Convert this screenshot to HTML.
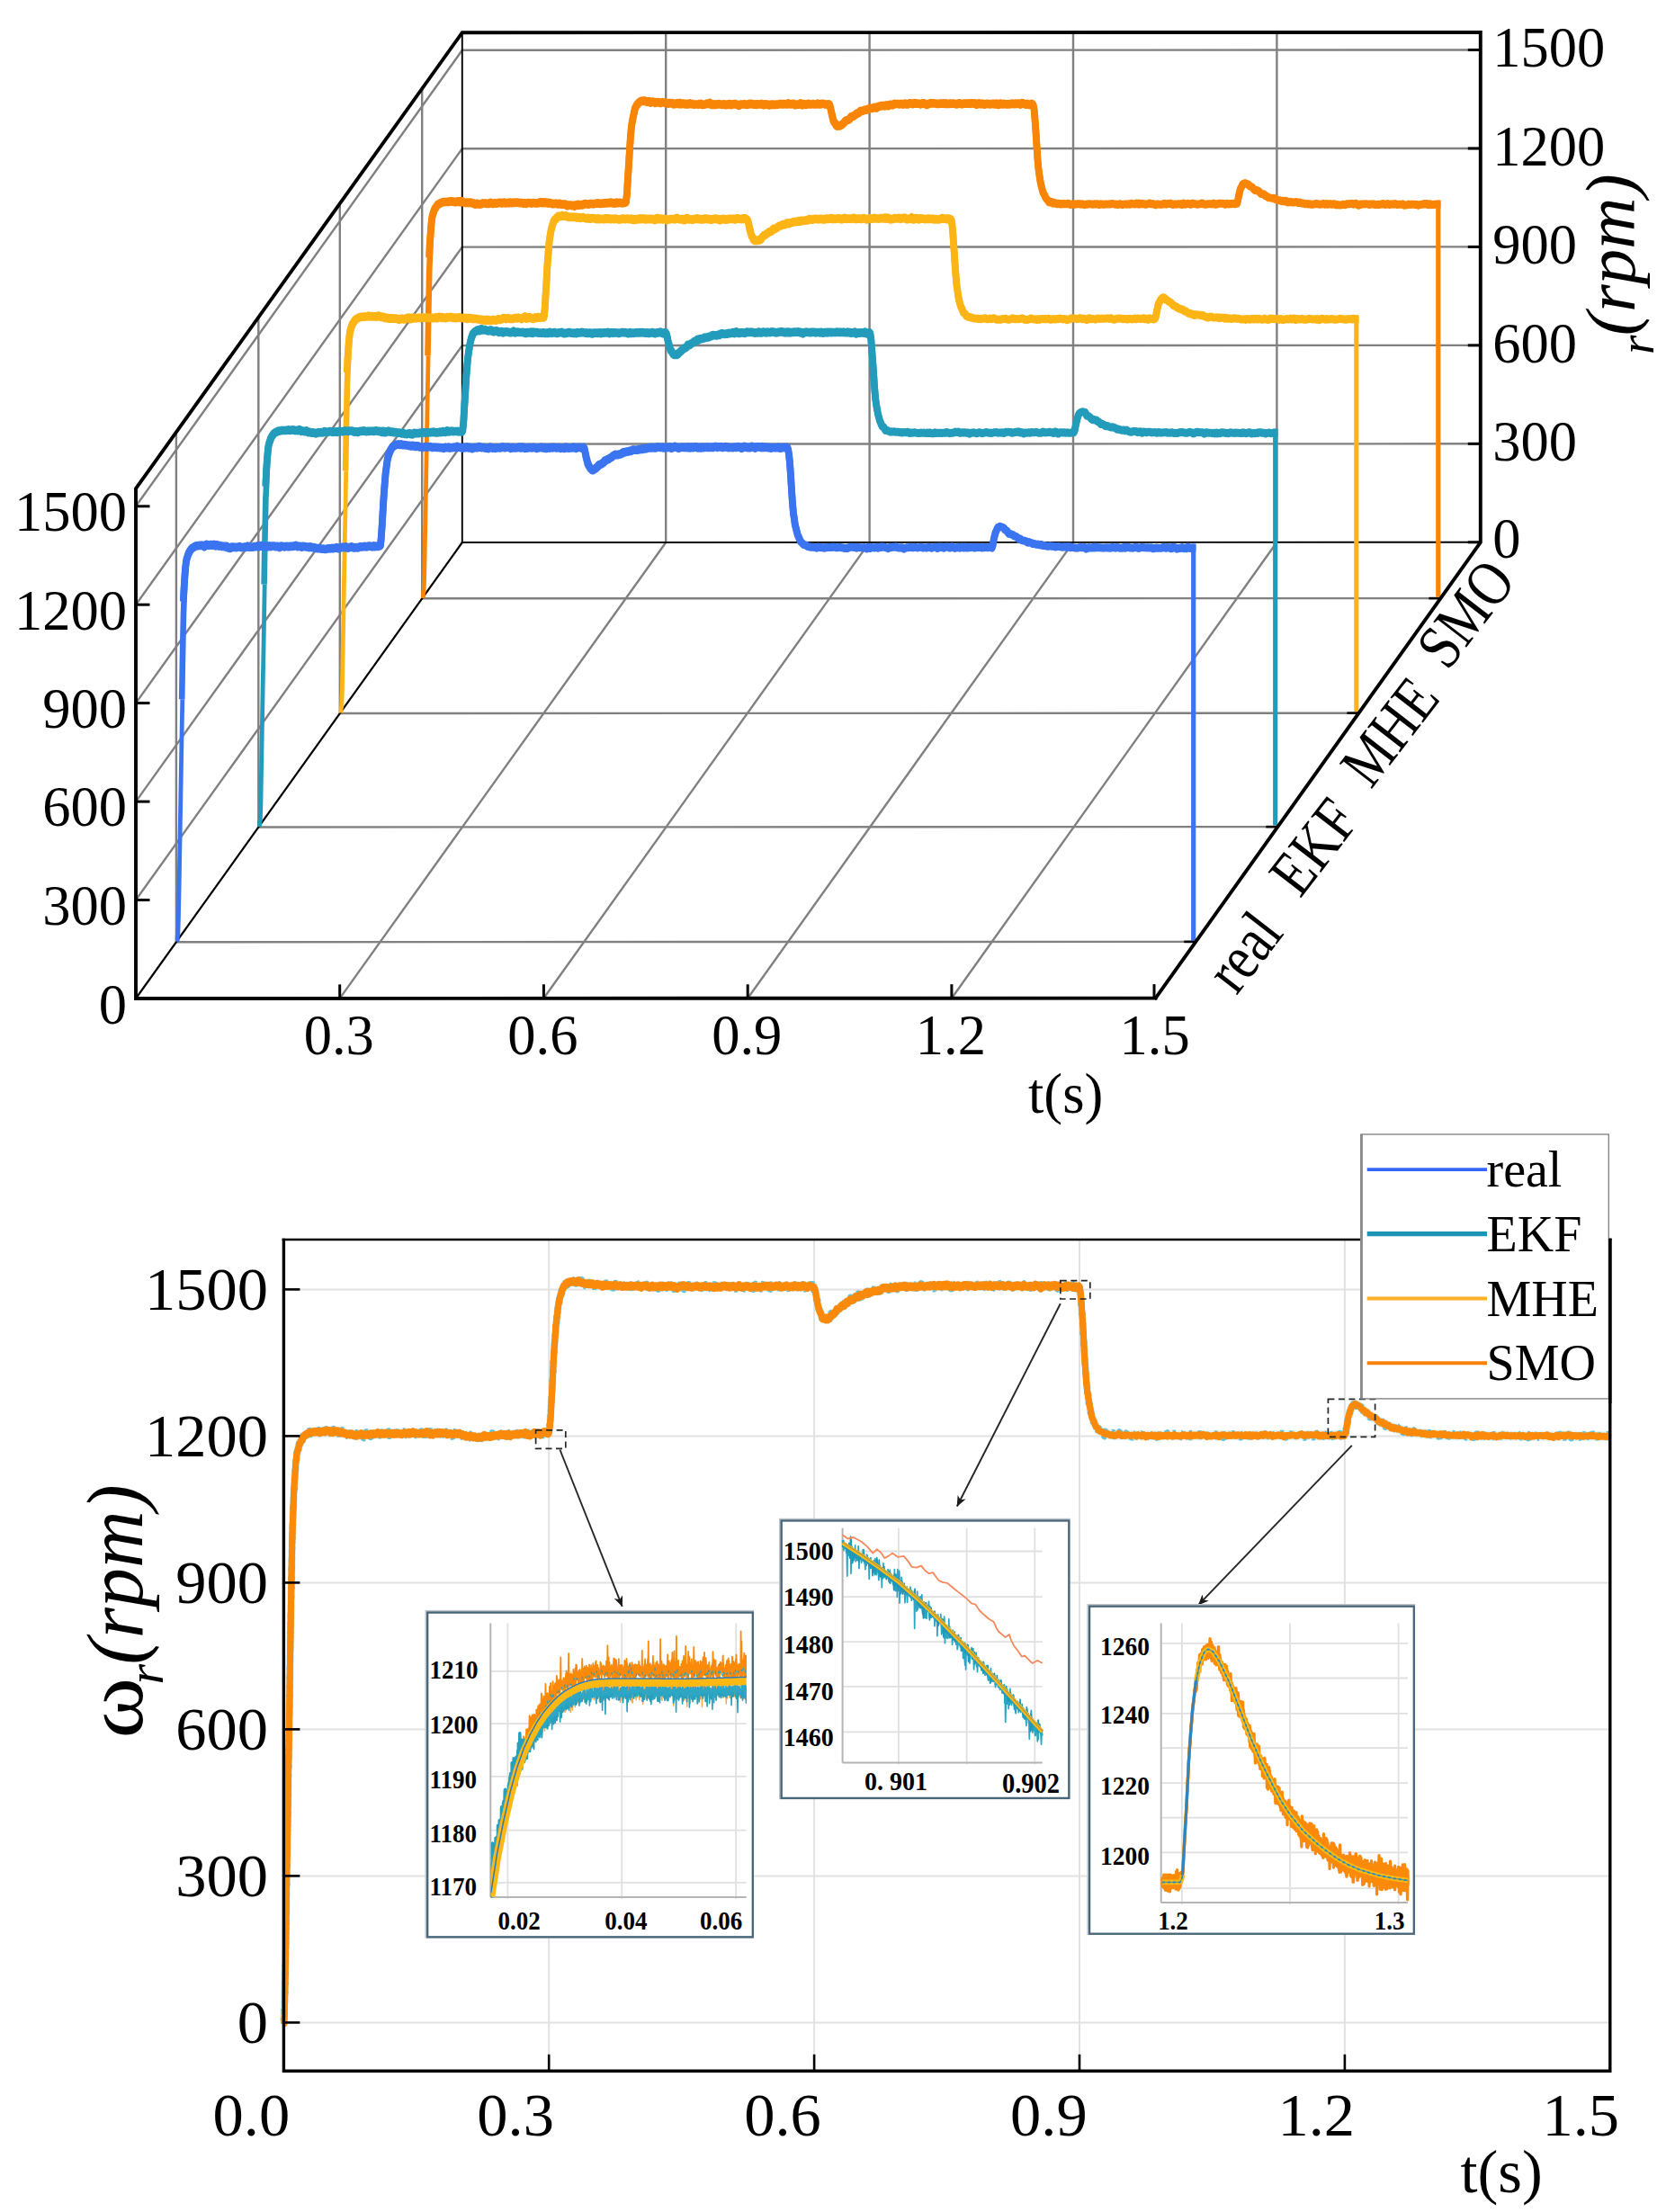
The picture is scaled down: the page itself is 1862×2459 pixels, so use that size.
<!DOCTYPE html>
<html lang="en">
<head>
<meta charset="utf-8">
<title>Speed estimation comparison: real, EKF, MHE, SMO</title>
<style>
html,body{margin:0;padding:0;background:#fff;}
body{width:1862px;height:2459px;overflow:hidden;}
svg{display:block;}
text{white-space:pre;}
</style>
</head>
<body>
<svg width="1862" height="2459" viewBox="0 0 1862 2459" font-family="'Liberation Serif', 'Times New Roman', serif" fill="#000" role="img" aria-label="Rotor speed: real, EKF, MHE and SMO estimates">
<rect width="1862" height="2459" fill="#fff"/>
<g id="top3d" stroke-linecap="butt">
<line x1="513.8" y1="493.6" x2="1645.8" y2="493.3" stroke="#808080" stroke-width="2.4" />
<line x1="513.8" y1="384.1" x2="1645.8" y2="383.9" stroke="#808080" stroke-width="2.4" />
<line x1="513.8" y1="274.6" x2="1645.8" y2="274.4" stroke="#808080" stroke-width="2.4" />
<line x1="513.8" y1="165.2" x2="1645.8" y2="165" stroke="#808080" stroke-width="2.4" />
<line x1="513.8" y1="55.8" x2="1645.8" y2="55.5" stroke="#808080" stroke-width="2.4" />
<line x1="740.2" y1="603" x2="740.2" y2="36.2" stroke="#808080" stroke-width="2.4" />
<line x1="966.6" y1="602.9" x2="966.6" y2="36.2" stroke="#808080" stroke-width="2.4" />
<line x1="1193" y1="602.9" x2="1193" y2="36.1" stroke="#808080" stroke-width="2.4" />
<line x1="1419.4" y1="602.8" x2="1419.4" y2="36.1" stroke="#808080" stroke-width="2.4" />
<line x1="151" y1="1000.5" x2="513.8" y2="493.6" stroke="#808080" stroke-width="2.4" />
<line x1="151" y1="891.1" x2="513.8" y2="384.1" stroke="#808080" stroke-width="2.4" />
<line x1="151" y1="781.6" x2="513.8" y2="274.6" stroke="#808080" stroke-width="2.4" />
<line x1="151" y1="672.2" x2="513.8" y2="165.2" stroke="#808080" stroke-width="2.4" />
<line x1="151" y1="562.8" x2="513.8" y2="55.8" stroke="#808080" stroke-width="2.4" />
<line x1="195.9" y1="1047.2" x2="195.9" y2="480.5" stroke="#808080" stroke-width="2.4" />
<line x1="287.3" y1="919.5" x2="287.3" y2="352.7" stroke="#808080" stroke-width="2.4" />
<line x1="377.8" y1="793" x2="377.8" y2="226.3" stroke="#808080" stroke-width="2.4" />
<line x1="469.2" y1="665.3" x2="469.2" y2="98.5" stroke="#808080" stroke-width="2.4" />
<line x1="195.9" y1="1047.2" x2="1329.3" y2="1046.9" stroke="#808080" stroke-width="2.4" />
<line x1="287.3" y1="919.5" x2="1420.3" y2="919.1" stroke="#808080" stroke-width="2.4" />
<line x1="377.8" y1="793" x2="1510.4" y2="792.7" stroke="#808080" stroke-width="2.4" />
<line x1="469.2" y1="665.3" x2="1601.4" y2="665.1" stroke="#808080" stroke-width="2.4" />
<line x1="377.7" y1="1109.9" x2="740.2" y2="603" stroke="#808080" stroke-width="2.4" />
<line x1="604.4" y1="1109.8" x2="966.6" y2="602.9" stroke="#808080" stroke-width="2.4" />
<line x1="831.2" y1="1109.8" x2="1193" y2="602.9" stroke="#808080" stroke-width="2.4" />
<line x1="1057.9" y1="1109.7" x2="1419.4" y2="602.8" stroke="#808080" stroke-width="2.4" />
<line x1="151" y1="1110" x2="513.8" y2="603" stroke="#000" stroke-width="2.2" />
<line x1="513.8" y1="603" x2="1645.8" y2="602.8" stroke="#000" stroke-width="1.9" />
<line x1="513.8" y1="603" x2="513.8" y2="36.2" stroke="#000" stroke-width="1.9" />
</g>
<g id="curves3d" stroke-linejoin="round" stroke-linecap="butt" fill="none">
<polyline points="470.5,664.9 470.5,658.9 471.1,658.4 471.7,638.7 472.4,604.3 473,570 473.6,535.6 474.2,501.2 474.8,467 475.4,431.8 476.1,395.4" fill="none" stroke="#f98506" stroke-width="4.8" />
<polyline points="475.5,395.4 476.1,359.2 476.7,327.7 477.3,299.5 477.9,285.6" fill="none" stroke="#f98506" stroke-width="6.6" />
<polyline points="477.2,284.7 477.8,270.9 478.5,261 479.1,252.9 479.7,246.1 480.3,241.2 480.9,238.2 481.5,236.3 482.2,234.3 482.8,232.5 483.4,231.3 484,230.2 484.6,229.5 485.2,228.6 485.8,227.8 486.5,226.8 487.1,226.3 487.7,226 488.3,225.6 488.9,225.3 489.5,225 490.2,224.6 490.8,224.3 491.4,224.1 492,223.9 492.6,223.7 493.2,223.7 493.9,223.7 494.5,223.6 495.1,223.5 495.7,223.5 496.3,223.6 496.9,223.6 497.6,223.5 498.2,223.2 498.8,223.2 499.4,223.4 500.4,222.9 501.3,222.7 502.3,223.2 503.2,223.2 504.2,223.2 505.2,223.4 506.1,223.7 507.1,223.5 508,223.1 509,222.8 510,222.9 510.9,223.8 511.9,223.7 512.8,222.7 513.8,222.9 514.7,223.9 515.7,224.2 516.7,224.4 517.6,224.3 518.6,224.5 519.5,224.1 520.5,224 521.5,224.6 522.4,224.2 523.4,224 524.3,224.6 525.3,225.1 526.3,225 527.2,225.3 528.2,226.2 529.1,226.1 530.1,225.4 531.1,225.6 532,226.1 533,226.2 533.9,226.1 534.9,226 535.8,225.4 536.8,224.9 537.8,225 538.7,225.2 539.7,225.2 540.6,225.3 541.6,225.5 542.6,225.6 543.5,225.6 544.5,224.6 545.4,224.3 546.4,225 547.4,225.4 548.3,225.5 549.3,225.2 550.2,224.8 551.2,225.3 552.2,225.2 553.1,225 554.1,224.6 555,224.4 556,224.3 556.9,224.4 557.9,225 558.9,224.7 559.8,224.3 560.8,224.2 561.7,224.8 562.7,224.9 563.7,224.5 564.6,224.7 565.6,224.8 566.5,224.2 567.5,224.1 568.5,224.8 569.4,224.5 570.4,224.2 571.3,224.4 572.3,224.3 573.3,224.1 574.2,224.2 575.2,224.1 576.1,224.1 577.1,224.6 578,224.7 579,224.7 580,224.5 580.9,224.7 581.9,225.3 582.8,225 583.8,224.8 584.8,225.4 585.7,224.9 586.7,224.6 587.6,224.5 588.6,224.5 589.6,224.9 590.5,225.1 591.5,225 592.4,224.7 593.4,224.8 594.4,224.8 595.3,225 596.3,224.9 597.2,225 598.2,225 599.2,224.3 600.1,223.9 601.1,223.6 602,224.4 603,224.7 603.9,223.9 604.9,223.9 605.9,224.6 606.8,224.8 607.8,224.1 608.7,224.7 609.7,225.2 610.7,224.5 611.6,224.9 612.6,225.1 613.5,225.3 614.5,225.8 615.5,225.8 616.4,225.5 617.4,225.4 618.3,225.2 619.3,225.6 620.3,226 621.2,225.5 622.2,225.3 623.1,226.1 624.1,226.2 625,226.1 626,226.3 627,226.2 627.9,226.1 628.9,226.3 629.8,227.3 630.8,227.8 631.8,227.2 632.7,227 633.7,227 634.6,227 635.6,227.7 636.6,227.5 637.5,227.4 638.5,228.2 639.4,227.2 640.4,227.1 641.4,227.4 642.3,226.4 643.3,226.5 644.2,227.1 645.2,226.7 646.1,226.6 647.1,227.1 648.1,226.7 649,226 650,225.7 650.9,225.6 651.9,225.8 652.9,226 653.8,226.2 654.8,226.2 655.7,225.7 656.7,225.6 657.7,225.6 658.6,225.6 659.6,225.9 660.5,225.7 661.5,225.5 662.5,225.3 663.4,225.2 664.4,224.8 665.3,224.9 666.3,225.4 667.2,225.6 668.2,225.5 669.2,225 670.1,225.1 671.1,225.3 672,224.8 673,224.8 674,225.1 674.9,224.8 675.9,224.6 676.8,224.7 677.8,224.3 678.8,224.1 679.7,224.5 680.7,225 681.6,224.8 682.6,224.6 683.6,225.2 684.5,224.8 685.5,224.2 686.4,224.3 687.4,224.7 688.3,224.5 689.3,224.3 690.3,224.7 691.2,224.9 692.2,224.9 693.1,224.5 694.1,224.5 695.1,224.3 696,223.5 697,213.5 697.9,198.6 698.9,183 699.9,166.6 700.8,153 701.8,141.5 702.7,134.9 703.7,129.6 704.7,125.5 705.6,120.6 706.6,118.3 707.5,116.6 708.5,115.2 709.4,114.2 710.4,113 711.4,112.3 712.3,111.7 713.3,111.2 714.2,111.5 715.2,111.3 716.2,110.9 717.1,111.3 718.1,111.8 719,112.4 720,112.1 721,111.7 721.9,112.7 722.9,113.2 723.8,112.7 724.8,112.1 725.8,112.2 726.7,112.4 727.7,112.8 728.6,113.5 729.6,113 730.5,112.5 731.5,112.9 732.5,112.7 733.4,113.1 734.4,113.6 735.3,113.1 736.3,112.6 737.3,112.9 738.2,113.1 739.2,113.3 740.1,113.8 741.1,113.7 742.1,114.3 743,114.2 744,113.5 744.9,113.7 745.9,114 746.9,113.6 747.8,114 748.8,114.9 749.7,114.7 750.7,114.7 751.6,114.1 752.6,113.7 753.6,114.4 754.5,114.7 755.5,113.6 756.4,113.7 757.4,114.8 758.4,114.5 759.3,114.1 760.3,114.2 761.2,114.6 762.2,115.1 763.2,114.7 764.1,114.4 765.1,115 766,114.7 767,114 768,114.4 768.9,114.8 769.9,114.7 770.8,114.8 771.8,115.3 772.7,115 773.7,115 774.7,115 775.6,115 776.6,115.2 777.5,114.8 778.5,114.3 779.5,114.5 780.4,115.5 781.4,115.4 782.3,115.3 783.3,115.3 784.3,114.9 785.2,114.5 786.2,114.1 787.1,114.6 788.1,114.3 789.1,113.5 790,114.3 791,115.6 791.9,115.6 792.9,114.9 793.8,115.5 794.8,115.6 795.8,114.9 796.7,115.2 797.7,115 798.6,114.5 799.6,114.8 800.6,115 801.5,115.1 802.5,115.4 803.4,115.2 804.4,114.8 805.4,115 806.3,115.8 807.3,115.5 808.2,115.3 809.2,115.5 810.2,114.5 811.1,114.5 812.1,115.4 813,115.8 814,115.1 814.9,114.7 815.9,114.9 816.9,114.6 817.8,114.8 818.8,115.1 819.7,115.4 820.7,116.2 821.7,116.4 822.6,115.5 823.6,115.1 824.5,115 825.5,115 826.5,115 827.4,114.8 828.4,115.1 829.3,115.4 830.3,115.6 831.3,115.2 832.2,114.7 833.2,114.9 834.1,114.4 835.1,114.3 836,114.7 837,114.8 838,115.2 838.9,115.3 839.9,114.9 840.8,115.5 841.8,115.1 842.8,114.8 843.7,115 844.7,115 845.6,114.9 846.6,114.4 847.6,114.9 848.5,115.7 849.5,115.5 850.4,114.8 851.4,114.9 852.4,115.3 853.3,115 854.3,115.7 855.2,116 856.2,115.6 857.1,115.3 858.1,115.1 859.1,115.5 860,115.4 861,115.5 861.9,115.4 862.9,115.1 863.9,115.3 864.8,115.3 865.8,114.9 866.7,114.7 867.7,114.8 868.7,114.6 869.6,115 870.6,115 871.5,114.6 872.5,114.7 873.5,114.9 874.4,115.1 875.4,114.8 876.3,114 877.3,114.5 878.2,115 879.2,114.8 880.2,114.7 881.1,114.5 882.1,114.4 883,115.4 884,115.8 885,115.3 885.9,115.2 886.9,115.1 887.8,115.2 888.8,114.8 889.8,114.1 890.7,115.1 891.7,115.8 892.6,114.8 893.6,114.7 894.6,114.9 895.5,115.3 896.5,115.5 897.4,114.9 898.4,114.3 899.3,114.5 900.3,115.1 901.3,115.1 902.2,114.9 903.2,114.7 904.1,114.6 905.1,115 906.1,115 907,115.1 908,114.9 908.9,114.2 909.9,114.8 910.9,115.1 911.8,115 912.8,114.8 913.7,114.3 914.7,114.6 915.7,114.6 916.6,114.7 917.6,115.1 918.5,115.2 919.5,115 920.4,115 921.4,114.9 922.4,116.2 923.3,119.5 924.3,124.2 925.2,128.2 926.2,132.5 927.2,134.7 928.1,135.8 929.1,137.6 930,138.8 931,139.2 932,138.7 932.9,139 933.9,138.9 934.8,138.2 935.8,137.8 936.8,136.7 937.7,136 938.7,135.2 939.6,133.7 940.6,132.9 941.5,132.7 942.5,132.6 943.5,132 944.4,131.4 945.4,129.9 946.3,128.7 947.3,128.9 948.3,128.5 949.2,127.8 950.2,127 951.1,126.6 952.1,125.5 953.1,124.8 954,125.1 955,124.2 955.9,123.1 956.9,122.3 957.9,122.4 958.8,122.4 959.8,121.9 960.7,121.5 961.7,121.1 962.6,121.2 963.6,121.3 964.6,120.6 965.5,120.3 966.5,119.7 967.4,119.2 968.4,119.6 969.4,119.5 970.3,119.2 971.3,118.9 972.2,118.3 973.2,118.4 974.2,119.1 975.1,118.3 976.1,117.6 977,117.5 978,117.1 979,117 979.9,116.6 980.9,116.7 981.8,116.8 982.8,116.6 983.7,116.9 984.7,116.4 985.7,115.8 986.6,116.4 987.6,116.8 988.5,116 989.5,115.3 990.5,115.5 991.4,115.7 992.4,115.9 993.3,115 994.3,114.3 995.3,114.7 996.2,114.5 997.2,114.5 998.1,114.5 999.1,114.9 1000.1,114.8 1001,114.6 1002,114.5 1002.9,114.7 1003.9,115.2 1004.8,114.8 1005.8,114.2 1006.8,114.3 1007.7,114.9 1008.7,115 1009.6,114.9 1010.6,114.3 1011.6,113.8 1012.5,114 1013.5,114.1 1014.4,114.7 1015.4,114.4 1016.4,113.7 1017.3,113.9 1018.3,114.3 1019.2,114.2 1020.2,114.2 1021.2,114.3 1022.1,114.4 1023.1,114.9 1024,114.6 1025,114.2 1025.9,113.8 1026.9,113.9 1027.9,114.5 1028.8,114.7 1029.8,115.3 1030.7,115.5 1031.7,114.8 1032.7,114.6 1033.6,114.4 1034.6,113.7 1035.5,114.1 1036.5,114 1037.5,113.8 1038.4,114 1039.4,114.1 1040.3,114.2 1041.3,114.4 1042.3,114.5 1043.2,114.3 1044.2,114.5 1045.1,114.2 1046.1,114.1 1047,114.3 1048,114.2 1049,113.9 1049.9,114.5 1050.9,114.6 1051.8,114 1052.8,114.4 1053.8,114.4 1054.7,114.6 1055.7,114.3 1056.6,114 1057.6,114.4 1058.6,114 1059.5,114 1060.5,114.2 1061.4,114.4 1062.4,114.8 1063.4,114.9 1064.3,114.8 1065.3,114 1066.2,113.9 1067.2,114 1068.1,114.3 1069.1,114.8 1070.1,114.7 1071,114.2 1072,114 1072.9,114.2 1073.9,114.1 1074.9,114.1 1075.8,114.3 1076.8,113.9 1077.7,114.1 1078.7,114.4 1079.7,113.8 1080.6,113.8 1081.6,114.1 1082.5,114.3 1083.5,113.9 1084.5,114.4 1085.4,115.3 1086.4,115 1087.3,114.2 1088.3,113.8 1089.2,114.3 1090.2,114.8 1091.2,114.7 1092.1,114.2 1093.1,114.6 1094,115 1095,115.2 1096,114.7 1096.9,114.3 1097.9,114.3 1098.8,114.5 1099.8,115 1100.8,115 1101.7,114.7 1102.7,114.8 1103.6,114.3 1104.6,114.5 1105.6,115 1106.5,114.5 1107.5,114.1 1108.4,114.6 1109.4,115.6 1110.3,115.4 1111.3,114.4 1112.3,114 1113.2,114.4 1114.2,114.9 1115.1,114.9 1116.1,114.4 1117.1,114.7 1118,114.9 1119,114.9 1119.9,114.8 1120.9,115 1121.9,114.9 1122.8,114.6 1123.8,114.8 1124.7,114.5 1125.7,114.1 1126.7,114.8 1127.6,114.8 1128.6,114.2 1129.5,114.6 1130.5,114.3 1131.5,114.2 1132.4,114.2 1133.4,114.5 1134.3,115.1 1135.3,114.6 1136.2,113.7 1137.2,113.9 1138.2,114.3 1139.1,114.6 1140.1,115.3 1141,115.2 1142,114.4 1143,114.9 1143.9,115.4 1144.9,115.5 1145.8,115.3 1146.8,114.5 1147.8,114.9 1148.7,116.4 1149.7,122.1 1150.6,133.3 1151.6,147.6 1152.6,162.9 1153.5,176.8 1154.5,187.6 1155.4,194.2 1156.4,200.5 1157.3,204.8 1158.3,209 1159.3,212.9 1160.2,214.6 1161.2,216.5 1162.1,218.7 1163.1,220.4 1164.1,221.3 1165,222.2 1166,224.1 1166.9,224.4 1167.9,224 1168.9,223.6 1169.8,224.2 1170.8,225.6 1171.7,225.1 1172.7,224.8 1173.7,225.6 1174.6,226 1175.6,226.3 1176.5,225.7 1177.5,225.6 1178.4,226.2 1179.4,226.4 1180.4,225.8 1181.3,225.8 1182.3,226.1 1183.2,225.9 1184.2,226 1185.2,226.3 1186.1,226.2 1187.1,225.5 1188,225.7 1189,226.5 1190,226.9 1190.9,226.6 1191.9,226.3 1192.8,226.4 1193.8,226.3 1194.8,226.7 1195.7,226.5 1196.7,226 1197.6,226.3 1198.6,226.3 1199.5,226 1200.5,226.1 1201.5,226.6 1202.4,226.3 1203.4,226.2 1204.3,226.7 1205.3,227.1 1206.3,226.8 1207.2,226.7 1208.2,226.8 1209.1,226.4 1210.1,226.2 1211.1,226.1 1212,226 1213,226.4 1213.9,226.6 1214.9,226.6 1215.9,226.3 1216.8,226.2 1217.8,226.5 1218.7,226.2 1219.7,226.1 1220.6,226.5 1221.6,226.9 1222.6,226.7 1223.5,226.2 1224.5,226.3 1225.4,226.5 1226.4,226.7 1227.4,226.7 1228.3,226.3 1229.3,226.3 1230.2,226.4 1231.2,226.5 1232.2,226.4 1233.1,226.2 1234.1,226.5 1235,226.3 1236,225.9 1237,225.9 1237.9,226.1 1238.9,226.4 1239.8,226.7 1240.8,226.4 1241.7,226.7 1242.7,227.1 1243.7,226.5 1244.6,226.2 1245.6,226.1 1246.5,226.6 1247.5,227 1248.5,226.9 1249.4,226.5 1250.4,226.3 1251.3,226.3 1252.3,226.6 1253.3,226.6 1254.2,226.1 1255.2,226.3 1256.1,226.6 1257.1,225.8 1258.1,225.6 1259,226.3 1260,226.2 1260.9,226.3 1261.9,226.5 1262.8,225.8 1263.8,225.3 1264.8,226.2 1265.7,226.6 1266.7,225.5 1267.6,225.9 1268.6,226.3 1269.6,225.7 1270.5,226 1271.5,226.3 1272.4,226.1 1273.4,226.8 1274.4,226.7 1275.3,226.2 1276.3,226 1277.2,225.4 1278.2,225.4 1279.2,226.1 1280.1,226.2 1281.1,226 1282,225.9 1283,226.4 1283.9,227 1284.9,227.2 1285.9,226.6 1286.8,226.1 1287.8,226.4 1288.7,226.6 1289.7,226.6 1290.7,226.7 1291.6,226.6 1292.6,226.5 1293.5,225.9 1294.5,225.7 1295.5,226.4 1296.4,226.6 1297.4,226 1298.3,225.7 1299.3,226 1300.3,225.9 1301.2,225.5 1302.2,226.1 1303.1,226.8 1304.1,226.9 1305,226.6 1306,226.2 1307,226.5 1307.9,226.6 1308.9,226.2 1309.8,226 1310.8,226.4 1311.8,226 1312.7,226.1 1313.7,226.9 1314.6,225.8 1315.6,225.5 1316.6,226.5 1317.5,226.6 1318.5,226.4 1319.4,226 1320.4,225.7 1321.4,225.8 1322.3,226.1 1323.3,226.7 1324.2,226.5 1325.2,225.7 1326.1,225.4 1327.1,225.9 1328.1,226 1329,226.1 1330,226.3 1330.9,226.6 1331.9,226.6 1332.9,226.2 1333.8,226.2 1334.8,226 1335.7,225.4 1336.7,225.3 1337.7,225.9 1338.6,226.5 1339.6,226.6 1340.5,226.7 1341.5,226.5 1342.5,226.1 1343.4,226 1344.4,226.1 1345.3,226.1 1346.3,226.2 1347.2,226.4 1348.2,225.9 1349.2,225.4 1350.1,226.1 1351.1,226.7 1352,226.6 1353,226.3 1354,225.8 1354.9,225.5 1355.9,225.6 1356.8,225.6 1357.8,225.5 1358.8,225.6 1359.7,225.8 1360.7,226.1 1361.6,226.7 1362.6,226.7 1363.6,225.7 1364.5,225.8 1365.5,226.5 1366.4,226.1 1367.4,225.9 1368.3,226.3 1369.3,225.9 1370.3,225.5 1371.2,225.8 1372.2,226.1 1373.1,226.2 1374.1,225.9 1375.1,225.8 1376,222.6 1377,217.5 1377.9,213.3 1378.9,209.3 1379.9,207.6 1380.8,205.4 1381.8,203.9 1382.7,203.5 1383.7,203.2 1384.7,203.2 1385.6,203.8 1386.6,204.1 1387.5,204.3 1388.5,205.5 1389.4,206.4 1390.4,206.6 1391.4,207.1 1392.3,207.9 1393.3,209 1394.2,210.2 1395.2,211 1396.2,211.2 1397.1,210.9 1398.1,211.2 1399,211.9 1400,212.5 1401,213.9 1401.9,214.9 1402.9,215 1403.8,215.1 1404.8,215 1405.8,216.1 1406.7,217.1 1407.7,217.2 1408.6,217.9 1409.6,218.7 1410.5,219.3 1411.5,219.1 1412.5,219.4 1413.4,219.6 1414.4,219.5 1415.3,219.9 1416.3,219.7 1417.3,220.4 1418.2,221.3 1419.2,221.2 1420.1,221.6 1421.1,222.1 1422.1,222.1 1423,222.1 1424,222.7 1424.9,223.1 1425.9,222.8 1426.9,222.5 1427.8,223.3 1428.8,223.5 1429.7,222.8 1430.7,223.6 1431.6,224.4 1432.6,224.1 1433.6,223.9 1434.5,224.1 1435.5,223.9 1436.4,224.2 1437.4,224.5 1438.4,224.4 1439.3,224.3 1440.3,224 1441.2,223.9 1442.2,224.5 1443.2,225.1 1444.1,224.5 1445.1,224.3 1446,224.9 1447,225.5 1448,225.5 1448.9,225.4 1449.9,225.8 1450.8,226.1 1451.8,226.1 1452.7,225.8 1453.7,226.1 1454.7,226.5 1455.6,226.1 1456.6,226.3 1457.5,226.7 1458.5,226.6 1459.5,226.7 1460.4,226.3 1461.4,226.2 1462.3,226.1 1463.3,225.6 1464.3,226.2 1465.2,226.4 1466.2,226.3 1467.1,226.6 1468.1,226.6 1469.1,226.4 1470,226.1 1471,225.7 1471.9,226.3 1472.9,226.7 1473.8,226.2 1474.8,225.8 1475.8,226.7 1476.7,226.7 1477.7,226 1478.6,226 1479.6,226 1480.6,226.8 1481.5,226.6 1482.5,226.1 1483.4,226.1 1484.4,227.1 1485.4,227 1486.3,226.8 1487.3,227.3 1488.2,227.1 1489.2,227.4 1490.2,227.4 1491.1,227.2 1492.1,227 1493,226.7 1494,226.6 1494.9,227.1 1495.9,227 1496.9,226.3 1497.8,226 1498.8,226.2 1499.7,226.3 1500.7,226.1 1501.7,225.9 1502.6,225.7 1503.6,226.1 1504.5,226.7 1505.5,226.2 1506.5,225.7 1507.4,225.6 1508.4,226.8 1509.3,227.3 1510.3,227.6 1511.3,227.3 1512.2,226.3 1513.2,226.5 1514.1,226.6 1515.1,226.2 1516,226.3 1517,226.4 1518,226.1 1518.9,226.3 1519.9,226.3 1520.8,226.4 1521.8,226.9 1522.8,226.7 1523.7,226.2 1524.7,226.4 1525.6,226.4 1526.6,226.1 1527.6,226.7 1528.5,227 1529.5,226.8 1530.4,227 1531.4,226.8 1532.4,226.7 1533.3,227 1534.3,226.6 1535.2,226.4 1536.2,226.4 1537.1,225.8 1538.1,226.1 1539.1,226.7 1540,226.9 1541,226.8 1541.9,226.1 1542.9,225.9 1543.9,226.4 1544.8,226.9 1545.8,226.3 1546.7,226.3 1547.7,226.4 1548.7,226.6 1549.6,226.5 1550.6,225.9 1551.5,226.2 1552.5,226.7 1553.5,226.9 1554.4,226.6 1555.4,226.5 1556.3,226.6 1557.3,226.7 1558.2,226.6 1559.2,226.2 1560.2,226.8 1561.1,227.6 1562.1,227.5 1563,227.3 1564,227.3 1565,227 1565.9,226.4 1566.9,226.7 1567.8,226.9 1568.8,226.8 1569.8,226.5 1570.7,226.5 1571.7,226.8 1572.6,226.7 1573.6,226.9 1574.6,226.7 1575.5,227.2 1576.5,227.7 1577.4,227.2 1578.4,226.8 1579.3,226.9 1580.3,226.6 1581.3,226.6 1582.2,226.5 1583.2,225.9 1584.1,226.5 1585.1,226.5 1586.1,225.9 1587,225.8 1588,227.1 1588.9,227 1589.9,226.3 1590.9,227.1 1591.8,226.9 1592.8,226.8 1593.7,227 1594.7,226.6 1595.7,226.8 1596.6,226.7 1597.6,226.7 1598.5,226.7 1599.5,226.7 1600.4,226.7 1601.4,226.7" fill="none" stroke="#f98506" stroke-width="7.7" />
<polyline points="477.2,286.6 477.8,272.8 478.5,262.9 479.1,254.8 479.7,248 480.3,243.1 480.9,240.1 481.5,238.2 482.2,236.2 482.8,234.4 483.4,233.2 484,232.1 484.6,231.4 485.2,230.5 485.8,229.7 486.5,228.7 487.1,228.2 487.7,227.9 488.3,227.5 488.9,227.2 489.5,226.9 490.2,226.5 490.8,226.2 491.4,226 492,225.8 492.6,225.6 493.2,225.6 493.9,225.6 494.5,225.5 495.1,225.4 495.7,225.4 496.3,225.5 496.9,225.5 497.6,225.4 498.2,225.1 498.8,225.1 499.4,225.3 500.4,224.8 501.3,224.6 502.3,225.1 503.2,225.1 504.2,225.1 505.2,225.3 506.1,225.6 507.1,225.4 508,225 509,224.7 510,224.8 510.9,225.7 511.9,225.6 512.8,224.6 513.8,224.8 514.7,225.8 515.7,226.1 516.7,226.3 517.6,226.2 518.6,226.4 519.5,226 520.5,225.9 521.5,226.5 522.4,226.1 523.4,225.9 524.3,226.5 525.3,227 526.3,226.9 527.2,227.2 528.2,228.1 529.1,228 530.1,227.3 531.1,227.5 532,228 533,228.1 533.9,228 534.9,227.9 535.8,227.3 536.8,226.8 537.8,226.9 538.7,227.1 539.7,227.1 540.6,227.2 541.6,227.4 542.6,227.5 543.5,227.5 544.5,226.5 545.4,226.2 546.4,226.9 547.4,227.3 548.3,227.4 549.3,227.1 550.2,226.7 551.2,227.2 552.2,227.1 553.1,226.9 554.1,226.5 555,226.3 556,226.2 556.9,226.3 557.9,226.9 558.9,226.6 559.8,226.2 560.8,226.1 561.7,226.7 562.7,226.8 563.7,226.4 564.6,226.6 565.6,226.7 566.5,226.1 567.5,226 568.5,226.7 569.4,226.4 570.4,226.1 571.3,226.3 572.3,226.2 573.3,226 574.2,226.1 575.2,226 576.1,226 577.1,226.5 578,226.6 579,226.6 580,226.4 580.9,226.6 581.9,227.2 582.8,226.9 583.8,226.7 584.8,227.3 585.7,226.8 586.7,226.5 587.6,226.4 588.6,226.4 589.6,226.8 590.5,227 591.5,226.9 592.4,226.6 593.4,226.7 594.4,226.7 595.3,226.9 596.3,226.8 597.2,226.9 598.2,226.9 599.2,226.2 600.1,225.8 601.1,225.5 602,226.3 603,226.6 603.9,225.8 604.9,225.8 605.9,226.5 606.8,226.7 607.8,226 608.7,226.6 609.7,227.1 610.7,226.4 611.6,226.8 612.6,227 613.5,227.2 614.5,227.7 615.5,227.7 616.4,227.4 617.4,227.3 618.3,227.1 619.3,227.5 620.3,227.9 621.2,227.4 622.2,227.2 623.1,228 624.1,228.1 625,228 626,228.2 627,228.1 627.9,228 628.9,228.2 629.8,229.2 630.8,229.7 631.8,229.1 632.7,228.9 633.7,228.9 634.6,228.9 635.6,229.6 636.6,229.4 637.5,229.3 638.5,230.1 639.4,229.1 640.4,229 641.4,229.3 642.3,228.3 643.3,228.4 644.2,229 645.2,228.6 646.1,228.5 647.1,229 648.1,228.6 649,227.9 650,227.6 650.9,227.5 651.9,227.7 652.9,227.9 653.8,228.1 654.8,228.1 655.7,227.6 656.7,227.5 657.7,227.5 658.6,227.5 659.6,227.8 660.5,227.6 661.5,227.4 662.5,227.2 663.4,227.1 664.4,226.7 665.3,226.8 666.3,227.3 667.2,227.5 668.2,227.4 669.2,226.9 670.1,227 671.1,227.2 672,226.7 673,226.7 674,227 674.9,226.7 675.9,226.5 676.8,226.6 677.8,226.2 678.8,226 679.7,226.4 680.7,226.9 681.6,226.7 682.6,226.5 683.6,227.1 684.5,226.7 685.5,226.1 686.4,226.2 687.4,226.6 688.3,226.4 689.3,226.2 690.3,226.6 691.2,226.8 692.2,226.8 693.1,226.4 694.1,226.4 695.1,226.2 696,225.4 697,215.4 697.9,200.5 698.9,184.9 699.9,168.5 700.8,154.9 701.8,143.4 702.7,136.8 703.7,131.5 704.7,127.4 705.6,122.5 706.6,120.2 707.5,118.5 708.5,117.1 709.4,116.1 710.4,114.9 711.4,114.2 712.3,113.6 713.3,113.1 714.2,113.4 715.2,113.2 716.2,112.8 717.1,113.2 718.1,113.7 719,114.3 720,114 721,113.6 721.9,114.6 722.9,115.1 723.8,114.6 724.8,114 725.8,114.1 726.7,114.3 727.7,114.7 728.6,115.4 729.6,114.9 730.5,114.4 731.5,114.8 732.5,114.6 733.4,115 734.4,115.5 735.3,115 736.3,114.5 737.3,114.8 738.2,115 739.2,115.2 740.1,115.7 741.1,115.6 742.1,116.2 743,116.1 744,115.4 744.9,115.6 745.9,115.9 746.9,115.5 747.8,115.9 748.8,116.8 749.7,116.6 750.7,116.6 751.6,116 752.6,115.6 753.6,116.3 754.5,116.6 755.5,115.5 756.4,115.6 757.4,116.7 758.4,116.4 759.3,116 760.3,116.1 761.2,116.5 762.2,117 763.2,116.6 764.1,116.3 765.1,116.9 766,116.6 767,115.9 768,116.3 768.9,116.7 769.9,116.6 770.8,116.7 771.8,117.2 772.7,116.9 773.7,116.9 774.7,116.9 775.6,116.9 776.6,117.1 777.5,116.7 778.5,116.2 779.5,116.4 780.4,117.4 781.4,117.3 782.3,117.2 783.3,117.2 784.3,116.8 785.2,116.4 786.2,116 787.1,116.5 788.1,116.2 789.1,115.4 790,116.2 791,117.5 791.9,117.5 792.9,116.8 793.8,117.4 794.8,117.5 795.8,116.8 796.7,117.1 797.7,116.9 798.6,116.4 799.6,116.7 800.6,116.9 801.5,117 802.5,117.3 803.4,117.1 804.4,116.7 805.4,116.9 806.3,117.7 807.3,117.4 808.2,117.2 809.2,117.4 810.2,116.4 811.1,116.4 812.1,117.3 813,117.7 814,117 814.9,116.6 815.9,116.8 816.9,116.5 817.8,116.7 818.8,117 819.7,117.3 820.7,118.1 821.7,118.3 822.6,117.4 823.6,117 824.5,116.9 825.5,116.9 826.5,116.9 827.4,116.7 828.4,117 829.3,117.3 830.3,117.5 831.3,117.1 832.2,116.6 833.2,116.8 834.1,116.3 835.1,116.2 836,116.6 837,116.7 838,117.1 838.9,117.2 839.9,116.8 840.8,117.4 841.8,117 842.8,116.7 843.7,116.9 844.7,116.9 845.6,116.8 846.6,116.3 847.6,116.8 848.5,117.6 849.5,117.4 850.4,116.7 851.4,116.8 852.4,117.2 853.3,116.9 854.3,117.6 855.2,117.9 856.2,117.5 857.1,117.2 858.1,117 859.1,117.4 860,117.3 861,117.4 861.9,117.3 862.9,117 863.9,117.2 864.8,117.2 865.8,116.8 866.7,116.6 867.7,116.7 868.7,116.5 869.6,116.9 870.6,116.9 871.5,116.5 872.5,116.6 873.5,116.8 874.4,117 875.4,116.7 876.3,115.9 877.3,116.4 878.2,116.9 879.2,116.7 880.2,116.6 881.1,116.4 882.1,116.3 883,117.3 884,117.7 885,117.2 885.9,117.1 886.9,117 887.8,117.1 888.8,116.7 889.8,116 890.7,117 891.7,117.7 892.6,116.7 893.6,116.6 894.6,116.8 895.5,117.2 896.5,117.4 897.4,116.8 898.4,116.2 899.3,116.4 900.3,117 901.3,117 902.2,116.8 903.2,116.6 904.1,116.5 905.1,116.9 906.1,116.9 907,117 908,116.8 908.9,116.1 909.9,116.7 910.9,117 911.8,116.9 912.8,116.7 913.7,116.2 914.7,116.5 915.7,116.5 916.6,116.6 917.6,117 918.5,117.1 919.5,116.9 920.4,116.9 921.4,116.8 922.4,118.1 923.3,121.4 924.3,126.1 925.2,130.1 926.2,134.4 927.2,136.6 928.1,137.7 929.1,139.5 930,140.7 931,141.1 932,140.6 932.9,140.9 933.9,140.8 934.8,140.1 935.8,139.7 936.8,138.6 937.7,137.9 938.7,137.1 939.6,135.6 940.6,134.8 941.5,134.6 942.5,134.5 943.5,133.9 944.4,133.3 945.4,131.8 946.3,130.6 947.3,130.8 948.3,130.4 949.2,129.7 950.2,128.9 951.1,128.5 952.1,127.4 953.1,126.7 954,127 955,126.1 955.9,125 956.9,124.2 957.9,124.3 958.8,124.3 959.8,123.8 960.7,123.4 961.7,123 962.6,123.1 963.6,123.2 964.6,122.5 965.5,122.2 966.5,121.6 967.4,121.1 968.4,121.5 969.4,121.4 970.3,121.1 971.3,120.8 972.2,120.2 973.2,120.3 974.2,121 975.1,120.2 976.1,119.5 977,119.4 978,119 979,118.9 979.9,118.5 980.9,118.6 981.8,118.7 982.8,118.5 983.7,118.8 984.7,118.3 985.7,117.7 986.6,118.3 987.6,118.7 988.5,117.9 989.5,117.2 990.5,117.4 991.4,117.6 992.4,117.8 993.3,116.9 994.3,116.2 995.3,116.6 996.2,116.4 997.2,116.4 998.1,116.4 999.1,116.8 1000.1,116.7 1001,116.5 1002,116.4 1002.9,116.6 1003.9,117.1 1004.8,116.7 1005.8,116.1 1006.8,116.2 1007.7,116.8 1008.7,116.9 1009.6,116.8 1010.6,116.2 1011.6,115.7 1012.5,115.9 1013.5,116 1014.4,116.6 1015.4,116.3 1016.4,115.6 1017.3,115.8 1018.3,116.2 1019.2,116.1 1020.2,116.1 1021.2,116.2 1022.1,116.3 1023.1,116.8 1024,116.5 1025,116.1 1025.9,115.7 1026.9,115.8 1027.9,116.4 1028.8,116.6 1029.8,117.2 1030.7,117.4 1031.7,116.7 1032.7,116.5 1033.6,116.3 1034.6,115.6 1035.5,116 1036.5,115.9 1037.5,115.7 1038.4,115.9 1039.4,116 1040.3,116.1 1041.3,116.3 1042.3,116.4 1043.2,116.2 1044.2,116.4 1045.1,116.1 1046.1,116 1047,116.2 1048,116.1 1049,115.8 1049.9,116.4 1050.9,116.5 1051.8,115.9 1052.8,116.3 1053.8,116.3 1054.7,116.5 1055.7,116.2 1056.6,115.9 1057.6,116.3 1058.6,115.9 1059.5,115.9 1060.5,116.1 1061.4,116.3 1062.4,116.7 1063.4,116.8 1064.3,116.7 1065.3,115.9 1066.2,115.8 1067.2,115.9 1068.1,116.2 1069.1,116.7 1070.1,116.6 1071,116.1 1072,115.9 1072.9,116.1 1073.9,116 1074.9,116 1075.8,116.2 1076.8,115.8 1077.7,116 1078.7,116.3 1079.7,115.7 1080.6,115.7 1081.6,116 1082.5,116.2 1083.5,115.8 1084.5,116.3 1085.4,117.2 1086.4,116.9 1087.3,116.1 1088.3,115.7 1089.2,116.2 1090.2,116.7 1091.2,116.6 1092.1,116.1 1093.1,116.5 1094,116.9 1095,117.1 1096,116.6 1096.9,116.2 1097.9,116.2 1098.8,116.4 1099.8,116.9 1100.8,116.9 1101.7,116.6 1102.7,116.7 1103.6,116.2 1104.6,116.4 1105.6,116.9 1106.5,116.4 1107.5,116 1108.4,116.5 1109.4,117.5 1110.3,117.3 1111.3,116.3 1112.3,115.9 1113.2,116.3 1114.2,116.8 1115.1,116.8 1116.1,116.3 1117.1,116.6 1118,116.8 1119,116.8 1119.9,116.7 1120.9,116.9 1121.9,116.8 1122.8,116.5 1123.8,116.7 1124.7,116.4 1125.7,116 1126.7,116.7 1127.6,116.7 1128.6,116.1 1129.5,116.5 1130.5,116.2 1131.5,116.1 1132.4,116.1 1133.4,116.4 1134.3,117 1135.3,116.5 1136.2,115.6 1137.2,115.8 1138.2,116.2 1139.1,116.5 1140.1,117.2 1141,117.1 1142,116.3 1143,116.8 1143.9,117.3 1144.9,117.4 1145.8,117.2 1146.8,116.4 1147.8,116.8 1148.7,117.6 1149.7,123.3 1150.6,134.5 1151.6,148.8 1152.6,164.1 1153.5,178 1154.5,188.8 1155.4,195.4 1156.4,201.7 1157.3,206 1158.3,210.2 1159.3,214.1 1160.2,215.8 1161.2,217.7 1162.1,219.9 1163.1,221.6 1164.1,222.5 1165,223.4 1166,225.3 1166.9,225.6 1167.9,225.2 1168.9,224.8 1169.8,225.4 1170.8,226.8 1171.7,226.3 1172.7,226 1173.7,226.8 1174.6,227.2 1175.6,227.5 1176.5,226.9 1177.5,226.8 1178.4,227.4 1179.4,227.6 1180.4,227 1181.3,227 1182.3,227.3 1183.2,227.1 1184.2,227.2 1185.2,227.5 1186.1,227.4 1187.1,226.7 1188,226.9 1189,227.7 1190,228.1 1190.9,227.8 1191.9,227.5 1192.8,227.6 1193.8,227.5 1194.8,227.9 1195.7,227.7 1196.7,227.2 1197.6,227.5 1198.6,227.5 1199.5,227.2 1200.5,227.3 1201.5,227.8 1202.4,227.5 1203.4,227.4 1204.3,227.9 1205.3,228.3 1206.3,228 1207.2,227.9 1208.2,228 1209.1,227.6 1210.1,227.4 1211.1,227.3 1212,227.2 1213,227.6 1213.9,227.8 1214.9,227.8 1215.9,227.5 1216.8,227.4 1217.8,227.7 1218.7,227.4 1219.7,227.3 1220.6,227.7 1221.6,228.1 1222.6,227.9 1223.5,227.4 1224.5,227.5 1225.4,227.7 1226.4,227.9 1227.4,227.9 1228.3,227.5 1229.3,227.5 1230.2,227.6 1231.2,227.7 1232.2,227.6 1233.1,227.4 1234.1,227.7 1235,227.5 1236,227.1 1237,227.1 1237.9,227.3 1238.9,227.6 1239.8,227.9 1240.8,227.6 1241.7,227.9 1242.7,228.3 1243.7,227.7 1244.6,227.4 1245.6,227.3 1246.5,227.8 1247.5,228.2 1248.5,228.1 1249.4,227.7 1250.4,227.5 1251.3,227.5 1252.3,227.8 1253.3,227.8 1254.2,227.3 1255.2,227.5 1256.1,227.8 1257.1,227 1258.1,226.8 1259,227.5 1260,227.4 1260.9,227.5 1261.9,227.7 1262.8,227 1263.8,226.5 1264.8,227.4 1265.7,227.8 1266.7,226.7 1267.6,227.1 1268.6,227.5 1269.6,226.9 1270.5,227.2 1271.5,227.5 1272.4,227.3 1273.4,228 1274.4,227.9 1275.3,227.4 1276.3,227.2 1277.2,226.6 1278.2,226.6 1279.2,227.3 1280.1,227.4 1281.1,227.2 1282,227.1 1283,227.6 1283.9,228.2 1284.9,228.4 1285.9,227.8 1286.8,227.3 1287.8,227.6 1288.7,227.8 1289.7,227.8 1290.7,227.9 1291.6,227.8 1292.6,227.7 1293.5,227.1 1294.5,226.9 1295.5,227.6 1296.4,227.8 1297.4,227.2 1298.3,226.9 1299.3,227.2 1300.3,227.1 1301.2,226.7 1302.2,227.3 1303.1,228 1304.1,228.1 1305,227.8 1306,227.4 1307,227.7 1307.9,227.8 1308.9,227.4 1309.8,227.2 1310.8,227.6 1311.8,227.2 1312.7,227.3 1313.7,228.1 1314.6,227 1315.6,226.7 1316.6,227.7 1317.5,227.8 1318.5,227.6 1319.4,227.2 1320.4,226.9 1321.4,227 1322.3,227.3 1323.3,227.9 1324.2,227.7 1325.2,226.9 1326.1,226.6 1327.1,227.1 1328.1,227.2 1329,227.3 1330,227.5 1330.9,227.8 1331.9,227.8 1332.9,227.4 1333.8,227.4 1334.8,227.2 1335.7,226.6 1336.7,226.5 1337.7,227.1 1338.6,227.7 1339.6,227.8 1340.5,227.9 1341.5,227.7 1342.5,227.3 1343.4,227.2 1344.4,227.3 1345.3,227.3 1346.3,227.4 1347.2,227.6 1348.2,227.1 1349.2,226.6 1350.1,227.3 1351.1,227.9 1352,227.8 1353,227.5 1354,227 1354.9,226.7 1355.9,226.8 1356.8,226.8 1357.8,226.7 1358.8,226.8 1359.7,227 1360.7,227.3 1361.6,227.9 1362.6,227.9 1363.6,226.9 1364.5,227 1365.5,227.7 1366.4,227.3 1367.4,227.1 1368.3,227.5 1369.3,227.1 1370.3,226.7 1371.2,227 1372.2,227.3 1373.1,227.4 1374.1,227.1 1375.1,227 1376,223.8 1377,218.7 1377.9,214.5 1378.9,210.5 1379.9,208.8 1380.8,206.6 1381.8,205.1 1382.7,204.7 1383.7,204.4 1384.7,204.4 1385.6,205 1386.6,205.3 1387.5,205.5 1388.5,206.7 1389.4,207.6 1390.4,207.8 1391.4,208.3 1392.3,209.1 1393.3,210.2 1394.2,211.4 1395.2,212.2 1396.2,212.4 1397.1,212.1 1398.1,212.4 1399,213.1 1400,213.7 1401,215.1 1401.9,216.1 1402.9,216.2 1403.8,216.3 1404.8,216.2 1405.8,217.3 1406.7,218.3 1407.7,218.4 1408.6,219.1 1409.6,219.9 1410.5,220.5 1411.5,220.3 1412.5,220.6 1413.4,220.8 1414.4,220.7 1415.3,221.1 1416.3,220.9 1417.3,221.6 1418.2,222.5 1419.2,222.4 1420.1,222.8 1421.1,223.3 1422.1,223.3 1423,223.3 1424,223.9 1424.9,224.3 1425.9,224 1426.9,223.7 1427.8,224.5 1428.8,224.7 1429.7,224 1430.7,224.8 1431.6,225.6 1432.6,225.3 1433.6,225.1 1434.5,225.3 1435.5,225.1 1436.4,225.4 1437.4,225.7 1438.4,225.6 1439.3,225.5 1440.3,225.2 1441.2,225.1 1442.2,225.7 1443.2,226.3 1444.1,225.7 1445.1,225.5 1446,226.1 1447,226.7 1448,226.7 1448.9,226.6 1449.9,227 1450.8,227.3 1451.8,227.3 1452.7,227 1453.7,227.3 1454.7,227.7 1455.6,227.3 1456.6,227.5 1457.5,227.9 1458.5,227.8 1459.5,227.9 1460.4,227.5 1461.4,227.4 1462.3,227.3 1463.3,226.8 1464.3,227.4 1465.2,227.6 1466.2,227.5 1467.1,227.8 1468.1,227.8 1469.1,227.6 1470,227.3 1471,226.9 1471.9,227.5 1472.9,227.9 1473.8,227.4 1474.8,227 1475.8,227.9 1476.7,227.9 1477.7,227.2 1478.6,227.2 1479.6,227.2 1480.6,228 1481.5,227.8 1482.5,227.3 1483.4,227.3 1484.4,228.3 1485.4,228.2 1486.3,228 1487.3,228.5 1488.2,228.3 1489.2,228.6 1490.2,228.6 1491.1,228.4 1492.1,228.2 1493,227.9 1494,227.8 1494.9,228.3 1495.9,228.2 1496.9,227.5 1497.8,227.2 1498.8,227.4 1499.7,227.5 1500.7,227.3 1501.7,227.1 1502.6,226.9 1503.6,227.3 1504.5,227.9 1505.5,227.4 1506.5,226.9 1507.4,226.8 1508.4,228 1509.3,228.5 1510.3,228.8 1511.3,228.5 1512.2,227.5 1513.2,227.7 1514.1,227.8 1515.1,227.4 1516,227.5 1517,227.6 1518,227.3 1518.9,227.5 1519.9,227.5 1520.8,227.6 1521.8,228.1 1522.8,227.9 1523.7,227.4 1524.7,227.6 1525.6,227.6 1526.6,227.3 1527.6,227.9 1528.5,228.2 1529.5,228 1530.4,228.2 1531.4,228 1532.4,227.9 1533.3,228.2 1534.3,227.8 1535.2,227.6 1536.2,227.6 1537.1,227 1538.1,227.3 1539.1,227.9 1540,228.1 1541,228 1541.9,227.3 1542.9,227.1 1543.9,227.6 1544.8,228.1 1545.8,227.5 1546.7,227.5 1547.7,227.6 1548.7,227.8 1549.6,227.7 1550.6,227.1 1551.5,227.4 1552.5,227.9 1553.5,228.1 1554.4,227.8 1555.4,227.7 1556.3,227.8 1557.3,227.9 1558.2,227.8 1559.2,227.4 1560.2,228 1561.1,228.8 1562.1,228.7 1563,228.5 1564,228.5 1565,228.2 1565.9,227.6 1566.9,227.9 1567.8,228.1 1568.8,228 1569.8,227.7 1570.7,227.7 1571.7,228 1572.6,227.9 1573.6,228.1 1574.6,227.9 1575.5,228.4 1576.5,228.9 1577.4,228.4 1578.4,228 1579.3,228.1 1580.3,227.8 1581.3,227.8 1582.2,227.7 1583.2,227.1 1584.1,227.7 1585.1,227.7 1586.1,227.1 1587,227 1588,228.3 1588.9,228.2 1589.9,227.5 1590.9,228.3 1591.8,228.1 1592.8,228 1593.7,228.2 1594.7,227.8 1595.7,228 1596.6,227.9 1597.6,227.9 1598.5,227.9 1599.5,227.9 1600.4,227.9 1601.4,227.9" fill="none" stroke="#f98506" stroke-width="7.7" />
<line x1="1598.8" y1="222.6" x2="1598.8" y2="663.6" stroke="#f98506" stroke-width="5.2" />
<polyline points="379.1,792.6 379.1,786.6 379.7,786.1 380.4,766.5 381,732.1 381.6,697.7 382.2,663.3 382.8,628.9 383.4,594.6 384.1,559.5 384.7,523.2" fill="none" stroke="#fdb515" stroke-width="4.8" />
<polyline points="384.1,523.2 384.7,486.8 385.3,455.4 385.9,427.3 386.5,413.4" fill="none" stroke="#fdb515" stroke-width="6.6" />
<polyline points="385.8,412.4 386.5,398.5 387.1,388.5 387.7,380.5 388.3,373.9 388.9,369 389.5,366 390.2,364 390.8,362.1 391.4,360.1 392,359.1 392.6,358.2 393.2,357.2 393.8,356.2 394.5,355.3 395.1,354.4 395.7,354 396.3,353.6 396.9,353.2 397.5,352.9 398.2,352.6 398.8,352.2 399.4,351.9 400,351.6 400.6,351.5 401.2,351.6 401.9,351.5 402.5,351.3 403.1,351.2 403.7,351.2 404.3,351.1 404.9,351.1 405.6,351.2 406.2,351.1 406.8,351 407.4,351.1 408,351.1 409,350.6 409.9,350.2 410.9,350.9 411.9,351.1 412.8,350.8 413.8,350.5 414.7,351.1 415.7,351.1 416.7,350.7 417.6,351.1 418.6,351.2 419.5,350.7 420.5,350.1 421.5,350.3 422.4,350.8 423.4,351.3 424.3,351.4 425.3,351.1 426.3,351.8 427.2,352.4 428.2,351.9 429.1,352.4 430.1,352.9 431.1,352.3 432,352.9 433,353.3 433.9,352.9 434.9,352.7 435.8,353.3 436.8,353.3 437.8,353 438.7,353.2 439.7,353 440.6,353.2 441.6,353.4 442.6,353.9 443.5,354.4 444.5,354.1 445.4,353.8 446.4,353.2 447.4,353.5 448.3,353.9 449.3,353.7 450.2,354 451.2,353.1 452.2,352.6 453.1,352.5 454.1,352.1 455,352.8 456,353.7 457,352.7 457.9,352.3 458.9,353.2 459.8,352.8 460.8,352.4 461.8,352.8 462.7,352.9 463.7,352.6 464.6,352.5 465.6,352.3 466.6,352.4 467.5,352.7 468.5,352.3 469.4,352.1 470.4,351.9 471.3,352.1 472.3,352.4 473.3,352.6 474.2,352.1 475.2,352.2 476.1,352.5 477.1,352.4 478.1,352.3 479,351.9 480,352.4 480.9,352.7 481.9,352.7 482.9,352.3 483.8,351.9 484.8,352.8 485.7,352.8 486.7,352 487.7,351.4 488.6,351.4 489.6,352 490.5,352.4 491.5,351.7 492.5,351.9 493.4,352.5 494.4,352.5 495.3,352.8 496.3,352.2 497.3,351.6 498.2,351.8 499.2,351.9 500.1,351.7 501.1,351.4 502.1,351.7 503,352.3 504,352.6 504.9,352.1 505.9,352 506.8,352.7 507.8,352.7 508.8,352.2 509.7,351.9 510.7,351.6 511.6,352.1 512.6,352.6 513.6,352.5 514.5,352.7 515.5,352.7 516.4,352.3 517.4,352.4 518.4,353 519.3,353.5 520.3,352.7 521.2,352.7 522.2,352.9 523.2,352.5 524.1,352.9 525.1,353.4 526,353.4 527,353.4 528,353.6 528.9,353.4 529.9,353.6 530.8,353.8 531.8,353.8 532.8,354.2 533.7,354.3 534.7,354.2 535.6,354.8 536.6,354.9 537.5,354.5 538.5,354.7 539.5,355.4 540.4,355.1 541.4,354.4 542.3,354.6 543.3,354.8 544.3,355.5 545.2,355.6 546.2,355.4 547.1,354.7 548.1,354.5 549.1,354.8 550,355 551,355.4 551.9,355 552.9,354.3 553.9,353.9 554.8,353.9 555.8,354.5 556.7,354.1 557.7,353.7 558.7,353.5 559.6,352.6 560.6,352.8 561.5,353 562.5,353.6 563.5,353.1 564.4,352.6 565.4,353 566.3,353.3 567.3,353.6 568.3,353.6 569.2,353.6 570.2,353.3 571.1,353.1 572.1,352.6 573,352.5 574,352.8 575,352.9 575.9,352.3 576.9,352.5 577.8,352.7 578.8,353 579.8,353.6 580.7,352.9 581.7,352.6 582.6,351.8 583.6,351 584.6,352.3 585.5,353.3 586.5,352.9 587.4,352 588.4,351.6 589.4,352 590.3,352.7 591.3,353 592.2,353.4 593.2,353.6 594.2,352.6 595.1,351.9 596.1,352.4 597,352.6 598,351.7 599,351.6 599.9,352.2 600.9,352 601.8,351.8 602.8,351.9 603.8,352.2 604.7,351.6 605.7,341.6 606.6,326.6 607.6,310 608.5,293.4 609.5,280.3 610.5,268.8 611.4,262.2 612.4,256.1 613.3,252.2 614.3,248.7 615.3,245.9 616.2,243.7 617.2,243.2 618.1,242.2 619.1,240.9 620.1,240 621,239.4 622,239.3 622.9,239.7 623.9,239.4 624.9,238.7 625.8,238.8 626.8,239.3 627.7,239.2 628.7,238.8 629.7,239.1 630.6,240.1 631.6,240.3 632.5,240.1 633.5,240.6 634.5,240.4 635.4,240.2 636.4,240.4 637.3,240.2 638.3,240.6 639.3,240.3 640.2,240.4 641.2,241.2 642.1,241 643.1,240.6 644,240.8 645,241.4 646,241.3 646.9,240.9 647.9,240.6 648.8,240.9 649.8,241.5 650.8,241.6 651.7,242.1 652.7,242 653.6,241.3 654.6,241.7 655.6,242.2 656.5,242.3 657.5,241.7 658.4,241.6 659.4,241.8 660.4,241.9 661.3,242.1 662.3,242.1 663.2,242.8 664.2,242.7 665.2,241.9 666.1,242.5 667.1,242.7 668,242.3 669,242.6 670,242.5 670.9,242.8 671.9,242.7 672.8,241.8 673.8,242.3 674.7,242.6 675.7,241.9 676.7,241.9 677.6,242.4 678.6,242.8 679.5,242.6 680.5,242.4 681.5,242.2 682.4,242.7 683.4,242.5 684.3,242.2 685.3,242.4 686.3,242.5 687.2,243 688.2,243 689.1,242.9 690.1,242.9 691.1,242.4 692,242 693,242.1 693.9,242.6 694.9,242.8 695.9,242.5 696.8,242 697.8,242.3 698.7,242.7 699.7,242.8 700.7,242.7 701.6,242.2 702.6,243.2 703.5,243.4 704.5,242.7 705.5,243.5 706.4,243.2 707.4,242.6 708.3,242.6 709.3,242.9 710.2,242.4 711.2,242 712.2,242.8 713.1,242.3 714.1,242.1 715,242.3 716,242.1 717,243 717.9,242.9 718.9,242.3 719.8,242.8 720.8,242.4 721.8,242.7 722.7,242.8 723.7,242.4 724.6,242.5 725.6,242.6 726.6,243.1 727.5,243.5 728.5,243.4 729.4,243 730.4,241.5 731.4,241.6 732.3,242.7 733.3,242.8 734.2,242.5 735.2,242.2 736.2,242.9 737.1,242.8 738.1,242.4 739,242.5 740,243.1 741,243.8 741.9,243 742.9,243.1 743.8,243.1 744.8,242.5 745.7,242.6 746.7,242.6 747.7,242.5 748.6,242.5 749.6,242.7 750.5,242.9 751.5,241.9 752.5,241.5 753.4,242.2 754.4,242.4 755.3,242.8 756.3,242.9 757.3,242.7 758.2,242.5 759.2,242.7 760.1,243.7 761.1,243.5 762.1,242.7 763,241.8 764,241.7 764.9,242.7 765.9,243 766.9,243 767.8,243 768.8,243 769.7,243.4 770.7,243 771.7,242.5 772.6,242.6 773.6,242.6 774.5,241.9 775.5,242 776.5,242.7 777.4,242.5 778.4,242.8 779.3,242.9 780.3,242.6 781.2,243.1 782.2,242.8 783.2,242.1 784.1,242.3 785.1,242.5 786,242.2 787,242.9 788,242.7 788.9,242.5 789.9,243.2 790.8,243.2 791.8,243 792.8,242.6 793.7,242.6 794.7,242.3 795.6,242 796.6,242.7 797.6,243 798.5,242.7 799.5,243.1 800.4,243.8 801.4,243.4 802.4,242.6 803.3,242.3 804.3,242.5 805.2,242.6 806.2,243.2 807.2,243.3 808.1,243.1 809.1,242.8 810,242.3 811,242.6 811.9,242.4 812.9,242.3 813.9,242.4 814.8,242.4 815.8,242.6 816.7,243.1 817.7,242.8 818.7,242 819.6,241.8 820.6,242.3 821.5,242.4 822.5,242.5 823.5,242.5 824.4,242.6 825.4,242.7 826.3,241.9 827.3,241.7 828.3,241.9 829.2,242.3 830.2,243 831.1,244 832.1,247.1 833.1,252.3 834,255.8 835,259.5 835.9,261.9 836.9,263.4 837.9,265.7 838.8,266.3 839.8,266.5 840.7,266.6 841.7,266.4 842.7,266.3 843.6,265.7 844.6,265.8 845.5,265.6 846.5,264 847.4,262.6 848.4,261.6 849.4,260.6 850.3,260.5 851.3,259.8 852.2,258.9 853.2,258.4 854.2,257.7 855.1,256.9 856.1,256.5 857,256.3 858,255.8 859,254.3 859.9,253.4 860.9,253.8 861.8,253.4 862.8,252.8 863.8,252.1 864.7,251.3 865.7,250.6 866.6,250.2 867.6,250.1 868.6,249.9 869.5,249 870.5,248.7 871.4,248.6 872.4,248.8 873.4,248.4 874.3,247.5 875.3,247 876.2,247.7 877.2,247.8 878.2,246.9 879.1,246.6 880.1,246.6 881,246.3 882,245.7 882.9,245.6 883.9,245.7 884.9,245.5 885.8,245.3 886.8,245 887.7,244.9 888.7,245.3 889.7,244.5 890.6,244.3 891.6,244.7 892.5,244.4 893.5,244.4 894.5,244.2 895.4,244 896.4,243.9 897.3,244.1 898.3,243.7 899.3,242.8 900.2,242.7 901.2,243 902.1,243.3 903.1,243.2 904.1,242.7 905,242.8 906,242.6 906.9,242.4 907.9,242.6 908.9,242.7 909.8,242.9 910.8,242.7 911.7,242.4 912.7,242.3 913.7,242.7 914.6,243 915.6,242.7 916.5,243 917.5,242.7 918.4,242 919.4,242.3 920.4,242.6 921.3,242.3 922.3,242.2 923.2,241.8 924.2,241.6 925.2,242.6 926.1,242.5 927.1,242.2 928,242.5 929,242.4 930,242.3 930.9,242.1 931.9,241.9 932.8,241.8 933.8,242.2 934.8,242.8 935.7,242.8 936.7,242.3 937.6,241.8 938.6,241.4 939.6,242 940.5,242.5 941.5,242.2 942.4,242.3 943.4,242.2 944.4,242.1 945.3,242.3 946.3,242.4 947.2,242.2 948.2,241.7 949.1,241.3 950.1,241.8 951.1,242.6 952,242.5 953,242.4 953.9,242 954.9,242 955.9,242.3 956.8,242.4 957.8,242.6 958.7,242.1 959.7,241.6 960.7,241.8 961.6,242.1 962.6,242.5 963.5,243 964.5,242.6 965.5,242.4 966.4,242.1 967.4,241.7 968.3,242.3 969.3,242.3 970.3,242.2 971.2,241.8 972.2,241.4 973.1,241.9 974.1,242 975.1,242.1 976,242 977,242.2 977.9,242 978.9,241.7 979.9,241.7 980.8,241.8 981.8,241.8 982.7,242 983.7,241.2 984.6,241.2 985.6,242.3 986.6,241.9 987.5,241.4 988.5,241.9 989.4,242.7 990.4,242.9 991.4,242.7 992.3,242.6 993.3,242.3 994.2,241.8 995.2,241.5 996.2,241.9 997.1,242.1 998.1,241.7 999,241.4 1000,241.7 1001,242.4 1001.9,242.1 1002.9,241.5 1003.8,241.8 1004.8,241.7 1005.8,241.1 1006.7,241.7 1007.7,242.7 1008.6,242.8 1009.6,242.5 1010.6,242.1 1011.5,242.5 1012.5,242 1013.4,240.8 1014.4,241.7 1015.4,243 1016.3,242.8 1017.3,242.2 1018.2,241.7 1019.2,241.6 1020.1,242.1 1021.1,242.9 1022.1,242.7 1023,241.9 1024,242.1 1024.9,242.3 1025.9,242.2 1026.9,242.3 1027.8,242.7 1028.8,242.5 1029.7,242.6 1030.7,242.3 1031.7,242.2 1032.6,242.5 1033.6,242.4 1034.5,242.5 1035.5,242.3 1036.5,242.3 1037.4,242.4 1038.4,243.1 1039.3,242.9 1040.3,242.6 1041.3,242.9 1042.2,243 1043.2,243.1 1044.1,242.9 1045.1,242.5 1046.1,242.5 1047,241.7 1048,241.6 1048.9,242.3 1049.9,242.2 1050.9,242.3 1051.8,242.7 1052.8,242.4 1053.7,241.9 1054.7,243 1055.6,243.4 1056.6,242.7 1057.6,243.9 1058.5,249.9 1059.5,261.2 1060.4,274.8 1061.4,289.8 1062.4,303.8 1063.3,314.9 1064.3,321.9 1065.2,328.6 1066.2,333.5 1067.2,337.4 1068.1,340.3 1069.1,342 1070,344.6 1071,347.2 1072,347.4 1072.9,348.3 1073.9,350.3 1074.8,351 1075.8,351.4 1076.8,352 1077.7,351.9 1078.7,351.9 1079.6,352.6 1080.6,352.8 1081.6,352.8 1082.5,353.4 1083.5,353.4 1084.4,353.6 1085.4,353.5 1086.3,353.4 1087.3,353.9 1088.3,354 1089.2,353.9 1090.2,354.1 1091.1,354 1092.1,353.6 1093.1,353.5 1094,353.4 1095,353.1 1095.9,353.5 1096.9,354.1 1097.9,354.3 1098.8,354.1 1099.8,353.6 1100.7,353.3 1101.7,353.9 1102.7,354.1 1103.6,353.4 1104.6,353 1105.5,353.3 1106.5,354 1107.5,354.5 1108.4,354.8 1109.4,354.7 1110.3,354.7 1111.3,354.7 1112.3,354.8 1113.2,354.6 1114.2,354 1115.1,353.8 1116.1,353.9 1117.1,353.8 1118,353.5 1119,354.2 1119.9,354.6 1120.9,354.5 1121.8,354.7 1122.8,354.3 1123.8,354.1 1124.7,353.7 1125.7,353.1 1126.6,353.4 1127.6,354 1128.6,354.2 1129.5,354.1 1130.5,353.9 1131.4,354.1 1132.4,354.1 1133.4,354 1134.3,353.8 1135.3,353.4 1136.2,353.2 1137.2,353.6 1138.2,354.5 1139.1,354.9 1140.1,354.6 1141,354.5 1142,354.9 1143,354.6 1143.9,354.4 1144.9,354.1 1145.8,353.3 1146.8,353.5 1147.8,354 1148.7,354.4 1149.7,354.4 1150.6,354.2 1151.6,354.5 1152.6,354.9 1153.5,354.1 1154.5,354 1155.4,354.8 1156.4,354.4 1157.3,353.9 1158.3,353.8 1159.3,353.9 1160.2,354.2 1161.2,354 1162.1,353.7 1163.1,354.4 1164.1,353.9 1165,353.6 1166,353.8 1166.9,354.1 1167.9,354.8 1168.9,354.5 1169.8,354.3 1170.8,353.9 1171.7,354.2 1172.7,354.4 1173.7,354.2 1174.6,354.1 1175.6,353.8 1176.5,354.1 1177.5,353.5 1178.5,353.3 1179.4,353.6 1180.4,354 1181.3,354.4 1182.3,354 1183.3,353.9 1184.2,354 1185.2,354.3 1186.1,355.1 1187.1,355 1188.1,354.4 1189,354.3 1190,353.8 1190.9,353 1191.9,353.1 1192.8,353.5 1193.8,353.4 1194.8,353.5 1195.7,353.5 1196.7,353.8 1197.6,354.1 1198.6,353.9 1199.6,353.3 1200.5,353.1 1201.5,353.2 1202.4,353.8 1203.4,354.2 1204.4,353.7 1205.3,353.6 1206.3,354.1 1207.2,354.8 1208.2,355 1209.2,354.6 1210.1,353.3 1211.1,353.1 1212,354.2 1213,354.1 1214,353.9 1214.9,353.9 1215.9,354 1216.8,354.4 1217.8,354.4 1218.8,353.8 1219.7,353.6 1220.7,353.4 1221.6,353.8 1222.6,353.9 1223.5,353.5 1224.5,353.8 1225.5,353.4 1226.4,353.5 1227.4,353.8 1228.3,353.6 1229.3,353.5 1230.3,353.4 1231.2,353.2 1232.2,353.3 1233.1,353.8 1234.1,353.3 1235.1,353.1 1236,353.8 1237,354 1237.9,354.7 1238.9,354.7 1239.9,354.1 1240.8,353.7 1241.8,353.7 1242.7,353.6 1243.7,353.3 1244.7,353.3 1245.6,353.6 1246.6,353.8 1247.5,353.9 1248.5,354.2 1249.5,353.7 1250.4,353.8 1251.4,354.2 1252.3,353.8 1253.3,354.4 1254.3,354.2 1255.2,353.7 1256.2,353.9 1257.1,353.9 1258.1,354.4 1259,354.2 1260,353.8 1261,353.5 1261.9,353.4 1262.9,354.2 1263.8,354 1264.8,353.3 1265.8,353.4 1266.7,353.5 1267.7,353.9 1268.6,353.9 1269.6,353.8 1270.6,353.1 1271.5,353.1 1272.5,354.2 1273.4,354.3 1274.4,353.5 1275.4,353.6 1276.3,354.7 1277.3,354.1 1278.2,353.3 1279.2,353.9 1280.2,353.8 1281.1,353.9 1282.1,354.4 1283,353.9 1284,353.7 1285,350.8 1285.9,345.6 1286.9,341.1 1287.8,337 1288.8,335.6 1289.8,333.3 1290.7,331.9 1291.7,331.1 1292.6,330.2 1293.6,330.2 1294.5,330.7 1295.5,332.2 1296.5,332.9 1297.4,332.9 1298.4,333.7 1299.3,334.8 1300.3,335 1301.3,335.7 1302.2,336.7 1303.2,337.4 1304.1,338.8 1305.1,339.6 1306.1,339.8 1307,340 1308,340.6 1308.9,341.6 1309.9,342.2 1310.9,342.4 1311.8,342.9 1312.8,343.4 1313.7,343.1 1314.7,343.4 1315.7,344.7 1316.6,345.3 1317.6,345.1 1318.5,345.4 1319.5,346.4 1320.5,347.2 1321.4,347.9 1322.4,347.9 1323.3,347.7 1324.3,348.3 1325.3,348.9 1326.2,348.7 1327.2,349.2 1328.1,349.9 1329.1,349.5 1330,349.1 1331,349.3 1332,349.4 1332.9,349.3 1333.9,349.6 1334.8,350.3 1335.8,350.1 1336.8,349.7 1337.7,350.2 1338.7,351 1339.6,351.3 1340.6,351.8 1341.6,352.2 1342.5,352.4 1343.5,352.5 1344.4,351.6 1345.4,351.6 1346.4,351.6 1347.3,351.7 1348.3,352.3 1349.2,352.5 1350.2,352.5 1351.2,352.5 1352.1,352.4 1353.1,352 1354,352.3 1355,353.1 1356,353.1 1356.9,352.4 1357.9,352.5 1358.8,352.8 1359.8,352.8 1360.7,352.6 1361.7,353.7 1362.7,353.7 1363.6,352.7 1364.6,353.1 1365.5,353.6 1366.5,353.7 1367.5,353.4 1368.4,353.9 1369.4,353.9 1370.3,353.4 1371.3,353.2 1372.3,353.1 1373.2,353.6 1374.2,353.8 1375.1,353.6 1376.1,353.6 1377.1,353.6 1378,353.9 1379,354.4 1379.9,354.4 1380.9,354.5 1381.9,354.5 1382.8,354 1383.8,354.3 1384.7,354.8 1385.7,354.1 1386.7,353.9 1387.6,354.1 1388.6,354.4 1389.5,354.7 1390.5,354.4 1391.5,353.7 1392.4,353.5 1393.4,354.5 1394.3,354.5 1395.3,353.7 1396.2,353.7 1397.2,354.3 1398.2,354.5 1399.1,353.6 1400.1,353.8 1401,354.3 1402,354.3 1403,354.8 1403.9,354.7 1404.9,354 1405.8,353.5 1406.8,354.1 1407.8,354.6 1408.7,354.6 1409.7,355 1410.6,354.6 1411.6,353.5 1412.6,353.3 1413.5,353.9 1414.5,353.9 1415.4,353.5 1416.4,354 1417.4,354.3 1418.3,354.3 1419.3,354.2 1420.2,353.6 1421.2,353.9 1422.2,354.8 1423.1,354.3 1424.1,353.9 1425,354.7 1426,355 1427,354.7 1427.9,354.6 1428.9,354.3 1429.8,353.8 1430.8,354 1431.7,354.2 1432.7,354.4 1433.7,354.1 1434.6,353.5 1435.6,353.9 1436.5,354.5 1437.5,353.8 1438.5,353.3 1439.4,354.2 1440.4,355 1441.3,354.8 1442.3,353.9 1443.3,354 1444.2,354.4 1445.2,354.4 1446.1,354.2 1447.1,353.6 1448.1,354.2 1449,354.7 1450,354.4 1450.9,354.5 1451.9,354.8 1452.9,354.3 1453.8,353.9 1454.8,354 1455.7,353.6 1456.7,353.9 1457.7,354.2 1458.6,354.2 1459.6,354.4 1460.5,354.2 1461.5,354.2 1462.5,354.7 1463.4,354.2 1464.4,353.8 1465.3,354.5 1466.3,355.2 1467.2,354.9 1468.2,354.1 1469.2,353.8 1470.1,353.6 1471.1,354 1472,354.2 1473,354.5 1474,354.7 1474.9,353.9 1475.9,354.2 1476.8,354.5 1477.8,354.3 1478.8,354.2 1479.7,353.8 1480.7,354.1 1481.6,354.2 1482.6,354.2 1483.6,354.8 1484.5,354.7 1485.5,354.5 1486.4,354.4 1487.4,354.3 1488.4,354.1 1489.3,353.6 1490.3,353.5 1491.2,354.2 1492.2,354.2 1493.2,354 1494.1,354.2 1495.1,354.7 1496,354.8 1497,354.5 1497.9,354 1498.9,353.9 1499.9,354.2 1500.8,354.1 1501.8,354.3 1502.7,354.4 1503.7,353.8 1504.7,353.5 1505.6,354.3 1506.6,354.3 1507.5,354.3 1508.5,354.3 1509.5,354.3 1510.4,354.3" fill="none" stroke="#fdb515" stroke-width="7.7" />
<polyline points="385.8,414.3 386.5,400.4 387.1,390.4 387.7,382.4 388.3,375.8 388.9,370.9 389.5,367.9 390.2,365.9 390.8,364 391.4,362 392,361 392.6,360.1 393.2,359.1 393.8,358.1 394.5,357.2 395.1,356.3 395.7,355.9 396.3,355.5 396.9,355.1 397.5,354.8 398.2,354.5 398.8,354.1 399.4,353.8 400,353.5 400.6,353.4 401.2,353.5 401.9,353.4 402.5,353.2 403.1,353.1 403.7,353.1 404.3,353 404.9,353 405.6,353.1 406.2,353 406.8,352.9 407.4,353 408,353 409,352.5 409.9,352.1 410.9,352.8 411.9,353 412.8,352.7 413.8,352.4 414.7,353 415.7,353 416.7,352.6 417.6,353 418.6,353.1 419.5,352.6 420.5,352 421.5,352.2 422.4,352.7 423.4,353.2 424.3,353.3 425.3,353 426.3,353.7 427.2,354.3 428.2,353.8 429.1,354.3 430.1,354.8 431.1,354.2 432,354.8 433,355.2 433.9,354.8 434.9,354.6 435.8,355.2 436.8,355.2 437.8,354.9 438.7,355.1 439.7,354.9 440.6,355.1 441.6,355.3 442.6,355.8 443.5,356.3 444.5,356 445.4,355.7 446.4,355.1 447.4,355.4 448.3,355.8 449.3,355.6 450.2,355.9 451.2,355 452.2,354.5 453.1,354.4 454.1,354 455,354.7 456,355.6 457,354.6 457.9,354.2 458.9,355.1 459.8,354.7 460.8,354.3 461.8,354.7 462.7,354.8 463.7,354.5 464.6,354.4 465.6,354.2 466.6,354.3 467.5,354.6 468.5,354.2 469.4,354 470.4,353.8 471.3,354 472.3,354.3 473.3,354.5 474.2,354 475.2,354.1 476.1,354.4 477.1,354.3 478.1,354.2 479,353.8 480,354.3 480.9,354.6 481.9,354.6 482.9,354.2 483.8,353.8 484.8,354.7 485.7,354.7 486.7,353.9 487.7,353.3 488.6,353.3 489.6,353.9 490.5,354.3 491.5,353.6 492.5,353.8 493.4,354.4 494.4,354.4 495.3,354.7 496.3,354.1 497.3,353.5 498.2,353.7 499.2,353.8 500.1,353.6 501.1,353.3 502.1,353.6 503,354.2 504,354.5 504.9,354 505.9,353.9 506.8,354.6 507.8,354.6 508.8,354.1 509.7,353.8 510.7,353.5 511.6,354 512.6,354.5 513.6,354.4 514.5,354.6 515.5,354.6 516.4,354.2 517.4,354.3 518.4,354.9 519.3,355.4 520.3,354.6 521.2,354.6 522.2,354.8 523.2,354.4 524.1,354.8 525.1,355.3 526,355.3 527,355.3 528,355.5 528.9,355.3 529.9,355.5 530.8,355.7 531.8,355.7 532.8,356.1 533.7,356.2 534.7,356.1 535.6,356.7 536.6,356.8 537.5,356.4 538.5,356.6 539.5,357.3 540.4,357 541.4,356.3 542.3,356.5 543.3,356.7 544.3,357.4 545.2,357.5 546.2,357.3 547.1,356.6 548.1,356.4 549.1,356.7 550,356.9 551,357.3 551.9,356.9 552.9,356.2 553.9,355.8 554.8,355.8 555.8,356.4 556.7,356 557.7,355.6 558.7,355.4 559.6,354.5 560.6,354.7 561.5,354.9 562.5,355.5 563.5,355 564.4,354.5 565.4,354.9 566.3,355.2 567.3,355.5 568.3,355.5 569.2,355.5 570.2,355.2 571.1,355 572.1,354.5 573,354.4 574,354.7 575,354.8 575.9,354.2 576.9,354.4 577.8,354.6 578.8,354.9 579.8,355.5 580.7,354.8 581.7,354.5 582.6,353.7 583.6,352.9 584.6,354.2 585.5,355.2 586.5,354.8 587.4,353.9 588.4,353.5 589.4,353.9 590.3,354.6 591.3,354.9 592.2,355.3 593.2,355.5 594.2,354.5 595.1,353.8 596.1,354.3 597,354.5 598,353.6 599,353.5 599.9,354.1 600.9,353.9 601.8,353.7 602.8,353.8 603.8,354.1 604.7,353.5 605.7,343.5 606.6,328.5 607.6,311.9 608.5,295.3 609.5,282.2 610.5,270.7 611.4,264.1 612.4,258 613.3,254.1 614.3,250.6 615.3,247.8 616.2,245.6 617.2,245.1 618.1,244.1 619.1,242.8 620.1,241.9 621,241.3 622,241.2 622.9,241.6 623.9,241.3 624.9,240.6 625.8,240.7 626.8,241.2 627.7,241.1 628.7,240.7 629.7,241 630.6,242 631.6,242.2 632.5,242 633.5,242.5 634.5,242.3 635.4,242.1 636.4,242.3 637.3,242.1 638.3,242.5 639.3,242.2 640.2,242.3 641.2,243.1 642.1,242.9 643.1,242.5 644,242.7 645,243.3 646,243.2 646.9,242.8 647.9,242.5 648.8,242.8 649.8,243.4 650.8,243.5 651.7,244 652.7,243.9 653.6,243.2 654.6,243.6 655.6,244.1 656.5,244.2 657.5,243.6 658.4,243.5 659.4,243.7 660.4,243.8 661.3,244 662.3,244 663.2,244.7 664.2,244.6 665.2,243.8 666.1,244.4 667.1,244.6 668,244.2 669,244.5 670,244.4 670.9,244.7 671.9,244.6 672.8,243.7 673.8,244.2 674.7,244.5 675.7,243.8 676.7,243.8 677.6,244.3 678.6,244.7 679.5,244.5 680.5,244.3 681.5,244.1 682.4,244.6 683.4,244.4 684.3,244.1 685.3,244.3 686.3,244.4 687.2,244.9 688.2,244.9 689.1,244.8 690.1,244.8 691.1,244.3 692,243.9 693,244 693.9,244.5 694.9,244.7 695.9,244.4 696.8,243.9 697.8,244.2 698.7,244.6 699.7,244.7 700.7,244.6 701.6,244.1 702.6,245.1 703.5,245.3 704.5,244.6 705.5,245.4 706.4,245.1 707.4,244.5 708.3,244.5 709.3,244.8 710.2,244.3 711.2,243.9 712.2,244.7 713.1,244.2 714.1,244 715,244.2 716,244 717,244.9 717.9,244.8 718.9,244.2 719.8,244.7 720.8,244.3 721.8,244.6 722.7,244.7 723.7,244.3 724.6,244.4 725.6,244.5 726.6,245 727.5,245.4 728.5,245.3 729.4,244.9 730.4,243.4 731.4,243.5 732.3,244.6 733.3,244.7 734.2,244.4 735.2,244.1 736.2,244.8 737.1,244.7 738.1,244.3 739,244.4 740,245 741,245.7 741.9,244.9 742.9,245 743.8,245 744.8,244.4 745.7,244.5 746.7,244.5 747.7,244.4 748.6,244.4 749.6,244.6 750.5,244.8 751.5,243.8 752.5,243.4 753.4,244.1 754.4,244.3 755.3,244.7 756.3,244.8 757.3,244.6 758.2,244.4 759.2,244.6 760.1,245.6 761.1,245.4 762.1,244.6 763,243.7 764,243.6 764.9,244.6 765.9,244.9 766.9,244.9 767.8,244.9 768.8,244.9 769.7,245.3 770.7,244.9 771.7,244.4 772.6,244.5 773.6,244.5 774.5,243.8 775.5,243.9 776.5,244.6 777.4,244.4 778.4,244.7 779.3,244.8 780.3,244.5 781.2,245 782.2,244.7 783.2,244 784.1,244.2 785.1,244.4 786,244.1 787,244.8 788,244.6 788.9,244.4 789.9,245.1 790.8,245.1 791.8,244.9 792.8,244.5 793.7,244.5 794.7,244.2 795.6,243.9 796.6,244.6 797.6,244.9 798.5,244.6 799.5,245 800.4,245.7 801.4,245.3 802.4,244.5 803.3,244.2 804.3,244.4 805.2,244.5 806.2,245.1 807.2,245.2 808.1,245 809.1,244.7 810,244.2 811,244.5 811.9,244.3 812.9,244.2 813.9,244.3 814.8,244.3 815.8,244.5 816.7,245 817.7,244.7 818.7,243.9 819.6,243.7 820.6,244.2 821.5,244.3 822.5,244.4 823.5,244.4 824.4,244.5 825.4,244.6 826.3,243.8 827.3,243.6 828.3,243.8 829.2,244.2 830.2,244.9 831.1,245.9 832.1,249 833.1,254.2 834,257.7 835,261.4 835.9,263.8 836.9,265.3 837.9,267.6 838.8,268.2 839.8,268.4 840.7,268.5 841.7,268.3 842.7,268.2 843.6,267.6 844.6,267.7 845.5,267.5 846.5,265.9 847.4,264.5 848.4,263.5 849.4,262.5 850.3,262.4 851.3,261.7 852.2,260.8 853.2,260.3 854.2,259.6 855.1,258.8 856.1,258.4 857,258.2 858,257.7 859,256.2 859.9,255.3 860.9,255.7 861.8,255.3 862.8,254.7 863.8,254 864.7,253.2 865.7,252.5 866.6,252.1 867.6,252 868.6,251.8 869.5,250.9 870.5,250.6 871.4,250.5 872.4,250.7 873.4,250.3 874.3,249.4 875.3,248.9 876.2,249.6 877.2,249.7 878.2,248.8 879.1,248.5 880.1,248.5 881,248.2 882,247.6 882.9,247.5 883.9,247.6 884.9,247.4 885.8,247.2 886.8,246.9 887.7,246.8 888.7,247.2 889.7,246.4 890.6,246.2 891.6,246.6 892.5,246.3 893.5,246.3 894.5,246.1 895.4,245.9 896.4,245.8 897.3,246 898.3,245.6 899.3,244.7 900.2,244.6 901.2,244.9 902.1,245.2 903.1,245.1 904.1,244.6 905,244.7 906,244.5 906.9,244.3 907.9,244.5 908.9,244.6 909.8,244.8 910.8,244.6 911.7,244.3 912.7,244.2 913.7,244.6 914.6,244.9 915.6,244.6 916.5,244.9 917.5,244.6 918.4,243.9 919.4,244.2 920.4,244.5 921.3,244.2 922.3,244.1 923.2,243.7 924.2,243.5 925.2,244.5 926.1,244.4 927.1,244.1 928,244.4 929,244.3 930,244.2 930.9,244 931.9,243.8 932.8,243.7 933.8,244.1 934.8,244.7 935.7,244.7 936.7,244.2 937.6,243.7 938.6,243.3 939.6,243.9 940.5,244.4 941.5,244.1 942.4,244.2 943.4,244.1 944.4,244 945.3,244.2 946.3,244.3 947.2,244.1 948.2,243.6 949.1,243.2 950.1,243.7 951.1,244.5 952,244.4 953,244.3 953.9,243.9 954.9,243.9 955.9,244.2 956.8,244.3 957.8,244.5 958.7,244 959.7,243.5 960.7,243.7 961.6,244 962.6,244.4 963.5,244.9 964.5,244.5 965.5,244.3 966.4,244 967.4,243.6 968.3,244.2 969.3,244.2 970.3,244.1 971.2,243.7 972.2,243.3 973.1,243.8 974.1,243.9 975.1,244 976,243.9 977,244.1 977.9,243.9 978.9,243.6 979.9,243.6 980.8,243.7 981.8,243.7 982.7,243.9 983.7,243.1 984.6,243.1 985.6,244.2 986.6,243.8 987.5,243.3 988.5,243.8 989.4,244.6 990.4,244.8 991.4,244.6 992.3,244.5 993.3,244.2 994.2,243.7 995.2,243.4 996.2,243.8 997.1,244 998.1,243.6 999,243.3 1000,243.6 1001,244.3 1001.9,244 1002.9,243.4 1003.8,243.7 1004.8,243.6 1005.8,243 1006.7,243.6 1007.7,244.6 1008.6,244.7 1009.6,244.4 1010.6,244 1011.5,244.4 1012.5,243.9 1013.4,242.7 1014.4,243.6 1015.4,244.9 1016.3,244.7 1017.3,244.1 1018.2,243.6 1019.2,243.5 1020.1,244 1021.1,244.8 1022.1,244.6 1023,243.8 1024,244 1024.9,244.2 1025.9,244.1 1026.9,244.2 1027.8,244.6 1028.8,244.4 1029.7,244.5 1030.7,244.2 1031.7,244.1 1032.6,244.4 1033.6,244.3 1034.5,244.4 1035.5,244.2 1036.5,244.2 1037.4,244.3 1038.4,245 1039.3,244.8 1040.3,244.5 1041.3,244.8 1042.2,244.9 1043.2,245 1044.1,244.8 1045.1,244.4 1046.1,244.4 1047,243.6 1048,243.5 1048.9,244.2 1049.9,244.1 1050.9,244.2 1051.8,244.6 1052.8,244.3 1053.7,243.8 1054.7,244.9 1055.6,245.3 1056.6,244.6 1057.6,245.1 1058.5,251.1 1059.5,262.4 1060.4,276 1061.4,291 1062.4,305 1063.3,316.1 1064.3,323.1 1065.2,329.8 1066.2,334.7 1067.2,338.6 1068.1,341.5 1069.1,343.2 1070,345.8 1071,348.4 1072,348.6 1072.9,349.5 1073.9,351.5 1074.8,352.2 1075.8,352.6 1076.8,353.2 1077.7,353.1 1078.7,353.1 1079.6,353.8 1080.6,354 1081.6,354 1082.5,354.6 1083.5,354.6 1084.4,354.8 1085.4,354.7 1086.3,354.6 1087.3,355.1 1088.3,355.2 1089.2,355.1 1090.2,355.3 1091.1,355.2 1092.1,354.8 1093.1,354.7 1094,354.6 1095,354.3 1095.9,354.7 1096.9,355.3 1097.9,355.5 1098.8,355.3 1099.8,354.8 1100.7,354.5 1101.7,355.1 1102.7,355.3 1103.6,354.6 1104.6,354.2 1105.5,354.5 1106.5,355.2 1107.5,355.7 1108.4,356 1109.4,355.9 1110.3,355.9 1111.3,355.9 1112.3,356 1113.2,355.8 1114.2,355.2 1115.1,355 1116.1,355.1 1117.1,355 1118,354.7 1119,355.4 1119.9,355.8 1120.9,355.7 1121.8,355.9 1122.8,355.5 1123.8,355.3 1124.7,354.9 1125.7,354.3 1126.6,354.6 1127.6,355.2 1128.6,355.4 1129.5,355.3 1130.5,355.1 1131.4,355.3 1132.4,355.3 1133.4,355.2 1134.3,355 1135.3,354.6 1136.2,354.4 1137.2,354.8 1138.2,355.7 1139.1,356.1 1140.1,355.8 1141,355.7 1142,356.1 1143,355.8 1143.9,355.6 1144.9,355.3 1145.8,354.5 1146.8,354.7 1147.8,355.2 1148.7,355.6 1149.7,355.6 1150.6,355.4 1151.6,355.7 1152.6,356.1 1153.5,355.3 1154.5,355.2 1155.4,356 1156.4,355.6 1157.3,355.1 1158.3,355 1159.3,355.1 1160.2,355.4 1161.2,355.2 1162.1,354.9 1163.1,355.6 1164.1,355.1 1165,354.8 1166,355 1166.9,355.3 1167.9,356 1168.9,355.7 1169.8,355.5 1170.8,355.1 1171.7,355.4 1172.7,355.6 1173.7,355.4 1174.6,355.3 1175.6,355 1176.5,355.3 1177.5,354.7 1178.5,354.5 1179.4,354.8 1180.4,355.2 1181.3,355.6 1182.3,355.2 1183.3,355.1 1184.2,355.2 1185.2,355.5 1186.1,356.3 1187.1,356.2 1188.1,355.6 1189,355.5 1190,355 1190.9,354.2 1191.9,354.3 1192.8,354.7 1193.8,354.6 1194.8,354.7 1195.7,354.7 1196.7,355 1197.6,355.3 1198.6,355.1 1199.6,354.5 1200.5,354.3 1201.5,354.4 1202.4,355 1203.4,355.4 1204.4,354.9 1205.3,354.8 1206.3,355.3 1207.2,356 1208.2,356.2 1209.2,355.8 1210.1,354.5 1211.1,354.3 1212,355.4 1213,355.3 1214,355.1 1214.9,355.1 1215.9,355.2 1216.8,355.6 1217.8,355.6 1218.8,355 1219.7,354.8 1220.7,354.6 1221.6,355 1222.6,355.1 1223.5,354.7 1224.5,355 1225.5,354.6 1226.4,354.7 1227.4,355 1228.3,354.8 1229.3,354.7 1230.3,354.6 1231.2,354.4 1232.2,354.5 1233.1,355 1234.1,354.5 1235.1,354.3 1236,355 1237,355.2 1237.9,355.9 1238.9,355.9 1239.9,355.3 1240.8,354.9 1241.8,354.9 1242.7,354.8 1243.7,354.5 1244.7,354.5 1245.6,354.8 1246.6,355 1247.5,355.1 1248.5,355.4 1249.5,354.9 1250.4,355 1251.4,355.4 1252.3,355 1253.3,355.6 1254.3,355.4 1255.2,354.9 1256.2,355.1 1257.1,355.1 1258.1,355.6 1259,355.4 1260,355 1261,354.7 1261.9,354.6 1262.9,355.4 1263.8,355.2 1264.8,354.5 1265.8,354.6 1266.7,354.7 1267.7,355.1 1268.6,355.1 1269.6,355 1270.6,354.3 1271.5,354.3 1272.5,355.4 1273.4,355.5 1274.4,354.7 1275.4,354.8 1276.3,355.9 1277.3,355.3 1278.2,354.5 1279.2,355.1 1280.2,355 1281.1,355.1 1282.1,355.6 1283,355.1 1284,354.9 1285,352 1285.9,346.8 1286.9,342.3 1287.8,338.2 1288.8,336.8 1289.8,334.5 1290.7,333.1 1291.7,332.3 1292.6,331.4 1293.6,331.4 1294.5,331.9 1295.5,333.4 1296.5,334.1 1297.4,334.1 1298.4,334.9 1299.3,336 1300.3,336.2 1301.3,336.9 1302.2,337.9 1303.2,338.6 1304.1,340 1305.1,340.8 1306.1,341 1307,341.2 1308,341.8 1308.9,342.8 1309.9,343.4 1310.9,343.6 1311.8,344.1 1312.8,344.6 1313.7,344.3 1314.7,344.6 1315.7,345.9 1316.6,346.5 1317.6,346.3 1318.5,346.6 1319.5,347.6 1320.5,348.4 1321.4,349.1 1322.4,349.1 1323.3,348.9 1324.3,349.5 1325.3,350.1 1326.2,349.9 1327.2,350.4 1328.1,351.1 1329.1,350.7 1330,350.3 1331,350.5 1332,350.6 1332.9,350.5 1333.9,350.8 1334.8,351.5 1335.8,351.3 1336.8,350.9 1337.7,351.4 1338.7,352.2 1339.6,352.5 1340.6,353 1341.6,353.4 1342.5,353.6 1343.5,353.7 1344.4,352.8 1345.4,352.8 1346.4,352.8 1347.3,352.9 1348.3,353.5 1349.2,353.7 1350.2,353.7 1351.2,353.7 1352.1,353.6 1353.1,353.2 1354,353.5 1355,354.3 1356,354.3 1356.9,353.6 1357.9,353.7 1358.8,354 1359.8,354 1360.7,353.8 1361.7,354.9 1362.7,354.9 1363.6,353.9 1364.6,354.3 1365.5,354.8 1366.5,354.9 1367.5,354.6 1368.4,355.1 1369.4,355.1 1370.3,354.6 1371.3,354.4 1372.3,354.3 1373.2,354.8 1374.2,355 1375.1,354.8 1376.1,354.8 1377.1,354.8 1378,355.1 1379,355.6 1379.9,355.6 1380.9,355.7 1381.9,355.7 1382.8,355.2 1383.8,355.5 1384.7,356 1385.7,355.3 1386.7,355.1 1387.6,355.3 1388.6,355.6 1389.5,355.9 1390.5,355.6 1391.5,354.9 1392.4,354.7 1393.4,355.7 1394.3,355.7 1395.3,354.9 1396.2,354.9 1397.2,355.5 1398.2,355.7 1399.1,354.8 1400.1,355 1401,355.5 1402,355.5 1403,356 1403.9,355.9 1404.9,355.2 1405.8,354.7 1406.8,355.3 1407.8,355.8 1408.7,355.8 1409.7,356.2 1410.6,355.8 1411.6,354.7 1412.6,354.5 1413.5,355.1 1414.5,355.1 1415.4,354.7 1416.4,355.2 1417.4,355.5 1418.3,355.5 1419.3,355.4 1420.2,354.8 1421.2,355.1 1422.2,356 1423.1,355.5 1424.1,355.1 1425,355.9 1426,356.2 1427,355.9 1427.9,355.8 1428.9,355.5 1429.8,355 1430.8,355.2 1431.7,355.4 1432.7,355.6 1433.7,355.3 1434.6,354.7 1435.6,355.1 1436.5,355.7 1437.5,355 1438.5,354.5 1439.4,355.4 1440.4,356.2 1441.3,356 1442.3,355.1 1443.3,355.2 1444.2,355.6 1445.2,355.6 1446.1,355.4 1447.1,354.8 1448.1,355.4 1449,355.9 1450,355.6 1450.9,355.7 1451.9,356 1452.9,355.5 1453.8,355.1 1454.8,355.2 1455.7,354.8 1456.7,355.1 1457.7,355.4 1458.6,355.4 1459.6,355.6 1460.5,355.4 1461.5,355.4 1462.5,355.9 1463.4,355.4 1464.4,355 1465.3,355.7 1466.3,356.4 1467.2,356.1 1468.2,355.3 1469.2,355 1470.1,354.8 1471.1,355.2 1472,355.4 1473,355.7 1474,355.9 1474.9,355.1 1475.9,355.4 1476.8,355.7 1477.8,355.5 1478.8,355.4 1479.7,355 1480.7,355.3 1481.6,355.4 1482.6,355.4 1483.6,356 1484.5,355.9 1485.5,355.7 1486.4,355.6 1487.4,355.5 1488.4,355.3 1489.3,354.8 1490.3,354.7 1491.2,355.4 1492.2,355.4 1493.2,355.2 1494.1,355.4 1495.1,355.9 1496,356 1497,355.7 1497.9,355.2 1498.9,355.1 1499.9,355.4 1500.8,355.3 1501.8,355.5 1502.7,355.6 1503.7,355 1504.7,354.7 1505.6,355.5 1506.6,355.5 1507.5,355.5 1508.5,355.5 1509.5,355.5 1510.4,355.5" fill="none" stroke="#fdb515" stroke-width="7.7" />
<line x1="1507.8" y1="350.2" x2="1507.8" y2="791.2" stroke="#fdb515" stroke-width="5.2" />
<polyline points="288.6,919.1 288.6,913.1 289.3,912.6 289.9,892.8 290.5,858.6 291.1,824.3 291.7,789.8 292.3,755.3 293,721 293.6,686 294.2,649.6" fill="none" stroke="#229cba" stroke-width="4.8" />
<polyline points="293.6,649.6 294.2,613.2 294.8,581.7 295.4,553.7 296.1,539.8" fill="none" stroke="#229cba" stroke-width="6.6" />
<polyline points="295.4,538.9 296,525 296.6,515 297.2,507 297.8,500.3 298.4,495.3 299.1,492.3 299.7,490.4 300.3,488.6 300.9,486.8 301.5,485.6 302.1,484.4 302.8,483.4 303.4,482.5 304,481.7 304.6,480.9 305.2,480.5 305.8,480.1 306.5,479.7 307.1,479.4 307.7,479.1 308.3,478.7 308.9,478.4 309.5,478.2 310.2,478.2 310.8,478.1 311.4,477.8 312,477.8 312.6,477.7 313.2,477.5 313.9,477.5 314.5,477.5 315.1,477.5 315.7,477.5 316.3,477.5 316.9,477.6 317.6,477.5 318.5,477.4 319.5,477.3 320.4,476.9 321.4,477.3 322.4,477.4 323.3,477.2 324.3,477.3 325.2,477 326.2,476.9 327.2,477.2 328.1,477.7 329.1,477.6 330,477.4 331,477.8 332,477.1 332.9,476.6 333.9,477.3 334.8,478.4 335.8,478.3 336.7,478.2 337.7,478.3 338.7,478.8 339.6,478.7 340.6,478 341.5,478.9 342.5,479.7 343.5,479.7 344.4,479.4 345.4,479.9 346.3,480.2 347.3,479.8 348.3,480.3 349.2,480.1 350.2,480.4 351.1,480.9 352.1,480.6 353.1,479.9 354,479.7 355,480.1 355.9,479.8 356.9,479.7 357.9,480 358.8,479.9 359.8,479.5 360.7,478.6 361.7,479 362.7,479.6 363.6,479.3 364.6,479.4 365.5,478.9 366.5,478.5 367.5,478.7 368.4,479 369.4,479.5 370.3,479.2 371.3,479 372.3,479.2 373.2,478.9 374.2,479.1 375.1,479.4 376.1,478.8 377.1,478.6 378,478.6 379,478.8 379.9,478.8 380.9,478.7 381.9,478.5 382.8,478 383.8,478.2 384.7,478 385.7,478 386.7,478.6 387.6,478.3 388.6,478 389.5,478.1 390.5,478.1 391.5,478.1 392.4,478.4 393.4,479.1 394.3,479.3 395.3,478.7 396.3,478.9 397.2,479.6 398.2,479.5 399.1,478.9 400.1,478.3 401.1,478.6 402,478.5 403,478.2 403.9,478.1 404.9,477.9 405.9,478.4 406.8,478.7 407.8,478.5 408.7,478.4 409.7,478.3 410.7,478.4 411.6,478.3 412.6,478.3 413.5,478.3 414.5,478.3 415.5,478.5 416.4,478.3 417.4,478 418.3,477.9 419.3,478 420.2,478.4 421.2,478.5 422.2,478.4 423.1,479 424.1,479.5 425,478.6 426,478.3 427,479.7 427.9,479.8 428.9,479 429.8,479.4 430.8,478.8 431.8,478.2 432.7,478.7 433.7,479.2 434.6,479.3 435.6,479.1 436.6,479.2 437.5,479.7 438.5,479.8 439.4,479.7 440.4,479.7 441.4,480.2 442.3,480.3 443.3,480.1 444.2,480.3 445.2,480.3 446.2,480.9 447.1,480.9 448.1,480.4 449,481.1 450,481.5 451,481.5 451.9,481.7 452.9,481.3 453.8,481.2 454.8,480.9 455.8,480.9 456.7,481.7 457.7,481.6 458.6,481.9 459.6,481.3 460.6,480.4 461.5,480.6 462.5,480.6 463.4,480.8 464.4,480.8 465.4,480.7 466.3,480.7 467.3,480.2 468.2,480.3 469.2,479.9 470.2,479.8 471.1,480 472.1,479.9 473,480.4 474,480.1 475,479.6 475.9,479.8 476.9,479.8 477.8,479.9 478.8,479.7 479.8,479.6 480.7,479.7 481.7,479.2 482.6,479.5 483.6,480 484.6,479.8 485.5,479.8 486.5,479.9 487.4,479.8 488.4,479.3 489.4,479.2 490.3,479.7 491.3,479.4 492.2,478.7 493.2,478.8 494.2,479.3 495.1,479.5 496.1,478.6 497,477.8 498,478.2 499,479 499.9,478.7 500.9,478.4 501.8,478.2 502.8,478.4 503.8,478.8 504.7,478.6 505.7,478.5 506.6,478.6 507.6,478.5 508.5,478.4 509.5,478.9 510.5,478.6 511.4,478.3 512.4,479 513.3,479.1 514.3,477.7 515.3,467.9 516.2,452.3 517.2,436.3 518.1,420.7 519.1,407.8 520.1,397.1 521,390.3 522,383.7 522.9,379.3 523.9,375.1 524.9,372.5 525.8,370.1 526.8,369 527.7,368.1 528.7,367.3 529.7,366.7 530.6,366 531.6,365.9 532.5,366.7 533.5,366.5 534.5,364.9 535.4,364.9 536.4,365.9 537.3,365.9 538.3,365.5 539.3,365.5 540.2,366 541.2,366.6 542.1,366.8 543.1,366.9 544.1,366.8 545,366.1 546,366 546.9,366.7 547.9,367.5 548.9,367.8 549.8,367.4 550.8,366.9 551.7,366.9 552.7,367.1 553.7,367.7 554.6,368.5 555.6,367.9 556.5,367.6 557.5,367.5 558.5,367.9 559.4,368.9 560.4,368.5 561.3,368.2 562.3,367.8 563.3,368 564.2,368.1 565.2,368.3 566.1,368.7 567.1,368.7 568.1,368.7 569,368.6 570,368.4 570.9,367.2 571.9,367.8 572.9,368.9 573.8,368.3 574.8,368.3 575.7,368.1 576.7,368.4 577.7,368.6 578.6,368.6 579.6,368.6 580.5,368.3 581.5,368.5 582.5,368.8 583.4,369.4 584.4,369.6 585.3,368.8 586.3,368.6 587.3,368.6 588.2,369 589.2,369 590.1,368.3 591.1,369.2 592.1,369.4 593,368.2 594,368.5 594.9,368.8 595.9,368.6 596.8,368.6 597.8,368.8 598.8,369.2 599.7,369.3 600.7,369.2 601.6,369.2 602.6,369.4 603.6,368.9 604.5,368.8 605.5,369.5 606.4,369.6 607.4,369.1 608.4,369.5 609.3,369.5 610.3,368.7 611.2,368.4 612.2,368.8 613.2,369.4 614.1,369.2 615.1,369 616,368.6 617,368.7 618,369.2 618.9,369.6 619.9,369.6 620.8,369.1 621.8,368.8 622.8,368.8 623.7,368.7 624.7,368.4 625.6,369 626.6,369.7 627.6,369.7 628.5,369.4 629.5,369.5 630.4,369.2 631.4,368.8 632.4,368.6 633.3,368.7 634.3,369.2 635.2,369.2 636.2,369.3 637.2,369.4 638.1,369.3 639.1,369 640,369.6 641,369.7 642,368.7 642.9,368.9 643.9,369.1 644.8,369 645.8,368.7 646.8,368.3 647.7,368.7 648.7,368.7 649.6,368.9 650.6,369.2 651.6,368.9 652.5,369.4 653.5,369.4 654.4,369.3 655.4,369.1 656.4,369.2 657.3,369.9 658.3,370.1 659.2,369.5 660.2,369.1 661.2,369 662.1,369.3 663.1,369.1 664,369.1 665,369.4 666,368.9 666.9,368.9 667.9,369.7 668.8,369.5 669.8,368.9 670.8,369.2 671.7,368.9 672.7,368.9 673.6,369.1 674.6,368.9 675.6,368.3 676.5,368.9 677.5,369.6 678.4,368.9 679.4,368.7 680.3,368.9 681.3,369.4 682.3,368.8 683.2,368.8 684.2,369.1 685.1,369 686.1,369 687.1,369.3 688,369.6 689,369.2 689.9,369 690.9,368.7 691.9,368.6 692.8,368.7 693.8,368.9 694.7,368.7 695.7,368.8 696.7,369.2 697.6,369.5 698.6,369.7 699.5,369 700.5,368.7 701.5,369.5 702.4,369.5 703.4,369 704.3,369.4 705.3,369.2 706.3,368.9 707.2,369 708.2,368.7 709.1,368.9 710.1,368.8 711.1,368.7 712,369.1 713,368.7 713.9,368.5 714.9,369 715.9,369.1 716.8,368.9 717.8,369.3 718.7,369.2 719.7,368.8 720.7,369.3 721.6,369.6 722.6,369 723.5,369.1 724.5,368.7 725.5,368.6 726.4,369.2 727.4,369.6 728.3,369.7 729.3,369.1 730.3,369 731.2,368.8 732.2,369 733.1,368.4 734.1,368.1 735.1,369 736,369.1 737,369.7 737.9,370 738.9,368.8 739.9,368.8 740.8,370.4 741.8,374 742.7,378.9 743.7,382.2 744.7,386 745.6,388.4 746.6,389.7 747.5,391.3 748.5,392.8 749.5,393.5 750.4,393.1 751.4,393.3 752.3,393.5 753.3,392.9 754.3,391.8 755.2,390.9 756.2,390.2 757.1,389.3 758.1,388.1 759.1,387.5 760,386.6 761,386 761.9,385.9 762.9,385.1 763.9,383.7 764.8,382.3 765.8,382.5 766.7,382.7 767.7,381.7 768.6,380.9 769.6,380.4 770.6,380 771.5,378.9 772.5,378.7 773.4,378.5 774.4,377.3 775.4,376.5 776.3,377.1 777.3,376.4 778.2,375.7 779.2,375.9 780.2,375.5 781.1,375.4 782.1,375.1 783,374.4 784,374.2 785,374.5 785.9,374.2 786.9,373.7 787.8,373.9 788.8,373.4 789.8,372.8 790.7,372.7 791.7,371.8 792.6,371.7 793.6,371.8 794.6,371.8 795.5,371.9 796.5,372.1 797.4,371.8 798.4,371.2 799.4,371.6 800.3,371.3 801.3,370 802.2,369.9 803.2,369.9 804.2,370 805.1,370.5 806.1,370.3 807,370 808,370.3 809,369.8 809.9,369.3 810.9,369.7 811.8,369.6 812.8,369.3 813.8,369.1 814.7,368.5 815.7,368.8 816.6,369.6 817.6,369 818.6,367.9 819.5,368.5 820.5,369.4 821.4,369.6 822.4,369.3 823.4,368.9 824.3,369 825.3,368.7 826.2,368.9 827.2,369.3 828.2,369.4 829.1,368.8 830.1,368.1 831,368.1 832,368.6 833,368.6 833.9,368.2 834.9,368.4 835.8,368.3 836.8,368.5 837.8,368.7 838.7,369.1 839.7,369.2 840.6,368.8 841.6,369 842.6,368.9 843.5,368.2 844.5,368.3 845.4,369 846.4,369.1 847.4,368.7 848.3,368 849.3,368 850.2,368.5 851.2,368.9 852.2,368.8 853.1,368.2 854.1,368.4 855,368.6 856,368.7 856.9,368.5 857.9,367.9 858.9,368 859.8,368.2 860.8,368.3 861.7,368.7 862.7,368.9 863.7,368.8 864.6,368.6 865.6,368.4 866.5,368.2 867.5,368 868.5,367.8 869.4,367.8 870.4,368.3 871.3,368.5 872.3,368.9 873.3,368.4 874.2,368.1 875.2,368.7 876.1,368 877.1,368.2 878.1,368.9 879,368.6 880,368.6 880.9,368.6 881.9,368.3 882.9,368.1 883.8,368.2 884.8,368.2 885.7,368.3 886.7,368.3 887.7,367.9 888.6,368.5 889.6,368.9 890.5,368.4 891.5,368.9 892.5,369.8 893.4,369.2 894.4,368.5 895.3,368.4 896.3,368.2 897.3,368.4 898.2,368.5 899.2,368.5 900.1,368.7 901.1,368.8 902.1,368.4 903,368.3 904,368.4 904.9,368.3 905.9,368.6 906.9,368.9 907.8,368.5 908.8,368.5 909.7,368.6 910.7,368.8 911.7,368.9 912.6,368.3 913.6,368.6 914.5,369.2 915.5,369 916.5,368.6 917.4,368.7 918.4,368.9 919.3,368.5 920.3,368.3 921.3,368.7 922.2,368.5 923.2,368.3 924.1,368.8 925.1,368.6 926.1,368.5 927,368.5 928,368.5 928.9,368.7 929.9,368.2 930.9,368.2 931.8,368.4 932.8,368.4 933.7,368.3 934.7,368.4 935.7,368.5 936.6,368.6 937.6,368.2 938.5,368.4 939.5,368.7 940.4,368.8 941.4,368.8 942.4,368.2 943.3,368.7 944.3,368.5 945.2,368.5 946.2,369.3 947.2,368.9 948.1,369 949.1,368.8 950,368.3 951,369.4 952,370 952.9,369.4 953.9,368.9 954.8,369 955.8,369.3 956.8,368.9 957.7,368.9 958.7,369 959.6,369.2 960.6,369 961.6,368.2 962.5,368.8 963.5,369.9 964.4,370 965.4,369.1 966.4,368.8 967.3,369.9 968.3,376.6 969.2,388.4 970.2,401.6 971.2,416 972.1,429.7 973.1,441.7 974,448.5 975,454.6 976,459.3 976.9,463.1 977.9,466.9 978.8,468.9 979.8,471.6 980.8,473.6 981.7,473.7 982.7,474.7 983.6,476.4 984.6,478 985.6,477.7 986.5,477.8 987.5,478.7 988.4,478.9 989.4,479.4 990.4,479.6 991.3,479.1 992.3,479.4 993.2,479.3 994.2,479.2 995.2,479.7 996.1,479.7 997.1,479.6 998,479.6 999,479.7 1000,480.2 1000.9,479.9 1001.9,479.8 1002.8,480.5 1003.8,480.2 1004.8,479.8 1005.7,480.1 1006.7,480.3 1007.6,480.1 1008.6,479.6 1009.6,479.8 1010.5,480.7 1011.5,480.9 1012.4,480.4 1013.4,480.3 1014.4,480.7 1015.3,480.4 1016.3,480 1017.2,480.3 1018.2,480.5 1019.2,480.6 1020.1,480.9 1021.1,480.8 1022,481 1023,480.8 1024,480.4 1024.9,480.7 1025.9,480.6 1026.8,480.4 1027.8,480.7 1028.7,480.9 1029.7,480.9 1030.7,480.3 1031.6,480.6 1032.6,481 1033.5,480.3 1034.5,480.6 1035.5,481.1 1036.4,481.1 1037.4,481.3 1038.3,480.7 1039.3,480.2 1040.3,480.9 1041.2,481 1042.2,480.6 1043.1,480.6 1044.1,480.9 1045.1,480.6 1046,480.6 1047,480.9 1047.9,480.6 1048.9,480.7 1049.9,480.7 1050.8,480.7 1051.8,479.9 1052.7,479.9 1053.7,480.4 1054.7,480.6 1055.6,481.1 1056.6,480.9 1057.5,480.6 1058.5,480.7 1059.5,480.6 1060.4,480.3 1061.4,479.7 1062.3,479.4 1063.3,479.9 1064.3,480 1065.2,479.5 1066.2,480.2 1067.1,480.8 1068.1,480.7 1069.1,480 1070,480 1071,480.6 1071.9,480.2 1072.9,480.2 1073.9,480.6 1074.8,480.4 1075.8,480.3 1076.7,481.1 1077.7,481.6 1078.7,480.7 1079.6,480.7 1080.6,480.6 1081.5,480.2 1082.5,480.4 1083.5,480.3 1084.4,480.9 1085.4,481.2 1086.3,481 1087.3,480.7 1088.3,480 1089.2,480.1 1090.2,480.5 1091.1,481 1092.1,481.1 1093.1,480.6 1094,480.6 1095,480.3 1095.9,479.9 1096.9,480.1 1097.9,480.3 1098.8,480.8 1099.8,480.7 1100.7,480.3 1101.7,480.9 1102.7,480.9 1103.6,480.5 1104.6,480.3 1105.5,480 1106.5,480.3 1107.5,479.9 1108.4,480 1109.4,480.6 1110.3,480.5 1111.3,480.4 1112.3,480.6 1113.2,480.5 1114.2,480.1 1115.1,480.4 1116.1,481 1117,480.5 1118,479.7 1119,479.8 1119.9,479.8 1120.9,479.6 1121.8,479.8 1122.8,479.8 1123.8,479.9 1124.7,480.7 1125.7,480.6 1126.6,480.4 1127.6,480.3 1128.6,479.7 1129.5,479.7 1130.5,479.9 1131.4,479.4 1132.4,479.2 1133.4,479.8 1134.3,480.5 1135.3,479.9 1136.2,480 1137.2,481.2 1138.2,481.4 1139.1,480.6 1140.1,480.4 1141,480.8 1142,480.4 1143,480 1143.9,480.3 1144.9,480.7 1145.8,480.2 1146.8,479.8 1147.8,480 1148.7,480.3 1149.7,480.3 1150.6,480.1 1151.6,479.7 1152.6,480.1 1153.5,480.3 1154.5,480.6 1155.4,480.7 1156.4,480.5 1157.4,480.7 1158.3,480.1 1159.3,479.4 1160.2,479.6 1161.2,480.3 1162.2,480.4 1163.1,480.2 1164.1,480.1 1165,480.1 1166,479.6 1167,479.7 1167.9,480.2 1168.9,480.2 1169.8,480.3 1170.8,481 1171.8,480.5 1172.7,479.4 1173.7,479.3 1174.6,480 1175.6,481.4 1176.6,481.5 1177.5,480.3 1178.5,480.2 1179.4,480 1180.4,480.1 1181.4,480.4 1182.3,480.1 1183.3,480.2 1184.2,480.6 1185.2,480.7 1186.2,480.2 1187.1,480.3 1188.1,480.8 1189,480.8 1190,480.7 1191,480.5 1191.9,479.9 1192.9,479.9 1193.8,480.1 1194.8,477.3 1195.8,472.2 1196.7,468.3 1197.7,464.3 1198.6,461.3 1199.6,459.3 1200.5,458.4 1201.5,457.9 1202.5,457.4 1203.4,457.1 1204.4,457.5 1205.3,457.8 1206.3,457.9 1207.3,459.7 1208.2,461.6 1209.2,461.6 1210.1,462 1211.1,462.8 1212.1,463.8 1213,464.9 1214,465.8 1214.9,466.1 1215.9,465.7 1216.9,466.2 1217.8,466.4 1218.8,466.3 1219.7,467.7 1220.7,468.3 1221.7,468.4 1222.6,469.5 1223.6,470.8 1224.5,470.5 1225.5,470.8 1226.5,471.5 1227.4,471.6 1228.4,472.8 1229.3,473.3 1230.3,472.9 1231.3,472.9 1232.2,473.4 1233.2,473.9 1234.1,474 1235.1,474.4 1236.1,474.3 1237,474.2 1238,474.5 1238.9,474.9 1239.9,475.3 1240.9,475.9 1241.8,476.7 1242.8,476.4 1243.7,476.5 1244.7,477.2 1245.7,477.2 1246.6,477.7 1247.6,477.8 1248.5,477.3 1249.5,477.6 1250.5,478.2 1251.4,477.7 1252.4,477.4 1253.3,478.3 1254.3,478.8 1255.3,479.1 1256.2,479.5 1257.2,479.8 1258.1,479.6 1259.1,479.1 1260.1,478.7 1261,478.9 1262,478.9 1262.9,478.8 1263.9,479.5 1264.9,480 1265.8,479.6 1266.8,479.2 1267.7,479 1268.7,479.7 1269.7,480.6 1270.6,479.7 1271.6,479.3 1272.5,479.6 1273.5,479.6 1274.5,480.3 1275.4,480 1276.4,479.5 1277.3,479.5 1278.3,479.5 1279.3,480.2 1280.2,480.4 1281.2,479.9 1282.1,480.1 1283.1,480.3 1284.1,479.8 1285,480.3 1286,480.7 1286.9,480.3 1287.9,479.9 1288.8,480 1289.8,480.6 1290.8,480.4 1291.7,480.4 1292.7,480.4 1293.6,480.2 1294.6,480.3 1295.6,480.2 1296.5,479.8 1297.5,480.5 1298.4,480.7 1299.4,480.4 1300.4,480.6 1301.3,480.6 1302.3,480.2 1303.2,480.2 1304.2,480.7 1305.2,481 1306.1,481 1307.1,480.7 1308,480.9 1309,481 1310,480.6 1310.9,480.1 1311.9,480.3 1312.8,480.1 1313.8,479.7 1314.8,480.1 1315.7,480.2 1316.7,480.4 1317.6,480.8 1318.6,480.8 1319.6,480.6 1320.5,480.5 1321.5,480.1 1322.4,479.6 1323.4,479.9 1324.4,480.2 1325.3,480.5 1326.3,481.4 1327.2,481.2 1328.2,480.6 1329.2,480.1 1330.1,479.5 1331.1,479.8 1332,480.1 1333,479.9 1334,480.2 1334.9,480.3 1335.9,480.3 1336.8,480 1337.8,480.5 1338.8,481.6 1339.7,481.2 1340.7,480.3 1341.6,480 1342.6,480.5 1343.6,480.6 1344.5,480.6 1345.5,480.6 1346.4,480.6 1347.4,481.1 1348.4,480.7 1349.3,480.7 1350.3,481.4 1351.2,480.8 1352.2,480.4 1353.2,481.3 1354.1,481 1355.1,480.6 1356,481.1 1357,480.8 1358,480.1 1358.9,480 1359.9,480.4 1360.8,480.4 1361.8,480.5 1362.8,480.9 1363.7,481 1364.7,480.8 1365.6,481.1 1366.6,480.8 1367.6,480.2 1368.5,480.2 1369.5,480.6 1370.4,480.5 1371.4,480.8 1372.4,480.9 1373.3,480.4 1374.3,480.5 1375.2,480.7 1376.2,480.7 1377.1,480.8 1378.1,480.9 1379.1,480.5 1380,481 1381,480.9 1381.9,480.2 1382.9,480.5 1383.9,480.9 1384.8,481.1 1385.8,481 1386.7,480.6 1387.7,480.3 1388.7,480.1 1389.6,480.3 1390.6,481.2 1391.5,481.5 1392.5,481.1 1393.5,480.7 1394.4,481 1395.4,481.2 1396.3,480.7 1397.3,480.8 1398.3,480.9 1399.2,480.1 1400.2,480 1401.1,480.1 1402.1,480.1 1403.1,480.8 1404,480.7 1405,480.7 1405.9,480.8 1406.9,481.4 1407.9,481.3 1408.8,480.8 1409.8,480.6 1410.7,480.4 1411.7,480.8 1412.7,481.1 1413.6,481 1414.6,480.8 1415.5,480.7 1416.5,480.7 1417.5,480.7 1418.4,480.7 1419.4,480.7 1420.3,480.7" fill="none" stroke="#229cba" stroke-width="7.7" />
<polyline points="295.4,540.8 296,526.9 296.6,516.9 297.2,508.9 297.8,502.2 298.4,497.2 299.1,494.2 299.7,492.3 300.3,490.5 300.9,488.7 301.5,487.5 302.1,486.3 302.8,485.3 303.4,484.4 304,483.6 304.6,482.8 305.2,482.4 305.8,482 306.5,481.6 307.1,481.3 307.7,481 308.3,480.6 308.9,480.3 309.5,480.1 310.2,480.1 310.8,480 311.4,479.7 312,479.7 312.6,479.6 313.2,479.4 313.9,479.4 314.5,479.4 315.1,479.4 315.7,479.4 316.3,479.4 316.9,479.5 317.6,479.4 318.5,479.3 319.5,479.2 320.4,478.8 321.4,479.2 322.4,479.3 323.3,479.1 324.3,479.2 325.2,478.9 326.2,478.8 327.2,479.1 328.1,479.6 329.1,479.5 330,479.3 331,479.7 332,479 332.9,478.5 333.9,479.2 334.8,480.3 335.8,480.2 336.7,480.1 337.7,480.2 338.7,480.7 339.6,480.6 340.6,479.9 341.5,480.8 342.5,481.6 343.5,481.6 344.4,481.3 345.4,481.8 346.3,482.1 347.3,481.7 348.3,482.2 349.2,482 350.2,482.3 351.1,482.8 352.1,482.5 353.1,481.8 354,481.6 355,482 355.9,481.7 356.9,481.6 357.9,481.9 358.8,481.8 359.8,481.4 360.7,480.5 361.7,480.9 362.7,481.5 363.6,481.2 364.6,481.3 365.5,480.8 366.5,480.4 367.5,480.6 368.4,480.9 369.4,481.4 370.3,481.1 371.3,480.9 372.3,481.1 373.2,480.8 374.2,481 375.1,481.3 376.1,480.7 377.1,480.5 378,480.5 379,480.7 379.9,480.7 380.9,480.6 381.9,480.4 382.8,479.9 383.8,480.1 384.7,479.9 385.7,479.9 386.7,480.5 387.6,480.2 388.6,479.9 389.5,480 390.5,480 391.5,480 392.4,480.3 393.4,481 394.3,481.2 395.3,480.6 396.3,480.8 397.2,481.5 398.2,481.4 399.1,480.8 400.1,480.2 401.1,480.5 402,480.4 403,480.1 403.9,480 404.9,479.8 405.9,480.3 406.8,480.6 407.8,480.4 408.7,480.3 409.7,480.2 410.7,480.3 411.6,480.2 412.6,480.2 413.5,480.2 414.5,480.2 415.5,480.4 416.4,480.2 417.4,479.9 418.3,479.8 419.3,479.9 420.2,480.3 421.2,480.4 422.2,480.3 423.1,480.9 424.1,481.4 425,480.5 426,480.2 427,481.6 427.9,481.7 428.9,480.9 429.8,481.3 430.8,480.7 431.8,480.1 432.7,480.6 433.7,481.1 434.6,481.2 435.6,481 436.6,481.1 437.5,481.6 438.5,481.7 439.4,481.6 440.4,481.6 441.4,482.1 442.3,482.2 443.3,482 444.2,482.2 445.2,482.2 446.2,482.8 447.1,482.8 448.1,482.3 449,483 450,483.4 451,483.4 451.9,483.6 452.9,483.2 453.8,483.1 454.8,482.8 455.8,482.8 456.7,483.6 457.7,483.5 458.6,483.8 459.6,483.2 460.6,482.3 461.5,482.5 462.5,482.5 463.4,482.7 464.4,482.7 465.4,482.6 466.3,482.6 467.3,482.1 468.2,482.2 469.2,481.8 470.2,481.7 471.1,481.9 472.1,481.8 473,482.3 474,482 475,481.5 475.9,481.7 476.9,481.7 477.8,481.8 478.8,481.6 479.8,481.5 480.7,481.6 481.7,481.1 482.6,481.4 483.6,481.9 484.6,481.7 485.5,481.7 486.5,481.8 487.4,481.7 488.4,481.2 489.4,481.1 490.3,481.6 491.3,481.3 492.2,480.6 493.2,480.7 494.2,481.2 495.1,481.4 496.1,480.5 497,479.7 498,480.1 499,480.9 499.9,480.6 500.9,480.3 501.8,480.1 502.8,480.3 503.8,480.7 504.7,480.5 505.7,480.4 506.6,480.5 507.6,480.4 508.5,480.3 509.5,480.8 510.5,480.5 511.4,480.2 512.4,480.9 513.3,481 514.3,479.6 515.3,469.8 516.2,454.2 517.2,438.2 518.1,422.6 519.1,409.7 520.1,399 521,392.2 522,385.6 522.9,381.2 523.9,377 524.9,374.4 525.8,372 526.8,370.9 527.7,370 528.7,369.2 529.7,368.6 530.6,367.9 531.6,367.8 532.5,368.6 533.5,368.4 534.5,366.8 535.4,366.8 536.4,367.8 537.3,367.8 538.3,367.4 539.3,367.4 540.2,367.9 541.2,368.5 542.1,368.7 543.1,368.8 544.1,368.7 545,368 546,367.9 546.9,368.6 547.9,369.4 548.9,369.7 549.8,369.3 550.8,368.8 551.7,368.8 552.7,369 553.7,369.6 554.6,370.4 555.6,369.8 556.5,369.5 557.5,369.4 558.5,369.8 559.4,370.8 560.4,370.4 561.3,370.1 562.3,369.7 563.3,369.9 564.2,370 565.2,370.2 566.1,370.6 567.1,370.6 568.1,370.6 569,370.5 570,370.3 570.9,369.1 571.9,369.7 572.9,370.8 573.8,370.2 574.8,370.2 575.7,370 576.7,370.3 577.7,370.5 578.6,370.5 579.6,370.5 580.5,370.2 581.5,370.4 582.5,370.7 583.4,371.3 584.4,371.5 585.3,370.7 586.3,370.5 587.3,370.5 588.2,370.9 589.2,370.9 590.1,370.2 591.1,371.1 592.1,371.3 593,370.1 594,370.4 594.9,370.7 595.9,370.5 596.8,370.5 597.8,370.7 598.8,371.1 599.7,371.2 600.7,371.1 601.6,371.1 602.6,371.3 603.6,370.8 604.5,370.7 605.5,371.4 606.4,371.5 607.4,371 608.4,371.4 609.3,371.4 610.3,370.6 611.2,370.3 612.2,370.7 613.2,371.3 614.1,371.1 615.1,370.9 616,370.5 617,370.6 618,371.1 618.9,371.5 619.9,371.5 620.8,371 621.8,370.7 622.8,370.7 623.7,370.6 624.7,370.3 625.6,370.9 626.6,371.6 627.6,371.6 628.5,371.3 629.5,371.4 630.4,371.1 631.4,370.7 632.4,370.5 633.3,370.6 634.3,371.1 635.2,371.1 636.2,371.2 637.2,371.3 638.1,371.2 639.1,370.9 640,371.5 641,371.6 642,370.6 642.9,370.8 643.9,371 644.8,370.9 645.8,370.6 646.8,370.2 647.7,370.6 648.7,370.6 649.6,370.8 650.6,371.1 651.6,370.8 652.5,371.3 653.5,371.3 654.4,371.2 655.4,371 656.4,371.1 657.3,371.8 658.3,372 659.2,371.4 660.2,371 661.2,370.9 662.1,371.2 663.1,371 664,371 665,371.3 666,370.8 666.9,370.8 667.9,371.6 668.8,371.4 669.8,370.8 670.8,371.1 671.7,370.8 672.7,370.8 673.6,371 674.6,370.8 675.6,370.2 676.5,370.8 677.5,371.5 678.4,370.8 679.4,370.6 680.3,370.8 681.3,371.3 682.3,370.7 683.2,370.7 684.2,371 685.1,370.9 686.1,370.9 687.1,371.2 688,371.5 689,371.1 689.9,370.9 690.9,370.6 691.9,370.5 692.8,370.6 693.8,370.8 694.7,370.6 695.7,370.7 696.7,371.1 697.6,371.4 698.6,371.6 699.5,370.9 700.5,370.6 701.5,371.4 702.4,371.4 703.4,370.9 704.3,371.3 705.3,371.1 706.3,370.8 707.2,370.9 708.2,370.6 709.1,370.8 710.1,370.7 711.1,370.6 712,371 713,370.6 713.9,370.4 714.9,370.9 715.9,371 716.8,370.8 717.8,371.2 718.7,371.1 719.7,370.7 720.7,371.2 721.6,371.5 722.6,370.9 723.5,371 724.5,370.6 725.5,370.5 726.4,371.1 727.4,371.5 728.3,371.6 729.3,371 730.3,370.9 731.2,370.7 732.2,370.9 733.1,370.3 734.1,370 735.1,370.9 736,371 737,371.6 737.9,371.9 738.9,370.7 739.9,370.7 740.8,372.3 741.8,375.9 742.7,380.8 743.7,384.1 744.7,387.9 745.6,390.3 746.6,391.6 747.5,393.2 748.5,394.7 749.5,395.4 750.4,395 751.4,395.2 752.3,395.4 753.3,394.8 754.3,393.7 755.2,392.8 756.2,392.1 757.1,391.2 758.1,390 759.1,389.4 760,388.5 761,387.9 761.9,387.8 762.9,387 763.9,385.6 764.8,384.2 765.8,384.4 766.7,384.6 767.7,383.6 768.6,382.8 769.6,382.3 770.6,381.9 771.5,380.8 772.5,380.6 773.4,380.4 774.4,379.2 775.4,378.4 776.3,379 777.3,378.3 778.2,377.6 779.2,377.8 780.2,377.4 781.1,377.3 782.1,377 783,376.3 784,376.1 785,376.4 785.9,376.1 786.9,375.6 787.8,375.8 788.8,375.3 789.8,374.7 790.7,374.6 791.7,373.7 792.6,373.6 793.6,373.7 794.6,373.7 795.5,373.8 796.5,374 797.4,373.7 798.4,373.1 799.4,373.5 800.3,373.2 801.3,371.9 802.2,371.8 803.2,371.8 804.2,371.9 805.1,372.4 806.1,372.2 807,371.9 808,372.2 809,371.7 809.9,371.2 810.9,371.6 811.8,371.5 812.8,371.2 813.8,371 814.7,370.4 815.7,370.7 816.6,371.5 817.6,370.9 818.6,369.8 819.5,370.4 820.5,371.3 821.4,371.5 822.4,371.2 823.4,370.8 824.3,370.9 825.3,370.6 826.2,370.8 827.2,371.2 828.2,371.3 829.1,370.7 830.1,370 831,370 832,370.5 833,370.5 833.9,370.1 834.9,370.3 835.8,370.2 836.8,370.4 837.8,370.6 838.7,371 839.7,371.1 840.6,370.7 841.6,370.9 842.6,370.8 843.5,370.1 844.5,370.2 845.4,370.9 846.4,371 847.4,370.6 848.3,369.9 849.3,369.9 850.2,370.4 851.2,370.8 852.2,370.7 853.1,370.1 854.1,370.3 855,370.5 856,370.6 856.9,370.4 857.9,369.8 858.9,369.9 859.8,370.1 860.8,370.2 861.7,370.6 862.7,370.8 863.7,370.7 864.6,370.5 865.6,370.3 866.5,370.1 867.5,369.9 868.5,369.7 869.4,369.7 870.4,370.2 871.3,370.4 872.3,370.8 873.3,370.3 874.2,370 875.2,370.6 876.1,369.9 877.1,370.1 878.1,370.8 879,370.5 880,370.5 880.9,370.5 881.9,370.2 882.9,370 883.8,370.1 884.8,370.1 885.7,370.2 886.7,370.2 887.7,369.8 888.6,370.4 889.6,370.8 890.5,370.3 891.5,370.8 892.5,371.7 893.4,371.1 894.4,370.4 895.3,370.3 896.3,370.1 897.3,370.3 898.2,370.4 899.2,370.4 900.1,370.6 901.1,370.7 902.1,370.3 903,370.2 904,370.3 904.9,370.2 905.9,370.5 906.9,370.8 907.8,370.4 908.8,370.4 909.7,370.5 910.7,370.7 911.7,370.8 912.6,370.2 913.6,370.5 914.5,371.1 915.5,370.9 916.5,370.5 917.4,370.6 918.4,370.8 919.3,370.4 920.3,370.2 921.3,370.6 922.2,370.4 923.2,370.2 924.1,370.7 925.1,370.5 926.1,370.4 927,370.4 928,370.4 928.9,370.6 929.9,370.1 930.9,370.1 931.8,370.3 932.8,370.3 933.7,370.2 934.7,370.3 935.7,370.4 936.6,370.5 937.6,370.1 938.5,370.3 939.5,370.6 940.4,370.7 941.4,370.7 942.4,370.1 943.3,370.6 944.3,370.4 945.2,370.4 946.2,371.2 947.2,370.8 948.1,370.9 949.1,370.7 950,370.2 951,371.3 952,371.9 952.9,371.3 953.9,370.8 954.8,370.9 955.8,371.2 956.8,370.8 957.7,370.8 958.7,370.9 959.6,371.1 960.6,370.9 961.6,370.1 962.5,370.7 963.5,371.8 964.4,371.9 965.4,371 966.4,370.7 967.3,371.1 968.3,377.8 969.2,389.6 970.2,402.8 971.2,417.2 972.1,430.9 973.1,442.9 974,449.7 975,455.8 976,460.5 976.9,464.3 977.9,468.1 978.8,470.1 979.8,472.8 980.8,474.8 981.7,474.9 982.7,475.9 983.6,477.6 984.6,479.2 985.6,478.9 986.5,479 987.5,479.9 988.4,480.1 989.4,480.6 990.4,480.8 991.3,480.3 992.3,480.6 993.2,480.5 994.2,480.4 995.2,480.9 996.1,480.9 997.1,480.8 998,480.8 999,480.9 1000,481.4 1000.9,481.1 1001.9,481 1002.8,481.7 1003.8,481.4 1004.8,481 1005.7,481.3 1006.7,481.5 1007.6,481.3 1008.6,480.8 1009.6,481 1010.5,481.9 1011.5,482.1 1012.4,481.6 1013.4,481.5 1014.4,481.9 1015.3,481.6 1016.3,481.2 1017.2,481.5 1018.2,481.7 1019.2,481.8 1020.1,482.1 1021.1,482 1022,482.2 1023,482 1024,481.6 1024.9,481.9 1025.9,481.8 1026.8,481.6 1027.8,481.9 1028.7,482.1 1029.7,482.1 1030.7,481.5 1031.6,481.8 1032.6,482.2 1033.5,481.5 1034.5,481.8 1035.5,482.3 1036.4,482.3 1037.4,482.5 1038.3,481.9 1039.3,481.4 1040.3,482.1 1041.2,482.2 1042.2,481.8 1043.1,481.8 1044.1,482.1 1045.1,481.8 1046,481.8 1047,482.1 1047.9,481.8 1048.9,481.9 1049.9,481.9 1050.8,481.9 1051.8,481.1 1052.7,481.1 1053.7,481.6 1054.7,481.8 1055.6,482.3 1056.6,482.1 1057.5,481.8 1058.5,481.9 1059.5,481.8 1060.4,481.5 1061.4,480.9 1062.3,480.6 1063.3,481.1 1064.3,481.2 1065.2,480.7 1066.2,481.4 1067.1,482 1068.1,481.9 1069.1,481.2 1070,481.2 1071,481.8 1071.9,481.4 1072.9,481.4 1073.9,481.8 1074.8,481.6 1075.8,481.5 1076.7,482.3 1077.7,482.8 1078.7,481.9 1079.6,481.9 1080.6,481.8 1081.5,481.4 1082.5,481.6 1083.5,481.5 1084.4,482.1 1085.4,482.4 1086.3,482.2 1087.3,481.9 1088.3,481.2 1089.2,481.3 1090.2,481.7 1091.1,482.2 1092.1,482.3 1093.1,481.8 1094,481.8 1095,481.5 1095.9,481.1 1096.9,481.3 1097.9,481.5 1098.8,482 1099.8,481.9 1100.7,481.5 1101.7,482.1 1102.7,482.1 1103.6,481.7 1104.6,481.5 1105.5,481.2 1106.5,481.5 1107.5,481.1 1108.4,481.2 1109.4,481.8 1110.3,481.7 1111.3,481.6 1112.3,481.8 1113.2,481.7 1114.2,481.3 1115.1,481.6 1116.1,482.2 1117,481.7 1118,480.9 1119,481 1119.9,481 1120.9,480.8 1121.8,481 1122.8,481 1123.8,481.1 1124.7,481.9 1125.7,481.8 1126.6,481.6 1127.6,481.5 1128.6,480.9 1129.5,480.9 1130.5,481.1 1131.4,480.6 1132.4,480.4 1133.4,481 1134.3,481.7 1135.3,481.1 1136.2,481.2 1137.2,482.4 1138.2,482.6 1139.1,481.8 1140.1,481.6 1141,482 1142,481.6 1143,481.2 1143.9,481.5 1144.9,481.9 1145.8,481.4 1146.8,481 1147.8,481.2 1148.7,481.5 1149.7,481.5 1150.6,481.3 1151.6,480.9 1152.6,481.3 1153.5,481.5 1154.5,481.8 1155.4,481.9 1156.4,481.7 1157.4,481.9 1158.3,481.3 1159.3,480.6 1160.2,480.8 1161.2,481.5 1162.2,481.6 1163.1,481.4 1164.1,481.3 1165,481.3 1166,480.8 1167,480.9 1167.9,481.4 1168.9,481.4 1169.8,481.5 1170.8,482.2 1171.8,481.7 1172.7,480.6 1173.7,480.5 1174.6,481.2 1175.6,482.6 1176.6,482.7 1177.5,481.5 1178.5,481.4 1179.4,481.2 1180.4,481.3 1181.4,481.6 1182.3,481.3 1183.3,481.4 1184.2,481.8 1185.2,481.9 1186.2,481.4 1187.1,481.5 1188.1,482 1189,482 1190,481.9 1191,481.7 1191.9,481.1 1192.9,481.1 1193.8,481.3 1194.8,478.5 1195.8,473.4 1196.7,469.5 1197.7,465.5 1198.6,462.5 1199.6,460.5 1200.5,459.6 1201.5,459.1 1202.5,458.6 1203.4,458.3 1204.4,458.7 1205.3,459 1206.3,459.1 1207.3,460.9 1208.2,462.8 1209.2,462.8 1210.1,463.2 1211.1,464 1212.1,465 1213,466.1 1214,467 1214.9,467.3 1215.9,466.9 1216.9,467.4 1217.8,467.6 1218.8,467.5 1219.7,468.9 1220.7,469.5 1221.7,469.6 1222.6,470.7 1223.6,472 1224.5,471.7 1225.5,472 1226.5,472.7 1227.4,472.8 1228.4,474 1229.3,474.5 1230.3,474.1 1231.3,474.1 1232.2,474.6 1233.2,475.1 1234.1,475.2 1235.1,475.6 1236.1,475.5 1237,475.4 1238,475.7 1238.9,476.1 1239.9,476.5 1240.9,477.1 1241.8,477.9 1242.8,477.6 1243.7,477.7 1244.7,478.4 1245.7,478.4 1246.6,478.9 1247.6,479 1248.5,478.5 1249.5,478.8 1250.5,479.4 1251.4,478.9 1252.4,478.6 1253.3,479.5 1254.3,480 1255.3,480.3 1256.2,480.7 1257.2,481 1258.1,480.8 1259.1,480.3 1260.1,479.9 1261,480.1 1262,480.1 1262.9,480 1263.9,480.7 1264.9,481.2 1265.8,480.8 1266.8,480.4 1267.7,480.2 1268.7,480.9 1269.7,481.8 1270.6,480.9 1271.6,480.5 1272.5,480.8 1273.5,480.8 1274.5,481.5 1275.4,481.2 1276.4,480.7 1277.3,480.7 1278.3,480.7 1279.3,481.4 1280.2,481.6 1281.2,481.1 1282.1,481.3 1283.1,481.5 1284.1,481 1285,481.5 1286,481.9 1286.9,481.5 1287.9,481.1 1288.8,481.2 1289.8,481.8 1290.8,481.6 1291.7,481.6 1292.7,481.6 1293.6,481.4 1294.6,481.5 1295.6,481.4 1296.5,481 1297.5,481.7 1298.4,481.9 1299.4,481.6 1300.4,481.8 1301.3,481.8 1302.3,481.4 1303.2,481.4 1304.2,481.9 1305.2,482.2 1306.1,482.2 1307.1,481.9 1308,482.1 1309,482.2 1310,481.8 1310.9,481.3 1311.9,481.5 1312.8,481.3 1313.8,480.9 1314.8,481.3 1315.7,481.4 1316.7,481.6 1317.6,482 1318.6,482 1319.6,481.8 1320.5,481.7 1321.5,481.3 1322.4,480.8 1323.4,481.1 1324.4,481.4 1325.3,481.7 1326.3,482.6 1327.2,482.4 1328.2,481.8 1329.2,481.3 1330.1,480.7 1331.1,481 1332,481.3 1333,481.1 1334,481.4 1334.9,481.5 1335.9,481.5 1336.8,481.2 1337.8,481.7 1338.8,482.8 1339.7,482.4 1340.7,481.5 1341.6,481.2 1342.6,481.7 1343.6,481.8 1344.5,481.8 1345.5,481.8 1346.4,481.8 1347.4,482.3 1348.4,481.9 1349.3,481.9 1350.3,482.6 1351.2,482 1352.2,481.6 1353.2,482.5 1354.1,482.2 1355.1,481.8 1356,482.3 1357,482 1358,481.3 1358.9,481.2 1359.9,481.6 1360.8,481.6 1361.8,481.7 1362.8,482.1 1363.7,482.2 1364.7,482 1365.6,482.3 1366.6,482 1367.6,481.4 1368.5,481.4 1369.5,481.8 1370.4,481.7 1371.4,482 1372.4,482.1 1373.3,481.6 1374.3,481.7 1375.2,481.9 1376.2,481.9 1377.1,482 1378.1,482.1 1379.1,481.7 1380,482.2 1381,482.1 1381.9,481.4 1382.9,481.7 1383.9,482.1 1384.8,482.3 1385.8,482.2 1386.7,481.8 1387.7,481.5 1388.7,481.3 1389.6,481.5 1390.6,482.4 1391.5,482.7 1392.5,482.3 1393.5,481.9 1394.4,482.2 1395.4,482.4 1396.3,481.9 1397.3,482 1398.3,482.1 1399.2,481.3 1400.2,481.2 1401.1,481.3 1402.1,481.3 1403.1,482 1404,481.9 1405,481.9 1405.9,482 1406.9,482.6 1407.9,482.5 1408.8,482 1409.8,481.8 1410.7,481.6 1411.7,482 1412.7,482.3 1413.6,482.2 1414.6,482 1415.5,481.9 1416.5,481.9 1417.5,481.9 1418.4,481.9 1419.4,481.9 1420.3,481.9" fill="none" stroke="#229cba" stroke-width="7.7" />
<line x1="1417.7" y1="476.6" x2="1417.7" y2="917.6" stroke="#229cba" stroke-width="5.2" />
<polyline points="197.2,1046.8 197.2,1040.8 197.8,1040.3 198.4,1020.5 199.1,986.1 199.7,951.8 200.3,917.5 200.9,883.2 201.5,848.8 202.1,813.7 202.8,777.4" fill="none" stroke="#3a74f0" stroke-width="4.8" />
<polyline points="202.2,777.4 202.8,741 203.4,709.6 204,681.5 204.6,667.7" fill="none" stroke="#3a74f0" stroke-width="6.6" />
<polyline points="203.9,666.7 204.6,652.9 205.2,642.8 205.8,634.7 206.4,628.1 207,623.2 207.6,620.2 208.3,618.2 208.9,616.3 209.5,614.5 210.1,613.4 210.7,612.3 211.3,611.2 212,610.4 212.6,609.6 213.2,608.7 213.8,608.3 214.4,608 215,607.6 215.7,607.1 216.3,606.8 216.9,606.5 217.5,606.1 218.1,605.9 218.7,605.9 219.4,605.8 220,605.7 220.6,605.6 221.2,605.6 221.8,605.5 222.4,605.4 223.1,605.5 223.7,605.5 224.3,605.4 224.9,605.3 225.5,605.3 226.1,605.5 227.1,606.7 228.1,605.6 229,604.6 230,604.4 230.9,604.9 231.9,605.3 232.9,605.4 233.8,604.7 234.8,604.5 235.7,605.3 236.7,605 237.7,604.5 238.6,605.4 239.6,605.9 240.5,605.1 241.5,604.8 242.5,605.6 243.4,606.1 244.4,605.6 245.3,605.6 246.3,606.3 247.3,606.6 248.2,606.3 249.2,606.3 250.1,606.9 251.1,606.5 252.1,606.3 253,607.6 254,607.9 254.9,608.4 255.9,608.6 256.9,608 257.8,607.2 258.8,607.1 259.7,607.6 260.7,607.4 261.7,607.4 262.6,607.7 263.6,607.4 264.5,607 265.5,606.9 266.5,606.7 267.4,607.4 268.4,607.7 269.3,607.5 270.3,607.5 271.3,607.2 272.2,607.1 273.2,607.4 274.1,606.8 275.1,606.2 276.1,606.5 277,607.2 278,607.4 278.9,607.2 279.9,607.3 280.9,607.3 281.8,607 282.8,606.6 283.7,606.5 284.7,606.8 285.7,606.8 286.6,605.9 287.6,605.9 288.5,606.6 289.5,605.8 290.5,605.6 291.4,606.5 292.4,606.3 293.3,606.3 294.3,606.7 295.3,606.2 296.2,606.2 297.2,606.9 298.1,606.6 299.1,605.9 300.1,606.5 301,606.8 302,606.1 302.9,606 303.9,606 304.9,606.1 305.8,606.5 306.8,606.7 307.7,606.6 308.7,606.4 309.7,607.1 310.6,607.6 311.6,606.9 312.5,606.1 313.5,606.3 314.5,606.5 315.4,606.6 316.4,607 317.4,606.7 318.3,606.3 319.3,606.5 320.2,606.8 321.2,606.7 322.2,606.3 323.1,606.4 324.1,606.4 325,606.5 326,606.3 327,606.1 327.9,605.7 328.9,605.4 329.8,605.9 330.8,606.7 331.8,606.6 332.7,606.4 333.7,606.3 334.6,606.6 335.6,607.2 336.6,606.4 337.5,606.4 338.5,606.7 339.4,606.6 340.4,607 341.4,607 342.3,607.2 343.3,607.6 344.2,606.8 345.2,606.8 346.2,607.4 347.1,607.7 348.1,607.5 349,607.5 350,608.2 351,608.3 351.9,608.5 352.9,608.8 353.8,608.8 354.8,608.6 355.8,608.7 356.7,609 357.7,609.3 358.6,609.3 359.6,609.1 360.6,609.4 361.5,609.6 362.5,609.5 363.4,609.2 364.4,608.9 365.4,608.9 366.3,608.7 367.3,608.9 368.2,608.7 369.2,608.4 370.2,608.8 371.1,608.6 372.1,608.6 373,608.1 374,607.6 375,608.4 375.9,608.7 376.9,608.3 377.8,608.1 378.8,607.8 379.8,607.4 380.7,607.2 381.7,607.2 382.6,607.7 383.6,607.5 384.6,606.9 385.5,607.7 386.5,608.2 387.4,607.7 388.4,607.7 389.4,607.3 390.3,606.9 391.3,607.1 392.2,607.5 393.2,608.1 394.2,608 395.1,607.6 396.1,607.5 397,607.9 398,608 399,607.5 399.9,606.9 400.9,606.9 401.8,607 402.8,606.9 403.8,606.8 404.7,606.4 405.7,606.6 406.6,606.8 407.6,606.9 408.6,606.6 409.5,606 410.5,606.1 411.4,606.2 412.4,606.5 413.4,606.9 414.3,606.7 415.3,605.9 416.2,606.8 417.2,606.6 418.2,606.1 419.1,606.4 420.1,606.4 421,606.5 422,606 423,605.3 423.9,595.2 424.9,580.2 425.8,564.3 426.8,548.2 427.8,535.4 428.7,524.2 429.7,517.4 430.6,510.6 431.6,506.5 432.6,503.3 433.5,501.2 434.5,498.9 435.4,497.3 436.4,495.8 437.4,495.2 438.3,494.8 439.3,493.9 440.2,493.3 441.2,493.4 442.2,493.1 443.1,492.9 444.1,493.4 445,493.5 446,492.9 447,493.4 447.9,493.7 448.9,493.6 449.8,493.8 450.8,493.8 451.8,494 452.7,494.2 453.7,494.4 454.6,494.3 455.6,494.3 456.6,495 457.5,495.1 458.5,494.4 459.4,494.4 460.4,494.7 461.4,495.6 462.3,495.6 463.3,494.9 464.2,494.8 465.2,495.3 466.2,495.9 467.1,495.8 468.1,495.9 469,496.3 470,496.4 471,496 471.9,496 472.9,495.5 473.8,495.6 474.8,496.2 475.8,495.8 476.7,495.8 477.7,495.8 478.7,495.6 479.6,496.1 480.6,496.5 481.5,496.3 482.5,496.2 483.5,496.2 484.4,496.4 485.4,496.3 486.3,496.3 487.3,496.6 488.3,496.5 489.2,496.8 490.2,496.8 491.1,496.6 492.1,496.9 493.1,497.4 494,496.6 495,496.2 495.9,496.6 496.9,496.8 497.9,496.3 498.8,496.2 499.8,497.2 500.7,497 501.7,496.7 502.7,496.8 503.6,496.5 504.6,496.3 505.5,496.1 506.5,496.6 507.5,496.4 508.4,495.5 509.4,496 510.3,496.5 511.3,496.3 512.3,496.5 513.2,496.9 514.2,497.3 515.1,496.6 516.1,496.3 517.1,496.8 518,496.4 519,495.9 519.9,496.2 520.9,496.8 521.9,497.1 522.8,496.4 523.8,497 524.7,497.8 525.7,497.5 526.7,496.8 527.6,496.5 528.6,496.6 529.5,496.7 530.5,496.8 531.5,496.5 532.4,495.5 533.4,495.7 534.3,496.4 535.3,496.7 536.3,496.6 537.2,496.4 538.2,496.8 539.1,497 540.1,497.3 541.1,497.3 542,497.3 543,497.6 543.9,496.7 544.9,496.2 545.9,496.5 546.8,496.5 547.8,497.2 548.7,497.3 549.7,497.1 550.7,497.4 551.6,497.2 552.6,496.9 553.5,496.8 554.5,496.8 555.5,496.9 556.4,497 557.4,496.5 558.3,495.9 559.3,495.9 560.3,496.6 561.2,496.8 562.2,496.5 563.1,496.3 564.1,496.3 565.1,496.2 566,496.4 567,496.9 567.9,497.4 568.9,497 569.9,496.4 570.8,497 571.8,497.1 572.7,497 573.7,497.1 574.7,496.5 575.6,496.5 576.6,496.3 577.5,496.2 578.5,497.1 579.5,497 580.4,496.1 581.4,496.2 582.3,496.8 583.3,497.4 584.3,497.3 585.2,497.1 586.2,497.3 587.1,496.5 588.1,496.5 589.1,496.7 590,496.7 591,497 591.9,496.8 592.9,496.4 593.9,496.5 594.8,496.8 595.8,497.1 596.7,497.6 597.7,497.2 598.7,496.8 599.6,496.7 600.6,496.4 601.5,496.2 602.5,496.8 603.5,496.9 604.4,496.6 605.4,496.7 606.3,497.5 607.3,497.6 608.3,497 609.2,496.5 610.2,496.6 611.1,497.2 612.1,496.7 613.1,496.3 614,496.9 615,496.7 615.9,496.4 616.9,496.5 617.9,496.9 618.8,497.1 619.8,496.6 620.7,496.5 621.7,496.6 622.7,497.1 623.6,497.4 624.6,497 625.5,497 626.5,497.4 627.5,497.4 628.4,496.4 629.4,496.2 630.3,496.8 631.3,497.1 632.3,497.3 633.2,497 634.2,496.9 635.1,497.1 636.1,496.6 637.1,496.2 638,496.3 639,497 640,497.4 640.9,496.5 641.9,496.7 642.8,496.7 643.8,496.4 644.8,496.4 645.7,496.6 646.7,497.2 647.6,497.4 648.6,496.6 649.6,497.6 650.5,501.9 651.5,506.7 652.4,510.4 653.4,514.3 654.4,516.3 655.3,518 656.3,519.6 657.2,520.2 658.2,521.5 659.2,521.7 660.1,520.7 661.1,520.5 662,520 663,518.9 664,518.2 664.9,517.2 665.9,515.8 666.8,515.3 667.8,515.2 668.8,514.8 669.7,513.9 670.7,513.4 671.6,512.4 672.6,510.9 673.6,510.9 674.5,510.3 675.5,509.8 676.4,509.6 677.4,508.6 678.4,508.1 679.3,507.7 680.3,507 681.2,506.1 682.2,505.4 683.2,504.9 684.1,504.3 685.1,504.5 686,504.8 687,504.8 688,504.1 688.9,504 689.9,503.9 690.8,503.4 691.8,503 692.8,501.8 693.7,501.7 694.7,501.9 695.6,501.5 696.6,501.1 697.6,501.2 698.5,501 699.5,500.4 700.4,500.5 701.4,500.6 702.4,499.7 703.3,499 704.3,499 705.2,499.3 706.2,499.3 707.2,499.2 708.1,499.4 709.1,499.1 710,498.6 711,498.8 712,498.8 712.9,498.3 713.9,497.9 714.8,498.4 715.8,497.6 716.8,497.5 717.7,497.9 718.7,497.6 719.6,497.4 720.6,497 721.6,496.8 722.5,496.7 723.5,497.1 724.4,496.7 725.4,496.4 726.4,496.9 727.3,496.9 728.3,497 729.2,496.9 730.2,496.1 731.2,495.8 732.1,496.2 733.1,496.4 734,496.2 735,496.6 736,496.4 736.9,496.1 737.9,497 738.8,496.9 739.8,496.6 740.8,496.7 741.7,496.2 742.7,496.3 743.6,496.4 744.6,495.9 745.6,496.4 746.5,497.3 747.5,496.9 748.4,496.4 749.4,495.8 750.4,495.4 751.3,495.9 752.3,496.2 753.2,496.9 754.2,497.3 755.2,496.8 756.1,496.4 757.1,496.4 758,496.4 759,496.1 760,496.3 760.9,496.6 761.9,496.7 762.8,496.2 763.8,496.5 764.8,496.7 765.7,495.9 766.7,496.6 767.6,497 768.6,496.1 769.6,496.2 770.5,496.7 771.5,496.4 772.4,495.9 773.4,495.7 774.4,496.3 775.3,496.9 776.3,497.1 777.2,496.6 778.2,496.8 779.2,497 780.1,496.2 781.1,496.4 782,496.7 783,496.4 784,496 784.9,496.4 785.9,496.6 786.8,496.2 787.8,496.2 788.8,496.6 789.7,496.5 790.7,496.3 791.6,496.5 792.6,496.5 793.6,495.9 794.5,495.6 795.5,495.5 796.4,495.7 797.4,496.4 798.4,495.8 799.3,495.8 800.3,496.1 801.3,495.7 802.2,495.9 803.2,496.5 804.1,496.5 805.1,496 806.1,495.8 807,495.7 808,495.9 808.9,496.4 809.9,496.7 810.9,496.6 811.8,496.5 812.8,496.5 813.7,496.6 814.7,496.7 815.7,496.6 816.6,496.1 817.6,496.1 818.5,496.5 819.5,496.2 820.5,495.6 821.4,496 822.4,496.5 823.3,496.9 824.3,497.3 825.3,496.8 826.2,495.9 827.2,495.4 828.1,495.6 829.1,496.3 830.1,496.4 831,496.6 832,496.8 832.9,496.8 833.9,496.7 834.9,496 835.8,495.3 836.8,495.7 837.7,496.2 838.7,496.8 839.7,497.1 840.6,496.2 841.6,495.7 842.5,495.9 843.5,496.1 844.5,495.8 845.4,496.1 846.4,496.6 847.3,495.7 848.3,495.9 849.3,496.6 850.2,496.5 851.2,496.2 852.1,496.2 853.1,496.7 854.1,496.7 855,496.4 856,496.6 856.9,497.3 857.9,497 858.9,496.7 859.8,496.5 860.8,496.5 861.7,496.9 862.7,496.7 863.7,496.4 864.6,496.2 865.6,496.3 866.5,497.1 867.5,497.2 868.5,496.6 869.4,496.7 870.4,496.5 871.3,496.6 872.3,496.4 873.3,496.4 874.2,496.3 875.2,496.6 876.1,498.9 877.1,505.3 878.1,515 879,528.3 880,544.2 880.9,557.6 881.9,569.2 882.9,576.1 883.8,582.4 884.8,586.6 885.7,590 886.7,594 887.7,596.2 888.6,598.2 889.6,600.9 890.5,601.9 891.5,602.8 892.5,604 893.4,604.8 894.4,605.1 895.3,605.1 896.3,605.6 897.3,606.6 898.2,607.2 899.2,607.2 900.1,607.3 901.1,607.7 902.1,607.7 903,607.7 904,607.6 904.9,607.8 905.9,608 906.9,608.1 907.8,608.7 908.8,608.2 909.7,607.4 910.7,607.8 911.7,607.9 912.6,607.7 913.6,608.3 914.5,608 915.5,608.3 916.5,608.7 917.4,607.9 918.4,608.2 919.3,608 920.3,607.8 921.3,607.9 922.2,607.8 923.2,608 924.1,608 925.1,607.5 926.1,607.4 927,607.8 928,607.7 928.9,608 929.9,608.3 930.9,608.2 931.8,607.8 932.8,607.7 933.7,607.8 934.7,608.1 935.7,608.1 936.6,608.3 937.6,608.5 938.5,608.8 939.5,609 940.5,608.5 941.4,608.7 942.4,608.9 943.3,608.3 944.3,607.8 945.3,607.7 946.2,607.5 947.2,607.7 948.1,607.8 949.1,607.9 950.1,607.7 951,608.2 952,608.7 952.9,607.9 953.9,607.6 954.9,607.9 955.8,608.2 956.8,608 957.8,608 958.7,608.5 959.7,608.1 960.6,607.9 961.6,608.2 962.6,608.6 963.5,609.4 964.5,608.8 965.4,607.5 966.4,608.3 967.4,608.9 968.3,608.1 969.3,607.9 970.2,608.1 971.2,608.1 972.2,608.4 973.1,608.1 974.1,607.5 975,607.7 976,608.7 977,608.3 977.9,607.6 978.9,608 979.8,607.4 980.8,607.2 981.8,607.7 982.7,607.8 983.7,607.6 984.6,608.1 985.6,608.2 986.6,608.6 987.5,609.1 988.5,608.5 989.4,607.6 990.4,608 991.4,608 992.3,607.7 993.3,607.5 994.2,607.6 995.2,607.3 996.2,607.1 997.1,608 998.1,608.1 999,608.5 1000,608.5 1001,608 1001.9,608 1002.9,608 1003.8,608.9 1004.8,609.6 1005.8,609 1006.7,608.6 1007.7,608.2 1008.6,608.1 1009.6,608.2 1010.6,608 1011.5,607.6 1012.5,607.6 1013.4,607.9 1014.4,608.3 1015.4,608.2 1016.3,607.7 1017.3,607.9 1018.2,607.9 1019.2,608.1 1020.2,608.4 1021.1,608 1022.1,608 1023,607.7 1024,607.5 1025,608 1025.9,608.5 1026.9,608.3 1027.8,608.2 1028.8,608.3 1029.8,608.5 1030.7,608.1 1031.7,607.7 1032.6,607.9 1033.6,607.7 1034.6,608.4 1035.5,608.7 1036.5,608.1 1037.4,607.9 1038.4,607.7 1039.4,607.7 1040.3,607.5 1041.3,608.2 1042.2,608.9 1043.2,608 1044.2,607.2 1045.1,607.8 1046.1,607.9 1047,607.4 1048,608.1 1049,608.6 1049.9,608.1 1050.9,607.9 1051.8,607.5 1052.8,607.3 1053.8,607.6 1054.7,607.9 1055.7,608.5 1056.6,608.5 1057.6,607.8 1058.6,607 1059.5,607.7 1060.5,608.3 1061.4,608.8 1062.4,608.3 1063.4,608 1064.3,608.1 1065.3,607.4 1066.2,608 1067.2,608.6 1068.2,608 1069.1,607.4 1070.1,607.7 1071,608.5 1072,608.2 1073,607.5 1073.9,607.9 1074.9,608.5 1075.8,607.9 1076.8,607.6 1077.8,608.2 1078.7,608.2 1079.7,607.9 1080.6,607.6 1081.6,607.6 1082.6,607.9 1083.5,608.5 1084.5,608.3 1085.4,607.7 1086.4,607.8 1087.4,607.9 1088.3,607.9 1089.3,607.7 1090.2,607.8 1091.2,608.5 1092.2,608.1 1093.1,607.8 1094.1,608.2 1095,607.9 1096,607.9 1097,608.1 1097.9,608.3 1098.9,607.9 1099.8,608 1100.8,608 1101.8,608 1102.7,608.5 1103.7,605.3 1104.6,599.8 1105.6,595.2 1106.6,591.5 1107.5,589.7 1108.5,587.2 1109.4,585.8 1110.4,585.3 1111.4,584.6 1112.3,585 1113.3,585.2 1114.2,585.4 1115.2,585.9 1116.2,586.7 1117.1,588.3 1118.1,588.9 1119.1,589.3 1120,590.3 1121,592.1 1121.9,593 1122.9,592.8 1123.9,593.2 1124.8,593.7 1125.8,593.9 1126.7,594.5 1127.7,595.4 1128.7,595.8 1129.6,595.9 1130.6,596.6 1131.5,597.8 1132.5,598.6 1133.5,598.3 1134.4,598.5 1135.4,599.8 1136.3,600.3 1137.3,600.2 1138.3,600.5 1139.2,600.6 1140.2,600.9 1141.1,601.5 1142.1,602.4 1143.1,602.6 1144,602 1145,602.5 1145.9,602.9 1146.9,603.1 1147.9,604 1148.8,603.8 1149.8,603.9 1150.7,604.2 1151.7,604.6 1152.7,604.7 1153.6,604.4 1154.6,605 1155.5,605.2 1156.5,604.8 1157.5,604.9 1158.4,605.8 1159.4,605.9 1160.3,605.7 1161.3,606.2 1162.3,606.1 1163.2,606.4 1164.2,606.7 1165.1,606.7 1166.1,606.5 1167.1,606.2 1168,606.5 1169,606.6 1169.9,606.6 1170.9,606.5 1171.9,607 1172.8,607.4 1173.8,607 1174.7,607.1 1175.7,607 1176.7,606.9 1177.6,607 1178.6,607.2 1179.5,607.4 1180.5,607.6 1181.5,607.8 1182.4,607.5 1183.4,607.1 1184.3,607.1 1185.3,607.5 1186.3,608 1187.2,607.2 1188.2,606.8 1189.1,608 1190.1,608.1 1191.1,607.6 1192,607.9 1193,608.1 1193.9,608.3 1194.9,608.4 1195.9,608.4 1196.8,608.6 1197.8,608.5 1198.7,608.4 1199.7,608.1 1200.7,607.6 1201.6,607.8 1202.6,608.2 1203.5,608 1204.5,608 1205.5,607.6 1206.4,608.4 1207.4,609.6 1208.3,609.2 1209.3,608.4 1210.3,607.9 1211.2,608.2 1212.2,608.4 1213.1,608.4 1214.1,608.2 1215.1,607.6 1216,608.4 1217,608.4 1217.9,607.4 1218.9,608.1 1219.9,608.3 1220.8,608.2 1221.8,608.2 1222.7,608.1 1223.7,608 1224.7,608.4 1225.6,608.5 1226.6,608.4 1227.5,608.6 1228.5,608.2 1229.5,608.2 1230.4,608.4 1231.4,608.2 1232.3,608.2 1233.3,608.7 1234.3,608.6 1235.2,608.2 1236.2,607.6 1237.1,608 1238.1,608.3 1239.1,608.2 1240,608.6 1241,607.9 1241.9,607.9 1242.9,608.2 1243.9,608.1 1244.8,608.6 1245.8,608.7 1246.7,608.6 1247.7,608.6 1248.7,607.9 1249.6,607.7 1250.6,608.7 1251.5,608.3 1252.5,607.7 1253.5,608 1254.4,607.6 1255.4,608.2 1256.3,608.5 1257.3,608.3 1258.3,608.5 1259.2,608.6 1260.2,608.4 1261.1,608 1262.1,607.8 1263.1,608.1 1264,607.9 1265,608.7 1265.9,609 1266.9,608.3 1267.9,608.2 1268.8,607.9 1269.8,607.9 1270.7,607.9 1271.7,608 1272.7,608.2 1273.6,608.1 1274.6,608.4 1275.5,608.3 1276.5,608.1 1277.5,608.5 1278.4,608.4 1279.4,608.2 1280.4,608.4 1281.3,609.1 1282.3,609.2 1283.2,609 1284.2,608.7 1285.2,608.4 1286.1,608.8 1287.1,608.6 1288,608.8 1289,608.8 1290,608.8 1290.9,608.8 1291.9,608.2 1292.8,607.8 1293.8,607.6 1294.8,608.1 1295.7,608.8 1296.7,608.5 1297.6,607.8 1298.6,608.2 1299.6,608.3 1300.5,608.1 1301.5,609.2 1302.4,609.2 1303.4,607.9 1304.4,607.7 1305.3,607.9 1306.3,608 1307.2,608.8 1308.2,609.6 1309.2,609.4 1310.1,608.9 1311.1,608.8 1312,609 1313,608.4 1314,607.8 1314.9,608.5 1315.9,609.2 1316.8,608.8 1317.8,608.5 1318.8,609.2 1319.7,608.3 1320.7,607.4 1321.6,608.1 1322.6,608.9 1323.6,608.9 1324.5,608.5 1325.5,608.5 1326.4,608.5 1327.4,608.5 1328.4,608.5 1329.3,608.5" fill="none" stroke="#3a74f0" stroke-width="7.7" />
<polyline points="203.9,668.6 204.6,654.8 205.2,644.7 205.8,636.6 206.4,630 207,625.1 207.6,622.1 208.3,620.1 208.9,618.2 209.5,616.4 210.1,615.3 210.7,614.2 211.3,613.1 212,612.3 212.6,611.5 213.2,610.6 213.8,610.2 214.4,609.9 215,609.5 215.7,609 216.3,608.7 216.9,608.4 217.5,608 218.1,607.8 218.7,607.8 219.4,607.7 220,607.6 220.6,607.5 221.2,607.5 221.8,607.4 222.4,607.3 223.1,607.4 223.7,607.4 224.3,607.3 224.9,607.2 225.5,607.2 226.1,607.4 227.1,608.6 228.1,607.5 229,606.5 230,606.3 230.9,606.8 231.9,607.2 232.9,607.3 233.8,606.6 234.8,606.4 235.7,607.2 236.7,606.9 237.7,606.4 238.6,607.3 239.6,607.8 240.5,607 241.5,606.7 242.5,607.5 243.4,608 244.4,607.5 245.3,607.5 246.3,608.2 247.3,608.5 248.2,608.2 249.2,608.2 250.1,608.8 251.1,608.4 252.1,608.2 253,609.5 254,609.8 254.9,610.3 255.9,610.5 256.9,609.9 257.8,609.1 258.8,609 259.7,609.5 260.7,609.3 261.7,609.3 262.6,609.6 263.6,609.3 264.5,608.9 265.5,608.8 266.5,608.6 267.4,609.3 268.4,609.6 269.3,609.4 270.3,609.4 271.3,609.1 272.2,609 273.2,609.3 274.1,608.7 275.1,608.1 276.1,608.4 277,609.1 278,609.3 278.9,609.1 279.9,609.2 280.9,609.2 281.8,608.9 282.8,608.5 283.7,608.4 284.7,608.7 285.7,608.7 286.6,607.8 287.6,607.8 288.5,608.5 289.5,607.7 290.5,607.5 291.4,608.4 292.4,608.2 293.3,608.2 294.3,608.6 295.3,608.1 296.2,608.1 297.2,608.8 298.1,608.5 299.1,607.8 300.1,608.4 301,608.7 302,608 302.9,607.9 303.9,607.9 304.9,608 305.8,608.4 306.8,608.6 307.7,608.5 308.7,608.3 309.7,609 310.6,609.5 311.6,608.8 312.5,608 313.5,608.2 314.5,608.4 315.4,608.5 316.4,608.9 317.4,608.6 318.3,608.2 319.3,608.4 320.2,608.7 321.2,608.6 322.2,608.2 323.1,608.3 324.1,608.3 325,608.4 326,608.2 327,608 327.9,607.6 328.9,607.3 329.8,607.8 330.8,608.6 331.8,608.5 332.7,608.3 333.7,608.2 334.6,608.5 335.6,609.1 336.6,608.3 337.5,608.3 338.5,608.6 339.4,608.5 340.4,608.9 341.4,608.9 342.3,609.1 343.3,609.5 344.2,608.7 345.2,608.7 346.2,609.3 347.1,609.6 348.1,609.4 349,609.4 350,610.1 351,610.2 351.9,610.4 352.9,610.7 353.8,610.7 354.8,610.5 355.8,610.6 356.7,610.9 357.7,611.2 358.6,611.2 359.6,611 360.6,611.3 361.5,611.5 362.5,611.4 363.4,611.1 364.4,610.8 365.4,610.8 366.3,610.6 367.3,610.8 368.2,610.6 369.2,610.3 370.2,610.7 371.1,610.5 372.1,610.5 373,610 374,609.5 375,610.3 375.9,610.6 376.9,610.2 377.8,610 378.8,609.7 379.8,609.3 380.7,609.1 381.7,609.1 382.6,609.6 383.6,609.4 384.6,608.8 385.5,609.6 386.5,610.1 387.4,609.6 388.4,609.6 389.4,609.2 390.3,608.8 391.3,609 392.2,609.4 393.2,610 394.2,609.9 395.1,609.5 396.1,609.4 397,609.8 398,609.9 399,609.4 399.9,608.8 400.9,608.8 401.8,608.9 402.8,608.8 403.8,608.7 404.7,608.3 405.7,608.5 406.6,608.7 407.6,608.8 408.6,608.5 409.5,607.9 410.5,608 411.4,608.1 412.4,608.4 413.4,608.8 414.3,608.6 415.3,607.8 416.2,608.7 417.2,608.5 418.2,608 419.1,608.3 420.1,608.3 421,608.4 422,607.9 423,607.2 423.9,597.1 424.9,582.1 425.8,566.2 426.8,550.1 427.8,537.3 428.7,526.1 429.7,519.3 430.6,512.5 431.6,508.4 432.6,505.2 433.5,503.1 434.5,500.8 435.4,499.2 436.4,497.7 437.4,497.1 438.3,496.7 439.3,495.8 440.2,495.2 441.2,495.3 442.2,495 443.1,494.8 444.1,495.3 445,495.4 446,494.8 447,495.3 447.9,495.6 448.9,495.5 449.8,495.7 450.8,495.7 451.8,495.9 452.7,496.1 453.7,496.3 454.6,496.2 455.6,496.2 456.6,496.9 457.5,497 458.5,496.3 459.4,496.3 460.4,496.6 461.4,497.5 462.3,497.5 463.3,496.8 464.2,496.7 465.2,497.2 466.2,497.8 467.1,497.7 468.1,497.8 469,498.2 470,498.3 471,497.9 471.9,497.9 472.9,497.4 473.8,497.5 474.8,498.1 475.8,497.7 476.7,497.7 477.7,497.7 478.7,497.5 479.6,498 480.6,498.4 481.5,498.2 482.5,498.1 483.5,498.1 484.4,498.3 485.4,498.2 486.3,498.2 487.3,498.5 488.3,498.4 489.2,498.7 490.2,498.7 491.1,498.5 492.1,498.8 493.1,499.3 494,498.5 495,498.1 495.9,498.5 496.9,498.7 497.9,498.2 498.8,498.1 499.8,499.1 500.7,498.9 501.7,498.6 502.7,498.7 503.6,498.4 504.6,498.2 505.5,498 506.5,498.5 507.5,498.3 508.4,497.4 509.4,497.9 510.3,498.4 511.3,498.2 512.3,498.4 513.2,498.8 514.2,499.2 515.1,498.5 516.1,498.2 517.1,498.7 518,498.3 519,497.8 519.9,498.1 520.9,498.7 521.9,499 522.8,498.3 523.8,498.9 524.7,499.7 525.7,499.4 526.7,498.7 527.6,498.4 528.6,498.5 529.5,498.6 530.5,498.7 531.5,498.4 532.4,497.4 533.4,497.6 534.3,498.3 535.3,498.6 536.3,498.5 537.2,498.3 538.2,498.7 539.1,498.9 540.1,499.2 541.1,499.2 542,499.2 543,499.5 543.9,498.6 544.9,498.1 545.9,498.4 546.8,498.4 547.8,499.1 548.7,499.2 549.7,499 550.7,499.3 551.6,499.1 552.6,498.8 553.5,498.7 554.5,498.7 555.5,498.8 556.4,498.9 557.4,498.4 558.3,497.8 559.3,497.8 560.3,498.5 561.2,498.7 562.2,498.4 563.1,498.2 564.1,498.2 565.1,498.1 566,498.3 567,498.8 567.9,499.3 568.9,498.9 569.9,498.3 570.8,498.9 571.8,499 572.7,498.9 573.7,499 574.7,498.4 575.6,498.4 576.6,498.2 577.5,498.1 578.5,499 579.5,498.9 580.4,498 581.4,498.1 582.3,498.7 583.3,499.3 584.3,499.2 585.2,499 586.2,499.2 587.1,498.4 588.1,498.4 589.1,498.6 590,498.6 591,498.9 591.9,498.7 592.9,498.3 593.9,498.4 594.8,498.7 595.8,499 596.7,499.5 597.7,499.1 598.7,498.7 599.6,498.6 600.6,498.3 601.5,498.1 602.5,498.7 603.5,498.8 604.4,498.5 605.4,498.6 606.3,499.4 607.3,499.5 608.3,498.9 609.2,498.4 610.2,498.5 611.1,499.1 612.1,498.6 613.1,498.2 614,498.8 615,498.6 615.9,498.3 616.9,498.4 617.9,498.8 618.8,499 619.8,498.5 620.7,498.4 621.7,498.5 622.7,499 623.6,499.3 624.6,498.9 625.5,498.9 626.5,499.3 627.5,499.3 628.4,498.3 629.4,498.1 630.3,498.7 631.3,499 632.3,499.2 633.2,498.9 634.2,498.8 635.1,499 636.1,498.5 637.1,498.1 638,498.2 639,498.9 640,499.3 640.9,498.4 641.9,498.6 642.8,498.6 643.8,498.3 644.8,498.3 645.7,498.5 646.7,499.1 647.6,499.3 648.6,498.5 649.6,499.5 650.5,503.8 651.5,508.6 652.4,512.3 653.4,516.2 654.4,518.2 655.3,519.9 656.3,521.5 657.2,522.1 658.2,523.4 659.2,523.6 660.1,522.6 661.1,522.4 662,521.9 663,520.8 664,520.1 664.9,519.1 665.9,517.7 666.8,517.2 667.8,517.1 668.8,516.7 669.7,515.8 670.7,515.3 671.6,514.3 672.6,512.8 673.6,512.8 674.5,512.2 675.5,511.7 676.4,511.5 677.4,510.5 678.4,510 679.3,509.6 680.3,508.9 681.2,508 682.2,507.3 683.2,506.8 684.1,506.2 685.1,506.4 686,506.7 687,506.7 688,506 688.9,505.9 689.9,505.8 690.8,505.3 691.8,504.9 692.8,503.7 693.7,503.6 694.7,503.8 695.6,503.4 696.6,503 697.6,503.1 698.5,502.9 699.5,502.3 700.4,502.4 701.4,502.5 702.4,501.6 703.3,500.9 704.3,500.9 705.2,501.2 706.2,501.2 707.2,501.1 708.1,501.3 709.1,501 710,500.5 711,500.7 712,500.7 712.9,500.2 713.9,499.8 714.8,500.3 715.8,499.5 716.8,499.4 717.7,499.8 718.7,499.5 719.6,499.3 720.6,498.9 721.6,498.7 722.5,498.6 723.5,499 724.4,498.6 725.4,498.3 726.4,498.8 727.3,498.8 728.3,498.9 729.2,498.8 730.2,498 731.2,497.7 732.1,498.1 733.1,498.3 734,498.1 735,498.5 736,498.3 736.9,498 737.9,498.9 738.8,498.8 739.8,498.5 740.8,498.6 741.7,498.1 742.7,498.2 743.6,498.3 744.6,497.8 745.6,498.3 746.5,499.2 747.5,498.8 748.4,498.3 749.4,497.7 750.4,497.3 751.3,497.8 752.3,498.1 753.2,498.8 754.2,499.2 755.2,498.7 756.1,498.3 757.1,498.3 758,498.3 759,498 760,498.2 760.9,498.5 761.9,498.6 762.8,498.1 763.8,498.4 764.8,498.6 765.7,497.8 766.7,498.5 767.6,498.9 768.6,498 769.6,498.1 770.5,498.6 771.5,498.3 772.4,497.8 773.4,497.6 774.4,498.2 775.3,498.8 776.3,499 777.2,498.5 778.2,498.7 779.2,498.9 780.1,498.1 781.1,498.3 782,498.6 783,498.3 784,497.9 784.9,498.3 785.9,498.5 786.8,498.1 787.8,498.1 788.8,498.5 789.7,498.4 790.7,498.2 791.6,498.4 792.6,498.4 793.6,497.8 794.5,497.5 795.5,497.4 796.4,497.6 797.4,498.3 798.4,497.7 799.3,497.7 800.3,498 801.3,497.6 802.2,497.8 803.2,498.4 804.1,498.4 805.1,497.9 806.1,497.7 807,497.6 808,497.8 808.9,498.3 809.9,498.6 810.9,498.5 811.8,498.4 812.8,498.4 813.7,498.5 814.7,498.6 815.7,498.5 816.6,498 817.6,498 818.5,498.4 819.5,498.1 820.5,497.5 821.4,497.9 822.4,498.4 823.3,498.8 824.3,499.2 825.3,498.7 826.2,497.8 827.2,497.3 828.1,497.5 829.1,498.2 830.1,498.3 831,498.5 832,498.7 832.9,498.7 833.9,498.6 834.9,497.9 835.8,497.2 836.8,497.6 837.7,498.1 838.7,498.7 839.7,499 840.6,498.1 841.6,497.6 842.5,497.8 843.5,498 844.5,497.7 845.4,498 846.4,498.5 847.3,497.6 848.3,497.8 849.3,498.5 850.2,498.4 851.2,498.1 852.1,498.1 853.1,498.6 854.1,498.6 855,498.3 856,498.5 856.9,499.2 857.9,498.9 858.9,498.6 859.8,498.4 860.8,498.4 861.7,498.8 862.7,498.6 863.7,498.3 864.6,498.1 865.6,498.2 866.5,499 867.5,499.1 868.5,498.5 869.4,498.6 870.4,498.4 871.3,498.5 872.3,498.3 873.3,498.3 874.2,498.2 875.2,498.5 876.1,500.1 877.1,506.5 878.1,516.2 879,529.5 880,545.4 880.9,558.8 881.9,570.4 882.9,577.3 883.8,583.6 884.8,587.8 885.7,591.2 886.7,595.2 887.7,597.4 888.6,599.4 889.6,602.1 890.5,603.1 891.5,604 892.5,605.2 893.4,606 894.4,606.3 895.3,606.3 896.3,606.8 897.3,607.8 898.2,608.4 899.2,608.4 900.1,608.5 901.1,608.9 902.1,608.9 903,608.9 904,608.8 904.9,609 905.9,609.2 906.9,609.3 907.8,609.9 908.8,609.4 909.7,608.6 910.7,609 911.7,609.1 912.6,608.9 913.6,609.5 914.5,609.2 915.5,609.5 916.5,609.9 917.4,609.1 918.4,609.4 919.3,609.2 920.3,609 921.3,609.1 922.2,609 923.2,609.2 924.1,609.2 925.1,608.7 926.1,608.6 927,609 928,608.9 928.9,609.2 929.9,609.5 930.9,609.4 931.8,609 932.8,608.9 933.7,609 934.7,609.3 935.7,609.3 936.6,609.5 937.6,609.7 938.5,610 939.5,610.2 940.5,609.7 941.4,609.9 942.4,610.1 943.3,609.5 944.3,609 945.3,608.9 946.2,608.7 947.2,608.9 948.1,609 949.1,609.1 950.1,608.9 951,609.4 952,609.9 952.9,609.1 953.9,608.8 954.9,609.1 955.8,609.4 956.8,609.2 957.8,609.2 958.7,609.7 959.7,609.3 960.6,609.1 961.6,609.4 962.6,609.8 963.5,610.6 964.5,610 965.4,608.7 966.4,609.5 967.4,610.1 968.3,609.3 969.3,609.1 970.2,609.3 971.2,609.3 972.2,609.6 973.1,609.3 974.1,608.7 975,608.9 976,609.9 977,609.5 977.9,608.8 978.9,609.2 979.8,608.6 980.8,608.4 981.8,608.9 982.7,609 983.7,608.8 984.6,609.3 985.6,609.4 986.6,609.8 987.5,610.3 988.5,609.7 989.4,608.8 990.4,609.2 991.4,609.2 992.3,608.9 993.3,608.7 994.2,608.8 995.2,608.5 996.2,608.3 997.1,609.2 998.1,609.3 999,609.7 1000,609.7 1001,609.2 1001.9,609.2 1002.9,609.2 1003.8,610.1 1004.8,610.8 1005.8,610.2 1006.7,609.8 1007.7,609.4 1008.6,609.3 1009.6,609.4 1010.6,609.2 1011.5,608.8 1012.5,608.8 1013.4,609.1 1014.4,609.5 1015.4,609.4 1016.3,608.9 1017.3,609.1 1018.2,609.1 1019.2,609.3 1020.2,609.6 1021.1,609.2 1022.1,609.2 1023,608.9 1024,608.7 1025,609.2 1025.9,609.7 1026.9,609.5 1027.8,609.4 1028.8,609.5 1029.8,609.7 1030.7,609.3 1031.7,608.9 1032.6,609.1 1033.6,608.9 1034.6,609.6 1035.5,609.9 1036.5,609.3 1037.4,609.1 1038.4,608.9 1039.4,608.9 1040.3,608.7 1041.3,609.4 1042.2,610.1 1043.2,609.2 1044.2,608.4 1045.1,609 1046.1,609.1 1047,608.6 1048,609.3 1049,609.8 1049.9,609.3 1050.9,609.1 1051.8,608.7 1052.8,608.5 1053.8,608.8 1054.7,609.1 1055.7,609.7 1056.6,609.7 1057.6,609 1058.6,608.2 1059.5,608.9 1060.5,609.5 1061.4,610 1062.4,609.5 1063.4,609.2 1064.3,609.3 1065.3,608.6 1066.2,609.2 1067.2,609.8 1068.2,609.2 1069.1,608.6 1070.1,608.9 1071,609.7 1072,609.4 1073,608.7 1073.9,609.1 1074.9,609.7 1075.8,609.1 1076.8,608.8 1077.8,609.4 1078.7,609.4 1079.7,609.1 1080.6,608.8 1081.6,608.8 1082.6,609.1 1083.5,609.7 1084.5,609.5 1085.4,608.9 1086.4,609 1087.4,609.1 1088.3,609.1 1089.3,608.9 1090.2,609 1091.2,609.7 1092.2,609.3 1093.1,609 1094.1,609.4 1095,609.1 1096,609.1 1097,609.3 1097.9,609.5 1098.9,609.1 1099.8,609.2 1100.8,609.2 1101.8,609.2 1102.7,609.7 1103.7,606.5 1104.6,601 1105.6,596.4 1106.6,592.7 1107.5,590.9 1108.5,588.4 1109.4,587 1110.4,586.5 1111.4,585.8 1112.3,586.2 1113.3,586.4 1114.2,586.6 1115.2,587.1 1116.2,587.9 1117.1,589.5 1118.1,590.1 1119.1,590.5 1120,591.5 1121,593.3 1121.9,594.2 1122.9,594 1123.9,594.4 1124.8,594.9 1125.8,595.1 1126.7,595.7 1127.7,596.6 1128.7,597 1129.6,597.1 1130.6,597.8 1131.5,599 1132.5,599.8 1133.5,599.5 1134.4,599.7 1135.4,601 1136.3,601.5 1137.3,601.4 1138.3,601.7 1139.2,601.8 1140.2,602.1 1141.1,602.7 1142.1,603.6 1143.1,603.8 1144,603.2 1145,603.7 1145.9,604.1 1146.9,604.3 1147.9,605.2 1148.8,605 1149.8,605.1 1150.7,605.4 1151.7,605.8 1152.7,605.9 1153.6,605.6 1154.6,606.2 1155.5,606.4 1156.5,606 1157.5,606.1 1158.4,607 1159.4,607.1 1160.3,606.9 1161.3,607.4 1162.3,607.3 1163.2,607.6 1164.2,607.9 1165.1,607.9 1166.1,607.7 1167.1,607.4 1168,607.7 1169,607.8 1169.9,607.8 1170.9,607.7 1171.9,608.2 1172.8,608.6 1173.8,608.2 1174.7,608.3 1175.7,608.2 1176.7,608.1 1177.6,608.2 1178.6,608.4 1179.5,608.6 1180.5,608.8 1181.5,609 1182.4,608.7 1183.4,608.3 1184.3,608.3 1185.3,608.7 1186.3,609.2 1187.2,608.4 1188.2,608 1189.1,609.2 1190.1,609.3 1191.1,608.8 1192,609.1 1193,609.3 1193.9,609.5 1194.9,609.6 1195.9,609.6 1196.8,609.8 1197.8,609.7 1198.7,609.6 1199.7,609.3 1200.7,608.8 1201.6,609 1202.6,609.4 1203.5,609.2 1204.5,609.2 1205.5,608.8 1206.4,609.6 1207.4,610.8 1208.3,610.4 1209.3,609.6 1210.3,609.1 1211.2,609.4 1212.2,609.6 1213.1,609.6 1214.1,609.4 1215.1,608.8 1216,609.6 1217,609.6 1217.9,608.6 1218.9,609.3 1219.9,609.5 1220.8,609.4 1221.8,609.4 1222.7,609.3 1223.7,609.2 1224.7,609.6 1225.6,609.7 1226.6,609.6 1227.5,609.8 1228.5,609.4 1229.5,609.4 1230.4,609.6 1231.4,609.4 1232.3,609.4 1233.3,609.9 1234.3,609.8 1235.2,609.4 1236.2,608.8 1237.1,609.2 1238.1,609.5 1239.1,609.4 1240,609.8 1241,609.1 1241.9,609.1 1242.9,609.4 1243.9,609.3 1244.8,609.8 1245.8,609.9 1246.7,609.8 1247.7,609.8 1248.7,609.1 1249.6,608.9 1250.6,609.9 1251.5,609.5 1252.5,608.9 1253.5,609.2 1254.4,608.8 1255.4,609.4 1256.3,609.7 1257.3,609.5 1258.3,609.7 1259.2,609.8 1260.2,609.6 1261.1,609.2 1262.1,609 1263.1,609.3 1264,609.1 1265,609.9 1265.9,610.2 1266.9,609.5 1267.9,609.4 1268.8,609.1 1269.8,609.1 1270.7,609.1 1271.7,609.2 1272.7,609.4 1273.6,609.3 1274.6,609.6 1275.5,609.5 1276.5,609.3 1277.5,609.7 1278.4,609.6 1279.4,609.4 1280.4,609.6 1281.3,610.3 1282.3,610.4 1283.2,610.2 1284.2,609.9 1285.2,609.6 1286.1,610 1287.1,609.8 1288,610 1289,610 1290,610 1290.9,610 1291.9,609.4 1292.8,609 1293.8,608.8 1294.8,609.3 1295.7,610 1296.7,609.7 1297.6,609 1298.6,609.4 1299.6,609.5 1300.5,609.3 1301.5,610.4 1302.4,610.4 1303.4,609.1 1304.4,608.9 1305.3,609.1 1306.3,609.2 1307.2,610 1308.2,610.8 1309.2,610.6 1310.1,610.1 1311.1,610 1312,610.2 1313,609.6 1314,609 1314.9,609.7 1315.9,610.4 1316.8,610 1317.8,609.7 1318.8,610.4 1319.7,609.5 1320.7,608.6 1321.6,609.3 1322.6,610.1 1323.6,610.1 1324.5,609.7 1325.5,609.7 1326.4,609.7 1327.4,609.7 1328.4,609.7 1329.3,609.7" fill="none" stroke="#3a74f0" stroke-width="7.7" />
<line x1="1326.7" y1="604.4" x2="1326.7" y2="1045.4" stroke="#3a74f0" stroke-width="5.2" />
</g>
<g id="axes3d" stroke="#000" fill="none" stroke-linecap="square" stroke-linejoin="miter">
<polyline points="1284.6,1109.6 151,1110 151,543.2 513.8,36.2 1645.8,36 1645.8,602.8 1284.6,1109.6" stroke-width="3.9"/>
</g>
<g id="ticks3d" stroke="#000" stroke-width="3" stroke-linecap="butt">
<line x1="151" y1="1000.5" x2="166.5" y2="1000.5" stroke="#000" stroke-width="3" />
<line x1="151" y1="891.1" x2="166.5" y2="891.1" stroke="#000" stroke-width="3" />
<line x1="151" y1="781.6" x2="166.5" y2="781.6" stroke="#000" stroke-width="3" />
<line x1="151" y1="672.2" x2="166.5" y2="672.2" stroke="#000" stroke-width="3" />
<line x1="151" y1="562.8" x2="166.5" y2="562.8" stroke="#000" stroke-width="3" />
<line x1="1645.8" y1="602.8" x2="1631.8" y2="602.8" stroke="#000" stroke-width="3" />
<line x1="1645.8" y1="493.3" x2="1631.8" y2="493.3" stroke="#000" stroke-width="3" />
<line x1="1645.8" y1="383.9" x2="1631.8" y2="383.9" stroke="#000" stroke-width="3" />
<line x1="1645.8" y1="274.4" x2="1631.8" y2="274.4" stroke="#000" stroke-width="3" />
<line x1="1645.8" y1="165" x2="1631.8" y2="165" stroke="#000" stroke-width="3" />
<line x1="1645.8" y1="55.5" x2="1631.8" y2="55.5" stroke="#000" stroke-width="3" />
<line x1="377.7" y1="1109.9" x2="377.7" y2="1094.4" stroke="#000" stroke-width="3" />
<line x1="604.4" y1="1109.8" x2="604.4" y2="1094.3" stroke="#000" stroke-width="3" />
<line x1="831.2" y1="1109.8" x2="831.2" y2="1094.3" stroke="#000" stroke-width="3" />
<line x1="1057.9" y1="1109.7" x2="1057.9" y2="1094.2" stroke="#000" stroke-width="3" />
<line x1="1283" y1="1109.6" x2="1283" y2="1094.1" stroke="#000" stroke-width="3" />
<line x1="1329.3" y1="1046.9" x2="1316.3" y2="1046.9" stroke="#000" stroke-width="2.6" />
<line x1="1420.3" y1="919.1" x2="1407.3" y2="919.1" stroke="#000" stroke-width="2.6" />
<line x1="1510.4" y1="792.7" x2="1497.4" y2="792.7" stroke="#000" stroke-width="2.6" />
<line x1="1601.4" y1="665.1" x2="1588.4" y2="665.1" stroke="#000" stroke-width="2.6" />
</g>
<g id="labels3d">
<text x="141" y="1027.8" font-size="62.5" text-anchor="end" >300</text>
<text x="141" y="918.4" font-size="62.5" text-anchor="end" >600</text>
<text x="141" y="808.9" font-size="62.5" text-anchor="end" >900</text>
<text x="141" y="699.5" font-size="62.5" text-anchor="end" >1200</text>
<text x="141" y="590" font-size="62.5" text-anchor="end" >1500</text>
<text x="141" y="1138" font-size="62.5" text-anchor="end" >0</text>
<text x="376.7" y="1171.5" font-size="62.5" text-anchor="middle" >0.3</text>
<text x="603.4" y="1171.5" font-size="62.5" text-anchor="middle" >0.6</text>
<text x="830.2" y="1171.5" font-size="62.5" text-anchor="middle" >0.9</text>
<text x="1056.9" y="1171.5" font-size="62.5" text-anchor="middle" >1.2</text>
<text x="1283.6" y="1171.5" font-size="62.5" text-anchor="middle" >1.5</text>
<text x="1143" y="1236.5" font-size="62.5" text-anchor="start" >t(s)</text>
<text x="1659.3" y="620.1" font-size="62.5" text-anchor="start" >0</text>
<text x="1659.3" y="512.1" font-size="62.5" text-anchor="start" >300</text>
<text x="1659.3" y="402.7" font-size="62.5" text-anchor="start" >600</text>
<text x="1659.3" y="293.2" font-size="62.5" text-anchor="start" >900</text>
<text x="1659.3" y="183.8" font-size="62.5" text-anchor="start" >1200</text>
<text x="1659.3" y="74.3" font-size="62.5" text-anchor="start" >1500</text>
<text transform="translate(1401.4 1072.5) rotate(-52.3) scale(0.825 1)" font-size="71" text-anchor="middle">real</text>
<text transform="translate(1479.2 955.7) rotate(-52.3) scale(0.825 1)" font-size="71" text-anchor="middle">EKF</text>
<text transform="translate(1563.2 827.6) rotate(-52.3) scale(0.825 1)" font-size="70" text-anchor="middle">MHE</text>
<text transform="translate(1648 696.5) rotate(-52.3) scale(0.825 1)" font-size="71" text-anchor="middle">SMO</text>
<text transform="translate(1816.5 373.2) rotate(-90)" font-size="79" font-style="italic" text-anchor="start">(rpm)</text>
<text transform="translate(1837.5 394) rotate(-90)" font-size="55" font-style="italic" text-anchor="start">r</text>
</g>
<g id="grid2" stroke="#e2e2e2" stroke-width="2">
<line x1="610.2" y1="1378" x2="610.2" y2="2302.3" stroke="#e2e2e2" stroke-width="2" />
<line x1="905.1" y1="1378" x2="905.1" y2="2302.3" stroke="#e2e2e2" stroke-width="2" />
<line x1="1200" y1="1378" x2="1200" y2="2302.3" stroke="#e2e2e2" stroke-width="2" />
<line x1="1494.9" y1="1378" x2="1494.9" y2="2302.3" stroke="#e2e2e2" stroke-width="2" />
<line x1="315.4" y1="2248.4" x2="1789.8" y2="2248.4" stroke="#e2e2e2" stroke-width="2" />
<line x1="315.4" y1="2085.4" x2="1789.8" y2="2085.4" stroke="#e2e2e2" stroke-width="2" />
<line x1="315.4" y1="1922.4" x2="1789.8" y2="1922.4" stroke="#e2e2e2" stroke-width="2" />
<line x1="315.4" y1="1759.4" x2="1789.8" y2="1759.4" stroke="#e2e2e2" stroke-width="2" />
<line x1="315.4" y1="1596.4" x2="1789.8" y2="1596.4" stroke="#e2e2e2" stroke-width="2" />
<line x1="315.4" y1="1433.4" x2="1789.8" y2="1433.4" stroke="#e2e2e2" stroke-width="2" />
</g>
<g id="curves2" fill="none" stroke-linejoin="round" stroke-linecap="butt">
<polyline points="315.3,2246.8 317.3,2182 319.3,2054.5 321.3,1927 323.3,1792.8 325.3,1692.5 327.3,1646.6 329.3,1620.7 331.3,1609.4 333.3,1602.9 335.3,1599.1 337.3,1595.8 339.3,1594 341.3,1592.6 343.3,1591.3 345.3,1590.9 347.3,1590.6 349.3,1590.2 351.3,1590.1 353.3,1590.1 355.6,1590 358.4,1590 361.3,1589.9 364.2,1589.8 367.1,1589.7 369.9,1589.7 372.8,1589.9 375.7,1590.4 378.6,1590.9 381.4,1591.5 384.3,1592 387.2,1592.5 390,1593 392.9,1593.5 395.8,1594 398.7,1593.8 401.5,1593.6 404.4,1593.5 407.3,1593.3 410.2,1593.1 413,1593 415.9,1592.8 418.8,1592.6 421.6,1592.5 424.5,1592.4 427.4,1592.3 430.3,1592.2 433.1,1592.1 436,1592 438.9,1591.9 441.7,1591.8 444.6,1591.7 447.5,1591.7 450.4,1591.7 453.2,1591.7 456.1,1591.7 459,1591.7 461.9,1591.7 464.7,1591.7 467.6,1591.7 470.5,1591.7 473.3,1591.7 476.2,1591.7 479.1,1591.7 482,1591.7 484.8,1591.7 487.7,1591.7 490.6,1591.7 493.4,1591.9 496.3,1592.1 499.2,1592.4 502.1,1592.6 504.9,1592.9 507.8,1593.1 510.7,1593.4 513.6,1593.6 516.4,1594 519.3,1594.4 522.2,1594.8 525,1595.3 527.9,1595.7 530.8,1596.1 533.7,1596.3 536.5,1595.9 539.4,1595.5 542.3,1595.1 545.1,1594.7 548,1594.4 550.9,1594 553.8,1593.8 556.6,1593.7 559.5,1593.6 562.4,1593.4 565.3,1593.3 568.1,1593.1 571,1593 573.9,1592.9 576.7,1592.7 579.6,1592.6 582.5,1592.4 585.4,1592.3 588.2,1592.2 591.1,1592.1 594,1592 596.8,1591.9 599.7,1591.8 602.6,1591.8 605.5,1591.7 608.3,1591.6 611.2,1584.3 614.1,1536 617,1485.2 619.8,1456.2 622.7,1439.7 625.6,1431.2 628.4,1427 631.3,1424.7 634.2,1423.5 637.1,1423.3 639.9,1423.6 642.8,1423.9 645.7,1424.3 648.5,1424.7 651.4,1425.1 654.3,1425.5 657.2,1425.8 660,1426.1 662.9,1426.3 665.8,1426.6 668.7,1426.9 671.5,1427 674.4,1427.1 677.3,1427.2 680.1,1427.4 683,1427.5 685.9,1427.6 688.8,1427.7 691.6,1427.8 694.5,1427.9 697.4,1428 700.3,1428 703.1,1428.1 706,1428.2 708.9,1428.3 711.7,1428.3 714.6,1428.3 717.5,1428.4 720.4,1428.4 723.2,1428.4 726.1,1428.5 729,1428.5 731.8,1428.5 734.7,1428.6 737.6,1428.6 740.5,1428.6 743.3,1428.7 746.2,1428.7 749.1,1428.7 752,1428.7 754.8,1428.8 757.7,1428.8 760.6,1428.8 763.4,1428.8 766.3,1428.8 769.2,1428.8 772.1,1428.8 774.9,1428.8 777.8,1428.8 780.7,1428.8 783.5,1428.8 786.4,1428.8 789.3,1428.8 792.2,1428.8 795,1428.8 797.9,1428.8 800.8,1428.8 803.7,1428.8 806.5,1428.8 809.4,1428.8 812.3,1428.8 815.1,1428.8 818,1428.7 820.9,1428.7 823.8,1428.7 826.6,1428.7 829.5,1428.7 832.4,1428.7 835.2,1428.7 838.1,1428.6 841,1428.6 843.9,1428.6 846.7,1428.6 849.6,1428.6 852.5,1428.6 855.4,1428.5 858.2,1428.5 861.1,1428.5 864,1428.5 866.8,1428.5 869.7,1428.5 872.6,1428.5 875.5,1428.5 878.3,1428.5 881.2,1428.5 884.1,1428.5 886.9,1428.5 889.8,1428.5 892.7,1428.5 895.6,1428.5 898.4,1428.5 901.3,1428.5 904.2,1428.5 907.1,1437.7 909.9,1451.7 912.8,1460.2 915.7,1463.8 918.5,1464.6 921.4,1463.5 924.3,1460.9 927.2,1458.1 930,1455.2 932.9,1452.8 935.8,1450.6 938.6,1448.3 941.5,1446.2 944.4,1444.5 947.3,1442.8 950.1,1441.1 953,1439.7 955.9,1438.5 958.8,1437.3 961.6,1436.2 964.5,1435.5 967.4,1434.8 970.2,1434.1 973.1,1433.4 976,1432.6 978.9,1431.9 981.7,1431.2 984.6,1430.9 987.5,1430.5 990.4,1430.2 993.2,1429.8 996.1,1429.5 999,1429.1 1001.8,1428.8 1004.7,1428.7 1007.6,1428.7 1010.5,1428.6 1013.3,1428.5 1016.2,1428.4 1019.1,1428.4 1021.9,1428.3 1024.8,1428.2 1027.7,1428.1 1030.6,1428.1 1033.4,1428 1036.3,1428 1039.2,1428 1042.1,1428 1044.9,1427.9 1047.8,1427.9 1050.7,1427.9 1053.5,1427.9 1056.4,1427.9 1059.3,1427.9 1062.2,1427.9 1065,1427.9 1067.9,1427.9 1070.8,1427.8 1073.6,1427.8 1076.5,1427.8 1079.4,1427.8 1082.3,1427.8 1085.1,1427.8 1088,1427.8 1090.9,1427.8 1093.8,1427.8 1096.6,1427.7 1099.5,1427.7 1102.4,1427.7 1105.2,1427.8 1108.1,1427.8 1111,1427.8 1113.9,1427.8 1116.7,1427.9 1119.6,1427.9 1122.5,1427.9 1125.3,1427.9 1128.2,1427.9 1131.1,1428 1134,1428 1136.8,1428 1139.7,1428 1142.6,1428.1 1145.5,1428.1 1148.3,1428.1 1151.2,1428.1 1154.1,1428.2 1156.9,1428.2 1159.8,1428.2 1162.7,1428.2 1165.6,1428.3 1168.4,1428.3 1171.3,1428.3 1174.2,1428.3 1177,1428.4 1179.9,1428.4 1182.8,1428.4 1185.7,1428.4 1188.5,1428.4 1191.4,1428.5 1194.3,1428.5 1197.2,1428.5 1200,1429.4 1202.9,1458.7 1205.8,1508.2 1208.6,1543.7 1211.5,1563.1 1214.4,1574.6 1217.3,1581.8 1220.1,1586.2 1223,1589.6 1225.9,1590.9 1228.7,1592.3 1231.6,1592.9 1234.5,1593.2 1237.4,1593.5 1240.2,1593.7 1243.1,1593.8 1246,1593.8 1248.9,1593.9 1251.7,1593.9 1254.6,1594 1257.5,1594 1260.3,1594.1 1263.2,1594.2 1266.1,1594.2 1269,1594.3 1271.8,1594.3 1274.7,1594.2 1277.6,1594.2 1280.4,1594.2 1283.3,1594.2 1286.2,1594.2 1289.1,1594.2 1291.9,1594.2 1294.8,1594.2 1297.7,1594.2 1300.6,1594.2 1303.4,1594.2 1306.3,1594.2 1309.2,1594.2 1312,1594.2 1314.9,1594.2 1317.8,1594.2 1320.7,1594.1 1323.5,1594.1 1326.4,1594.1 1329.3,1594.1 1332.2,1594.1 1335,1594.1 1337.9,1594.1 1340.8,1594.1 1343.6,1594.1 1346.5,1594.1 1349.4,1594.1 1352.3,1594.1 1355.1,1594.1 1358,1594.1 1360.9,1594.1 1363.7,1594.1 1366.6,1594 1369.5,1594 1372.4,1594 1375.2,1594 1378.1,1594 1381,1594 1383.9,1594 1386.7,1594 1389.6,1594 1392.5,1594 1395.3,1594 1398.2,1594 1401.1,1594 1404,1594 1406.8,1594 1409.7,1594 1412.6,1594 1415.4,1594 1418.3,1594 1421.2,1594 1424.1,1594 1426.9,1594 1429.8,1594 1432.7,1594 1435.6,1594 1438.4,1594 1441.3,1594 1444.2,1594 1447,1594 1449.9,1594 1452.8,1594 1455.7,1594 1458.5,1594 1461.4,1594 1464.3,1594 1467.1,1594 1470,1594 1472.9,1594 1475.8,1594 1478.6,1594 1481.5,1594 1484.4,1594 1487.3,1594 1490.1,1594 1493,1594 1495.9,1592 1498.7,1575.5 1501.6,1565.2 1504.5,1560.8 1507.4,1559.3 1510.2,1560.9 1513.1,1563.5 1516,1566.2 1518.8,1568.9 1521.7,1571.4 1524.6,1573.1 1527.5,1574.8 1530.3,1576.6 1533.2,1578.3 1536.1,1580 1539,1581.8 1541.8,1583.3 1544.7,1584.1 1547.6,1585 1550.4,1585.9 1553.3,1586.7 1556.2,1587.6 1559.1,1588.4 1561.9,1589.2 1564.8,1589.7 1567.7,1590.1 1570.5,1590.5 1573.4,1591 1576.3,1591.4 1579.2,1591.9 1582,1592.2 1584.9,1592.4 1587.8,1592.6 1590.7,1592.8 1593.5,1593 1596.4,1593.2 1599.3,1593.4 1602.1,1593.7 1605,1593.8 1607.9,1593.8 1610.8,1593.9 1613.6,1593.9 1616.5,1594 1619.4,1594.1 1622.3,1594.1 1625.1,1594.2 1628,1594.2 1630.9,1594.3 1633.7,1594.3 1636.6,1594.4 1639.5,1594.5 1642.4,1594.5 1645.2,1594.5 1648.1,1594.5 1651,1594.5 1653.8,1594.5 1656.7,1594.6 1659.6,1594.6 1662.5,1594.6 1665.3,1594.6 1668.2,1594.6 1671.1,1594.6 1674,1594.6 1676.8,1594.6 1679.7,1594.6 1682.6,1594.6 1685.4,1594.6 1688.3,1594.6 1691.2,1594.6 1694.1,1594.6 1696.9,1594.6 1699.8,1594.6 1702.7,1594.6 1705.5,1594.6 1708.4,1594.7 1711.3,1594.7 1714.2,1594.7 1717,1594.7 1719.9,1594.7 1722.8,1594.7 1725.7,1594.7 1728.5,1594.7 1731.4,1594.7 1734.3,1594.7 1737.1,1594.7 1740,1594.7 1742.9,1594.7 1745.8,1594.7 1748.6,1594.7 1751.5,1594.7 1754.4,1594.7 1757.2,1594.7 1760.1,1594.7 1763,1594.8 1765.9,1594.8 1768.7,1594.8 1771.6,1594.8 1774.5,1594.8 1777.4,1594.8 1780.2,1594.8 1783.1,1594.8 1786,1594.8 1788.8,1594.8" fill="none" stroke="#c9ebf3" stroke-width="8.2" opacity="0.5"/>
<polyline points="315.3,2250 317.3,2185.2 319.3,2057.7 321.3,1930.2 323.3,1796 325.3,1695.7 327.3,1649.8 329.3,1623.9 331.3,1612.6 333.3,1606.1 335.3,1602.3 337.3,1599 339.3,1597.2 341.3,1595.8 343.3,1594.5 345.3,1594.1 347.3,1593.8 349.3,1593.4 351.3,1593.3 353.3,1593.3 355.6,1593.2 358.4,1593.2 361.3,1593.1 364.2,1593 367.1,1592.9 369.9,1592.9 372.8,1593.1 375.7,1593.6 378.6,1594.1 381.4,1594.7 384.3,1595.2 387.2,1595.7 390,1596.2 392.9,1596.7 395.8,1597.2 398.7,1597 401.5,1596.8 404.4,1596.7 407.3,1596.5 410.2,1596.3 413,1596.2 415.9,1596 418.8,1595.8 421.6,1595.7 424.5,1595.6 427.4,1595.5 430.3,1595.4 433.1,1595.3 436,1595.2 438.9,1595.1 441.7,1595 444.6,1594.9 447.5,1594.9 450.4,1594.9 453.2,1594.9 456.1,1594.9 459,1594.9 461.9,1594.9 464.7,1594.9 467.6,1594.9 470.5,1594.9 473.3,1594.9 476.2,1594.9 479.1,1594.9 482,1594.9 484.8,1594.9 487.7,1594.9 490.6,1594.9 493.4,1595.1 496.3,1595.3 499.2,1595.6 502.1,1595.8 504.9,1596.1 507.8,1596.3 510.7,1596.6 513.6,1596.8 516.4,1597.2 519.3,1597.6 522.2,1598 525,1598.5 527.9,1598.9 530.8,1599.3 533.7,1599.5 536.5,1599.1 539.4,1598.7 542.3,1598.3 545.1,1597.9 548,1597.6 550.9,1597.2 553.8,1597 556.6,1596.9 559.5,1596.8 562.4,1596.6 565.3,1596.5 568.1,1596.3 571,1596.2 573.9,1596.1 576.7,1595.9 579.6,1595.8 582.5,1595.6 585.4,1595.5 588.2,1595.4 591.1,1595.3 594,1595.2 596.8,1595.1 599.7,1595 602.6,1595 605.5,1594.9 608.3,1594.8 611.2,1587.5 614.1,1539.2 617,1488.4 619.8,1459.4 622.7,1442.9 625.6,1434.4 628.4,1430.2 631.3,1427.9 634.2,1426.7 637.1,1426.5 639.9,1426.8 642.8,1427.1 645.7,1427.5 648.5,1427.9 651.4,1428.3 654.3,1428.7 657.2,1429 660,1429.3 662.9,1429.5 665.8,1429.8 668.7,1430.1 671.5,1430.2 674.4,1430.3 677.3,1430.4 680.1,1430.6 683,1430.7 685.9,1430.8 688.8,1430.9 691.6,1431 694.5,1431.1 697.4,1431.2 700.3,1431.2 703.1,1431.3 706,1431.4 708.9,1431.5 711.7,1431.5 714.6,1431.5 717.5,1431.6 720.4,1431.6 723.2,1431.6 726.1,1431.7 729,1431.7 731.8,1431.7 734.7,1431.8 737.6,1431.8 740.5,1431.8 743.3,1431.9 746.2,1431.9 749.1,1431.9 752,1431.9 754.8,1432 757.7,1432 760.6,1432 763.4,1432 766.3,1432 769.2,1432 772.1,1432 774.9,1432 777.8,1432 780.7,1432 783.5,1432 786.4,1432 789.3,1432 792.2,1432 795,1432 797.9,1432 800.8,1432 803.7,1432 806.5,1432 809.4,1432 812.3,1432 815.1,1432 818,1431.9 820.9,1431.9 823.8,1431.9 826.6,1431.9 829.5,1431.9 832.4,1431.9 835.2,1431.9 838.1,1431.8 841,1431.8 843.9,1431.8 846.7,1431.8 849.6,1431.8 852.5,1431.8 855.4,1431.7 858.2,1431.7 861.1,1431.7 864,1431.7 866.8,1431.7 869.7,1431.7 872.6,1431.7 875.5,1431.7 878.3,1431.7 881.2,1431.7 884.1,1431.7 886.9,1431.7 889.8,1431.7 892.7,1431.7 895.6,1431.7 898.4,1431.7 901.3,1431.7 904.2,1431.7 907.1,1440.9 909.9,1454.9 912.8,1463.4 915.7,1467 918.5,1467.8 921.4,1466.7 924.3,1464.1 927.2,1461.3 930,1458.4 932.9,1456 935.8,1453.8 938.6,1451.5 941.5,1449.4 944.4,1447.7 947.3,1446 950.1,1444.3 953,1442.9 955.9,1441.7 958.8,1440.5 961.6,1439.4 964.5,1438.7 967.4,1438 970.2,1437.3 973.1,1436.6 976,1435.8 978.9,1435.1 981.7,1434.4 984.6,1434.1 987.5,1433.7 990.4,1433.4 993.2,1433 996.1,1432.7 999,1432.3 1001.8,1432 1004.7,1431.9 1007.6,1431.9 1010.5,1431.8 1013.3,1431.7 1016.2,1431.6 1019.1,1431.6 1021.9,1431.5 1024.8,1431.4 1027.7,1431.3 1030.6,1431.3 1033.4,1431.2 1036.3,1431.2 1039.2,1431.2 1042.1,1431.2 1044.9,1431.1 1047.8,1431.1 1050.7,1431.1 1053.5,1431.1 1056.4,1431.1 1059.3,1431.1 1062.2,1431.1 1065,1431.1 1067.9,1431.1 1070.8,1431 1073.6,1431 1076.5,1431 1079.4,1431 1082.3,1431 1085.1,1431 1088,1431 1090.9,1431 1093.8,1431 1096.6,1430.9 1099.5,1430.9 1102.4,1430.9 1105.2,1431 1108.1,1431 1111,1431 1113.9,1431 1116.7,1431.1 1119.6,1431.1 1122.5,1431.1 1125.3,1431.1 1128.2,1431.1 1131.1,1431.2 1134,1431.2 1136.8,1431.2 1139.7,1431.2 1142.6,1431.3 1145.5,1431.3 1148.3,1431.3 1151.2,1431.3 1154.1,1431.4 1156.9,1431.4 1159.8,1431.4 1162.7,1431.4 1165.6,1431.5 1168.4,1431.5 1171.3,1431.5 1174.2,1431.5 1177,1431.6 1179.9,1431.6 1182.8,1431.6 1185.7,1431.6 1188.5,1431.6 1191.4,1431.7 1194.3,1431.7 1197.2,1431.7 1200,1432.6 1202.9,1461.9 1205.8,1511.4 1208.6,1546.9 1211.5,1566.3 1214.4,1577.8 1217.3,1585 1220.1,1589.4 1223,1592.8 1225.9,1594.1 1228.7,1595.5 1231.6,1596.1 1234.5,1596.4 1237.4,1596.7 1240.2,1596.9 1243.1,1597 1246,1597 1248.9,1597.1 1251.7,1597.1 1254.6,1597.2 1257.5,1597.2 1260.3,1597.3 1263.2,1597.4 1266.1,1597.4 1269,1597.5 1271.8,1597.5 1274.7,1597.4 1277.6,1597.4 1280.4,1597.4 1283.3,1597.4 1286.2,1597.4 1289.1,1597.4 1291.9,1597.4 1294.8,1597.4 1297.7,1597.4 1300.6,1597.4 1303.4,1597.4 1306.3,1597.4 1309.2,1597.4 1312,1597.4 1314.9,1597.4 1317.8,1597.4 1320.7,1597.3 1323.5,1597.3 1326.4,1597.3 1329.3,1597.3 1332.2,1597.3 1335,1597.3 1337.9,1597.3 1340.8,1597.3 1343.6,1597.3 1346.5,1597.3 1349.4,1597.3 1352.3,1597.3 1355.1,1597.3 1358,1597.3 1360.9,1597.3 1363.7,1597.3 1366.6,1597.2 1369.5,1597.2 1372.4,1597.2 1375.2,1597.2 1378.1,1597.2 1381,1597.2 1383.9,1597.2 1386.7,1597.2 1389.6,1597.2 1392.5,1597.2 1395.3,1597.2 1398.2,1597.2 1401.1,1597.2 1404,1597.2 1406.8,1597.2 1409.7,1597.2 1412.6,1597.2 1415.4,1597.2 1418.3,1597.2 1421.2,1597.2 1424.1,1597.2 1426.9,1597.2 1429.8,1597.2 1432.7,1597.2 1435.6,1597.2 1438.4,1597.2 1441.3,1597.2 1444.2,1597.2 1447,1597.2 1449.9,1597.2 1452.8,1597.2 1455.7,1597.2 1458.5,1597.2 1461.4,1597.2 1464.3,1597.2 1467.1,1597.2 1470,1597.2 1472.9,1597.2 1475.8,1597.2 1478.6,1597.2 1481.5,1597.2 1484.4,1597.2 1487.3,1597.2 1490.1,1597.2 1493,1597.2 1495.9,1595.2 1498.7,1578.7 1501.6,1568.4 1504.5,1564 1507.4,1562.5 1510.2,1564.1 1513.1,1566.7 1516,1569.4 1518.8,1572.1 1521.7,1574.6 1524.6,1576.3 1527.5,1578 1530.3,1579.8 1533.2,1581.5 1536.1,1583.2 1539,1585 1541.8,1586.5 1544.7,1587.3 1547.6,1588.2 1550.4,1589.1 1553.3,1589.9 1556.2,1590.8 1559.1,1591.6 1561.9,1592.4 1564.8,1592.9 1567.7,1593.3 1570.5,1593.7 1573.4,1594.2 1576.3,1594.6 1579.2,1595.1 1582,1595.4 1584.9,1595.6 1587.8,1595.8 1590.7,1596 1593.5,1596.2 1596.4,1596.4 1599.3,1596.6 1602.1,1596.9 1605,1597 1607.9,1597 1610.8,1597.1 1613.6,1597.1 1616.5,1597.2 1619.4,1597.3 1622.3,1597.3 1625.1,1597.4 1628,1597.4 1630.9,1597.5 1633.7,1597.5 1636.6,1597.6 1639.5,1597.7 1642.4,1597.7 1645.2,1597.7 1648.1,1597.7 1651,1597.7 1653.8,1597.7 1656.7,1597.8 1659.6,1597.8 1662.5,1597.8 1665.3,1597.8 1668.2,1597.8 1671.1,1597.8 1674,1597.8 1676.8,1597.8 1679.7,1597.8 1682.6,1597.8 1685.4,1597.8 1688.3,1597.8 1691.2,1597.8 1694.1,1597.8 1696.9,1597.8 1699.8,1597.8 1702.7,1597.8 1705.5,1597.8 1708.4,1597.9 1711.3,1597.9 1714.2,1597.9 1717,1597.9 1719.9,1597.9 1722.8,1597.9 1725.7,1597.9 1728.5,1597.9 1731.4,1597.9 1734.3,1597.9 1737.1,1597.9 1740,1597.9 1742.9,1597.9 1745.8,1597.9 1748.6,1597.9 1751.5,1597.9 1754.4,1597.9 1757.2,1597.9 1760.1,1597.9 1763,1598 1765.9,1598 1768.7,1598 1771.6,1598 1774.5,1598 1777.4,1598 1780.2,1598 1783.1,1598 1786,1598 1788.8,1598" fill="none" stroke="#c9ebf3" stroke-width="8.2" opacity="0.5"/>
<polyline points="315.3,2246.2 316.6,2223.8 318,2138.6 319.3,2054.1 320.6,1968.9 322,1881.9 323.3,1792 324.6,1717.1 326,1674.9 327.3,1646 328.6,1626.1 330,1613.9 331.3,1608.7 332.6,1604.2 334,1601.1 335.3,1598.6 336.6,1596.4 338,1594.3 339.3,1593.5 340.6,1592.5 342,1591.7 343.3,1590.7 344.6,1590.4 346,1590.1 347.3,1590 348.6,1589.8 350,1589.5 351.3,1589.4 352.6,1589.5 354,1589.4 355.6,1590 357.5,1588.9 359.4,1591.2 361.3,1589.1 363.2,1588.5 365.2,1588.9 367.1,1589.7 369,1590.5 370.9,1588.5 372.8,1589.8 374.7,1589.7 376.6,1590.2 378.6,1591 380.5,1589.5 382.4,1591.1 384.3,1591.4 386.2,1591.4 388.1,1592.9 390,1592.5 392,1591.1 393.9,1593.1 395.8,1592.5 397.7,1593 399.6,1592 401.5,1592.4 403.4,1592.1 405.4,1592.6 407.3,1591.6 409.2,1592.8 411.1,1592.4 413,1592.4 414.9,1593.2 416.9,1591.8 418.8,1591.6 420.7,1591.5 422.6,1590.9 424.5,1592 426.4,1591 428.3,1589.7 430.3,1592.4 432.2,1590.8 434.1,1591 436,1592.4 437.9,1590.7 439.8,1591.2 441.7,1592.5 443.7,1590.7 445.6,1591.3 447.5,1591.3 449.4,1590.9 451.3,1589.9 453.2,1591.5 455.1,1591.8 457.1,1592 459,1591.6 460.9,1591.6 462.8,1590.8 464.7,1590.8 466.6,1591.7 468.6,1590.9 470.5,1590.9 472.4,1591.1 474.3,1590.7 476.2,1590.9 478.1,1590.5 480,1591.3 482,1589.8 483.9,1590.9 485.8,1591.7 487.7,1590.8 489.6,1590 491.5,1590.5 493.4,1591.3 495.4,1591.1 497.3,1591.6 499.2,1590.3 501.1,1592.4 503,1591.1 504.9,1591.6 506.9,1592.1 508.8,1591 510.7,1591.5 512.6,1593.1 514.5,1593.9 516.4,1592.6 518.3,1593.6 520.3,1593.7 522.2,1594 524.1,1595.8 526,1594.5 527.9,1595.3 529.8,1594.9 531.7,1596.5 533.7,1595.1 535.6,1595.3 537.5,1595.2 539.4,1595.4 541.3,1594.6 543.2,1592.7 545.1,1594.9 547.1,1592.7 549,1593.4 550.9,1593.3 552.8,1592.1 554.7,1592.6 556.6,1593 558.6,1592.6 560.5,1594.2 562.4,1593.3 564.3,1592.4 566.2,1592.7 568.1,1592.3 570,1593.7 572,1590.9 573.9,1592.5 575.8,1592.2 577.7,1591.8 579.6,1594.3 581.5,1590.2 583.4,1592.2 585.4,1591.5 587.3,1592.7 589.2,1592 591.1,1591.2 593,1592.3 594.9,1591.9 596.8,1591.8 598.8,1591.7 600.7,1590.5 602.6,1592.1 604.5,1592.2 606.4,1591.3 608.3,1590.6 610.3,1589.7 612.2,1572 614.1,1535.7 616,1497.5 617.9,1471.1 619.8,1456.6 621.7,1443.6 623.7,1436 625.6,1430.5 627.5,1427.7 629.4,1425.4 631.3,1423 633.2,1422.2 635.1,1421.5 637.1,1422.9 639,1424 640.9,1422.8 642.8,1423.2 644.7,1422.5 646.6,1422.5 648.5,1424.8 650.5,1424.8 652.4,1424.5 654.3,1425.1 656.2,1425.7 658.1,1425 660,1425.3 662,1425.7 663.9,1426.6 665.8,1426.3 667.7,1425.6 669.6,1425.9 671.5,1425.9 673.4,1425.8 675.4,1426.4 677.3,1427.4 679.2,1426.7 681.1,1426.4 683,1426.5 684.9,1426.4 686.8,1427.6 688.8,1427.7 690.7,1426.5 692.6,1427.9 694.5,1425.3 696.4,1427.3 698.3,1426.6 700.3,1428.1 702.2,1428.1 704.1,1428.9 706,1427.9 707.9,1428 709.8,1426.8 711.7,1427.2 713.7,1428.5 715.6,1427.7 717.5,1427.6 719.4,1427.2 721.3,1428.2 723.2,1427.5 725.1,1427.5 727.1,1428.9 729,1427.6 730.9,1428.4 732.8,1428 734.7,1428.4 736.6,1428.2 738.5,1429.1 740.5,1428.5 742.4,1428.5 744.3,1428.1 746.2,1427.9 748.1,1427.8 750,1428 752,1429 753.9,1428.9 755.8,1428 757.7,1428.4 759.6,1428.7 761.5,1428 763.4,1428.4 765.4,1427.5 767.3,1428.9 769.2,1428.3 771.1,1428.3 773,1428.5 774.9,1428.1 776.8,1427.8 778.8,1428.6 780.7,1428.7 782.6,1427.7 784.5,1427.7 786.4,1427.9 788.3,1428.3 790.2,1427.8 792.2,1428.2 794.1,1427.7 796,1428.8 797.9,1430.4 799.8,1428.4 801.7,1428.3 803.7,1428.5 805.6,1427.8 807.5,1427.6 809.4,1428.1 811.3,1428.9 813.2,1428.6 815.1,1429.1 817.1,1427.8 819,1427.6 820.9,1428.9 822.8,1428.3 824.7,1428.7 826.6,1428.8 828.5,1428.5 830.5,1428.4 832.4,1429.2 834.3,1427.6 836.2,1428.7 838.1,1429 840,1427.2 841.9,1428 843.9,1428.9 845.8,1428.1 847.7,1427.4 849.6,1428.3 851.5,1427.4 853.4,1428 855.4,1427.2 857.3,1428.1 859.2,1427.2 861.1,1426.7 863,1427 864.9,1429.5 866.8,1427.7 868.8,1428 870.7,1428 872.6,1427.2 874.5,1428.3 876.4,1427.2 878.3,1427 880.2,1428.2 882.2,1428.5 884.1,1427.9 886,1429.7 887.9,1428.3 889.8,1428.2 891.7,1427.6 893.7,1427.8 895.6,1427.3 897.5,1428.5 899.4,1428.1 901.3,1427.5 903.2,1427.6 905.1,1429.4 907.1,1437 909,1446.3 910.9,1456.3 912.8,1459 914.7,1463 916.6,1464.9 918.5,1464 920.5,1462.6 922.4,1461.2 924.3,1459.2 926.2,1458.8 928.1,1455 930,1455 931.9,1452.9 933.9,1450.2 935.8,1449.5 937.7,1449.2 939.6,1447.1 941.5,1444.6 943.4,1443.7 945.4,1442.1 947.3,1442.5 949.2,1441.3 951.1,1439.4 953,1438.5 954.9,1437.6 956.8,1437.2 958.8,1436.9 960.7,1435.2 962.6,1435.6 964.5,1435.1 966.4,1436.1 968.3,1433.8 970.2,1433 972.2,1433.2 974.1,1432.8 976,1431.3 977.9,1431.2 979.8,1431.2 981.7,1431.2 983.6,1429.8 985.6,1430.2 987.5,1428.8 989.4,1429 991.3,1430.1 993.2,1428.3 995.1,1428.5 997.1,1428.5 999,1429.2 1000.9,1428.8 1002.8,1427.7 1004.7,1428.1 1006.6,1428.3 1008.5,1428.7 1010.5,1427.5 1012.4,1429.2 1014.3,1427.4 1016.2,1428 1018.1,1428.3 1020,1427.7 1021.9,1429.6 1023.9,1426.7 1025.8,1427.8 1027.7,1426.5 1029.6,1426.6 1031.5,1427.1 1033.4,1427.9 1035.3,1428.1 1037.3,1427.5 1039.2,1427.6 1041.1,1427.9 1043,1427.9 1044.9,1427 1046.8,1428.3 1048.8,1427.4 1050.7,1427.9 1052.6,1427.3 1054.5,1426.1 1056.4,1428.4 1058.3,1427 1060.2,1427.7 1062.2,1427.2 1064.1,1427.4 1066,1427.9 1067.9,1427.2 1069.8,1428.7 1071.7,1426.9 1073.6,1426.6 1075.6,1428.6 1077.5,1427.2 1079.4,1425.8 1081.3,1426.4 1083.2,1427.6 1085.1,1428 1087.1,1427.1 1089,1426.8 1090.9,1426.6 1092.8,1427.3 1094.7,1427.7 1096.6,1427.3 1098.5,1427.3 1100.5,1428.4 1102.4,1425.4 1104.3,1428.7 1106.2,1427.6 1108.1,1426.9 1110,1427.1 1111.9,1426.5 1113.9,1426.4 1115.8,1427.1 1117.7,1426.6 1119.6,1427.8 1121.5,1427.1 1123.4,1428 1125.3,1427 1127.3,1427.8 1129.2,1428.7 1131.1,1428 1133,1427.7 1134.9,1427.3 1136.8,1429 1138.8,1426.7 1140.7,1426.7 1142.6,1427.1 1144.5,1427.2 1146.4,1426.9 1148.3,1428.4 1150.2,1427.4 1152.2,1428.4 1154.1,1427.7 1156,1427.9 1157.9,1427.5 1159.8,1427.6 1161.7,1426.8 1163.6,1428.6 1165.6,1428 1167.5,1427.2 1169.4,1427.2 1171.3,1428 1173.2,1428.2 1175.1,1428.1 1177,1427 1179,1428.6 1180.9,1428.6 1182.8,1427.4 1184.7,1427.9 1186.6,1427.9 1188.5,1426.7 1190.5,1426.9 1192.4,1428.8 1194.3,1427.4 1196.2,1427.4 1198.1,1427.3 1200,1429.7 1201.9,1442.9 1203.9,1473.6 1205.8,1510.1 1207.7,1535.3 1209.6,1550.4 1211.5,1563.5 1213.4,1572.9 1215.3,1578.6 1217.3,1583.5 1219.2,1584 1221.1,1587 1223,1591.6 1224.9,1590.5 1226.8,1591.8 1228.7,1591.1 1230.7,1593.3 1232.6,1592.8 1234.5,1592.1 1236.4,1592.3 1238.3,1592.8 1240.2,1594.2 1242.2,1593.7 1244.1,1591.7 1246,1593.9 1247.9,1593.9 1249.8,1595.2 1251.7,1593.1 1253.6,1595.2 1255.6,1592.9 1257.5,1594 1259.4,1593.8 1261.3,1594.4 1263.2,1594.2 1265.1,1595 1267,1594.4 1269,1593.8 1270.9,1595.2 1272.8,1593.6 1274.7,1594.2 1276.6,1593.8 1278.5,1594.7 1280.4,1595.1 1282.4,1594.1 1284.3,1595.6 1286.2,1594.4 1288.1,1594.9 1290,1593.4 1291.9,1593.9 1293.9,1593.8 1295.8,1594.5 1297.7,1592.8 1299.6,1594.9 1301.5,1593.7 1303.4,1593.2 1305.3,1593 1307.3,1593.3 1309.2,1594.5 1311.1,1593.2 1313,1593.4 1314.9,1594.7 1316.8,1594.3 1318.7,1594.4 1320.7,1594.2 1322.6,1593.7 1324.5,1593.3 1326.4,1593.1 1328.3,1594.5 1330.2,1594.3 1332.2,1594.2 1334.1,1593.5 1336,1594.9 1337.9,1593.4 1339.8,1594.3 1341.7,1595.1 1343.6,1594.9 1345.6,1594.5 1347.5,1595 1349.4,1593.9 1351.3,1593.9 1353.2,1594 1355.1,1595 1357,1594.9 1359,1594.8 1360.9,1594.5 1362.8,1594.3 1364.7,1594.2 1366.6,1593.4 1368.5,1594.1 1370.4,1593.7 1372.4,1593.7 1374.3,1593.6 1376.2,1594.4 1378.1,1593.7 1380,1594.8 1381.9,1594.2 1383.9,1593.7 1385.8,1594.5 1387.7,1593.7 1389.6,1595.3 1391.5,1592.8 1393.4,1593.7 1395.3,1595.5 1397.3,1595.1 1399.2,1594.7 1401.1,1593.7 1403,1594.2 1404.9,1594.3 1406.8,1593.8 1408.7,1593.9 1410.7,1594.7 1412.6,1593 1414.5,1594.4 1416.4,1594.6 1418.3,1594.3 1420.2,1594.2 1422.1,1593.9 1424.1,1593.3 1426,1593.3 1427.9,1593.9 1429.8,1594.7 1431.7,1594.2 1433.6,1594.3 1435.6,1593.8 1437.5,1594.6 1439.4,1594.2 1441.3,1594.1 1443.2,1594.9 1445.1,1594.4 1447,1594.5 1449,1595.1 1450.9,1594.8 1452.8,1594.6 1454.7,1594.3 1456.6,1593.8 1458.5,1594.9 1460.4,1593.9 1462.4,1593.5 1464.3,1593.1 1466.2,1593.2 1468.1,1593.6 1470,1592.9 1471.9,1593.6 1473.8,1595.1 1475.8,1593 1477.7,1595.1 1479.6,1594.5 1481.5,1594.7 1483.4,1593.9 1485.3,1594.8 1487.3,1594.4 1489.2,1593.3 1491.1,1594.2 1493,1594.2 1494.9,1593.5 1496.8,1586.3 1498.7,1575.5 1500.7,1567.9 1502.6,1562.6 1504.5,1560.7 1506.4,1560 1508.3,1559.5 1510.2,1561.7 1512.1,1563.1 1514.1,1564.4 1516,1567 1517.9,1568.4 1519.8,1570.9 1521.7,1572.2 1523.6,1572.2 1525.6,1574.1 1527.5,1575.6 1529.4,1575.5 1531.3,1576.9 1533.2,1578.4 1535.1,1579 1537,1580.4 1539,1581.9 1540.9,1583.8 1542.8,1583.9 1544.7,1585.2 1546.6,1585.1 1548.5,1585.2 1550.4,1586.4 1552.4,1585.5 1554.3,1586.7 1556.2,1588.1 1558.1,1587.7 1560,1588.6 1561.9,1589.7 1563.8,1588.8 1565.8,1589.3 1567.7,1591.1 1569.6,1589.4 1571.5,1589.8 1573.4,1591.3 1575.3,1590.5 1577.3,1591.5 1579.2,1592.5 1581.1,1592.9 1583,1592.3 1584.9,1593.8 1586.8,1594.2 1588.7,1592.4 1590.7,1593.8 1592.6,1592.2 1594.5,1593.6 1596.4,1594.6 1598.3,1593.1 1600.2,1593.3 1602.1,1593.5 1604.1,1594.7 1606,1593.3 1607.9,1593.9 1609.8,1593.9 1611.7,1593.6 1613.6,1592.6 1615.5,1593.5 1617.5,1595 1619.4,1594.5 1621.3,1594.2 1623.2,1594.7 1625.1,1593.4 1627,1592.6 1629,1594.5 1630.9,1594.6 1632.8,1595.4 1634.7,1593.9 1636.6,1595.2 1638.5,1594 1640.4,1594.8 1642.4,1593.8 1644.3,1594.9 1646.2,1594.4 1648.1,1594.7 1650,1595.5 1651.9,1594.8 1653.8,1594.7 1655.8,1594.8 1657.7,1594.8 1659.6,1594.9 1661.5,1594.5 1663.4,1594.9 1665.3,1594.4 1667.2,1593.7 1669.2,1594.1 1671.1,1594.3 1673,1593.4 1674.9,1594 1676.8,1594.7 1678.7,1595.2 1680.7,1595.7 1682.6,1595.5 1684.5,1595.3 1686.4,1594.4 1688.3,1595.4 1690.2,1594.4 1692.1,1594.3 1694.1,1593.9 1696,1593.2 1697.9,1594.2 1699.8,1594.9 1701.7,1595.1 1703.6,1594.2 1705.5,1595.5 1707.5,1595.3 1709.4,1594.7 1711.3,1594.4 1713.2,1594.2 1715.1,1595.3 1717,1595.9 1719,1594.4 1720.9,1595.9 1722.8,1595 1724.7,1596.7 1726.6,1595.9 1728.5,1594.9 1730.4,1594 1732.4,1595.2 1734.3,1594.2 1736.2,1595.5 1738.1,1594.2 1740,1595.3 1741.9,1595.6 1743.8,1594 1745.8,1594.7 1747.7,1593.9 1749.6,1595 1751.5,1595.6 1753.4,1596.1 1755.3,1594.1 1757.2,1594.3 1759.2,1594.8 1761.1,1594.7 1763,1595 1764.9,1593.9 1766.8,1595 1768.7,1595 1770.7,1593.9 1772.6,1595.1 1774.5,1596.2 1776.4,1594.7 1778.3,1595.5 1780.2,1594.3 1782.1,1593.8 1784.1,1593.6 1786,1594.8 1787.9,1594.3 1789.8,1594.6" fill="none" stroke="#35b3d2" stroke-width="7.2" stroke-dasharray="3 7" opacity="0.75"/>
<polyline points="316,2250.3 317.3,2185.8 318.6,2100.8 320,2015.9 321.3,1930.6 322.6,1841.6 324,1756.3 325.3,1696.4 326.6,1662.2 328,1640.3 329.3,1624.3 330.6,1615.6 332,1610.9 333.3,1606.7 334.6,1604.1 336,1601.8 337.3,1599.6 338.6,1598.1 340,1597.4 341.3,1596.4 342.6,1595.6 344,1594.9 345.3,1594.7 346.6,1594.4 348,1594.3 349.3,1594.1 350.6,1594.1 352,1593.9 353.3,1593.9 354.6,1593.8 356.5,1593.1 358.4,1593.1 360.4,1594.2 362.3,1594.2 364.2,1594 366.1,1593.6 368,1592 369.9,1593.7 371.9,1593.6 373.8,1594.3 375.7,1594.2 377.6,1593.7 379.5,1595.2 381.4,1596.5 383.3,1595.9 385.3,1596.1 387.2,1596.9 389.1,1597.9 391,1596.3 392.9,1596.7 394.8,1597.2 396.7,1595.8 398.7,1596.5 400.6,1599 402.5,1596.8 404.4,1598.8 406.3,1596.9 408.2,1596.1 410.2,1596.9 412.1,1597.6 414,1595.9 415.9,1596.5 417.8,1597.2 419.7,1595.4 421.6,1595.8 423.6,1596 425.5,1595.8 427.4,1596 429.3,1596.9 431.2,1595.9 433.1,1596.5 435,1596 437,1594.7 438.9,1595.2 440.8,1596.1 442.7,1594.2 444.6,1595.1 446.5,1596.3 448.4,1595.5 450.4,1594.3 452.3,1595.8 454.2,1596.3 456.1,1595 458,1595.3 459.9,1595.7 461.9,1595.7 463.8,1595.8 465.7,1595.6 467.6,1594.1 469.5,1594.5 471.4,1595.5 473.3,1595.5 475.3,1594.8 477.2,1596.3 479.1,1596.3 481,1595.4 482.9,1595.9 484.8,1596.2 486.7,1595.4 488.7,1595.5 490.6,1595.8 492.5,1595 494.4,1595.8 496.3,1596.3 498.2,1596.5 500.1,1596.3 502.1,1597.3 504,1596.7 505.9,1595.3 507.8,1596.8 509.7,1597.3 511.6,1597.1 513.6,1597 515.5,1597.2 517.4,1596.8 519.3,1599 521.2,1598.9 523.1,1599.1 525,1600.1 527,1599 528.9,1599.5 530.8,1599.1 532.7,1599.3 534.6,1599.4 536.5,1598.9 538.4,1599.1 540.4,1600 542.3,1598.3 544.2,1598 546.1,1597.3 548,1598.3 549.9,1598.7 551.8,1598.3 553.8,1597.8 555.7,1597.7 557.6,1598.5 559.5,1597.6 561.4,1596.7 563.3,1597.2 565.3,1597.2 567.2,1597.3 569.1,1597.6 571,1597.6 572.9,1597.5 574.8,1596 576.7,1597.5 578.7,1595.1 580.6,1596.5 582.5,1595.2 584.4,1596.2 586.3,1596.7 588.2,1596.1 590.1,1596.5 592.1,1596.7 594,1595 595.9,1595.4 597.8,1594.8 599.7,1594.5 601.6,1595.2 603.6,1595.6 605.5,1595.7 607.4,1596.6 609.3,1594.8 611.2,1588.2 613.1,1556.1 615,1520.9 617,1488.2 618.9,1467.3 620.8,1452.9 622.7,1443.4 624.6,1437.5 626.5,1433.4 628.4,1429.8 630.4,1428.9 632.3,1427.4 634.2,1426.9 636.1,1425.5 638,1425.5 639.9,1427.1 641.8,1427.1 643.8,1427.3 645.7,1427.7 647.6,1429.6 649.5,1429 651.4,1429.9 653.3,1430.4 655.3,1429.2 657.2,1429.7 659.1,1429.8 661,1430.5 662.9,1429.6 664.8,1429.9 666.7,1431.2 668.7,1430.1 670.6,1430.1 672.5,1429.7 674.4,1430.8 676.3,1430.9 678.2,1431.1 680.1,1431.7 682.1,1432.1 684,1430.5 685.9,1430.5 687.8,1431.5 689.7,1431.3 691.6,1431.2 693.5,1430.7 695.5,1431.4 697.4,1431.8 699.3,1431.4 701.2,1431.6 703.1,1430.9 705,1432 707,1433 708.9,1431.8 710.8,1430.9 712.7,1431.5 714.6,1432.4 716.5,1431.3 718.4,1433.3 720.4,1432.3 722.3,1432.1 724.2,1432.1 726.1,1432.9 728,1432.4 729.9,1432.1 731.8,1433.4 733.8,1432.3 735.7,1432.1 737.6,1432.3 739.5,1431.3 741.4,1432.2 743.3,1432.9 745.2,1433 747.2,1430.9 749.1,1433.5 751,1432.5 752.9,1432.7 754.8,1431.3 756.7,1433.2 758.7,1432.5 760.6,1433.7 762.5,1432.4 764.4,1432.7 766.3,1432.2 768.2,1432.8 770.1,1431.6 772.1,1432.4 774,1432.7 775.9,1433.8 777.8,1433.2 779.7,1432.6 781.6,1432.1 783.5,1434.1 785.5,1432.9 787.4,1433.1 789.3,1432.5 791.2,1433.7 793.1,1431.4 795,1432.7 797,1432 798.9,1432 800.8,1432.9 802.7,1431.9 804.6,1432.6 806.5,1432.8 808.4,1431.2 810.4,1432.8 812.3,1432.7 814.2,1431.7 816.1,1432.9 818,1433.3 819.9,1432.9 821.8,1432.4 823.8,1433.9 825.7,1431.6 827.6,1433.2 829.5,1433 831.4,1433.2 833.3,1432.1 835.2,1432.3 837.2,1433.4 839.1,1431.8 841,1433.6 842.9,1431.5 844.8,1431.8 846.7,1433.3 848.7,1433 850.6,1432.9 852.5,1432.9 854.4,1432.1 856.3,1433.4 858.2,1432.6 860.1,1433.4 862.1,1432.4 864,1431.5 865.9,1432 867.8,1431.3 869.7,1432.5 871.6,1432.5 873.5,1432.2 875.5,1432.7 877.4,1432 879.3,1432.9 881.2,1432.3 883.1,1432.8 885,1433.7 886.9,1431.5 888.9,1432.7 890.8,1431.8 892.7,1432 894.6,1433 896.5,1431.3 898.4,1432.6 900.4,1431.8 902.3,1432.4 904.2,1433 906.1,1436.4 908,1447.5 909.9,1454.4 911.8,1461.1 913.8,1466.2 915.7,1466.9 917.6,1469 919.5,1468.3 921.4,1467.5 923.3,1465.3 925.2,1464 927.2,1462 929.1,1459.1 931,1457.9 932.9,1456.7 934.8,1455 936.7,1453.3 938.6,1452 940.6,1451.1 942.5,1449.1 944.4,1447.6 946.3,1446.1 948.2,1446.2 950.1,1444.1 952.1,1443.2 954,1442.1 955.9,1442.9 957.8,1442.2 959.7,1440.7 961.6,1439.3 963.5,1439.4 965.5,1438.9 967.4,1438.6 969.3,1438.9 971.2,1437.2 973.1,1436.5 975,1436.2 976.9,1436.4 978.9,1435.4 980.8,1435.6 982.7,1435.2 984.6,1434.3 986.5,1433.8 988.4,1434.5 990.4,1433.8 992.3,1433.7 994.2,1434.6 996.1,1433.2 998,1433.8 999.9,1433.4 1001.8,1432.8 1003.8,1432.7 1005.7,1433.4 1007.6,1432.2 1009.5,1432.5 1011.4,1432.3 1013.3,1432.6 1015.2,1431.7 1017.2,1432.2 1019.1,1432.3 1021,1431.3 1022.9,1431.4 1024.8,1432.8 1026.7,1431.2 1028.6,1432.4 1030.6,1433.1 1032.5,1431.9 1034.4,1431.9 1036.3,1432.5 1038.2,1432.9 1040.1,1432.1 1042.1,1432.4 1044,1432.6 1045.9,1430.5 1047.8,1431.9 1049.7,1433.1 1051.6,1431.6 1053.5,1431.9 1055.5,1431.7 1057.4,1432.8 1059.3,1430.7 1061.2,1431.5 1063.1,1432.2 1065,1431.3 1066.9,1431.6 1068.9,1432 1070.8,1431 1072.7,1432.8 1074.6,1430.1 1076.5,1432 1078.4,1431.7 1080.3,1430.9 1082.3,1431.7 1084.2,1430.2 1086.1,1432.6 1088,1432.1 1089.9,1431.5 1091.8,1431.8 1093.8,1431.3 1095.7,1431.8 1097.6,1432.3 1099.5,1430.9 1101.4,1432.1 1103.3,1431.5 1105.2,1432.2 1107.2,1432.1 1109.1,1432.1 1111,1431.4 1112.9,1431.4 1114.8,1431.2 1116.7,1431.1 1118.6,1431.2 1120.6,1432.3 1122.5,1431.6 1124.4,1431.7 1126.3,1432.2 1128.2,1432.1 1130.1,1431.8 1132,1432.3 1134,1433.4 1135.9,1432 1137.8,1430.9 1139.7,1431.4 1141.6,1431.4 1143.5,1431.3 1145.5,1432.3 1147.4,1431.4 1149.3,1432.3 1151.2,1432.4 1153.1,1432.5 1155,1431.2 1156.9,1432.6 1158.9,1432.1 1160.8,1431.7 1162.7,1432 1164.6,1431 1166.5,1431.8 1168.4,1430.3 1170.3,1432.9 1172.3,1433 1174.2,1432 1176.1,1433.3 1178,1432.9 1179.9,1432.2 1181.8,1432.3 1183.8,1433.2 1185.7,1432.4 1187.6,1431.5 1189.5,1432.5 1191.4,1432.9 1193.3,1431.9 1195.2,1432.9 1197.2,1432.3 1199.1,1431.7 1201,1437 1202.9,1462.1 1204.8,1494 1206.7,1524.8 1208.6,1546.8 1210.6,1562.2 1212.5,1571 1214.4,1578.2 1216.3,1582.9 1218.2,1587.3 1220.1,1589.2 1222,1592.5 1224,1591.7 1225.9,1593.2 1227.8,1596.9 1229.7,1596.2 1231.6,1596.4 1233.5,1596.1 1235.5,1595 1237.4,1596.3 1239.3,1596.7 1241.2,1596.4 1243.1,1597.2 1245,1598.1 1246.9,1596.1 1248.9,1597.4 1250.8,1597.1 1252.7,1596.8 1254.6,1597.7 1256.5,1597 1258.4,1598 1260.3,1596.7 1262.3,1597.2 1264.2,1598.1 1266.1,1597.6 1268,1595.9 1269.9,1597.5 1271.8,1596.1 1273.7,1598.6 1275.7,1597.2 1277.6,1596.9 1279.5,1598.1 1281.4,1598.2 1283.3,1598.3 1285.2,1598.3 1287.2,1597.8 1289.1,1596.6 1291,1597.7 1292.9,1597.8 1294.8,1596.2 1296.7,1597.1 1298.6,1598.3 1300.6,1596.2 1302.5,1597.7 1304.4,1596.5 1306.3,1597.5 1308.2,1597.5 1310.1,1596.7 1312,1595 1314,1597.8 1315.9,1597.9 1317.8,1596.4 1319.7,1597.7 1321.6,1596.7 1323.5,1597.8 1325.4,1597.4 1327.4,1596.7 1329.3,1596.2 1331.2,1597.3 1333.1,1596.3 1335,1596 1336.9,1595.1 1338.9,1597.8 1340.8,1597.4 1342.7,1596.4 1344.6,1597.4 1346.5,1597.3 1348.4,1596.2 1350.3,1597.4 1352.3,1596.7 1354.2,1596 1356.1,1597.4 1358,1596.3 1359.9,1598.4 1361.8,1597.4 1363.7,1598.9 1365.7,1597.9 1367.6,1597.5 1369.5,1596.1 1371.4,1598.8 1373.3,1598.7 1375.2,1597.8 1377.1,1597.1 1379.1,1598 1381,1596.1 1382.9,1597.1 1384.8,1598.4 1386.7,1598.5 1388.6,1597.2 1390.6,1598.2 1392.5,1597.5 1394.4,1596.8 1396.3,1596.5 1398.2,1596.1 1400.1,1596.7 1402,1598.1 1404,1597.7 1405.9,1596.9 1407.8,1596.6 1409.7,1596.7 1411.6,1596.6 1413.5,1597.3 1415.4,1597.2 1417.4,1596.7 1419.3,1595.9 1421.2,1597.4 1423.1,1597 1425,1596.5 1426.9,1597.8 1428.9,1598.2 1430.8,1597.3 1432.7,1596.5 1434.6,1597.4 1436.5,1597.5 1438.4,1597 1440.3,1596.6 1442.3,1595.6 1444.2,1596.7 1446.1,1597.5 1448,1598.3 1449.9,1598.4 1451.8,1596.3 1453.7,1596.6 1455.7,1596.7 1457.6,1597.6 1459.5,1597.9 1461.4,1597.1 1463.3,1597 1465.2,1596.2 1467.1,1596.7 1469.1,1596.8 1471,1597.3 1472.9,1596.3 1474.8,1597.2 1476.7,1597.2 1478.6,1598.3 1480.6,1597.6 1482.5,1596.6 1484.4,1595.2 1486.3,1596.8 1488.2,1595.9 1490.1,1596.9 1492,1595.7 1494,1597.5 1495.9,1595.5 1497.8,1583.5 1499.7,1573.9 1501.6,1568.1 1503.5,1564.4 1505.4,1563.1 1507.4,1563.4 1509.3,1562.8 1511.2,1564.3 1513.1,1565.8 1515,1568.1 1516.9,1571.2 1518.8,1572.2 1520.8,1573 1522.7,1575.6 1524.6,1575.9 1526.5,1577.5 1528.4,1578.3 1530.3,1579 1532.3,1580.7 1534.2,1581.8 1536.1,1583.7 1538,1583.1 1539.9,1586.2 1541.8,1585.2 1543.7,1587.4 1545.7,1587.7 1547.6,1588 1549.5,1588.5 1551.4,1589.3 1553.3,1590.2 1555.2,1589.7 1557.1,1590 1559.1,1592.2 1561,1592.6 1562.9,1592.1 1564.8,1592.4 1566.7,1594.1 1568.6,1592.7 1570.5,1594.3 1572.5,1595 1574.4,1595.6 1576.3,1595.2 1578.2,1594.5 1580.1,1594 1582,1594.7 1584,1594.9 1585.9,1595.7 1587.8,1595.4 1589.7,1594.7 1591.6,1595.9 1593.5,1596 1595.4,1596.4 1597.4,1595.3 1599.3,1597.1 1601.2,1596.7 1603.1,1595.5 1605,1596.5 1606.9,1597 1608.8,1596.1 1610.8,1597.2 1612.7,1596.9 1614.6,1596.2 1616.5,1596.2 1618.4,1597.6 1620.3,1596.6 1622.3,1599 1624.2,1597 1626.1,1596.9 1628,1596.4 1629.9,1598 1631.8,1597 1633.7,1597.3 1635.7,1597.3 1637.6,1598.4 1639.5,1598 1641.4,1597 1643.3,1597.7 1645.2,1597.5 1647.1,1598.2 1649.1,1597.3 1651,1597.4 1652.9,1597.8 1654.8,1597.2 1656.7,1598.1 1658.6,1597.5 1660.5,1597.4 1662.5,1598.1 1664.4,1597.5 1666.3,1598.2 1668.2,1596.7 1670.1,1597.3 1672,1598.3 1674,1597.3 1675.9,1596 1677.8,1596.1 1679.7,1596.9 1681.6,1597.7 1683.5,1596.9 1685.4,1597.3 1687.4,1597.4 1689.3,1596.5 1691.2,1597.9 1693.1,1597.2 1695,1598.1 1696.9,1597.4 1698.8,1598.8 1700.8,1597.7 1702.7,1597.5 1704.6,1597.9 1706.5,1599.4 1708.4,1598.5 1710.3,1598.2 1712.2,1598.3 1714.2,1598.9 1716.1,1596.8 1718,1596.3 1719.9,1596.5 1721.8,1597.9 1723.7,1597.8 1725.7,1596.9 1727.6,1597.7 1729.5,1598 1731.4,1600.2 1733.3,1598.2 1735.2,1597.7 1737.1,1598.4 1739.1,1598.2 1741,1596.2 1742.9,1598.6 1744.8,1597.1 1746.7,1598.7 1748.6,1597.1 1750.5,1597.8 1752.5,1599 1754.4,1598.1 1756.3,1598.1 1758.2,1596.2 1760.1,1598 1762,1596.9 1763.9,1597.3 1765.9,1597.4 1767.8,1597.7 1769.7,1599 1771.6,1598.1 1773.5,1597.5 1775.4,1597.9 1777.4,1597.7 1779.3,1598.7 1781.2,1598 1783.1,1598.1 1785,1597.8 1786.9,1597.5 1788.8,1597.6" fill="none" stroke="#35b3d2" stroke-width="7.2" stroke-dasharray="3 8" opacity="0.75"/>
<polyline points="315.3,2248.4 317.3,2183.6 319.3,2056.1 321.3,1928.6 323.3,1794.4 325.3,1694.1 327.3,1648.2 329.3,1622.3 331.3,1611 333.3,1604.5 335.3,1600.7 337.3,1597.4 339.3,1595.6 341.3,1594.2 343.3,1592.9 345.3,1592.5 347.3,1592.2 349.3,1591.8 351.3,1591.7 353.3,1591.7 355.6,1591.6 358.4,1591.6 361.3,1591.5 364.2,1591.4 367.1,1591.3 369.9,1591.3 372.8,1591.5 375.7,1592 378.6,1592.5 381.4,1593.1 384.3,1593.6 387.2,1594.1 390,1594.6 392.9,1595.1 395.8,1595.6 398.7,1595.4 401.5,1595.2 404.4,1595.1 407.3,1594.9 410.2,1594.7 413,1594.6 415.9,1594.4 418.8,1594.2 421.6,1594.1 424.5,1594 427.4,1593.9 430.3,1593.8 433.1,1593.7 436,1593.6 438.9,1593.5 441.7,1593.4 444.6,1593.3 447.5,1593.3 450.4,1593.3 453.2,1593.3 456.1,1593.3 459,1593.3 461.9,1593.3 464.7,1593.3 467.6,1593.3 470.5,1593.3 473.3,1593.3 476.2,1593.3 479.1,1593.3 482,1593.3 484.8,1593.3 487.7,1593.3 490.6,1593.3 493.4,1593.5 496.3,1593.7 499.2,1594 502.1,1594.2 504.9,1594.5 507.8,1594.7 510.7,1595 513.6,1595.2 516.4,1595.6 519.3,1596 522.2,1596.4 525,1596.9 527.9,1597.3 530.8,1597.7 533.7,1597.9 536.5,1597.5 539.4,1597.1 542.3,1596.7 545.1,1596.3 548,1596 550.9,1595.6 553.8,1595.4 556.6,1595.3 559.5,1595.2 562.4,1595 565.3,1594.9 568.1,1594.7 571,1594.6 573.9,1594.5 576.7,1594.3 579.6,1594.2 582.5,1594 585.4,1593.9 588.2,1593.8 591.1,1593.7 594,1593.6 596.8,1593.5 599.7,1593.4 602.6,1593.4 605.5,1593.3 608.3,1593.2 611.2,1585.9 614.1,1537.6 617,1486.8 619.8,1457.8 622.7,1441.3 625.6,1432.8 628.4,1428.6 631.3,1426.3 634.2,1425.1 637.1,1424.9 639.9,1425.2 642.8,1425.5 645.7,1425.9 648.5,1426.3 651.4,1426.7 654.3,1427.1 657.2,1427.4 660,1427.7 662.9,1427.9 665.8,1428.2 668.7,1428.5 671.5,1428.6 674.4,1428.7 677.3,1428.8 680.1,1429 683,1429.1 685.9,1429.2 688.8,1429.3 691.6,1429.4 694.5,1429.5 697.4,1429.6 700.3,1429.6 703.1,1429.7 706,1429.8 708.9,1429.9 711.7,1429.9 714.6,1429.9 717.5,1430 720.4,1430 723.2,1430 726.1,1430.1 729,1430.1 731.8,1430.1 734.7,1430.2 737.6,1430.2 740.5,1430.2 743.3,1430.3 746.2,1430.3 749.1,1430.3 752,1430.3 754.8,1430.4 757.7,1430.4 760.6,1430.4 763.4,1430.4 766.3,1430.4 769.2,1430.4 772.1,1430.4 774.9,1430.4 777.8,1430.4 780.7,1430.4 783.5,1430.4 786.4,1430.4 789.3,1430.4 792.2,1430.4 795,1430.4 797.9,1430.4 800.8,1430.4 803.7,1430.4 806.5,1430.4 809.4,1430.4 812.3,1430.4 815.1,1430.4 818,1430.3 820.9,1430.3 823.8,1430.3 826.6,1430.3 829.5,1430.3 832.4,1430.3 835.2,1430.3 838.1,1430.2 841,1430.2 843.9,1430.2 846.7,1430.2 849.6,1430.2 852.5,1430.2 855.4,1430.1 858.2,1430.1 861.1,1430.1 864,1430.1 866.8,1430.1 869.7,1430.1 872.6,1430.1 875.5,1430.1 878.3,1430.1 881.2,1430.1 884.1,1430.1 886.9,1430.1 889.8,1430.1 892.7,1430.1 895.6,1430.1 898.4,1430.1 901.3,1430.1 904.2,1430.1 907.1,1439.3 909.9,1453.3 912.8,1461.8 915.7,1465.4 918.5,1466.2 921.4,1465.1 924.3,1462.5 927.2,1459.7 930,1456.8 932.9,1454.4 935.8,1452.2 938.6,1449.9 941.5,1447.8 944.4,1446.1 947.3,1444.4 950.1,1442.7 953,1441.3 955.9,1440.1 958.8,1438.9 961.6,1437.8 964.5,1437.1 967.4,1436.4 970.2,1435.7 973.1,1435 976,1434.2 978.9,1433.5 981.7,1432.8 984.6,1432.5 987.5,1432.1 990.4,1431.8 993.2,1431.4 996.1,1431.1 999,1430.7 1001.8,1430.4 1004.7,1430.3 1007.6,1430.3 1010.5,1430.2 1013.3,1430.1 1016.2,1430 1019.1,1430 1021.9,1429.9 1024.8,1429.8 1027.7,1429.7 1030.6,1429.7 1033.4,1429.6 1036.3,1429.6 1039.2,1429.6 1042.1,1429.6 1044.9,1429.5 1047.8,1429.5 1050.7,1429.5 1053.5,1429.5 1056.4,1429.5 1059.3,1429.5 1062.2,1429.5 1065,1429.5 1067.9,1429.5 1070.8,1429.4 1073.6,1429.4 1076.5,1429.4 1079.4,1429.4 1082.3,1429.4 1085.1,1429.4 1088,1429.4 1090.9,1429.4 1093.8,1429.4 1096.6,1429.3 1099.5,1429.3 1102.4,1429.3 1105.2,1429.4 1108.1,1429.4 1111,1429.4 1113.9,1429.4 1116.7,1429.5 1119.6,1429.5 1122.5,1429.5 1125.3,1429.5 1128.2,1429.5 1131.1,1429.6 1134,1429.6 1136.8,1429.6 1139.7,1429.6 1142.6,1429.7 1145.5,1429.7 1148.3,1429.7 1151.2,1429.7 1154.1,1429.8 1156.9,1429.8 1159.8,1429.8 1162.7,1429.8 1165.6,1429.9 1168.4,1429.9 1171.3,1429.9 1174.2,1429.9 1177,1430 1179.9,1430 1182.8,1430 1185.7,1430 1188.5,1430 1191.4,1430.1 1194.3,1430.1 1197.2,1430.1 1200,1431 1202.9,1460.3 1205.8,1509.8 1208.6,1545.3 1211.5,1564.7 1214.4,1576.2 1217.3,1583.4 1220.1,1587.8 1223,1591.2 1225.9,1592.5 1228.7,1593.9 1231.6,1594.5 1234.5,1594.8 1237.4,1595.1 1240.2,1595.3 1243.1,1595.4 1246,1595.4 1248.9,1595.5 1251.7,1595.5 1254.6,1595.6 1257.5,1595.6 1260.3,1595.7 1263.2,1595.8 1266.1,1595.8 1269,1595.9 1271.8,1595.9 1274.7,1595.8 1277.6,1595.8 1280.4,1595.8 1283.3,1595.8 1286.2,1595.8 1289.1,1595.8 1291.9,1595.8 1294.8,1595.8 1297.7,1595.8 1300.6,1595.8 1303.4,1595.8 1306.3,1595.8 1309.2,1595.8 1312,1595.8 1314.9,1595.8 1317.8,1595.8 1320.7,1595.7 1323.5,1595.7 1326.4,1595.7 1329.3,1595.7 1332.2,1595.7 1335,1595.7 1337.9,1595.7 1340.8,1595.7 1343.6,1595.7 1346.5,1595.7 1349.4,1595.7 1352.3,1595.7 1355.1,1595.7 1358,1595.7 1360.9,1595.7 1363.7,1595.7 1366.6,1595.6 1369.5,1595.6 1372.4,1595.6 1375.2,1595.6 1378.1,1595.6 1381,1595.6 1383.9,1595.6 1386.7,1595.6 1389.6,1595.6 1392.5,1595.6 1395.3,1595.6 1398.2,1595.6 1401.1,1595.6 1404,1595.6 1406.8,1595.6 1409.7,1595.6 1412.6,1595.6 1415.4,1595.6 1418.3,1595.6 1421.2,1595.6 1424.1,1595.6 1426.9,1595.6 1429.8,1595.6 1432.7,1595.6 1435.6,1595.6 1438.4,1595.6 1441.3,1595.6 1444.2,1595.6 1447,1595.6 1449.9,1595.6 1452.8,1595.6 1455.7,1595.6 1458.5,1595.6 1461.4,1595.6 1464.3,1595.6 1467.1,1595.6 1470,1595.6 1472.9,1595.6 1475.8,1595.6 1478.6,1595.6 1481.5,1595.6 1484.4,1595.6 1487.3,1595.6 1490.1,1595.6 1493,1595.6 1495.9,1593.6 1498.7,1577.1 1501.6,1566.8 1504.5,1562.4 1507.4,1560.9 1510.2,1562.5 1513.1,1565.1 1516,1567.8 1518.8,1570.5 1521.7,1573 1524.6,1574.7 1527.5,1576.4 1530.3,1578.2 1533.2,1579.9 1536.1,1581.6 1539,1583.4 1541.8,1584.9 1544.7,1585.7 1547.6,1586.6 1550.4,1587.5 1553.3,1588.3 1556.2,1589.2 1559.1,1590 1561.9,1590.8 1564.8,1591.3 1567.7,1591.7 1570.5,1592.1 1573.4,1592.6 1576.3,1593 1579.2,1593.5 1582,1593.8 1584.9,1594 1587.8,1594.2 1590.7,1594.4 1593.5,1594.6 1596.4,1594.8 1599.3,1595 1602.1,1595.3 1605,1595.4 1607.9,1595.4 1610.8,1595.5 1613.6,1595.5 1616.5,1595.6 1619.4,1595.7 1622.3,1595.7 1625.1,1595.8 1628,1595.8 1630.9,1595.9 1633.7,1595.9 1636.6,1596 1639.5,1596.1 1642.4,1596.1 1645.2,1596.1 1648.1,1596.1 1651,1596.1 1653.8,1596.1 1656.7,1596.2 1659.6,1596.2 1662.5,1596.2 1665.3,1596.2 1668.2,1596.2 1671.1,1596.2 1674,1596.2 1676.8,1596.2 1679.7,1596.2 1682.6,1596.2 1685.4,1596.2 1688.3,1596.2 1691.2,1596.2 1694.1,1596.2 1696.9,1596.2 1699.8,1596.2 1702.7,1596.2 1705.5,1596.2 1708.4,1596.3 1711.3,1596.3 1714.2,1596.3 1717,1596.3 1719.9,1596.3 1722.8,1596.3 1725.7,1596.3 1728.5,1596.3 1731.4,1596.3 1734.3,1596.3 1737.1,1596.3 1740,1596.3 1742.9,1596.3 1745.8,1596.3 1748.6,1596.3 1751.5,1596.3 1754.4,1596.3 1757.2,1596.3 1760.1,1596.3 1763,1596.4 1765.9,1596.4 1768.7,1596.4 1771.6,1596.4 1774.5,1596.4 1777.4,1596.4 1780.2,1596.4 1783.1,1596.4 1786,1596.4 1788.8,1596.4" fill="none" stroke="#3a74f0" stroke-width="3" />
<polyline points="315.3,2248.4 317.3,2183.6 319.3,2056.1 321.3,1928.6 323.3,1794.4 325.3,1694.1 327.3,1648.2 329.3,1622.3 331.3,1611 333.3,1604.5 335.3,1600.7 337.3,1597.4 339.3,1595.6 341.3,1594.2 343.3,1592.9 345.3,1592.5 347.3,1592.2 349.3,1591.8 351.3,1591.7 353.3,1591.7 355.6,1591.6 358.4,1591.6 361.3,1591.5 364.2,1591.4 367.1,1591.3 369.9,1591.3 372.8,1591.5 375.7,1592 378.6,1592.5 381.4,1593.1 384.3,1593.6 387.2,1594.1 390,1594.6 392.9,1595.1 395.8,1595.6 398.7,1595.4 401.5,1595.2 404.4,1595.1 407.3,1594.9 410.2,1594.7 413,1594.6 415.9,1594.4 418.8,1594.2 421.6,1594.1 424.5,1594 427.4,1593.9 430.3,1593.8 433.1,1593.7 436,1593.6 438.9,1593.5 441.7,1593.4 444.6,1593.3 447.5,1593.3 450.4,1593.3 453.2,1593.3 456.1,1593.3 459,1593.3 461.9,1593.3 464.7,1593.3 467.6,1593.3 470.5,1593.3 473.3,1593.3 476.2,1593.3 479.1,1593.3 482,1593.3 484.8,1593.3 487.7,1593.3 490.6,1593.3 493.4,1593.5 496.3,1593.7 499.2,1594 502.1,1594.2 504.9,1594.5 507.8,1594.7 510.7,1595 513.6,1595.2 516.4,1595.6 519.3,1596 522.2,1596.4 525,1596.9 527.9,1597.3 530.8,1597.7 533.7,1597.9 536.5,1597.5 539.4,1597.1 542.3,1596.7 545.1,1596.3 548,1596 550.9,1595.6 553.8,1595.4 556.6,1595.3 559.5,1595.2 562.4,1595 565.3,1594.9 568.1,1594.7 571,1594.6 573.9,1594.5 576.7,1594.3 579.6,1594.2 582.5,1594 585.4,1593.9 588.2,1593.8 591.1,1593.7 594,1593.6 596.8,1593.5 599.7,1593.4 602.6,1593.4 605.5,1593.3 608.3,1593.2 611.2,1585.9 614.1,1537.6 617,1486.8 619.8,1457.8 622.7,1441.3 625.6,1432.8 628.4,1428.6 631.3,1426.3 634.2,1425.1 637.1,1424.9 639.9,1425.2 642.8,1425.5 645.7,1425.9 648.5,1426.3 651.4,1426.7 654.3,1427.1 657.2,1427.4 660,1427.7 662.9,1427.9 665.8,1428.2 668.7,1428.5 671.5,1428.6 674.4,1428.7 677.3,1428.8 680.1,1429 683,1429.1 685.9,1429.2 688.8,1429.3 691.6,1429.4 694.5,1429.5 697.4,1429.6 700.3,1429.6 703.1,1429.7 706,1429.8 708.9,1429.9 711.7,1429.9 714.6,1429.9 717.5,1430 720.4,1430 723.2,1430 726.1,1430.1 729,1430.1 731.8,1430.1 734.7,1430.2 737.6,1430.2 740.5,1430.2 743.3,1430.3 746.2,1430.3 749.1,1430.3 752,1430.3 754.8,1430.4 757.7,1430.4 760.6,1430.4 763.4,1430.4 766.3,1430.4 769.2,1430.4 772.1,1430.4 774.9,1430.4 777.8,1430.4 780.7,1430.4 783.5,1430.4 786.4,1430.4 789.3,1430.4 792.2,1430.4 795,1430.4 797.9,1430.4 800.8,1430.4 803.7,1430.4 806.5,1430.4 809.4,1430.4 812.3,1430.4 815.1,1430.4 818,1430.3 820.9,1430.3 823.8,1430.3 826.6,1430.3 829.5,1430.3 832.4,1430.3 835.2,1430.3 838.1,1430.2 841,1430.2 843.9,1430.2 846.7,1430.2 849.6,1430.2 852.5,1430.2 855.4,1430.1 858.2,1430.1 861.1,1430.1 864,1430.1 866.8,1430.1 869.7,1430.1 872.6,1430.1 875.5,1430.1 878.3,1430.1 881.2,1430.1 884.1,1430.1 886.9,1430.1 889.8,1430.1 892.7,1430.1 895.6,1430.1 898.4,1430.1 901.3,1430.1 904.2,1430.1 907.1,1439.3 909.9,1453.3 912.8,1461.8 915.7,1465.4 918.5,1466.2 921.4,1465.1 924.3,1462.5 927.2,1459.7 930,1456.8 932.9,1454.4 935.8,1452.2 938.6,1449.9 941.5,1447.8 944.4,1446.1 947.3,1444.4 950.1,1442.7 953,1441.3 955.9,1440.1 958.8,1438.9 961.6,1437.8 964.5,1437.1 967.4,1436.4 970.2,1435.7 973.1,1435 976,1434.2 978.9,1433.5 981.7,1432.8 984.6,1432.5 987.5,1432.1 990.4,1431.8 993.2,1431.4 996.1,1431.1 999,1430.7 1001.8,1430.4 1004.7,1430.3 1007.6,1430.3 1010.5,1430.2 1013.3,1430.1 1016.2,1430 1019.1,1430 1021.9,1429.9 1024.8,1429.8 1027.7,1429.7 1030.6,1429.7 1033.4,1429.6 1036.3,1429.6 1039.2,1429.6 1042.1,1429.6 1044.9,1429.5 1047.8,1429.5 1050.7,1429.5 1053.5,1429.5 1056.4,1429.5 1059.3,1429.5 1062.2,1429.5 1065,1429.5 1067.9,1429.5 1070.8,1429.4 1073.6,1429.4 1076.5,1429.4 1079.4,1429.4 1082.3,1429.4 1085.1,1429.4 1088,1429.4 1090.9,1429.4 1093.8,1429.4 1096.6,1429.3 1099.5,1429.3 1102.4,1429.3 1105.2,1429.4 1108.1,1429.4 1111,1429.4 1113.9,1429.4 1116.7,1429.5 1119.6,1429.5 1122.5,1429.5 1125.3,1429.5 1128.2,1429.5 1131.1,1429.6 1134,1429.6 1136.8,1429.6 1139.7,1429.6 1142.6,1429.7 1145.5,1429.7 1148.3,1429.7 1151.2,1429.7 1154.1,1429.8 1156.9,1429.8 1159.8,1429.8 1162.7,1429.8 1165.6,1429.9 1168.4,1429.9 1171.3,1429.9 1174.2,1429.9 1177,1430 1179.9,1430 1182.8,1430 1185.7,1430 1188.5,1430 1191.4,1430.1 1194.3,1430.1 1197.2,1430.1 1200,1431 1202.9,1460.3 1205.8,1509.8 1208.6,1545.3 1211.5,1564.7 1214.4,1576.2 1217.3,1583.4 1220.1,1587.8 1223,1591.2 1225.9,1592.5 1228.7,1593.9 1231.6,1594.5 1234.5,1594.8 1237.4,1595.1 1240.2,1595.3 1243.1,1595.4 1246,1595.4 1248.9,1595.5 1251.7,1595.5 1254.6,1595.6 1257.5,1595.6 1260.3,1595.7 1263.2,1595.8 1266.1,1595.8 1269,1595.9 1271.8,1595.9 1274.7,1595.8 1277.6,1595.8 1280.4,1595.8 1283.3,1595.8 1286.2,1595.8 1289.1,1595.8 1291.9,1595.8 1294.8,1595.8 1297.7,1595.8 1300.6,1595.8 1303.4,1595.8 1306.3,1595.8 1309.2,1595.8 1312,1595.8 1314.9,1595.8 1317.8,1595.8 1320.7,1595.7 1323.5,1595.7 1326.4,1595.7 1329.3,1595.7 1332.2,1595.7 1335,1595.7 1337.9,1595.7 1340.8,1595.7 1343.6,1595.7 1346.5,1595.7 1349.4,1595.7 1352.3,1595.7 1355.1,1595.7 1358,1595.7 1360.9,1595.7 1363.7,1595.7 1366.6,1595.6 1369.5,1595.6 1372.4,1595.6 1375.2,1595.6 1378.1,1595.6 1381,1595.6 1383.9,1595.6 1386.7,1595.6 1389.6,1595.6 1392.5,1595.6 1395.3,1595.6 1398.2,1595.6 1401.1,1595.6 1404,1595.6 1406.8,1595.6 1409.7,1595.6 1412.6,1595.6 1415.4,1595.6 1418.3,1595.6 1421.2,1595.6 1424.1,1595.6 1426.9,1595.6 1429.8,1595.6 1432.7,1595.6 1435.6,1595.6 1438.4,1595.6 1441.3,1595.6 1444.2,1595.6 1447,1595.6 1449.9,1595.6 1452.8,1595.6 1455.7,1595.6 1458.5,1595.6 1461.4,1595.6 1464.3,1595.6 1467.1,1595.6 1470,1595.6 1472.9,1595.6 1475.8,1595.6 1478.6,1595.6 1481.5,1595.6 1484.4,1595.6 1487.3,1595.6 1490.1,1595.6 1493,1595.6 1495.9,1593.6 1498.7,1577.1 1501.6,1566.8 1504.5,1562.4 1507.4,1560.9 1510.2,1562.5 1513.1,1565.1 1516,1567.8 1518.8,1570.5 1521.7,1573 1524.6,1574.7 1527.5,1576.4 1530.3,1578.2 1533.2,1579.9 1536.1,1581.6 1539,1583.4 1541.8,1584.9 1544.7,1585.7 1547.6,1586.6 1550.4,1587.5 1553.3,1588.3 1556.2,1589.2 1559.1,1590 1561.9,1590.8 1564.8,1591.3 1567.7,1591.7 1570.5,1592.1 1573.4,1592.6 1576.3,1593 1579.2,1593.5 1582,1593.8 1584.9,1594 1587.8,1594.2 1590.7,1594.4 1593.5,1594.6 1596.4,1594.8 1599.3,1595 1602.1,1595.3 1605,1595.4 1607.9,1595.4 1610.8,1595.5 1613.6,1595.5 1616.5,1595.6 1619.4,1595.7 1622.3,1595.7 1625.1,1595.8 1628,1595.8 1630.9,1595.9 1633.7,1595.9 1636.6,1596 1639.5,1596.1 1642.4,1596.1 1645.2,1596.1 1648.1,1596.1 1651,1596.1 1653.8,1596.1 1656.7,1596.2 1659.6,1596.2 1662.5,1596.2 1665.3,1596.2 1668.2,1596.2 1671.1,1596.2 1674,1596.2 1676.8,1596.2 1679.7,1596.2 1682.6,1596.2 1685.4,1596.2 1688.3,1596.2 1691.2,1596.2 1694.1,1596.2 1696.9,1596.2 1699.8,1596.2 1702.7,1596.2 1705.5,1596.2 1708.4,1596.3 1711.3,1596.3 1714.2,1596.3 1717,1596.3 1719.9,1596.3 1722.8,1596.3 1725.7,1596.3 1728.5,1596.3 1731.4,1596.3 1734.3,1596.3 1737.1,1596.3 1740,1596.3 1742.9,1596.3 1745.8,1596.3 1748.6,1596.3 1751.5,1596.3 1754.4,1596.3 1757.2,1596.3 1760.1,1596.3 1763,1596.4 1765.9,1596.4 1768.7,1596.4 1771.6,1596.4 1774.5,1596.4 1777.4,1596.4 1780.2,1596.4 1783.1,1596.4 1786,1596.4 1788.8,1596.4" fill="none" stroke="#fdb515" stroke-width="5" />
<polyline points="315.3,2247.1 316,2247.1 316.6,2224.7 317.3,2182.1 318,2139.7 318.6,2097.3 319.3,2054.7 320,2012.3 320.6,1969.7 321.3,1927.2 322,1882.7 322.6,1837.9 323.3,1793 324,1752.8 324.6,1718 325.3,1692.8 326,1675.8 326.6,1658.8 327.3,1646.9 328,1636.8 328.6,1627 329.3,1621 330,1614.9 330.6,1612.1 331.3,1609.7 332,1607.5 332.6,1605.2 333.3,1603.4 334,1601.9 334.6,1600.6 335.3,1599.5 336,1598.5 336.6,1597.3 337.3,1596.2 338,1595.2 338.6,1594.8 339.3,1594.3 340,1593.7 340.6,1593.4 341.3,1593 342,1592.5 342.6,1592.1 343.3,1591.6 344,1591.4 344.6,1591.3 345.3,1591.2 346,1591 346.6,1590.9 347.3,1590.8 348,1590.8 348.6,1590.7 349.3,1590.5 350,1590.5 350.6,1590.5 351.3,1590.4 352,1590.5 352.6,1590.5 353.3,1590.4 354,1590.4 354.6,1590.4 355.6,1591.2 356.5,1590.9 357.5,1590.2 358.4,1590.2 359.4,1589.7 360.4,1589.7 361.3,1590.4 362.3,1589.6 363.2,1589.2 364.2,1589.4 365.2,1589.1 366.1,1589.8 367.1,1590.7 368,1589.8 369,1590.1 369.9,1591 370.9,1589.5 371.9,1589.7 372.8,1590.2 373.8,1590.4 374.7,1589.9 375.7,1589.8 376.6,1590.6 377.6,1591.3 378.6,1591.5 379.5,1590.8 380.5,1591.5 381.4,1591.7 382.4,1591.7 383.3,1592 384.3,1592.3 385.3,1592.8 386.2,1593.3 387.2,1593.1 388.1,1592.9 389.1,1593.5 390,1592.9 391,1592.8 392,1593.7 392.9,1594.2 393.9,1593.9 394.8,1593.7 395.8,1594.5 396.7,1594.6 397.7,1594 398.7,1593.8 399.6,1593.5 400.6,1593.1 401.5,1592.6 402.5,1593.2 403.4,1594.1 404.4,1593.9 405.4,1593.9 406.3,1593.7 407.3,1593.7 408.2,1593.3 409.2,1593.6 410.2,1593.9 411.1,1593.1 412.1,1592.6 413,1592.8 414,1593.1 414.9,1593 415.9,1592.8 416.9,1592.9 417.8,1592.7 418.8,1592.1 419.7,1591.5 420.7,1592.1 421.6,1592.6 422.6,1592.3 423.6,1592.4 424.5,1592.7 425.5,1592.8 426.4,1592.3 427.4,1592.3 428.3,1592.7 429.3,1592.2 430.3,1591.9 431.2,1592.5 432.2,1592.5 433.1,1592.4 434.1,1592.7 435,1592.4 436,1592.1 437,1592.8 437.9,1592.3 438.9,1591.9 439.8,1592.8 440.8,1592.7 441.7,1592.4 442.7,1592.2 443.7,1592.4 444.6,1592.6 445.6,1592.8 446.5,1593.2 447.5,1592.5 448.4,1592.2 449.4,1591.6 450.4,1591.7 451.3,1592.2 452.3,1592.5 453.2,1591.9 454.2,1591.4 455.1,1592.6 456.1,1592.5 457.1,1592.1 458,1591.3 459,1590.7 459.9,1591.9 460.9,1592 461.9,1591.5 462.8,1592 463.8,1592.3 464.7,1592.2 465.7,1592.5 466.6,1592.3 467.6,1592.1 468.6,1592.2 469.5,1592.2 470.5,1592.4 471.4,1591.5 472.4,1591.1 473.3,1591.6 474.3,1590.6 475.3,1590.9 476.2,1592.3 477.2,1593 478.1,1593.3 479.1,1592.3 480,1592.3 481,1593.4 482,1592.8 482.9,1592 483.9,1591.4 484.8,1591.9 485.8,1592.2 486.7,1592.5 487.7,1592.4 488.7,1591.4 489.6,1592.3 490.6,1591.9 491.5,1591.5 492.5,1591.8 493.4,1591.9 494.4,1591.8 495.4,1591.6 496.3,1592.6 497.3,1593.3 498.2,1593.3 499.2,1592.7 500.1,1592.2 501.1,1592.5 502.1,1592.9 503,1593.3 504,1593.2 504.9,1592.7 505.9,1592.6 506.9,1592.4 507.8,1592.1 508.8,1592.9 509.7,1592.7 510.7,1592 511.6,1593 512.6,1593.5 513.6,1593.5 514.5,1594 515.5,1594.6 516.4,1594.5 517.4,1594.5 518.3,1595.8 519.3,1595.6 520.3,1595.3 521.2,1595.6 522.2,1595.1 523.1,1595.6 524.1,1595.3 525,1595.6 526,1596.4 527,1596.1 527.9,1595.8 528.9,1596.3 529.8,1596.9 530.8,1597 531.7,1596.7 532.7,1596.4 533.7,1596.1 534.6,1596.2 535.6,1596.8 536.5,1596.3 537.5,1594.7 538.4,1594.2 539.4,1595.6 540.4,1595.8 541.3,1595.3 542.3,1595.5 543.2,1595.5 544.2,1595.6 545.1,1596 546.1,1595.3 547.1,1595 548,1595.3 549,1594.9 549.9,1594.5 550.9,1594.4 551.8,1594.5 552.8,1594.4 553.8,1594.2 554.7,1593.8 555.7,1593.3 556.6,1593.2 557.6,1593.9 558.6,1593.9 559.5,1593.2 560.5,1593.7 561.4,1594.2 562.4,1594.8 563.3,1594 564.3,1593 565.3,1593 566.2,1593.6 567.2,1595 568.1,1594.2 569.1,1593.6 570,1593.6 571,1593.5 572,1593.2 572.9,1593 573.9,1593.3 574.8,1593 575.8,1593 576.7,1593.3 577.7,1592.6 578.7,1592.4 579.6,1592.8 580.6,1592.5 581.5,1592.5 582.5,1592.5 583.4,1591.7 584.4,1591.4 585.4,1592.7 586.3,1594 587.3,1593.7 588.2,1593.8 589.2,1594.5 590.1,1593.9 591.1,1593.2 592.1,1592.7 593,1592.1 594,1591.2 594.9,1591.7 595.9,1592.8 596.8,1592.4 597.8,1591.7 598.8,1591.8 599.7,1592.6 600.7,1593.5 601.6,1592.8 602.6,1591.8 603.6,1591.5 604.5,1590.6 605.5,1590.5 606.4,1591 607.4,1591.4 608.3,1592 609.3,1592.2 610.3,1591.2 611.2,1584.3 612.2,1573.1 613.1,1555.1 614.1,1536.7 615,1517.4 616,1498.5 617,1485.8 617.9,1472.8 618.9,1464.6 619.8,1456.5 620.8,1448.8 621.7,1444.3 622.7,1439.9 623.7,1437.2 624.6,1434 625.6,1430.8 626.5,1428.9 627.5,1427.9 628.4,1427.4 629.4,1425.6 630.4,1424.7 631.3,1424.7 632.3,1424.2 633.2,1423.6 634.2,1423.7 635.1,1423.9 636.1,1423.4 637.1,1423.1 638,1423.5 639,1423.6 639.9,1423.8 640.9,1424 641.8,1423.2 642.8,1422.5 643.8,1423.4 644.7,1424.1 645.7,1424.2 646.6,1424.8 647.6,1425 648.5,1424.8 649.5,1425.4 650.5,1425.7 651.4,1426 652.4,1425.6 653.3,1425.5 654.3,1426.1 655.3,1426.1 656.2,1425.8 657.2,1426.1 658.1,1425.6 659.1,1425.8 660,1427 661,1426.9 662,1426.9 662.9,1426.7 663.9,1426.2 664.8,1426.7 665.8,1426.8 666.7,1426.9 667.7,1427.4 668.7,1428.1 669.6,1428.8 670.6,1428.3 671.5,1426.8 672.5,1427.1 673.4,1427.9 674.4,1427.7 675.4,1427.5 676.3,1427.6 677.3,1427.9 678.2,1427.5 679.2,1427.7 680.1,1427.9 681.1,1427.9 682.1,1427.6 683,1427.3 684,1427.3 684.9,1427.4 685.9,1428.1 686.8,1428.5 687.8,1427.9 688.8,1427.8 689.7,1427.7 690.7,1428.2 691.6,1429 692.6,1428.8 693.5,1428.4 694.5,1428.3 695.5,1428.8 696.4,1428.5 697.4,1428.3 698.3,1428.9 699.3,1428.6 700.3,1428.2 701.2,1428.2 702.2,1428 703.1,1428.4 704.1,1428.8 705,1428.6 706,1428.3 707,1428.3 707.9,1428.2 708.9,1428.4 709.8,1428.8 710.8,1428.1 711.7,1428.7 712.7,1429.7 713.7,1428.9 714.6,1428.1 715.6,1428 716.5,1428 717.5,1427.9 718.4,1428.5 719.4,1428.9 720.4,1428.5 721.3,1429 722.3,1429.7 723.2,1429.5 724.2,1428.6 725.1,1428.1 726.1,1429 727.1,1429.5 728,1429.2 729,1429 729.9,1428.7 730.9,1428.8 731.8,1429.2 732.8,1428.8 733.8,1428 734.7,1428.9 735.7,1429.4 736.6,1428.5 737.6,1428.4 738.5,1428.6 739.5,1428.9 740.5,1428.6 741.4,1428.8 742.4,1429 743.3,1427.9 744.3,1428.6 745.2,1428.8 746.2,1428.2 747.2,1428.9 748.1,1429.2 749.1,1428.4 750,1428.7 751,1429.4 752,1430.3 752.9,1430.8 753.9,1429.9 754.8,1429.3 755.8,1428.9 756.7,1428.5 757.7,1428 758.7,1428.1 759.6,1427.7 760.6,1427.7 761.5,1428.3 762.5,1428.9 763.4,1429.2 764.4,1428.6 765.4,1428.4 766.3,1428.9 767.3,1429.3 768.2,1429.6 769.2,1429.5 770.1,1429.4 771.1,1429.1 772.1,1428.6 773,1428.7 774,1428.6 774.9,1428.7 775.9,1428.6 776.8,1428.8 777.8,1429.7 778.8,1429.2 779.7,1428.9 780.7,1429 781.6,1428.5 782.6,1428.7 783.5,1428.9 784.5,1428.9 785.5,1428.9 786.4,1429 787.4,1429.1 788.3,1429 789.3,1428.8 790.2,1429 791.2,1429.2 792.2,1429.5 793.1,1429.9 794.1,1430.1 795,1429.9 796,1429.1 797,1428.7 797.9,1429.4 798.9,1429.3 799.8,1429.2 800.8,1429.7 801.7,1429.5 802.7,1428.7 803.7,1428.4 804.6,1428.2 805.6,1427.9 806.5,1428.8 807.5,1429 808.4,1428.4 809.4,1428.9 810.4,1429.6 811.3,1429.3 812.3,1429.2 813.2,1429.3 814.2,1428.5 815.1,1428.3 816.1,1429.1 817.1,1429.3 818,1429.7 819,1429.2 819.9,1429 820.9,1427.9 821.8,1427.5 822.8,1429.1 823.8,1429.7 824.7,1429.7 825.7,1429 826.6,1429.1 827.6,1429 828.5,1428.5 829.5,1428.5 830.5,1428.6 831.4,1428.8 832.4,1429.2 833.3,1429.7 834.3,1430.1 835.2,1429.7 836.2,1428.9 837.2,1428.7 838.1,1429.3 839.1,1429 840,1428.9 841,1429.7 841.9,1429.7 842.9,1429.5 843.9,1429.2 844.8,1429.4 845.8,1430 846.7,1429.3 847.7,1428.6 848.7,1428.6 849.6,1428.4 850.6,1428.6 851.5,1428.2 852.5,1428.3 853.4,1429 854.4,1428.4 855.4,1428.2 856.3,1428.8 857.3,1428.9 858.2,1429.3 859.2,1429 860.1,1428.7 861.1,1428.8 862.1,1428.2 863,1428 864,1428.4 864.9,1428.6 865.9,1428.6 866.8,1428.1 867.8,1428.9 868.8,1429.7 869.7,1429.3 870.7,1429 871.6,1428.8 872.6,1428.9 873.5,1428.1 874.5,1428 875.5,1428.4 876.4,1428.7 877.4,1429.3 878.3,1429.5 879.3,1428.7 880.2,1428.7 881.2,1429.4 882.2,1428.1 883.1,1427.8 884.1,1428.7 885,1428.9 886,1429.4 886.9,1429.1 887.9,1428.3 888.9,1428.8 889.8,1429.4 890.8,1428.4 891.7,1428.3 892.7,1428.7 893.7,1427.7 894.6,1428.3 895.6,1429.2 896.5,1429.2 897.5,1430 898.4,1429.2 899.4,1428.1 900.4,1428.7 901.3,1428.8 902.3,1428.9 903.2,1429.6 904.2,1429.6 905.1,1430.5 906.1,1432.9 907.1,1438 908,1443.7 909,1448.7 909.9,1452.4 910.9,1455.8 911.8,1457.6 912.8,1459.8 913.8,1463.1 914.7,1464.4 915.7,1464.1 916.6,1464.6 917.6,1465.3 918.5,1464 919.5,1464.4 920.5,1465.3 921.4,1464.4 922.4,1463.2 923.3,1461.8 924.3,1461.5 925.2,1460.6 926.2,1459.2 927.2,1459.1 928.1,1458.2 929.1,1456.4 930,1454.7 931,1454.2 931.9,1453.9 932.9,1453.4 933.9,1452.5 934.8,1451.2 935.8,1450.2 936.7,1450 937.7,1450.3 938.6,1449.7 939.6,1447.8 940.6,1446.6 941.5,1447.3 942.5,1446.9 943.4,1445.3 944.4,1444.2 945.4,1443.8 946.3,1444 947.3,1443.7 948.2,1443.3 949.2,1443.3 950.1,1441.7 951.1,1440.2 952.1,1440.2 953,1440.8 954,1440.7 954.9,1439.8 955.9,1438.4 956.8,1438.1 957.8,1438.9 958.8,1438.7 959.7,1438.1 960.7,1437.4 961.6,1436.9 962.6,1435.6 963.5,1435.5 964.5,1436.9 965.5,1436 966.4,1435.3 967.4,1435.7 968.3,1435.4 969.3,1434.7 970.2,1434.2 971.2,1433.9 972.2,1433.9 973.1,1433.8 974.1,1433.8 975,1434 976,1433.6 976.9,1433.1 977.9,1433.3 978.9,1433.4 979.8,1432 980.8,1430.8 981.7,1430.5 982.7,1430.3 983.6,1430.5 984.6,1430.2 985.6,1430.1 986.5,1430.8 987.5,1431.1 988.4,1430.7 989.4,1430.3 990.4,1430.4 991.3,1430.6 992.3,1430.4 993.2,1430.5 994.2,1429.4 995.1,1428.8 996.1,1430.4 997.1,1430.1 998,1429.5 999,1429.8 999.9,1429.4 1000.9,1428.8 1001.8,1428.8 1002.8,1429 1003.8,1429 1004.7,1428.2 1005.7,1428.1 1006.6,1429.3 1007.6,1429.8 1008.5,1429.4 1009.5,1429.1 1010.5,1429 1011.4,1428.6 1012.4,1429.1 1013.3,1429.2 1014.3,1429 1015.2,1429.3 1016.2,1429.4 1017.2,1429.2 1018.1,1429.1 1019.1,1429.2 1020,1429 1021,1429.3 1021.9,1428.6 1022.9,1427.8 1023.9,1428.4 1024.8,1428.5 1025.8,1428.7 1026.7,1428.8 1027.7,1429 1028.6,1429 1029.6,1428.4 1030.6,1428.5 1031.5,1428.2 1032.5,1428.3 1033.4,1428.6 1034.4,1428 1035.3,1427.9 1036.3,1428.1 1037.3,1427.6 1038.2,1427.3 1039.2,1427.7 1040.1,1428.3 1041.1,1428.5 1042.1,1428.4 1043,1427.7 1044,1427.3 1044.9,1428.4 1045.9,1428.2 1046.8,1427.5 1047.8,1428 1048.8,1428.4 1049.7,1427.2 1050.7,1427.2 1051.6,1428.1 1052.6,1426.9 1053.5,1427 1054.5,1428.7 1055.5,1429 1056.4,1428.5 1057.4,1427.8 1058.3,1428.2 1059.3,1429.3 1060.2,1428.8 1061.2,1428 1062.2,1428.5 1063.1,1428.7 1064.1,1428.1 1065,1427.8 1066,1428.8 1066.9,1429.1 1067.9,1428.7 1068.9,1428.9 1069.8,1428.9 1070.8,1427.9 1071.7,1427.4 1072.7,1427.4 1073.6,1427.4 1074.6,1427.7 1075.6,1427.9 1076.5,1428.7 1077.5,1428.5 1078.4,1427.6 1079.4,1427.8 1080.3,1427.9 1081.3,1428.4 1082.3,1428.7 1083.2,1428.9 1084.2,1428.9 1085.1,1428.4 1086.1,1428.4 1087.1,1427.9 1088,1428 1089,1428.3 1089.9,1427.9 1090.9,1428.1 1091.8,1427.9 1092.8,1427.7 1093.8,1428.1 1094.7,1427.7 1095.7,1427.6 1096.6,1427.9 1097.6,1428.2 1098.5,1428.8 1099.5,1428.3 1100.5,1427.1 1101.4,1427.6 1102.4,1429 1103.3,1428.8 1104.3,1428.5 1105.2,1428.2 1106.2,1427.6 1107.2,1427.7 1108.1,1427.9 1109.1,1427.8 1110,1428.3 1111,1428.5 1111.9,1428.1 1112.9,1427.8 1113.9,1427.5 1114.8,1427.5 1115.8,1428.1 1116.7,1428.6 1117.7,1428.9 1118.6,1428.3 1119.6,1427.9 1120.6,1427.4 1121.5,1427.8 1122.5,1428.2 1123.4,1428 1124.4,1429 1125.3,1429.5 1126.3,1428.6 1127.3,1428.3 1128.2,1428.6 1129.2,1428.1 1130.1,1427.9 1131.1,1428.2 1132,1427.8 1133,1428.1 1134,1428.2 1134.9,1428.4 1135.9,1429.2 1136.8,1428.4 1137.8,1427.4 1138.8,1427.5 1139.7,1428.3 1140.7,1428.8 1141.6,1428.8 1142.6,1429.1 1143.5,1428.7 1144.5,1428.5 1145.5,1428.1 1146.4,1428.5 1147.4,1429.2 1148.3,1429.1 1149.3,1429.4 1150.2,1428.2 1151.2,1427.1 1152.2,1427.7 1153.1,1428.1 1154.1,1428 1155,1428.2 1156,1429.7 1156.9,1430.6 1157.9,1429.2 1158.9,1429.3 1159.8,1429 1160.8,1427.6 1161.7,1428.1 1162.7,1428.3 1163.6,1428.1 1164.6,1428.5 1165.6,1428.1 1166.5,1427.9 1167.5,1429 1168.4,1428.2 1169.4,1427.8 1170.3,1428.4 1171.3,1428 1172.3,1427.3 1173.2,1427.8 1174.2,1428.6 1175.1,1429.2 1176.1,1429.2 1177,1428 1178,1428.3 1179,1429.3 1179.9,1429.7 1180.9,1429.9 1181.8,1429.7 1182.8,1429.2 1183.8,1428.6 1184.7,1429.4 1185.7,1429.4 1186.6,1428.1 1187.6,1427.9 1188.5,1428.7 1189.5,1428.7 1190.5,1428.6 1191.4,1429.4 1192.4,1429.8 1193.3,1430 1194.3,1429.5 1195.2,1428.7 1196.2,1429.3 1197.2,1430.4 1198.1,1429.2 1199.1,1428.8 1200,1430.1 1201,1434.8 1201.9,1445.1 1202.9,1460.1 1203.9,1474.4 1204.8,1492.5 1205.8,1510.1 1206.7,1522.9 1207.7,1536.5 1208.6,1545.3 1209.6,1551.8 1210.6,1558.5 1211.5,1562.9 1212.5,1568.1 1213.4,1573.5 1214.4,1576.5 1215.3,1578.3 1216.3,1580.6 1217.3,1583.2 1218.2,1585.5 1219.2,1586.1 1220.1,1587 1221.1,1589.1 1222,1590 1223,1590.6 1224,1591.1 1224.9,1591.1 1225.9,1592 1226.8,1592.8 1227.8,1592.5 1228.7,1593.2 1229.7,1593.9 1230.7,1593.6 1231.6,1593.5 1232.6,1593.9 1233.5,1594.7 1234.5,1595.2 1235.5,1594.8 1236.4,1594.7 1237.4,1594.9 1238.3,1595.1 1239.3,1595.8 1240.2,1595.3 1241.2,1595.1 1242.2,1594.7 1243.1,1593.2 1244.1,1593.5 1245,1594.5 1246,1595.1 1246.9,1595.7 1247.9,1595.6 1248.9,1594.8 1249.8,1594.6 1250.8,1595.7 1251.7,1595.4 1252.7,1595 1253.6,1595 1254.6,1594.8 1255.6,1595.5 1256.5,1595.7 1257.5,1595.1 1258.4,1595.1 1259.4,1594.9 1260.3,1595 1261.3,1595 1262.3,1595.2 1263.2,1596.3 1264.2,1595.5 1265.1,1594.5 1266.1,1594.9 1267,1595.2 1268,1595.4 1269,1596.2 1269.9,1595.8 1270.9,1594.5 1271.8,1594.7 1272.8,1596.1 1273.7,1597 1274.7,1596.4 1275.7,1595.2 1276.6,1595.3 1277.6,1595.5 1278.5,1595.6 1279.5,1595.2 1280.4,1594.7 1281.4,1595.8 1282.4,1596.2 1283.3,1595.2 1284.3,1594.9 1285.2,1596.4 1286.2,1596.5 1287.2,1595.8 1288.1,1596.7 1289.1,1596.3 1290,1594.7 1291,1595.1 1291.9,1596 1292.9,1595.9 1293.9,1595.7 1294.8,1595.6 1295.8,1595.2 1296.7,1595.8 1297.7,1596.2 1298.6,1594.8 1299.6,1594.7 1300.6,1595.4 1301.5,1595.2 1302.5,1595.6 1303.4,1596.3 1304.4,1595 1305.3,1594.5 1306.3,1595.8 1307.3,1595.5 1308.2,1595.2 1309.2,1595.9 1310.1,1596 1311.1,1596.1 1312,1596.3 1313,1595.4 1314,1595 1314.9,1595.5 1315.9,1595 1316.8,1594.6 1317.8,1595.3 1318.7,1596.1 1319.7,1596.2 1320.7,1595.1 1321.6,1595.2 1322.6,1594.9 1323.5,1594.6 1324.5,1596 1325.4,1596.1 1326.4,1595 1327.4,1595 1328.3,1595.4 1329.3,1594.9 1330.2,1595.3 1331.2,1595.2 1332.2,1594.4 1333.1,1594.5 1334.1,1595.7 1335,1595.9 1336,1594.9 1336.9,1594.7 1337.9,1594.2 1338.9,1594.5 1339.8,1595.2 1340.8,1596.1 1341.7,1596.6 1342.7,1595.3 1343.6,1595.3 1344.6,1595.9 1345.6,1596.1 1346.5,1596.1 1347.5,1595.9 1348.4,1595.6 1349.4,1595.1 1350.3,1595.2 1351.3,1595.8 1352.3,1596 1353.2,1595 1354.2,1596.2 1355.1,1596.8 1356.1,1595.6 1357,1595 1358,1594.7 1359,1594.8 1359.9,1594.9 1360.9,1594.8 1361.8,1595 1362.8,1595.4 1363.7,1595.8 1364.7,1595.8 1365.7,1595.5 1366.6,1594.7 1367.6,1595.1 1368.5,1595.6 1369.5,1595.3 1370.4,1595.4 1371.4,1594.8 1372.4,1594.8 1373.3,1595.6 1374.3,1595.6 1375.2,1594.8 1376.2,1594.7 1377.1,1594.8 1378.1,1595.5 1379.1,1595.4 1380,1595 1381,1595.9 1381.9,1595.6 1382.9,1595.7 1383.9,1595.7 1384.8,1594.5 1385.8,1594.8 1386.7,1595.8 1387.7,1595.1 1388.6,1594.5 1389.6,1594.6 1390.6,1595.6 1391.5,1596.3 1392.5,1594.8 1393.4,1594.8 1394.4,1595.7 1395.3,1595.3 1396.3,1595 1397.3,1595.2 1398.2,1596.3 1399.2,1596 1400.1,1595.4 1401.1,1595.3 1402,1594.3 1403,1595.1 1404,1595.6 1404.9,1594.5 1405.9,1593.8 1406.8,1594.1 1407.8,1595 1408.7,1595.2 1409.7,1595.4 1410.7,1594.9 1411.6,1594.4 1412.6,1594.4 1413.5,1595.6 1414.5,1596.4 1415.4,1595.6 1416.4,1595.5 1417.4,1595.8 1418.3,1595.5 1419.3,1595.3 1420.2,1594.8 1421.2,1594.6 1422.1,1595.5 1423.1,1595.6 1424.1,1595.2 1425,1594.8 1426,1595.4 1426.9,1596.8 1427.9,1596.5 1428.9,1595.7 1429.8,1595.5 1430.8,1595.5 1431.7,1595.4 1432.7,1595.5 1433.6,1595.5 1434.6,1595.2 1435.6,1594.9 1436.5,1594.8 1437.5,1595 1438.4,1595 1439.4,1595.4 1440.3,1595.5 1441.3,1596 1442.3,1595.6 1443.2,1595.1 1444.2,1594.5 1445.1,1594.3 1446.1,1594.2 1447,1593.6 1448,1594.3 1449,1595.5 1449.9,1595.7 1450.9,1594.8 1451.8,1594.8 1452.8,1594.7 1453.7,1594.8 1454.7,1595.3 1455.7,1594.7 1456.6,1594.5 1457.6,1594.7 1458.5,1594.9 1459.5,1594.8 1460.4,1594.9 1461.4,1594.8 1462.4,1595 1463.3,1594.1 1464.3,1593.8 1465.2,1595.4 1466.2,1596.1 1467.1,1596.2 1468.1,1595.3 1469.1,1595.2 1470,1594.9 1471,1594.8 1471.9,1595.7 1472.9,1595.7 1473.8,1595.5 1474.8,1595.4 1475.8,1595.7 1476.7,1595.7 1477.7,1596 1478.6,1595.9 1479.6,1595.1 1480.6,1595.3 1481.5,1595.5 1482.5,1595.5 1483.4,1595.1 1484.4,1595.8 1485.3,1595.5 1486.3,1594.8 1487.3,1595 1488.2,1594.3 1489.2,1595 1490.1,1596 1491.1,1595.9 1492,1595.5 1493,1595.5 1494,1595.9 1494.9,1594.8 1495.9,1592.5 1496.8,1587.2 1497.8,1581.1 1498.7,1575.6 1499.7,1571.6 1500.7,1569.2 1501.6,1565.8 1502.6,1563.1 1503.5,1562.5 1504.5,1562.4 1505.4,1561.2 1506.4,1560.2 1507.4,1560.6 1508.3,1561.4 1509.3,1561.8 1510.2,1562.2 1511.2,1562.8 1512.1,1563.8 1513.1,1565.3 1514.1,1566.1 1515,1566.7 1516,1567 1516.9,1568 1517.9,1570.2 1518.8,1570 1519.8,1569.6 1520.8,1571.1 1521.7,1572.1 1522.7,1572.9 1523.6,1572.9 1524.6,1574 1525.6,1575 1526.5,1574.8 1527.5,1574.7 1528.4,1575.6 1529.4,1576.5 1530.3,1576.9 1531.3,1578.5 1532.3,1579.7 1533.2,1579.4 1534.2,1580 1535.1,1581.2 1536.1,1580.6 1537,1581.4 1538,1582.5 1539,1581.9 1539.9,1582 1540.9,1583.1 1541.8,1584.4 1542.8,1584.2 1543.7,1584 1544.7,1585 1545.7,1586 1546.6,1587.2 1547.6,1586.9 1548.5,1586.4 1549.5,1587.6 1550.4,1587.3 1551.4,1586.8 1552.4,1587.7 1553.3,1588.3 1554.3,1588.1 1555.2,1588 1556.2,1588.9 1557.1,1589 1558.1,1589 1559.1,1590 1560,1590.3 1561,1590.2 1561.9,1589.8 1562.9,1589.7 1563.8,1591.3 1564.8,1592.2 1565.8,1591.1 1566.7,1590.6 1567.7,1591.5 1568.6,1592 1569.6,1591.1 1570.5,1592 1571.5,1592.3 1572.5,1591 1573.4,1591.9 1574.4,1592.6 1575.3,1592.3 1576.3,1592.4 1577.3,1592.5 1578.2,1592.2 1579.2,1592.7 1580.1,1593.4 1581.1,1593.1 1582,1593.3 1583,1593.6 1584,1592.9 1584.9,1593.8 1585.9,1594.3 1586.8,1593.8 1587.8,1594.4 1588.7,1594.4 1589.7,1593.8 1590.7,1593.5 1591.6,1594 1592.6,1594.1 1593.5,1593.3 1594.5,1593.6 1595.4,1593.9 1596.4,1593.9 1597.4,1594 1598.3,1594.6 1599.3,1594.5 1600.2,1593.9 1601.2,1593.8 1602.1,1593.7 1603.1,1594.8 1604.1,1594.7 1605,1593.8 1606,1593.9 1606.9,1594.6 1607.9,1595.2 1608.8,1594.6 1609.8,1594.7 1610.8,1594.9 1611.7,1594.6 1612.7,1595.2 1613.6,1595.5 1614.6,1595.4 1615.5,1595.1 1616.5,1595.2 1617.5,1595.4 1618.4,1595.3 1619.4,1595.1 1620.3,1594.6 1621.3,1595.4 1622.3,1595.6 1623.2,1595.3 1624.2,1595.6 1625.1,1595.4 1626.1,1594.7 1627,1594.1 1628,1594.8 1629,1595.6 1629.9,1594.9 1630.9,1594.6 1631.8,1594.4 1632.8,1595 1633.7,1595.3 1634.7,1595.2 1635.7,1596.9 1636.6,1596.4 1637.6,1595.6 1638.5,1595.6 1639.5,1595.4 1640.4,1595.2 1641.4,1595.7 1642.4,1596.8 1643.3,1595.7 1644.3,1594.6 1645.2,1595.2 1646.2,1596.3 1647.1,1596 1648.1,1594.3 1649.1,1594.8 1650,1596 1651,1596.2 1651.9,1595.8 1652.9,1595.5 1653.8,1596.3 1654.8,1596.6 1655.8,1595.6 1656.7,1595.8 1657.7,1596 1658.6,1595.2 1659.6,1595 1660.5,1596.1 1661.5,1596.2 1662.5,1595.9 1663.4,1597 1664.4,1596.4 1665.3,1596.3 1666.3,1596.5 1667.2,1595.3 1668.2,1595 1669.2,1595.6 1670.1,1595.4 1671.1,1595.3 1672,1595.4 1673,1595 1674,1595.7 1674.9,1595.5 1675.9,1595.1 1676.8,1595.8 1677.8,1595.6 1678.7,1595.8 1679.7,1596 1680.7,1595.7 1681.6,1595.8 1682.6,1595.8 1683.5,1595.3 1684.5,1595.7 1685.4,1596.1 1686.4,1595.7 1687.4,1595.6 1688.3,1595.5 1689.3,1595.5 1690.2,1595.9 1691.2,1596 1692.1,1595.7 1693.1,1595.2 1694.1,1596 1695,1596.7 1696,1596.1 1696.9,1596.3 1697.9,1596.3 1698.8,1595.5 1699.8,1594.9 1700.8,1595.6 1701.7,1596.6 1702.7,1596.2 1703.6,1595.4 1704.6,1596.1 1705.5,1596.2 1706.5,1595.6 1707.5,1595.4 1708.4,1595.7 1709.4,1595.8 1710.3,1595.7 1711.3,1595.5 1712.2,1595.4 1713.2,1595.5 1714.2,1595.6 1715.1,1595.9 1716.1,1595.8 1717,1595.4 1718,1595.6 1719,1595.8 1719.9,1594.7 1720.9,1595.1 1721.8,1596.6 1722.8,1596.8 1723.7,1596.3 1724.7,1596 1725.7,1596.7 1726.6,1597.5 1727.6,1596.3 1728.5,1596.1 1729.5,1596.1 1730.4,1595.1 1731.4,1596.6 1732.4,1596.9 1733.3,1595.6 1734.3,1596 1735.2,1595.8 1736.2,1595.7 1737.1,1595.7 1738.1,1594.9 1739.1,1595 1740,1596.2 1741,1595.8 1741.9,1594.9 1742.9,1594.8 1743.8,1595.1 1744.8,1595.4 1745.8,1594.7 1746.7,1595.1 1747.7,1596.2 1748.6,1595.5 1749.6,1595.4 1750.5,1595.6 1751.5,1595.6 1752.5,1596.3 1753.4,1595.9 1754.4,1595.6 1755.3,1596.1 1756.3,1595.5 1757.2,1595.4 1758.2,1595.8 1759.2,1596 1760.1,1596.5 1761.1,1596.4 1762,1596.1 1763,1595.8 1763.9,1595.7 1764.9,1595.8 1765.9,1595.5 1766.8,1595.2 1767.8,1595.7 1768.7,1596 1769.7,1595.7 1770.7,1595.4 1771.6,1595.4 1772.6,1595.8 1773.5,1596.2 1774.5,1596 1775.4,1595.7 1776.4,1596.1 1777.4,1596.7 1778.3,1596.5 1779.3,1596 1780.2,1596.1 1781.2,1596.4 1782.1,1596.4 1783.1,1596 1784.1,1596.5 1785,1596.7 1786,1596.2 1786.9,1596.2 1787.9,1595.8 1788.8,1597.1 1789.8,1596.7" fill="none" stroke="#fb8a0a" stroke-width="6.9" />
<polyline points="315.3,2249.7 316,2249.7 316.6,2227.3 317.3,2184.7 318,2142.3 318.6,2099.9 319.3,2057.3 320,2014.9 320.6,1972.3 321.3,1929.8 322,1885.3 322.6,1840.5 323.3,1795.6 324,1755.4 324.6,1720.6 325.3,1695.4 326,1678.4 326.6,1661.4 327.3,1649.5 328,1639.4 328.6,1629.6 329.3,1623.6 330,1617.5 330.6,1614.7 331.3,1612.3 332,1610.1 332.6,1607.8 333.3,1606 334,1604.5 334.6,1603.2 335.3,1602.1 336,1601.1 336.6,1599.9 337.3,1598.8 338,1597.8 338.6,1597.4 339.3,1596.9 340,1596.3 340.6,1596 341.3,1595.6 342,1595.1 342.6,1594.7 343.3,1594.2 344,1594 344.6,1593.9 345.3,1593.8 346,1593.6 346.6,1593.5 347.3,1593.4 348,1593.4 348.6,1593.3 349.3,1593.1 350,1593.1 350.6,1593.1 351.3,1593 352,1593.1 352.6,1593.1 353.3,1593 354,1593 354.6,1593 355.6,1593.8 356.5,1593.5 357.5,1592.8 358.4,1592.8 359.4,1592.3 360.4,1592.3 361.3,1593 362.3,1592.2 363.2,1591.8 364.2,1592 365.2,1591.7 366.1,1592.4 367.1,1593.3 368,1592.4 369,1592.7 369.9,1593.6 370.9,1592.1 371.9,1592.3 372.8,1592.8 373.8,1593 374.7,1592.5 375.7,1592.4 376.6,1593.2 377.6,1593.9 378.6,1594.1 379.5,1593.4 380.5,1594.1 381.4,1594.3 382.4,1594.3 383.3,1594.6 384.3,1594.9 385.3,1595.4 386.2,1595.9 387.2,1595.7 388.1,1595.5 389.1,1596.1 390,1595.5 391,1595.4 392,1596.3 392.9,1596.8 393.9,1596.5 394.8,1596.3 395.8,1597.1 396.7,1597.2 397.7,1596.6 398.7,1596.4 399.6,1596.1 400.6,1595.7 401.5,1595.2 402.5,1595.8 403.4,1596.7 404.4,1596.5 405.4,1596.5 406.3,1596.3 407.3,1596.3 408.2,1595.9 409.2,1596.2 410.2,1596.5 411.1,1595.7 412.1,1595.2 413,1595.4 414,1595.7 414.9,1595.6 415.9,1595.4 416.9,1595.5 417.8,1595.3 418.8,1594.7 419.7,1594.1 420.7,1594.7 421.6,1595.2 422.6,1594.9 423.6,1595 424.5,1595.3 425.5,1595.4 426.4,1594.9 427.4,1594.9 428.3,1595.3 429.3,1594.8 430.3,1594.5 431.2,1595.1 432.2,1595.1 433.1,1595 434.1,1595.3 435,1595 436,1594.7 437,1595.4 437.9,1594.9 438.9,1594.5 439.8,1595.4 440.8,1595.3 441.7,1595 442.7,1594.8 443.7,1595 444.6,1595.2 445.6,1595.4 446.5,1595.8 447.5,1595.1 448.4,1594.8 449.4,1594.2 450.4,1594.3 451.3,1594.8 452.3,1595.1 453.2,1594.5 454.2,1594 455.1,1595.2 456.1,1595.1 457.1,1594.7 458,1593.9 459,1593.3 459.9,1594.5 460.9,1594.6 461.9,1594.1 462.8,1594.6 463.8,1594.9 464.7,1594.8 465.7,1595.1 466.6,1594.9 467.6,1594.7 468.6,1594.8 469.5,1594.8 470.5,1595 471.4,1594.1 472.4,1593.7 473.3,1594.2 474.3,1593.2 475.3,1593.5 476.2,1594.9 477.2,1595.6 478.1,1595.9 479.1,1594.9 480,1594.9 481,1596 482,1595.4 482.9,1594.6 483.9,1594 484.8,1594.5 485.8,1594.8 486.7,1595.1 487.7,1595 488.7,1594 489.6,1594.9 490.6,1594.5 491.5,1594.1 492.5,1594.4 493.4,1594.5 494.4,1594.4 495.4,1594.2 496.3,1595.2 497.3,1595.9 498.2,1595.9 499.2,1595.3 500.1,1594.8 501.1,1595.1 502.1,1595.5 503,1595.9 504,1595.8 504.9,1595.3 505.9,1595.2 506.9,1595 507.8,1594.7 508.8,1595.5 509.7,1595.3 510.7,1594.6 511.6,1595.6 512.6,1596.1 513.6,1596.1 514.5,1596.6 515.5,1597.2 516.4,1597.1 517.4,1597.1 518.3,1598.4 519.3,1598.2 520.3,1597.9 521.2,1598.2 522.2,1597.7 523.1,1598.2 524.1,1597.9 525,1598.2 526,1599 527,1598.7 527.9,1598.4 528.9,1598.9 529.8,1599.5 530.8,1599.6 531.7,1599.3 532.7,1599 533.7,1598.7 534.6,1598.8 535.6,1599.4 536.5,1598.9 537.5,1597.3 538.4,1596.8 539.4,1598.2 540.4,1598.4 541.3,1597.9 542.3,1598.1 543.2,1598.1 544.2,1598.2 545.1,1598.6 546.1,1597.9 547.1,1597.6 548,1597.9 549,1597.5 549.9,1597.1 550.9,1597 551.8,1597.1 552.8,1597 553.8,1596.8 554.7,1596.4 555.7,1595.9 556.6,1595.8 557.6,1596.5 558.6,1596.5 559.5,1595.8 560.5,1596.3 561.4,1596.8 562.4,1597.4 563.3,1596.6 564.3,1595.6 565.3,1595.6 566.2,1596.2 567.2,1597.6 568.1,1596.8 569.1,1596.2 570,1596.2 571,1596.1 572,1595.8 572.9,1595.6 573.9,1595.9 574.8,1595.6 575.8,1595.6 576.7,1595.9 577.7,1595.2 578.7,1595 579.6,1595.4 580.6,1595.1 581.5,1595.1 582.5,1595.1 583.4,1594.3 584.4,1594 585.4,1595.3 586.3,1596.6 587.3,1596.3 588.2,1596.4 589.2,1597.1 590.1,1596.5 591.1,1595.8 592.1,1595.3 593,1594.7 594,1593.8 594.9,1594.3 595.9,1595.4 596.8,1595 597.8,1594.3 598.8,1594.4 599.7,1595.2 600.7,1596.1 601.6,1595.4 602.6,1594.4 603.6,1594.1 604.5,1593.2 605.5,1593.1 606.4,1593.6 607.4,1594 608.3,1594.6 609.3,1594.8 610.3,1593.8 611.2,1586.9 612.2,1575.7 613.1,1557.7 614.1,1539.3 615,1520 616,1501.1 617,1488.4 617.9,1475.4 618.9,1467.2 619.8,1459.1 620.8,1451.4 621.7,1446.9 622.7,1442.5 623.7,1439.8 624.6,1436.6 625.6,1433.4 626.5,1431.5 627.5,1430.5 628.4,1430 629.4,1428.2 630.4,1427.3 631.3,1427.3 632.3,1426.8 633.2,1426.2 634.2,1426.3 635.1,1426.5 636.1,1426 637.1,1425.7 638,1426.1 639,1426.2 639.9,1426.4 640.9,1426.6 641.8,1425.8 642.8,1425.1 643.8,1426 644.7,1426.7 645.7,1426.8 646.6,1427.4 647.6,1427.6 648.5,1427.4 649.5,1428 650.5,1428.3 651.4,1428.6 652.4,1428.2 653.3,1428.1 654.3,1428.7 655.3,1428.7 656.2,1428.4 657.2,1428.7 658.1,1428.2 659.1,1428.4 660,1429.6 661,1429.5 662,1429.5 662.9,1429.3 663.9,1428.8 664.8,1429.3 665.8,1429.4 666.7,1429.5 667.7,1430 668.7,1430.7 669.6,1431.4 670.6,1430.9 671.5,1429.4 672.5,1429.7 673.4,1430.5 674.4,1430.3 675.4,1430.1 676.3,1430.2 677.3,1430.5 678.2,1430.1 679.2,1430.3 680.1,1430.5 681.1,1430.5 682.1,1430.2 683,1429.9 684,1429.9 684.9,1430 685.9,1430.7 686.8,1431.1 687.8,1430.5 688.8,1430.4 689.7,1430.3 690.7,1430.8 691.6,1431.6 692.6,1431.4 693.5,1431 694.5,1430.9 695.5,1431.4 696.4,1431.1 697.4,1430.9 698.3,1431.5 699.3,1431.2 700.3,1430.8 701.2,1430.8 702.2,1430.6 703.1,1431 704.1,1431.4 705,1431.2 706,1430.9 707,1430.9 707.9,1430.8 708.9,1431 709.8,1431.4 710.8,1430.7 711.7,1431.3 712.7,1432.3 713.7,1431.5 714.6,1430.7 715.6,1430.6 716.5,1430.6 717.5,1430.5 718.4,1431.1 719.4,1431.5 720.4,1431.1 721.3,1431.6 722.3,1432.3 723.2,1432.1 724.2,1431.2 725.1,1430.7 726.1,1431.6 727.1,1432.1 728,1431.8 729,1431.6 729.9,1431.3 730.9,1431.4 731.8,1431.8 732.8,1431.4 733.8,1430.6 734.7,1431.5 735.7,1432 736.6,1431.1 737.6,1431 738.5,1431.2 739.5,1431.5 740.5,1431.2 741.4,1431.4 742.4,1431.6 743.3,1430.5 744.3,1431.2 745.2,1431.4 746.2,1430.8 747.2,1431.5 748.1,1431.8 749.1,1431 750,1431.3 751,1432 752,1432.9 752.9,1433.4 753.9,1432.5 754.8,1431.9 755.8,1431.5 756.7,1431.1 757.7,1430.6 758.7,1430.7 759.6,1430.3 760.6,1430.3 761.5,1430.9 762.5,1431.5 763.4,1431.8 764.4,1431.2 765.4,1431 766.3,1431.5 767.3,1431.9 768.2,1432.2 769.2,1432.1 770.1,1432 771.1,1431.7 772.1,1431.2 773,1431.3 774,1431.2 774.9,1431.3 775.9,1431.2 776.8,1431.4 777.8,1432.3 778.8,1431.8 779.7,1431.5 780.7,1431.6 781.6,1431.1 782.6,1431.3 783.5,1431.5 784.5,1431.5 785.5,1431.5 786.4,1431.6 787.4,1431.7 788.3,1431.6 789.3,1431.4 790.2,1431.6 791.2,1431.8 792.2,1432.1 793.1,1432.5 794.1,1432.7 795,1432.5 796,1431.7 797,1431.3 797.9,1432 798.9,1431.9 799.8,1431.8 800.8,1432.3 801.7,1432.1 802.7,1431.3 803.7,1431 804.6,1430.8 805.6,1430.5 806.5,1431.4 807.5,1431.6 808.4,1431 809.4,1431.5 810.4,1432.2 811.3,1431.9 812.3,1431.8 813.2,1431.9 814.2,1431.1 815.1,1430.9 816.1,1431.7 817.1,1431.9 818,1432.3 819,1431.8 819.9,1431.6 820.9,1430.5 821.8,1430.1 822.8,1431.7 823.8,1432.3 824.7,1432.3 825.7,1431.6 826.6,1431.7 827.6,1431.6 828.5,1431.1 829.5,1431.1 830.5,1431.2 831.4,1431.4 832.4,1431.8 833.3,1432.3 834.3,1432.7 835.2,1432.3 836.2,1431.5 837.2,1431.3 838.1,1431.9 839.1,1431.6 840,1431.5 841,1432.3 841.9,1432.3 842.9,1432.1 843.9,1431.8 844.8,1432 845.8,1432.6 846.7,1431.9 847.7,1431.2 848.7,1431.2 849.6,1431 850.6,1431.2 851.5,1430.8 852.5,1430.9 853.4,1431.6 854.4,1431 855.4,1430.8 856.3,1431.4 857.3,1431.5 858.2,1431.9 859.2,1431.6 860.1,1431.3 861.1,1431.4 862.1,1430.8 863,1430.6 864,1431 864.9,1431.2 865.9,1431.2 866.8,1430.7 867.8,1431.5 868.8,1432.3 869.7,1431.9 870.7,1431.6 871.6,1431.4 872.6,1431.5 873.5,1430.7 874.5,1430.6 875.5,1431 876.4,1431.3 877.4,1431.9 878.3,1432.1 879.3,1431.3 880.2,1431.3 881.2,1432 882.2,1430.7 883.1,1430.4 884.1,1431.3 885,1431.5 886,1432 886.9,1431.7 887.9,1430.9 888.9,1431.4 889.8,1432 890.8,1431 891.7,1430.9 892.7,1431.3 893.7,1430.3 894.6,1430.9 895.6,1431.8 896.5,1431.8 897.5,1432.6 898.4,1431.8 899.4,1430.7 900.4,1431.3 901.3,1431.4 902.3,1431.5 903.2,1432.2 904.2,1432.2 905.1,1433.1 906.1,1435.5 907.1,1440.6 908,1446.3 909,1451.3 909.9,1455 910.9,1458.4 911.8,1460.2 912.8,1462.4 913.8,1465.7 914.7,1467 915.7,1466.7 916.6,1467.2 917.6,1467.9 918.5,1466.6 919.5,1467 920.5,1467.9 921.4,1467 922.4,1465.8 923.3,1464.4 924.3,1464.1 925.2,1463.2 926.2,1461.8 927.2,1461.7 928.1,1460.8 929.1,1459 930,1457.3 931,1456.8 931.9,1456.5 932.9,1456 933.9,1455.1 934.8,1453.8 935.8,1452.8 936.7,1452.6 937.7,1452.9 938.6,1452.3 939.6,1450.4 940.6,1449.2 941.5,1449.9 942.5,1449.5 943.4,1447.9 944.4,1446.8 945.4,1446.4 946.3,1446.6 947.3,1446.3 948.2,1445.9 949.2,1445.9 950.1,1444.3 951.1,1442.8 952.1,1442.8 953,1443.4 954,1443.3 954.9,1442.4 955.9,1441 956.8,1440.7 957.8,1441.5 958.8,1441.3 959.7,1440.7 960.7,1440 961.6,1439.5 962.6,1438.2 963.5,1438.1 964.5,1439.5 965.5,1438.6 966.4,1437.9 967.4,1438.3 968.3,1438 969.3,1437.3 970.2,1436.8 971.2,1436.5 972.2,1436.5 973.1,1436.4 974.1,1436.4 975,1436.6 976,1436.2 976.9,1435.7 977.9,1435.9 978.9,1436 979.8,1434.6 980.8,1433.4 981.7,1433.1 982.7,1432.9 983.6,1433.1 984.6,1432.8 985.6,1432.7 986.5,1433.4 987.5,1433.7 988.4,1433.3 989.4,1432.9 990.4,1433 991.3,1433.2 992.3,1433 993.2,1433.1 994.2,1432 995.1,1431.4 996.1,1433 997.1,1432.7 998,1432.1 999,1432.4 999.9,1432 1000.9,1431.4 1001.8,1431.4 1002.8,1431.6 1003.8,1431.6 1004.7,1430.8 1005.7,1430.7 1006.6,1431.9 1007.6,1432.4 1008.5,1432 1009.5,1431.7 1010.5,1431.6 1011.4,1431.2 1012.4,1431.7 1013.3,1431.8 1014.3,1431.6 1015.2,1431.9 1016.2,1432 1017.2,1431.8 1018.1,1431.7 1019.1,1431.8 1020,1431.6 1021,1431.9 1021.9,1431.2 1022.9,1430.4 1023.9,1431 1024.8,1431.1 1025.8,1431.3 1026.7,1431.4 1027.7,1431.6 1028.6,1431.6 1029.6,1431 1030.6,1431.1 1031.5,1430.8 1032.5,1430.9 1033.4,1431.2 1034.4,1430.6 1035.3,1430.5 1036.3,1430.7 1037.3,1430.2 1038.2,1429.9 1039.2,1430.3 1040.1,1430.9 1041.1,1431.1 1042.1,1431 1043,1430.3 1044,1429.9 1044.9,1431 1045.9,1430.8 1046.8,1430.1 1047.8,1430.6 1048.8,1431 1049.7,1429.8 1050.7,1429.8 1051.6,1430.7 1052.6,1429.5 1053.5,1429.6 1054.5,1431.3 1055.5,1431.6 1056.4,1431.1 1057.4,1430.4 1058.3,1430.8 1059.3,1431.9 1060.2,1431.4 1061.2,1430.6 1062.2,1431.1 1063.1,1431.3 1064.1,1430.7 1065,1430.4 1066,1431.4 1066.9,1431.7 1067.9,1431.3 1068.9,1431.5 1069.8,1431.5 1070.8,1430.5 1071.7,1430 1072.7,1430 1073.6,1430 1074.6,1430.3 1075.6,1430.5 1076.5,1431.3 1077.5,1431.1 1078.4,1430.2 1079.4,1430.4 1080.3,1430.5 1081.3,1431 1082.3,1431.3 1083.2,1431.5 1084.2,1431.5 1085.1,1431 1086.1,1431 1087.1,1430.5 1088,1430.6 1089,1430.9 1089.9,1430.5 1090.9,1430.7 1091.8,1430.5 1092.8,1430.3 1093.8,1430.7 1094.7,1430.3 1095.7,1430.2 1096.6,1430.5 1097.6,1430.8 1098.5,1431.4 1099.5,1430.9 1100.5,1429.7 1101.4,1430.2 1102.4,1431.6 1103.3,1431.4 1104.3,1431.1 1105.2,1430.8 1106.2,1430.2 1107.2,1430.3 1108.1,1430.5 1109.1,1430.4 1110,1430.9 1111,1431.1 1111.9,1430.7 1112.9,1430.4 1113.9,1430.1 1114.8,1430.1 1115.8,1430.7 1116.7,1431.2 1117.7,1431.5 1118.6,1430.9 1119.6,1430.5 1120.6,1430 1121.5,1430.4 1122.5,1430.8 1123.4,1430.6 1124.4,1431.6 1125.3,1432.1 1126.3,1431.2 1127.3,1430.9 1128.2,1431.2 1129.2,1430.7 1130.1,1430.5 1131.1,1430.8 1132,1430.4 1133,1430.7 1134,1430.8 1134.9,1431 1135.9,1431.8 1136.8,1431 1137.8,1430 1138.8,1430.1 1139.7,1430.9 1140.7,1431.4 1141.6,1431.4 1142.6,1431.7 1143.5,1431.3 1144.5,1431.1 1145.5,1430.7 1146.4,1431.1 1147.4,1431.8 1148.3,1431.7 1149.3,1432 1150.2,1430.8 1151.2,1429.7 1152.2,1430.3 1153.1,1430.7 1154.1,1430.6 1155,1430.8 1156,1432.3 1156.9,1433.2 1157.9,1431.8 1158.9,1431.9 1159.8,1431.6 1160.8,1430.2 1161.7,1430.7 1162.7,1430.9 1163.6,1430.7 1164.6,1431.1 1165.6,1430.7 1166.5,1430.5 1167.5,1431.6 1168.4,1430.8 1169.4,1430.4 1170.3,1431 1171.3,1430.6 1172.3,1429.9 1173.2,1430.4 1174.2,1431.2 1175.1,1431.8 1176.1,1431.8 1177,1430.6 1178,1430.9 1179,1431.9 1179.9,1432.3 1180.9,1432.5 1181.8,1432.3 1182.8,1431.8 1183.8,1431.2 1184.7,1432 1185.7,1432 1186.6,1430.7 1187.6,1430.5 1188.5,1431.3 1189.5,1431.3 1190.5,1431.2 1191.4,1432 1192.4,1432.4 1193.3,1432.6 1194.3,1432.1 1195.2,1431.3 1196.2,1431.9 1197.2,1433 1198.1,1431.8 1199.1,1431.4 1200,1431 1201,1435.7 1201.9,1446 1202.9,1461 1203.9,1475.3 1204.8,1493.4 1205.8,1511 1206.7,1523.8 1207.7,1537.4 1208.6,1546.2 1209.6,1552.7 1210.6,1559.4 1211.5,1563.8 1212.5,1569 1213.4,1574.4 1214.4,1577.4 1215.3,1579.2 1216.3,1581.5 1217.3,1584.1 1218.2,1586.4 1219.2,1587 1220.1,1587.9 1221.1,1590 1222,1590.9 1223,1591.5 1224,1592 1224.9,1592 1225.9,1592.9 1226.8,1593.7 1227.8,1593.4 1228.7,1594.1 1229.7,1594.8 1230.7,1594.5 1231.6,1594.4 1232.6,1594.8 1233.5,1595.6 1234.5,1596.1 1235.5,1595.7 1236.4,1595.6 1237.4,1595.8 1238.3,1596 1239.3,1596.7 1240.2,1596.2 1241.2,1596 1242.2,1595.6 1243.1,1594.1 1244.1,1594.4 1245,1595.4 1246,1596 1246.9,1596.6 1247.9,1596.5 1248.9,1595.7 1249.8,1595.5 1250.8,1596.6 1251.7,1596.3 1252.7,1595.9 1253.6,1595.9 1254.6,1595.7 1255.6,1596.4 1256.5,1596.6 1257.5,1596 1258.4,1596 1259.4,1595.8 1260.3,1595.9 1261.3,1595.9 1262.3,1596.1 1263.2,1597.2 1264.2,1596.4 1265.1,1595.4 1266.1,1595.8 1267,1596.1 1268,1596.3 1269,1597.1 1269.9,1596.7 1270.9,1595.4 1271.8,1595.6 1272.8,1597 1273.7,1597.9 1274.7,1597.3 1275.7,1596.1 1276.6,1596.2 1277.6,1596.4 1278.5,1596.5 1279.5,1596.1 1280.4,1595.6 1281.4,1596.7 1282.4,1597.1 1283.3,1596.1 1284.3,1595.8 1285.2,1597.3 1286.2,1597.4 1287.2,1596.7 1288.1,1597.6 1289.1,1597.2 1290,1595.6 1291,1596 1291.9,1596.9 1292.9,1596.8 1293.9,1596.6 1294.8,1596.5 1295.8,1596.1 1296.7,1596.7 1297.7,1597.1 1298.6,1595.7 1299.6,1595.6 1300.6,1596.3 1301.5,1596.1 1302.5,1596.5 1303.4,1597.2 1304.4,1595.9 1305.3,1595.4 1306.3,1596.7 1307.3,1596.4 1308.2,1596.1 1309.2,1596.8 1310.1,1596.9 1311.1,1597 1312,1597.2 1313,1596.3 1314,1595.9 1314.9,1596.4 1315.9,1595.9 1316.8,1595.5 1317.8,1596.2 1318.7,1597 1319.7,1597.1 1320.7,1596 1321.6,1596.1 1322.6,1595.8 1323.5,1595.5 1324.5,1596.9 1325.4,1597 1326.4,1595.9 1327.4,1595.9 1328.3,1596.3 1329.3,1595.8 1330.2,1596.2 1331.2,1596.1 1332.2,1595.3 1333.1,1595.4 1334.1,1596.6 1335,1596.8 1336,1595.8 1336.9,1595.6 1337.9,1595.1 1338.9,1595.4 1339.8,1596.1 1340.8,1597 1341.7,1597.5 1342.7,1596.2 1343.6,1596.2 1344.6,1596.8 1345.6,1597 1346.5,1597 1347.5,1596.8 1348.4,1596.5 1349.4,1596 1350.3,1596.1 1351.3,1596.7 1352.3,1596.9 1353.2,1595.9 1354.2,1597.1 1355.1,1597.7 1356.1,1596.5 1357,1595.9 1358,1595.6 1359,1595.7 1359.9,1595.8 1360.9,1595.7 1361.8,1595.9 1362.8,1596.3 1363.7,1596.7 1364.7,1596.7 1365.7,1596.4 1366.6,1595.6 1367.6,1596 1368.5,1596.5 1369.5,1596.2 1370.4,1596.3 1371.4,1595.7 1372.4,1595.7 1373.3,1596.5 1374.3,1596.5 1375.2,1595.7 1376.2,1595.6 1377.1,1595.7 1378.1,1596.4 1379.1,1596.3 1380,1595.9 1381,1596.8 1381.9,1596.5 1382.9,1596.6 1383.9,1596.6 1384.8,1595.4 1385.8,1595.7 1386.7,1596.7 1387.7,1596 1388.6,1595.4 1389.6,1595.5 1390.6,1596.5 1391.5,1597.2 1392.5,1595.7 1393.4,1595.7 1394.4,1596.6 1395.3,1596.2 1396.3,1595.9 1397.3,1596.1 1398.2,1597.2 1399.2,1596.9 1400.1,1596.3 1401.1,1596.2 1402,1595.2 1403,1596 1404,1596.5 1404.9,1595.4 1405.9,1594.7 1406.8,1595 1407.8,1595.9 1408.7,1596.1 1409.7,1596.3 1410.7,1595.8 1411.6,1595.3 1412.6,1595.3 1413.5,1596.5 1414.5,1597.3 1415.4,1596.5 1416.4,1596.4 1417.4,1596.7 1418.3,1596.4 1419.3,1596.2 1420.2,1595.7 1421.2,1595.5 1422.1,1596.4 1423.1,1596.5 1424.1,1596.1 1425,1595.7 1426,1596.3 1426.9,1597.7 1427.9,1597.4 1428.9,1596.6 1429.8,1596.4 1430.8,1596.4 1431.7,1596.3 1432.7,1596.4 1433.6,1596.4 1434.6,1596.1 1435.6,1595.8 1436.5,1595.7 1437.5,1595.9 1438.4,1595.9 1439.4,1596.3 1440.3,1596.4 1441.3,1596.9 1442.3,1596.5 1443.2,1596 1444.2,1595.4 1445.1,1595.2 1446.1,1595.1 1447,1594.5 1448,1595.2 1449,1596.4 1449.9,1596.6 1450.9,1595.7 1451.8,1595.7 1452.8,1595.6 1453.7,1595.7 1454.7,1596.2 1455.7,1595.6 1456.6,1595.4 1457.6,1595.6 1458.5,1595.8 1459.5,1595.7 1460.4,1595.8 1461.4,1595.7 1462.4,1595.9 1463.3,1595 1464.3,1594.7 1465.2,1596.3 1466.2,1597 1467.1,1597.1 1468.1,1596.2 1469.1,1596.1 1470,1595.8 1471,1595.7 1471.9,1596.6 1472.9,1596.6 1473.8,1596.4 1474.8,1596.3 1475.8,1596.6 1476.7,1596.6 1477.7,1596.9 1478.6,1596.8 1479.6,1596 1480.6,1596.2 1481.5,1596.4 1482.5,1596.4 1483.4,1596 1484.4,1596.7 1485.3,1596.4 1486.3,1595.7 1487.3,1595.9 1488.2,1595.2 1489.2,1595.9 1490.1,1596.9 1491.1,1596.8 1492,1596.4 1493,1596.4 1494,1596.8 1494.9,1595.7 1495.9,1593.4 1496.8,1588.1 1497.8,1582 1498.7,1576.5 1499.7,1572.5 1500.7,1570.1 1501.6,1566.7 1502.6,1564 1503.5,1563.4 1504.5,1563.3 1505.4,1562.1 1506.4,1561.1 1507.4,1561.5 1508.3,1562.3 1509.3,1562.7 1510.2,1563.1 1511.2,1563.7 1512.1,1564.7 1513.1,1566.2 1514.1,1567 1515,1567.6 1516,1567.9 1516.9,1568.9 1517.9,1571.1 1518.8,1570.9 1519.8,1570.5 1520.8,1572 1521.7,1573 1522.7,1573.8 1523.6,1573.8 1524.6,1574.9 1525.6,1575.9 1526.5,1575.7 1527.5,1575.6 1528.4,1576.5 1529.4,1577.4 1530.3,1577.8 1531.3,1579.4 1532.3,1580.6 1533.2,1580.3 1534.2,1580.9 1535.1,1582.1 1536.1,1581.5 1537,1582.3 1538,1583.4 1539,1582.8 1539.9,1582.9 1540.9,1584 1541.8,1585.3 1542.8,1585.1 1543.7,1584.9 1544.7,1585.9 1545.7,1586.9 1546.6,1588.1 1547.6,1587.8 1548.5,1587.3 1549.5,1588.5 1550.4,1588.2 1551.4,1587.7 1552.4,1588.6 1553.3,1589.2 1554.3,1589 1555.2,1588.9 1556.2,1589.8 1557.1,1589.9 1558.1,1589.9 1559.1,1590.9 1560,1591.2 1561,1591.1 1561.9,1590.7 1562.9,1590.6 1563.8,1592.2 1564.8,1593.1 1565.8,1592 1566.7,1591.5 1567.7,1592.4 1568.6,1592.9 1569.6,1592 1570.5,1592.9 1571.5,1593.2 1572.5,1591.9 1573.4,1592.8 1574.4,1593.5 1575.3,1593.2 1576.3,1593.3 1577.3,1593.4 1578.2,1593.1 1579.2,1593.6 1580.1,1594.3 1581.1,1594 1582,1594.2 1583,1594.5 1584,1593.8 1584.9,1594.7 1585.9,1595.2 1586.8,1594.7 1587.8,1595.3 1588.7,1595.3 1589.7,1594.7 1590.7,1594.4 1591.6,1594.9 1592.6,1595 1593.5,1594.2 1594.5,1594.5 1595.4,1594.8 1596.4,1594.8 1597.4,1594.9 1598.3,1595.5 1599.3,1595.4 1600.2,1594.8 1601.2,1594.7 1602.1,1594.6 1603.1,1595.7 1604.1,1595.6 1605,1594.7 1606,1594.8 1606.9,1595.5 1607.9,1596.1 1608.8,1595.5 1609.8,1595.6 1610.8,1595.8 1611.7,1595.5 1612.7,1596.1 1613.6,1596.4 1614.6,1596.3 1615.5,1596 1616.5,1596.1 1617.5,1596.3 1618.4,1596.2 1619.4,1596 1620.3,1595.5 1621.3,1596.3 1622.3,1596.5 1623.2,1596.2 1624.2,1596.5 1625.1,1596.3 1626.1,1595.6 1627,1595 1628,1595.7 1629,1596.5 1629.9,1595.8 1630.9,1595.5 1631.8,1595.3 1632.8,1595.9 1633.7,1596.2 1634.7,1596.1 1635.7,1597.8 1636.6,1597.3 1637.6,1596.5 1638.5,1596.5 1639.5,1596.3 1640.4,1596.1 1641.4,1596.6 1642.4,1597.7 1643.3,1596.6 1644.3,1595.5 1645.2,1596.1 1646.2,1597.2 1647.1,1596.9 1648.1,1595.2 1649.1,1595.7 1650,1596.9 1651,1597.1 1651.9,1596.7 1652.9,1596.4 1653.8,1597.2 1654.8,1597.5 1655.8,1596.5 1656.7,1596.7 1657.7,1596.9 1658.6,1596.1 1659.6,1595.9 1660.5,1597 1661.5,1597.1 1662.5,1596.8 1663.4,1597.9 1664.4,1597.3 1665.3,1597.2 1666.3,1597.4 1667.2,1596.2 1668.2,1595.9 1669.2,1596.5 1670.1,1596.3 1671.1,1596.2 1672,1596.3 1673,1595.9 1674,1596.6 1674.9,1596.4 1675.9,1596 1676.8,1596.7 1677.8,1596.5 1678.7,1596.7 1679.7,1596.9 1680.7,1596.6 1681.6,1596.7 1682.6,1596.7 1683.5,1596.2 1684.5,1596.6 1685.4,1597 1686.4,1596.6 1687.4,1596.5 1688.3,1596.4 1689.3,1596.4 1690.2,1596.8 1691.2,1596.9 1692.1,1596.6 1693.1,1596.1 1694.1,1596.9 1695,1597.6 1696,1597 1696.9,1597.2 1697.9,1597.2 1698.8,1596.4 1699.8,1595.8 1700.8,1596.5 1701.7,1597.5 1702.7,1597.1 1703.6,1596.3 1704.6,1597 1705.5,1597.1 1706.5,1596.5 1707.5,1596.3 1708.4,1596.6 1709.4,1596.7 1710.3,1596.6 1711.3,1596.4 1712.2,1596.3 1713.2,1596.4 1714.2,1596.5 1715.1,1596.8 1716.1,1596.7 1717,1596.3 1718,1596.5 1719,1596.7 1719.9,1595.6 1720.9,1596 1721.8,1597.5 1722.8,1597.7 1723.7,1597.2 1724.7,1596.9 1725.7,1597.6 1726.6,1598.4 1727.6,1597.2 1728.5,1597 1729.5,1597 1730.4,1596 1731.4,1597.5 1732.4,1597.8 1733.3,1596.5 1734.3,1596.9 1735.2,1596.7 1736.2,1596.6 1737.1,1596.6 1738.1,1595.8 1739.1,1595.9 1740,1597.1 1741,1596.7 1741.9,1595.8 1742.9,1595.7 1743.8,1596 1744.8,1596.3 1745.8,1595.6 1746.7,1596 1747.7,1597.1 1748.6,1596.4 1749.6,1596.3 1750.5,1596.5 1751.5,1596.5 1752.5,1597.2 1753.4,1596.8 1754.4,1596.5 1755.3,1597 1756.3,1596.4 1757.2,1596.3 1758.2,1596.7 1759.2,1596.9 1760.1,1597.4 1761.1,1597.3 1762,1597 1763,1596.7 1763.9,1596.6 1764.9,1596.7 1765.9,1596.4 1766.8,1596.1 1767.8,1596.6 1768.7,1596.9 1769.7,1596.6 1770.7,1596.3 1771.6,1596.3 1772.6,1596.7 1773.5,1597.1 1774.5,1596.9 1775.4,1596.6 1776.4,1597 1777.4,1597.6 1778.3,1597.4 1779.3,1596.9 1780.2,1597 1781.2,1597.3 1782.1,1597.3 1783.1,1596.9 1784.1,1597.4 1785,1597.6 1786,1597.1 1786.9,1597.1 1787.9,1596.7 1788.8,1598 1789.8,1597.6" fill="none" stroke="#fb8a0a" stroke-width="6.9" />
</g>
<g id="axes2" stroke="#000" fill="none">
<polyline points="315.4,1376.8 315.4,2302.3 1789.8,2302.3 1789.8,1376.8" stroke-width="3.4" stroke-linejoin="miter"/>
<line x1="313.7" y1="1378" x2="1791.5" y2="1378" stroke="#000" stroke-width="2.6" />
<line x1="315.4" y1="2248.4" x2="333.4" y2="2248.4" stroke="#000" stroke-width="2.6" />
<line x1="315.4" y1="2085.4" x2="333.4" y2="2085.4" stroke="#000" stroke-width="2.6" />
<line x1="315.4" y1="1922.4" x2="333.4" y2="1922.4" stroke="#000" stroke-width="2.6" />
<line x1="315.4" y1="1759.4" x2="333.4" y2="1759.4" stroke="#000" stroke-width="2.6" />
<line x1="315.4" y1="1596.4" x2="333.4" y2="1596.4" stroke="#000" stroke-width="2.6" />
<line x1="315.4" y1="1433.4" x2="333.4" y2="1433.4" stroke="#000" stroke-width="2.6" />
<line x1="610.2" y1="2302.3" x2="610.2" y2="2283.8" stroke="#000" stroke-width="2.6" />
<line x1="905.1" y1="2302.3" x2="905.1" y2="2283.8" stroke="#000" stroke-width="2.6" />
<line x1="1200" y1="2302.3" x2="1200" y2="2283.8" stroke="#000" stroke-width="2.6" />
<line x1="1494.9" y1="2302.3" x2="1494.9" y2="2283.8" stroke="#000" stroke-width="2.6" />
</g>
<g id="labels2">
<text x="298" y="2271.4" font-size="68.5" text-anchor="end" >0</text>
<text x="298" y="2108.4" font-size="68.5" text-anchor="end" >300</text>
<text x="298" y="1945.4" font-size="68.5" text-anchor="end" >600</text>
<text x="298" y="1782.4" font-size="68.5" text-anchor="end" >900</text>
<text x="298" y="1619.4" font-size="68.5" text-anchor="end" >1200</text>
<text x="298" y="1456.4" font-size="68.5" text-anchor="end" >1500</text>
<text x="279.4" y="2373.9" font-size="68.5" text-anchor="middle" >0.0</text>
<text x="573.1" y="2373.9" font-size="68.5" text-anchor="middle" >0.3</text>
<text x="870" y="2373.9" font-size="68.5" text-anchor="middle" >0.6</text>
<text x="1165.9" y="2373.9" font-size="68.5" text-anchor="middle" >0.9</text>
<text x="1463.3" y="2373.9" font-size="68.5" text-anchor="middle" >1.2</text>
<text x="1757.3" y="2373.9" font-size="68.5" text-anchor="middle" >1.5</text>
<text x="1623.5" y="2436.6" font-size="68.5" text-anchor="start" >t(s)</text>
<text transform="translate(158.3 1932.5) rotate(-90) scale(1.14 1)" font-size="90" text-anchor="start">ω</text>
<text transform="translate(181 1872.5) rotate(-90)" font-size="58" font-style="italic" text-anchor="start">r</text>
<text transform="translate(157.5 1850.5) rotate(-90)" font-size="88" font-style="italic" text-anchor="start">(rpm)</text>
</g>
<defs><marker id="ah" viewBox="0 0 12 10" refX="11.5" refY="5" markerWidth="12" markerHeight="10" markerUnits="userSpaceOnUse" orient="auto"><path d="M0,0 L12,5 L0,10 L3.5,5 Z" fill="#1a1a1a"/></marker></defs>
<g id="zoomers" fill="none" stroke="#262626">
<rect x="595.6" y="1589.8" width="33.2" height="20.5" stroke-width="1.7" stroke-dasharray="7 4.5"/>
<rect x="1178.8" y="1423.7" width="33" height="20.3" stroke-width="1.7" stroke-dasharray="7 4.5"/>
<rect x="1476.4" y="1555.3" width="52.2" height="42.1" stroke-width="1.7" stroke-dasharray="7 4.5"/>
<line x1="622.4" y1="1611.5" x2="691.7" y2="1785.8" stroke-width="1.9" marker-end="url(#ah)"/>
<line x1="1178.8" y1="1449.3" x2="1063.9" y2="1674.5" stroke-width="1.9" marker-end="url(#ah)"/>
<line x1="1502.8" y1="1606.9" x2="1332.2" y2="1784.2" stroke-width="1.9" marker-end="url(#ah)"/>
</g>
<g id="inset1">
<rect x="474.3" y="1791.7" width="362" height="361.1" fill="#fff" stroke="#bfc4c9" stroke-width="3.6"/>
<rect x="475.2" y="1792.6" width="361.6" height="360.7" fill="#fff" stroke="#48667a" stroke-width="2.3"/>
<line x1="564.4" y1="1804.6" x2="564.4" y2="2111.1" stroke="#e0e0e0" stroke-width="1.8" />
<line x1="691.2" y1="1804.6" x2="691.2" y2="2111.1" stroke="#e0e0e0" stroke-width="1.8" />
<line x1="818.2" y1="1804.6" x2="818.2" y2="2111.1" stroke="#e0e0e0" stroke-width="1.8" />
<line x1="545.3" y1="1857.9" x2="829.7" y2="1857.9" stroke="#e0e0e0" stroke-width="1.8" />
<line x1="545.3" y1="1916.2" x2="829.7" y2="1916.2" stroke="#e0e0e0" stroke-width="1.8" />
<line x1="545.3" y1="1974.9" x2="829.7" y2="1974.9" stroke="#e0e0e0" stroke-width="1.8" />
<line x1="545.3" y1="2034.6" x2="829.7" y2="2034.6" stroke="#e0e0e0" stroke-width="1.8" />
<line x1="545.3" y1="2092.9" x2="829.7" y2="2092.9" stroke="#e0e0e0" stroke-width="1.8" />
<line x1="545.3" y1="1804.6" x2="545.3" y2="2109.1" stroke="#b4b4b4" stroke-width="2" />
<line x1="545.3" y1="2109.1" x2="829.7" y2="2109.1" stroke="#b4b4b4" stroke-width="2" />
<clipPath id="c1"><rect x="545.6" y="1804.6" width="284.4" height="305"/></clipPath>
<g fill="none" stroke-linejoin="round" clip-path="url(#c1)">
<polyline points="545.7,2108.3 545.9,2107.4 546.2,2106.2 546.4,2104.6 546.7,2103.1 546.9,2101.5 547.2,2099.7 547.4,2098.4 547.7,2096.7 547.9,2095 548.2,2093.8 548.4,2092.2 548.7,2090 548.9,2088.7 549.2,2087.5 549.4,2086 549.7,2085 549.9,2082.7 550.2,2080.6 550.4,2079.2 550.7,2077.9 550.9,2075.6 551.2,2073.9 551.4,2073.3 551.7,2071.8 551.9,2071.2 552.1,2068 552.4,2067.4 552.6,2066.6 552.9,2063.8 553.1,2065.1 553.4,2062.3 553.6,2060.7 553.9,2059.3 554.1,2058.7 554.4,2056.4 554.6,2055.2 554.9,2054.3 555.1,2053.7 555.4,2052.1 555.6,2050.4 555.9,2051.3 556.1,2049.4 556.4,2046.8 556.6,2046.4 556.9,2047.2 557.1,2042.8 557.4,2043.1 557.6,2042 557.8,2039.8 558.1,2038.5 558.3,2038.2 558.6,2037.2 558.8,2035.6 559.1,2035.4 559.3,2032.3 559.6,2030.8 559.8,2031.7 560.1,2030.6 560.3,2027.8 560.6,2025.6 560.8,2026.7 561.1,2023.4 561.3,2024.7 561.6,2022.4 561.8,2023.6 562.1,2021.3 562.3,2019.1 562.6,2017.1 562.8,2017.9 563.1,2015.3 563.3,2015.4 563.6,2015.4 563.8,2012.2 564,2013.1 564.3,2012.2 564.5,2011.2 564.8,2008.9 565,2008.7 565.3,2009.7 565.5,2006.6 565.8,2005.1 566,2006.3 566.3,2004.7 566.5,2003.2 566.8,2004.8 567,2001 567.3,2004.8 567.5,1994.5 567.8,1999.5 568,1997.7 568.3,1994.1 568.5,1995.8 568.8,1995.6 569,1990.9 569.3,1994 569.5,1992.7 569.8,1988.8 570,1987.4 570.2,1991.5 570.5,1985.6 570.7,1986.5 571,1987 571.2,1990.5 571.5,1983 571.7,1983.8 572,1981 572.2,1981.7 572.5,1979.8 572.7,1977.7 573,1979.3 573.2,1978.2 573.5,1981.6 573.7,1979.4 574,1972.6 574.2,1973 574.5,1971.6 574.7,1973.1 575,1971.6 575.2,1974.1 575.5,1971.8 575.7,1967.7 575.9,1970.4 576.2,1972.4 576.4,1970.7 576.7,1971.9 576.9,1968.1 577.2,1966.3 577.4,1967.2 577.7,1965.1 577.9,1961.3 578.2,1964.5 578.4,1964.1 578.7,1961.1 578.9,1962 579.2,1960.7 579.4,1956.2 579.7,1962.1 579.9,1959.4 580.2,1963.4 580.4,1957.2 580.7,1959 580.9,1956.6 581.2,1952.9 581.4,1955.6 581.7,1956.3 581.9,1954.5 582.1,1954 582.4,1954.3 582.6,1956.4 582.9,1955.8 583.1,1955 583.4,1954.8 583.6,1952.2 583.9,1954.8 584.1,1951.1 584.4,1951.2 584.6,1946.8 584.9,1945.3 585.1,1948.9 585.4,1948 585.6,1954.5 585.9,1945 586.1,1950.4 586.4,1944.6 586.6,1948.9 586.9,1946.4 587.1,1945.2 587.4,1943.6 587.6,1941.3 587.9,1944.4 588.1,1943.8 588.3,1940 588.6,1938.7 588.8,1943 589.1,1935.7 589.3,1938 589.6,1933.9 589.8,1936.2 590.1,1934.3 590.3,1934 590.6,1938.8 590.8,1939.5 591.1,1940.5 591.3,1933.6 591.6,1928.4 591.8,1932.2 592.1,1941.9 592.3,1937.8 592.6,1937.7 592.8,1934 593.1,1929.6 593.3,1931.1 593.6,1928.9 593.8,1936.9 594,1933.5 594.3,1931.5 594.5,1927.1 594.8,1929.4 595,1927.4 595.3,1921.6 595.5,1921.4 595.8,1928.7 596,1929.7 596.3,1924.6 596.5,1925.3 596.8,1924.2 597,1930.9 597.3,1924.7 597.5,1923.5 597.8,1924.8 598,1926.9 598.3,1924.2 598.5,1917.4 598.8,1923.1 599,1923.6 599.3,1921 599.5,1929 599.8,1918.3 600,1914.8 600.3,1920.5 600.6,1918.8 600.9,1919.5 601.2,1927.9 601.5,1923 601.8,1919.1 602.1,1923.2 602.4,1916.7 602.7,1920.6 603,1913.9 603.3,1916.5 603.6,1920.7 603.9,1909.8 604.2,1911.4 604.5,1912.7 604.8,1914.8 605.1,1909.4 605.4,1924.2 605.8,1916.5 606.1,1914.8 606.4,1916 606.7,1911 607,1915.3 607.3,1919.4 607.6,1906.7 607.9,1922 608.2,1918 608.5,1914.9 608.8,1920.2 609.1,1916.7 609.4,1902.2 609.7,1905.8 610,1908 610.3,1910.6 610.6,1906.5 610.9,1904.8 611.2,1900.7 611.5,1907.1 611.8,1915.5 612.1,1913.2 612.4,1907.4 612.7,1913.7 613,1904 613.3,1900.1 613.6,1914.5 613.9,1902.8 614.2,1904.1 614.5,1898.6 614.8,1909.8 615.1,1911.5 615.4,1913.3 615.7,1897.8 616,1910.6 616.3,1902.5 616.6,1908.5 616.9,1896.6 617.3,1892.8 617.6,1903.1 617.9,1907.6 618.2,1906.9 618.5,1909.1 618.8,1907.8 619.1,1893.6 619.4,1909.6 619.7,1906.5 620,1892.9 620.3,1892.3 620.6,1896.7 620.9,1898.4 621.2,1896.5 621.5,1893 621.8,1902 622.1,1897.5 622.4,1894.8 622.7,1891.9 623,1894.6 623.3,1891.2 623.6,1887.5 623.9,1898 624.2,1897.9 624.5,1892.1 624.8,1893.8 625.1,1895.4 625.4,1901.5 625.7,1899.9 626,1896.3 626.3,1893.7 626.6,1896.6 626.9,1888.3 627.2,1893 627.5,1893.1 627.8,1902.9 628.1,1895.3 628.4,1902.9 628.8,1901.3 629.1,1894.2 629.4,1893.2 629.7,1888.4 630,1891.7 630.3,1894.3 630.6,1889.1 630.9,1889.9 631.2,1893.5 631.5,1888.7 631.8,1888.1 632.1,1896.9 632.4,1891.1 632.7,1885.9 633,1887.1 633.3,1898.3 633.6,1887.4 633.9,1888.8 634.2,1903.4 634.5,1887.4 634.8,1886.8 635.1,1894.4 635.4,1887.2 635.7,1895.4 636,1879.7 636.3,1900.7 636.6,1897.4 636.9,1890.8 637.2,1885.1 637.5,1888.9 637.8,1890.1 638.1,1893.5 638.4,1884.2 638.7,1879.4 639,1889.6 639.3,1897.8 639.6,1885.1 639.9,1891.6 640.3,1890.6 640.6,1880.3 640.9,1881.3 641.2,1880.4 641.5,1891.9 641.8,1881.4 642.1,1876.8 642.4,1892 642.7,1887.4 643,1887.6 643.3,1881.4 643.6,1888.3 643.9,1881.3 644.2,1889.8 644.5,1887.7 644.8,1890.3 645.1,1893.1 645.4,1886.9 645.7,1886.7 646,1887.5 646.3,1882.5 646.6,1883.7 646.9,1885.7 647.2,1887.9 647.5,1885.3 647.8,1874.3 648.1,1887.8 648.4,1889 648.7,1886.5 649,1880.3 649.3,1886.6 649.6,1874.8 649.9,1887.7 650.2,1892.6 650.5,1881.8 650.8,1875 651.1,1882.4 651.4,1885.6 651.8,1881.5 652.1,1878 652.4,1889.2 652.7,1883 653,1885.8 653.3,1887.5 653.6,1884.4 653.9,1889.6 654.2,1886.8 654.5,1877.6 654.8,1881.6 655.1,1877.1 655.4,1884.3 655.7,1874.3 656,1882.4 656.3,1887 656.6,1880.3 656.9,1880.9 657.2,1874.2 657.5,1889.8 657.8,1887.5 658.1,1884.4 658.4,1871.4 658.7,1881.1 659,1875.6 659.3,1881 659.6,1879.9 659.9,1873.1 660.2,1889.6 660.5,1886.5 660.8,1886.4 661.1,1887.9 661.4,1877.2 661.7,1881.5 662,1877.3 662.3,1883.7 662.6,1887.3 662.9,1876.8 663.3,1881.9 663.6,1888.2 663.9,1882.4 664.2,1878.6 664.5,1875.5 664.8,1877.2 665.1,1881.6 665.4,1874 665.7,1871.5 666,1884.5 666.3,1891.4 666.6,1881.5 666.9,1882.5 667.2,1874 667.5,1882.8 667.8,1870 668.1,1875.1 668.4,1881.1 668.7,1881 669,1871.9 669.3,1889.7 669.6,1875.1 669.9,1890.6 670.2,1872.7 670.5,1884.8 670.8,1887.9 671.1,1881.6 671.4,1874.3 671.7,1890.4 672,1880.7 672.3,1883.9 672.6,1885.6 672.9,1869.7 673.2,1872.8 673.5,1873 673.8,1878 674.1,1880.1 674.4,1880.5 674.8,1884.6 675.1,1881.2 675.4,1871.7 675.7,1881.8 676,1876.6 676.3,1880.7 676.6,1871.4 676.9,1876.8 677.2,1885.9 677.5,1887.4 677.8,1876.2 678.1,1885.4 678.4,1876.9 678.7,1879.2 679,1878 679.3,1884.4 679.6,1866.8 679.9,1868.3 680.2,1885 680.5,1875.6 680.8,1884.4 681.1,1885.3 681.4,1883.8 681.7,1879.8 682,1872.3 682.3,1882.4 682.6,1874.9 682.9,1884 683.2,1871.8 683.5,1878.2 683.8,1882.2 684.1,1872.8 684.4,1882.2 684.7,1880.5 685,1870.5 685.3,1888.3 685.6,1877.2 685.9,1882.8 686.3,1881.5 686.6,1869.5 686.9,1874 687.2,1879.4 687.5,1874.3 687.8,1873.4 688.1,1876 688.4,1889.6 688.7,1882.9 689,1881 689.3,1877.7 689.6,1892.3 689.9,1879.6 690.2,1880.5 690.5,1878.1 690.8,1881.5 691.1,1883.8 691.4,1882.1 691.7,1889 692,1890.3 692.3,1879.8 692.6,1877.4 692.9,1875.4 693.2,1882 693.5,1881.3 693.8,1887.8 694.1,1868.5 694.4,1879.5 694.7,1883.4 695,1882.6 695.3,1886.9 695.6,1876.8 695.9,1888 696.2,1885.8 696.5,1875.6 696.8,1884.9 697.1,1878.8 697.4,1886.9 697.8,1869.9 698.1,1881.9 698.4,1887.2 698.7,1874.8 699,1867.4 699.3,1879.5 699.6,1881.6 699.9,1877.7 700.2,1887.6 700.5,1876.5 700.8,1876.3 701.1,1875.8 701.4,1880.8 701.7,1883.7 702,1891.4 702.3,1876.9 702.6,1873.2 702.9,1880.7 703.2,1893.3 703.5,1877.4 703.8,1881 704.1,1877.3 704.4,1884 704.7,1880.6 705,1881.4 705.3,1880.5 705.6,1874.7 705.9,1875.9 706.2,1871.7 706.5,1864 706.8,1880.6 707.1,1889.8 707.4,1874.1 707.7,1887.5 708,1876.5 708.3,1872.8 708.6,1870 708.9,1882.2 709.3,1873.2 709.6,1876.6 709.9,1886.2 710.2,1873.7 710.5,1882.7 710.8,1889.6 711.1,1881.5 711.4,1887.2 711.7,1882.1 712,1877.2 712.3,1879.3 712.6,1886.1 712.9,1880.8 713.2,1885.6 713.5,1876.5 713.8,1877 714.1,1877 714.4,1879.9 714.7,1894.3 715,1871.6 715.3,1876.9 715.6,1877.3 715.9,1883.8 716.2,1877.1 716.5,1882 716.8,1882.8 717.1,1875.1 717.4,1875.6 717.7,1881.7 718,1885.6 718.3,1888.2 718.6,1887.7 718.9,1876.7 719.2,1881.1 719.5,1872.8 719.8,1884.3 720.1,1882 720.4,1875.8 720.8,1884.1 721.1,1877.1 721.4,1874.3 721.7,1876.3 722,1884 722.3,1873.8 722.6,1878.9 722.9,1875.2 723.2,1881.2 723.5,1887 723.8,1879.5 724.1,1883.8 724.4,1879.7 724.7,1883.4 725,1885.3 725.3,1877.1 725.6,1884.9 725.9,1886 726.2,1881.5 726.5,1884.8 726.8,1882.7 727.1,1882 727.4,1886.3 727.7,1883.9 728,1875.3 728.3,1881.3 728.6,1875.6 728.9,1877.9 729.2,1881.8 729.5,1868.1 729.8,1878.4 730.1,1885.8 730.4,1881.3 730.7,1880.1 731,1878.7 731.3,1880 731.6,1880.4 731.9,1875.9 732.3,1879.3 732.6,1873.6 732.9,1878.2 733.2,1881.4 733.5,1880.1 733.8,1882.5 734.1,1871.9 734.4,1874 734.7,1884.1 735,1879.5 735.3,1888.9 735.6,1874.2 735.9,1890.2 736.2,1874.4 736.5,1880.5 736.8,1879.5 737.1,1884.5 737.4,1872.3 737.7,1879.4 738,1875.8 738.3,1885.7 738.6,1888.6 738.9,1887.9 739.2,1873.3 739.5,1882.1 739.8,1874.8 740.1,1876.7 740.4,1876.7 740.7,1875.9 741,1877.9 741.3,1887.4 741.6,1880.4 741.9,1883.2 742.2,1877 742.5,1878.9 742.8,1875.9 743.1,1885.9 743.4,1888.6 743.8,1881.7 744.1,1876 744.4,1878.9 744.7,1876.4 745,1885.3 745.3,1876.8 745.6,1875.1 745.9,1871.5 746.2,1879.7 746.5,1880 746.8,1875.2 747.1,1876.2 747.4,1880 747.7,1883.6 748,1871 748.3,1877.9 748.6,1896.3 748.9,1893.4 749.2,1874.4 749.5,1882.1 749.8,1876.2 750.1,1884.9 750.4,1878.4 750.7,1873.6 751,1879.1 751.3,1887.3 751.6,1879.9 751.9,1870.1 752.2,1881.7 752.5,1882.6 752.8,1885.9 753.1,1874.2 753.4,1889.6 753.7,1871.4 754,1883.5 754.3,1877.6 754.6,1873.9 754.9,1888.4 755.3,1879.4 755.6,1875.1 755.9,1877.8 756.2,1881.4 756.5,1877.4 756.8,1875 757.1,1879.8 757.4,1879.5 757.7,1885.1 758,1879 758.3,1878.8 758.6,1889.4 758.9,1878.1 759.2,1870.7 759.5,1878.6 759.8,1871.2 760.1,1886.2 760.4,1883.4 760.7,1890.1 761,1873.4 761.3,1874.8 761.6,1879.2 761.9,1881.3 762.2,1872.4 762.5,1880.5 762.8,1877.9 763.1,1883 763.4,1882.8 763.7,1896.9 764,1880.7 764.3,1883.3 764.6,1881.6 764.9,1880.6 765.2,1875.1 765.5,1876.3 765.8,1873.6 766.1,1877.5 766.4,1885.5 766.8,1884.4 767.1,1878.8 767.4,1893.4 767.7,1875.6 768,1877 768.3,1880.1 768.6,1877.9 768.9,1875.9 769.2,1884.5 769.5,1866.7 769.8,1878.6 770.1,1882.6 770.4,1878.3 770.7,1889.8 771,1880.4 771.3,1882.3 771.6,1876 771.9,1877.3 772.2,1876.3 772.5,1875 772.8,1864.9 773.1,1871.5 773.4,1878.6 773.7,1879.2 774,1885.1 774.3,1883.2 774.6,1885.2 774.9,1881.8 775.2,1879.7 775.5,1885.3 775.8,1869.2 776.1,1879.6 776.4,1878.9 776.7,1882.1 777,1881.2 777.3,1878 777.6,1881.6 777.9,1878.3 778.3,1879 778.6,1888.7 778.9,1871.6 779.2,1877.5 779.5,1873.5 779.8,1876.4 780.1,1872.4 780.4,1897.4 780.7,1876.8 781,1879.8 781.3,1874.5 781.6,1884 781.9,1885.4 782.2,1881.7 782.5,1879 782.8,1871.3 783.1,1883.3 783.4,1872.6 783.7,1874.9 784,1880.4 784.3,1891.6 784.6,1877 784.9,1876.1 785.2,1875.8 785.5,1884.5 785.8,1886.4 786.1,1881.8 786.4,1880 786.7,1880.8 787,1879.3 787.3,1882.2 787.6,1864.6 787.9,1878.4 788.2,1882.6 788.5,1879.9 788.8,1878.4 789.1,1884.3 789.4,1877.8 789.8,1881.4 790.1,1882.6 790.4,1882.3 790.7,1882.6 791,1877.4 791.3,1885.7 791.6,1881.5 791.9,1883 792.2,1877.1 792.5,1880.6 792.8,1875.7 793.1,1879.7 793.4,1875.7 793.7,1879.5 794,1873.8 794.3,1876.6 794.6,1877.9 794.9,1872.3 795.2,1872.5 795.5,1878.6 795.8,1874.5 796.1,1889.5 796.4,1874.6 796.7,1873.9 797,1885.3 797.3,1872.6 797.6,1880.8 797.9,1876.6 798.2,1881.7 798.5,1873.9 798.8,1882.7 799.1,1882.1 799.4,1885.8 799.7,1880.6 800,1883 800.3,1877.5 800.6,1878.8 800.9,1885.2 801.3,1873.3 801.6,1882.9 801.9,1874.1 802.2,1879.3 802.5,1869.3 802.8,1879.3 803.1,1874.5 803.4,1877.3 803.7,1887.2 804,1880.8 804.3,1886.6 804.6,1878.1 804.9,1875.2 805.2,1880.8 805.5,1871 805.8,1878.6 806.1,1882.4 806.4,1878.4 806.7,1878.4 807,1883.7 807.3,1893.9 807.6,1877.5 807.9,1875 808.2,1888.3 808.5,1874.4 808.8,1881.6 809.1,1881.7 809.4,1883.6 809.7,1882.3 810,1871.2 810.3,1876.6 810.6,1876.1 810.9,1883.7 811.2,1887.4 811.5,1866.7 811.8,1873.7 812.1,1876.7 812.4,1882.6 812.8,1889.2 813.1,1878.9 813.4,1880.4 813.7,1882.9 814,1876.4 814.3,1875.8 814.6,1882.6 814.9,1884.8 815.2,1877.2 815.5,1880.7 815.8,1879.4 816.1,1879 816.4,1874.1 816.7,1886 817,1879.2 817.3,1884.4 817.6,1875.8 817.9,1872.4 818.2,1883.5 818.5,1878.5 818.8,1880.5 819.1,1872 819.4,1871.4 819.7,1869.3 820,1880.8 820.3,1887.6 820.6,1876.1 820.9,1878.7 821.2,1880.3 821.5,1880.7 821.8,1886.8 822.1,1875.6 822.4,1883.9 822.7,1876.5 823,1881.9 823.3,1871.9 823.6,1877.3 823.9,1878.2 824.3,1887.5 824.6,1882.8 824.9,1881.6 825.2,1878 825.5,1887.6 825.8,1881.9 826.1,1878.1 826.4,1884.9 826.7,1881.5 827,1888.5 827.3,1877.8 827.6,1874.2 827.9,1885.8 828.2,1872.9 828.5,1889.1 828.8,1880.1 829.1,1883.4 829.4,1881.1 829.7,1877.2" fill="none" stroke="#fb8a0a" stroke-width="1.5" opacity="0.75"/>
<polyline points="545.7,2100.9 545.9,2097.1 546.2,2098.4 546.4,2096.3 546.7,2095.9 546.9,2090.7 547.2,2098.9 547.4,2093.1 547.7,2094.2 547.9,2086.5 548.2,2087 548.4,2080.7 548.7,2084.1 548.9,2083.5 549.2,2081.9 549.4,2082.2 549.7,2085 549.9,2076.5 550.2,2076.2 550.4,2074.7 550.7,2075.4 550.9,2068.6 551.2,2071.8 551.4,2065.6 551.7,2065.8 551.9,2064.4 552.1,2067.3 552.4,2059.1 552.6,2055.8 552.9,2057.9 553.1,2058.2 553.4,2052.7 553.6,2050.8 553.9,2053.9 554.1,2041.3 554.4,2045.3 554.6,2042.4 554.9,2045.7 555.1,2043.4 555.4,2048.2 555.6,2042.4 555.9,2041.8 556.1,2038.2 556.4,2041.3 556.6,2041.3 556.9,2032.6 557.1,2035.2 557.4,2030.8 557.6,2032.6 557.8,2034 558.1,2030.5 558.3,2038.3 558.6,2024.3 558.8,2024.5 559.1,2020.9 559.3,2024.9 559.6,2015.4 559.8,2017 560.1,2027 560.3,2026 560.6,2017.2 560.8,2022.3 561.1,2016.5 561.3,2015.5 561.6,2014.9 561.8,2006.8 562.1,2009.2 562.3,2007.8 562.6,2008.3 562.8,1996.6 563.1,2001.8 563.3,2008.5 563.6,2002.5 563.8,2006.5 564,1998.5 564.3,2001.7 564.5,2005.7 564.8,2006.4 565,2002.8 565.3,1994.7 565.5,2006.8 565.8,1992.3 566,2002 566.3,1991 566.5,1993.4 566.8,1987.2 567,1989.1 567.3,1992.4 567.5,1989.4 567.8,1985.1 568,1980.8 568.3,1983.1 568.5,1983.7 568.8,1983.4 569,1975 569.3,1983.9 569.5,1981.5 569.8,1977.2 570,1968.2 570.2,1983.9 570.5,1971.9 570.7,1970.2 571,1973 571.2,1981 571.5,1975.2 571.7,1971.9 572,1969.2 572.2,1974.6 572.5,1969.6 572.7,1964.6 573,1969 573.2,1967 573.5,1966.8 573.7,1962.8 574,1964.5 574.2,1963 574.5,1958 574.7,1963.7 575,1965.1 575.2,1960.8 575.5,1961.7 575.7,1954.8 575.9,1958.9 576.2,1962.5 576.4,1952.4 576.7,1954.6 576.9,1952.7 577.2,1951.1 577.4,1947.4 577.7,1955.3 577.9,1947.9 578.2,1949.5 578.4,1948.9 578.7,1948.8 578.9,1949.7 579.2,1939.7 579.4,1946 579.7,1942.4 579.9,1938.1 580.2,1948.3 580.4,1934.6 580.7,1937.7 580.9,1946.9 581.2,1941.6 581.4,1940.3 581.7,1934.3 581.9,1943.2 582.1,1930.4 582.4,1942.4 582.6,1938.5 582.9,1939.1 583.1,1941.4 583.4,1940.3 583.6,1937.3 583.9,1935.2 584.1,1933 584.4,1937.1 584.6,1944.1 584.9,1933 585.1,1922.5 585.4,1922.9 585.6,1924.6 585.9,1931.2 586.1,1926.4 586.4,1927.2 586.6,1929.8 586.9,1926.3 587.1,1921.7 587.4,1928.2 587.6,1928.4 587.9,1924.9 588.1,1931.1 588.3,1919.6 588.6,1907.2 588.8,1916.8 589.1,1918.2 589.3,1924.1 589.6,1921.9 589.8,1924.6 590.1,1918.2 590.3,1908.8 590.6,1923.4 590.8,1915.1 591.1,1908.2 591.3,1922.2 591.6,1906.5 591.8,1919.5 592.1,1916.3 592.3,1913.3 592.6,1910.3 592.8,1906.4 593.1,1915 593.3,1916.5 593.6,1924.3 593.8,1914.9 594,1905.7 594.3,1915.3 594.5,1907.9 594.8,1907 595,1909.1 595.3,1912.2 595.5,1911.7 595.8,1908.7 596,1916.7 596.3,1900.6 596.5,1912.3 596.8,1909.7 597,1909.2 597.3,1904 597.5,1903.4 597.8,1898.8 598,1903.3 598.3,1896.1 598.5,1905.5 598.8,1899.7 599,1898.8 599.3,1901.6 599.5,1898.6 599.8,1906.7 600,1894.4 600.3,1896.5 600.6,1899.3 600.9,1901.5 601.2,1894.8 601.5,1894.2 601.8,1882.5 602.1,1886.8 602.4,1884.2 602.7,1897.1 603,1889.1 603.3,1892.5 603.6,1903.5 603.9,1901.4 604.2,1897 604.5,1887.7 604.8,1885.7 605.1,1894.2 605.4,1890.2 605.8,1890.9 606.1,1904.8 606.4,1871.8 606.7,1883.4 607,1902.3 607.3,1895 607.6,1890.1 607.9,1889.7 608.2,1883.2 608.5,1882.2 608.8,1891 609.1,1884 609.4,1890.7 609.7,1888.5 610,1885.2 610.3,1883.1 610.6,1889 610.9,1874.9 611.2,1883.7 611.5,1884.4 611.8,1879.8 612.1,1871 612.4,1881.6 612.7,1896.4 613,1892 613.3,1884.2 613.6,1884.5 613.9,1883.5 614.2,1884.8 614.5,1869.1 614.8,1873.7 615.1,1882.9 615.4,1874 615.7,1877.3 616,1885.9 616.3,1886.4 616.6,1878.2 616.9,1872.2 617.3,1883 617.6,1889.3 617.9,1871.8 618.2,1870.5 618.5,1877.9 618.8,1862.8 619.1,1864.7 619.4,1880.5 619.7,1877.6 620,1877.3 620.3,1868.9 620.6,1879.5 620.9,1876.2 621.2,1867.1 621.5,1868.3 621.8,1867.8 622.1,1878.6 622.4,1870.8 622.7,1876.2 623,1867.6 623.3,1842.4 623.6,1868.3 623.9,1872.9 624.2,1870.9 624.5,1869.4 624.8,1872.4 625.1,1869.2 625.4,1876.2 625.7,1877.1 626,1871.2 626.3,1870.8 626.6,1865.1 626.9,1867.2 627.2,1880.4 627.5,1866.9 627.8,1868.7 628.1,1869.7 628.4,1867.4 628.8,1865.2 629.1,1860.7 629.4,1861.1 629.7,1857.3 630,1864.4 630.3,1870.3 630.6,1859.9 630.9,1873.8 631.2,1862.3 631.5,1872.4 631.8,1869.8 632.1,1838.1 632.4,1869.6 632.7,1860.1 633,1862.3 633.3,1866.4 633.6,1861.4 633.9,1861.9 634.2,1864.3 634.5,1868.5 634.8,1860.2 635.1,1866.4 635.4,1864.8 635.7,1861.9 636,1864.7 636.3,1862.6 636.6,1862.2 636.9,1862.1 637.2,1862.8 637.5,1855.8 637.8,1865.9 638.1,1865.4 638.4,1865.3 638.7,1875.6 639,1858.9 639.3,1859.8 639.6,1854.4 639.9,1870.1 640.3,1866.3 640.6,1865 640.9,1851 641.2,1856.5 641.5,1862.4 641.8,1861.4 642.1,1859.5 642.4,1860.8 642.7,1859.1 643,1866.8 643.3,1860.2 643.6,1856.9 643.9,1859.1 644.2,1864.3 644.5,1862 644.8,1855.9 645.1,1863 645.4,1867.6 645.7,1861.6 646,1862.8 646.3,1861 646.6,1859.8 646.9,1861.6 647.2,1844 647.5,1854.5 647.8,1856.2 648.1,1854.1 648.4,1858.8 648.7,1861.2 649,1857.4 649.3,1866.9 649.6,1865.1 649.9,1854.2 650.2,1861.4 650.5,1862.3 650.8,1864.6 651.1,1856.1 651.4,1865 651.8,1851.7 652.1,1857.2 652.4,1867.8 652.7,1861 653,1863.7 653.3,1855 653.6,1855.1 653.9,1860.6 654.2,1861.3 654.5,1855.3 654.8,1861.1 655.1,1850.3 655.4,1861.1 655.7,1855.6 656,1868.2 656.3,1855.3 656.6,1860.7 656.9,1855.7 657.2,1851.1 657.5,1858.1 657.8,1870.8 658.1,1868.3 658.4,1856.5 658.7,1861.9 659,1863.3 659.3,1849.1 659.6,1858.1 659.9,1851.7 660.2,1851.8 660.5,1858.9 660.8,1856 661.1,1863.2 661.4,1854.5 661.7,1856.8 662,1848 662.3,1852 662.6,1846.4 662.9,1860.3 663.3,1857.7 663.6,1856.4 663.9,1852.3 664.2,1850.8 664.5,1862.9 664.8,1862 665.1,1854.5 665.4,1862.9 665.7,1856.8 666,1866 666.3,1858.1 666.6,1858.8 666.9,1858 667.2,1859.8 667.5,1847.7 667.8,1851.4 668.1,1849.2 668.4,1857.7 668.7,1857.9 669,1859.8 669.3,1860.1 669.6,1857.1 669.9,1857.1 670.2,1857.3 670.5,1854.8 670.8,1851.5 671.1,1859.6 671.4,1857.4 671.7,1853.1 672,1854.9 672.3,1860.4 672.6,1862.4 672.9,1852.4 673.2,1861.7 673.5,1853.7 673.8,1858 674.1,1846.3 674.4,1861.6 674.8,1846 675.1,1851.7 675.4,1829.2 675.7,1849 676,1852.8 676.3,1857.3 676.6,1842.3 676.9,1857.8 677.2,1854.5 677.5,1862.8 677.8,1855.5 678.1,1852.3 678.4,1859.3 678.7,1854.7 679,1857 679.3,1857.3 679.6,1852 679.9,1850.7 680.2,1859.4 680.5,1864.8 680.8,1852.9 681.1,1861.3 681.4,1857.9 681.7,1859.9 682,1850 682.3,1843.5 682.6,1858.6 682.9,1843.6 683.2,1854.5 683.5,1857.2 683.8,1849.3 684.1,1845 684.4,1856.7 684.7,1857.2 685,1845.3 685.3,1850.6 685.6,1870.7 685.9,1856.3 686.3,1859.8 686.6,1858.6 686.9,1854.8 687.2,1858 687.5,1857.6 687.8,1844.1 688.1,1864.3 688.4,1854.5 688.7,1852.2 689,1863.3 689.3,1861.6 689.6,1861.6 689.9,1850.8 690.2,1861.4 690.5,1852.7 690.8,1862 691.1,1862.3 691.4,1853 691.7,1851 692,1862.8 692.3,1861.1 692.6,1854.1 692.9,1860.8 693.2,1861.9 693.5,1861.4 693.8,1853.9 694.1,1869.9 694.4,1846 694.7,1846.8 695,1848.7 695.3,1856.7 695.6,1859.3 695.9,1852.7 696.2,1851.1 696.5,1843.8 696.8,1858.9 697.1,1849.1 697.4,1851.2 697.8,1858 698.1,1856.9 698.4,1860.1 698.7,1855 699,1852.3 699.3,1855.5 699.6,1857.5 699.9,1855.4 700.2,1848.8 700.5,1850.6 700.8,1852.8 701.1,1859 701.4,1858.2 701.7,1852.9 702,1857.7 702.3,1859.4 702.6,1848.1 702.9,1855 703.2,1854.3 703.5,1858.8 703.8,1854 704.1,1851.1 704.4,1854.1 704.7,1863.7 705,1858.3 705.3,1852.7 705.6,1854.3 705.9,1850.1 706.2,1857.3 706.5,1855.9 706.8,1850.7 707.1,1855.9 707.4,1850.9 707.7,1855.2 708,1860.9 708.3,1850.6 708.6,1851.3 708.9,1851.5 709.3,1850.7 709.6,1850.6 709.9,1861.8 710.2,1846.9 710.5,1851 710.8,1862.2 711.1,1863 711.4,1853.5 711.7,1859.5 712,1853 712.3,1857.4 712.6,1864 712.9,1860.4 713.2,1857.9 713.5,1855.9 713.8,1834.8 714.1,1859.4 714.4,1853.2 714.7,1857.1 715,1856.5 715.3,1868.5 715.6,1858.6 715.9,1863.8 716.2,1852.1 716.5,1849.9 716.8,1853.5 717.1,1844.5 717.4,1854.4 717.7,1851.2 718,1857.7 718.3,1853.9 718.6,1861.5 718.9,1857.5 719.2,1850.2 719.5,1855.9 719.8,1857.7 720.1,1843.9 720.4,1853.1 720.8,1824.3 721.1,1864.2 721.4,1856 721.7,1856.6 722,1857.2 722.3,1856 722.6,1853.1 722.9,1849.4 723.2,1865.4 723.5,1862.5 723.8,1855.3 724.1,1863.9 724.4,1853.4 724.7,1860.6 725,1850.9 725.3,1862.4 725.6,1861 725.9,1840.9 726.2,1857.8 726.5,1848 726.8,1856.3 727.1,1852.5 727.4,1860.5 727.7,1853.3 728,1858.9 728.3,1871.8 728.6,1870.6 728.9,1856.8 729.2,1852.4 729.5,1860.4 729.8,1862 730.1,1859.3 730.4,1847 730.7,1866.3 731,1852.5 731.3,1849.8 731.6,1863.7 731.9,1861.3 732.3,1858.4 732.6,1859.9 732.9,1850.9 733.2,1855.7 733.5,1859.1 733.8,1854.2 734.1,1822.2 734.4,1858.2 734.7,1860.8 735,1851 735.3,1846.6 735.6,1847.5 735.9,1851.6 736.2,1857 736.5,1851.5 736.8,1852.8 737.1,1852.5 737.4,1856.1 737.7,1850.1 738,1850.9 738.3,1857.8 738.6,1851.8 738.9,1861.3 739.2,1855.1 739.5,1856.5 739.8,1853.1 740.1,1851.9 740.4,1857.7 740.7,1858.6 741,1858.4 741.3,1863.6 741.6,1852.8 741.9,1848 742.2,1839.4 742.5,1855.7 742.8,1853.3 743.1,1852.5 743.4,1862.9 743.8,1856.3 744.1,1854.6 744.4,1859.5 744.7,1859.3 745,1853.6 745.3,1848.6 745.6,1852.6 745.9,1851.8 746.2,1853.9 746.5,1845.1 746.8,1855.4 747.1,1850.6 747.4,1836.9 747.7,1853.5 748,1855.7 748.3,1864.2 748.6,1864.6 748.9,1843.8 749.2,1855.3 749.5,1835.3 749.8,1858.3 750.1,1861.8 750.4,1855.7 750.7,1859.2 751,1852.4 751.3,1847.3 751.6,1852.9 751.9,1818.8 752.2,1855.4 752.5,1848 752.8,1862.9 753.1,1860.9 753.4,1858.7 753.7,1862.2 754,1845.7 754.3,1857.7 754.6,1860.9 754.9,1852.6 755.3,1856.1 755.6,1853.3 755.9,1855.6 756.2,1858.5 756.5,1861.5 756.8,1853.1 757.1,1860.7 757.4,1849.9 757.7,1854.2 758,1855.8 758.3,1860.1 758.6,1846.5 758.9,1857.1 759.2,1852.6 759.5,1859.2 759.8,1849.2 760.1,1841 760.4,1849.8 760.7,1851 761,1856.2 761.3,1860.4 761.6,1855.1 761.9,1859 762.2,1829.9 762.5,1846 762.8,1850.2 763.1,1853.5 763.4,1851.6 763.7,1850.3 764,1854 764.3,1855.5 764.6,1854.5 764.9,1852.4 765.2,1835.8 765.5,1861.4 765.8,1854.7 766.1,1858 766.4,1841.9 766.8,1857.8 767.1,1848 767.4,1851.5 767.7,1852.2 768,1849 768.3,1852.5 768.6,1856.5 768.9,1844.4 769.2,1861.2 769.5,1865 769.8,1859.1 770.1,1850.9 770.4,1856.7 770.7,1854.2 771,1849.6 771.3,1830.8 771.6,1852.4 771.9,1848.6 772.2,1854.4 772.5,1848.7 772.8,1853.4 773.1,1846.2 773.4,1848.5 773.7,1854 774,1848 774.3,1849.3 774.6,1849.7 774.9,1852.4 775.2,1860.6 775.5,1857 775.8,1849.2 776.1,1847.1 776.4,1862.7 776.7,1859.2 777,1865.5 777.3,1861.6 777.6,1850.9 777.9,1857.6 778.3,1851.5 778.6,1846.3 778.9,1863.8 779.2,1853.5 779.5,1852.4 779.8,1851.7 780.1,1848.4 780.4,1847.7 780.7,1850.9 781,1859.2 781.3,1847.6 781.6,1842.2 781.9,1860 782.2,1854.5 782.5,1851.9 782.8,1855.8 783.1,1837 783.4,1852.2 783.7,1847.6 784,1855.6 784.3,1854.6 784.6,1843.1 784.9,1847.8 785.2,1856.3 785.5,1853.3 785.8,1854.1 786.1,1850.8 786.4,1854.7 786.7,1861.4 787,1860.7 787.3,1857.7 787.6,1853.9 787.9,1852.5 788.2,1847.8 788.5,1858 788.8,1858.8 789.1,1863.8 789.4,1859.9 789.8,1855.6 790.1,1855.9 790.4,1855.4 790.7,1853.2 791,1856.4 791.3,1862.3 791.6,1853.3 791.9,1852.4 792.2,1858.7 792.5,1836.1 792.8,1868.3 793.1,1862.8 793.4,1857.6 793.7,1844.4 794,1859.5 794.3,1853.1 794.6,1848.1 794.9,1851.3 795.2,1853.1 795.5,1845.6 795.8,1862.8 796.1,1855.4 796.4,1853.9 796.7,1856.2 797,1855.1 797.3,1855.6 797.6,1858 797.9,1861 798.2,1860.4 798.5,1856.1 798.8,1852.1 799.1,1851.5 799.4,1850.3 799.7,1867.9 800,1859.5 800.3,1861 800.6,1854.5 800.9,1854.4 801.3,1856.8 801.6,1848.9 801.9,1857.1 802.2,1852.9 802.5,1851.5 802.8,1851.8 803.1,1856.2 803.4,1846.8 803.7,1840.4 804,1849 804.3,1853.1 804.6,1853.3 804.9,1858.7 805.2,1865.1 805.5,1860.7 805.8,1863.1 806.1,1854.6 806.4,1862.5 806.7,1857.2 807,1859.6 807.3,1854.3 807.6,1855.4 807.9,1846.6 808.2,1846.5 808.5,1845.6 808.8,1853.7 809.1,1864.2 809.4,1848.7 809.7,1843.4 810,1856.4 810.3,1846.2 810.6,1855.1 810.9,1853.5 811.2,1854.8 811.5,1857.5 811.8,1856.7 812.1,1863.9 812.4,1853.2 812.8,1853.4 813.1,1850.1 813.4,1854.4 813.7,1851.7 814,1841.6 814.3,1848.5 814.6,1854.8 814.9,1852.6 815.2,1849.9 815.5,1846.8 815.8,1856.8 816.1,1848.1 816.4,1851.7 816.7,1868.7 817,1851.4 817.3,1857.1 817.6,1859.1 817.9,1854 818.2,1852.2 818.5,1839.7 818.8,1853.5 819.1,1858.8 819.4,1854.5 819.7,1851.3 820,1859.1 820.3,1855.2 820.6,1862.9 820.9,1860.8 821.2,1853.2 821.5,1849.7 821.8,1858.9 822.1,1853.1 822.4,1854.3 822.7,1859.4 823,1856.9 823.3,1858.9 823.6,1813.3 823.9,1856.4 824.3,1824.4 824.6,1853 824.9,1843.9 825.2,1859.2 825.5,1852.7 825.8,1847.2 826.1,1846.5 826.4,1850.2 826.7,1855.7 827,1842.4 827.3,1837.6 827.6,1845.2 827.9,1844.7 828.2,1853.3 828.5,1858.1 828.8,1843.2 829.1,1840.4 829.4,1864.1 829.7,1854.6" fill="none" stroke="#fb8a0a" stroke-width="1.8" />
<polyline points="545.7,2106.2 545.9,2104.7 546.2,2095.8 546.4,2103.3 546.7,2099.6 546.9,2098.7 547.2,2094.9 547.4,2096.2 547.7,2095.7 547.9,2092.7 548.2,2088.2 548.4,2084.8 548.7,2085.3 548.9,2082.9 549.2,2086 549.4,2078.2 549.7,2082.9 549.9,2084 550.2,2076.9 550.4,2074 550.7,2071.2 550.9,2075 551.2,2074.2 551.4,2070.8 551.7,2072.1 551.9,2069.6 552.1,2059.7 552.4,2060 552.6,2057 552.9,2059.2 553.1,2061.2 553.4,2057.9 553.6,2054.9 553.9,2058.5 554.1,2050.6 554.4,2053.8 554.6,2049 554.9,2054.2 555.1,2053.2 555.4,2046 555.6,2046.5 555.9,2038.5 556.1,2042.2 556.4,2040.3 556.6,2041.3 556.9,2040.6 557.1,2039.2 557.4,2039.2 557.6,2038.9 557.8,2032.9 558.1,2035.1 558.3,2032.4 558.6,2028.6 558.8,2028.6 559.1,2030.1 559.3,2024.7 559.6,2025.8 559.8,2020.9 560.1,2023.6 560.3,2022.5 560.6,2018.3 560.8,2020.9 561.1,2015.2 561.3,2017 561.6,2024.5 561.8,2012.8 562.1,2017.5 562.3,2014.7 562.6,2013.7 562.8,2014.8 563.1,2002.4 563.3,2007.9 563.6,2004.7 563.8,2004.8 564,2004.2 564.3,2005.6 564.5,2006.8 564.8,1996.2 565,2002.2 565.3,1997.1 565.5,1989.3 565.8,2000.3 566,1996.7 566.3,1996.3 566.5,1997.3 566.8,1993.1 567,1992.3 567.3,1989.9 567.5,1993 567.8,1985.8 568,1984.3 568.3,1986.9 568.5,1980.5 568.8,1986.5 569,1986.3 569.3,1981.6 569.5,1978.5 569.8,1976.4 570,1985.2 570.2,1983.7 570.5,1977.6 570.7,1983.9 571,1977.3 571.2,1973.9 571.5,1974.1 571.7,1969.2 572,1982.8 572.2,1968.8 572.5,1973.6 572.7,1974.7 573,1967.2 573.2,1973.8 573.5,1968.5 573.7,1965.2 574,1968.4 574.2,1963.3 574.5,1962.3 574.7,1958.8 575,1962.3 575.2,1957.2 575.5,1963.2 575.7,1953.8 575.9,1957.1 576.2,1963.2 576.4,1953.4 576.7,1956.2 576.9,1958.5 577.2,1951.9 577.4,1954.5 577.7,1951.5 577.9,1951.5 578.2,1960 578.4,1950.3 578.7,1950.1 578.9,1947 579.2,1949.4 579.4,1948.7 579.7,1948.4 579.9,1948.8 580.2,1944.6 580.4,1946.5 580.7,1941.7 580.9,1941.2 581.2,1944.6 581.4,1949.3 581.7,1946.9 581.9,1943 582.1,1944.5 582.4,1940.8 582.6,1942.5 582.9,1937.2 583.1,1945.8 583.4,1932.7 583.6,1934.4 583.9,1937.6 584.1,1939.3 584.4,1934.9 584.6,1931.9 584.9,1934.5 585.1,1931.5 585.4,1933.8 585.6,1936.2 585.9,1929.1 586.1,1928.1 586.4,1923.2 586.6,1925.5 586.9,1934.2 587.1,1929 587.4,1928.8 587.6,1925.1 587.9,1930.1 588.1,1928.6 588.3,1924.8 588.6,1931.9 588.8,1919 589.1,1934.2 589.3,1929.2 589.6,1922.9 589.8,1926.7 590.1,1925.2 590.3,1919.5 590.6,1922 590.8,1920.4 591.1,1919.2 591.3,1912.4 591.6,1922.7 591.8,1918.5 592.1,1914.7 592.3,1924.2 592.6,1917.8 592.8,1917.3 593.1,1911.6 593.3,1920 593.6,1920.2 593.8,1926.4 594,1915.3 594.3,1915.2 594.5,1915.5 594.8,1922.1 595,1914.5 595.3,1916 595.5,1920.1 595.8,1913.4 596,1909.9 596.3,1911.7 596.5,1906.2 596.8,1913.5 597,1911.7 597.3,1914.5 597.5,1903.4 597.8,1901.8 598,1910.6 598.3,1906.2 598.5,1908.2 598.8,1900.9 599,1899.6 599.3,1916.2 599.5,1908.7 599.8,1903.9 600,1913.8 600.3,1898.1 600.6,1908.3 600.9,1909.5 601.2,1902.5 601.5,1902.4 601.8,1907.4 602.1,1898.8 602.4,1900.9 602.7,1901.8 603,1904.6 603.3,1896 603.6,1899.2 603.9,1899.8 604.2,1896.5 604.5,1899.1 604.8,1896.7 605.1,1896.4 605.4,1895.7 605.8,1895.6 606.1,1893.2 606.4,1895.1 606.7,1903 607,1892.9 607.3,1891.9 607.6,1895.9 607.9,1889.8 608.2,1895.6 608.5,1899.3 608.8,1895.5 609.1,1890.2 609.4,1887.3 609.7,1900.9 610,1889.9 610.3,1893.7 610.6,1895.1 610.9,1891.7 611.2,1885.4 611.5,1893.1 611.8,1885 612.1,1884.8 612.4,1888.4 612.7,1886 613,1879.5 613.3,1884.4 613.6,1887.6 613.9,1881.9 614.2,1891.5 614.5,1888.5 614.8,1888 615.1,1881.6 615.4,1889.7 615.7,1891.8 616,1884.4 616.3,1888.5 616.6,1886.7 616.9,1881.7 617.3,1871.4 617.6,1887.9 617.9,1885 618.2,1881.2 618.5,1891.1 618.8,1877.3 619.1,1873.4 619.4,1870.7 619.7,1879 620,1879.2 620.3,1880.1 620.6,1872.7 620.9,1882.6 621.2,1879.1 621.5,1875.6 621.8,1882.1 622.1,1879.2 622.4,1886 622.7,1876.1 623,1877.9 623.3,1876 623.6,1876.6 623.9,1874.5 624.2,1877.9 624.5,1874.2 624.8,1877 625.1,1868 625.4,1876.6 625.7,1879 626,1869.8 626.3,1873.4 626.6,1876.5 626.9,1871.3 627.2,1873.1 627.5,1866.3 627.8,1877.7 628.1,1866.2 628.4,1879.3 628.8,1873.9 629.1,1873.6 629.4,1873.9 629.7,1863.7 630,1874 630.3,1875.4 630.6,1876.4 630.9,1862.9 631.2,1876.9 631.5,1871.2 631.8,1866.1 632.1,1871.4 632.4,1871 632.7,1865.8 633,1866.8 633.3,1874.7 633.6,1871.2 633.9,1869.1 634.2,1863.4 634.5,1871.8 634.8,1871.5 635.1,1867.8 635.4,1868.9 635.7,1869.5 636,1874.3 636.3,1875.4 636.6,1862.1 636.9,1868.5 637.2,1865.3 637.5,1866.5 637.8,1872.9 638.1,1865.9 638.4,1872.2 638.7,1867.4 639,1863.6 639.3,1861.4 639.6,1869.4 639.9,1874.7 640.3,1850.3 640.6,1867.5 640.9,1864.6 641.2,1867.3 641.5,1862.3 641.8,1862.4 642.1,1859.8 642.4,1861.1 642.7,1864.7 643,1877.2 643.3,1869.7 643.6,1863.9 643.9,1867.6 644.2,1859.6 644.5,1870.4 644.8,1858.4 645.1,1868.3 645.4,1860.6 645.7,1864.6 646,1864.1 646.3,1871.5 646.6,1857.1 646.9,1858.5 647.2,1861.6 647.5,1871.9 647.8,1860.6 648.1,1872.2 648.4,1864.3 648.7,1874.9 649,1864.2 649.3,1865 649.6,1864.4 649.9,1852.5 650.2,1865.2 650.5,1864.2 650.8,1861.4 651.1,1861.5 651.4,1856.5 651.8,1859.6 652.1,1864.5 652.4,1862.3 652.7,1868.1 653,1863.9 653.3,1853.9 653.6,1866.9 653.9,1859.2 654.2,1867.1 654.5,1867.4 654.8,1857.7 655.1,1861.5 655.4,1865.3 655.7,1863.9 656,1861.5 656.3,1860.9 656.6,1860 656.9,1863.9 657.2,1859.8 657.5,1859.1 657.8,1858.4 658.1,1860.5 658.4,1865.3 658.7,1866.3 659,1861.7 659.3,1863.6 659.6,1854.9 659.9,1855.5 660.2,1863.2 660.5,1854 660.8,1853.5 661.1,1863.5 661.4,1864.4 661.7,1863.2 662,1854.9 662.3,1861 662.6,1863.9 662.9,1857.8 663.3,1858.4 663.6,1864.8 663.9,1859.7 664.2,1868.1 664.5,1863.2 664.8,1853.9 665.1,1865 665.4,1862.1 665.7,1866.8 666,1860.5 666.3,1856.6 666.6,1861 666.9,1861.4 667.2,1858.4 667.5,1855.6 667.8,1859.5 668.1,1857.4 668.4,1855.8 668.7,1866.5 669,1852.9 669.3,1852.9 669.6,1852.3 669.9,1857.2 670.2,1856.8 670.5,1861.5 670.8,1855.2 671.1,1860.6 671.4,1860 671.7,1853.1 672,1864.3 672.3,1860.7 672.6,1854.2 672.9,1859.6 673.2,1859.9 673.5,1853.4 673.8,1862.6 674.1,1851.6 674.4,1854.9 674.8,1863.1 675.1,1855.2 675.4,1857.8 675.7,1860 676,1864 676.3,1866.8 676.6,1859.2 676.9,1854.5 677.2,1866.4 677.5,1848 677.8,1855.7 678.1,1853.6 678.4,1863.9 678.7,1863 679,1862.1 679.3,1855.9 679.6,1855.7 679.9,1862.4 680.2,1857.6 680.5,1860.6 680.8,1859.2 681.1,1855.1 681.4,1857 681.7,1853.8 682,1855.5 682.3,1867.2 682.6,1856.4 682.9,1858.9 683.2,1865 683.5,1862.1 683.8,1866.2 684.1,1863.7 684.4,1852.6 684.7,1861 685,1853.5 685.3,1858.7 685.6,1860.7 685.9,1868.5 686.3,1855.3 686.6,1857.1 686.9,1857.5 687.2,1851.9 687.5,1863 687.8,1855.6 688.1,1860.9 688.4,1865.2 688.7,1858.1 689,1861 689.3,1856.9 689.6,1856.9 689.9,1858.4 690.2,1860 690.5,1859.4 690.8,1861.9 691.1,1858.2 691.4,1859.9 691.7,1860 692,1865.8 692.3,1857.4 692.6,1857.2 692.9,1855.5 693.2,1860.3 693.5,1859 693.8,1852.8 694.1,1858.7 694.4,1858.8 694.7,1859.1 695,1857.5 695.3,1863.8 695.6,1867.9 695.9,1862.4 696.2,1858.1 696.5,1859.9 696.8,1864.5 697.1,1854.4 697.4,1857.9 697.8,1857.6 698.1,1862.6 698.4,1863.8 698.7,1855.4 699,1862.7 699.3,1855.1 699.6,1864.3 699.9,1857.3 700.2,1868.2 700.5,1858 700.8,1854.6 701.1,1870.7 701.4,1854.9 701.7,1854 702,1858.3 702.3,1860.8 702.6,1856.2 702.9,1859.3 703.2,1860.8 703.5,1869.5 703.8,1858.7 704.1,1855.9 704.4,1860.6 704.7,1857.5 705,1859.2 705.3,1865.1 705.6,1861.8 705.9,1856.2 706.2,1868.9 706.5,1862.9 706.8,1854.9 707.1,1862.5 707.4,1853.4 707.7,1853.2 708,1852.7 708.3,1860.4 708.6,1856.5 708.9,1858.5 709.3,1861.1 709.6,1858 709.9,1858.7 710.2,1855.8 710.5,1861.9 710.8,1863.1 711.1,1851.4 711.4,1854.1 711.7,1856.8 712,1860.8 712.3,1857.2 712.6,1855.9 712.9,1859.5 713.2,1861.8 713.5,1860 713.8,1855.7 714.1,1852.8 714.4,1864 714.7,1854.6 715,1861.5 715.3,1856.2 715.6,1866.5 715.9,1861.4 716.2,1866.7 716.5,1857.4 716.8,1853.9 717.1,1859.5 717.4,1853.8 717.7,1863.6 718,1858.1 718.3,1855.9 718.6,1859.9 718.9,1851.7 719.2,1860.3 719.5,1852.8 719.8,1862.9 720.1,1860.2 720.4,1862.8 720.8,1860.1 721.1,1858.6 721.4,1858.2 721.7,1857.7 722,1860.5 722.3,1865.7 722.6,1858.1 722.9,1859.7 723.2,1866.1 723.5,1862.3 723.8,1854.9 724.1,1867.7 724.4,1855.6 724.7,1852.7 725,1858.7 725.3,1856.3 725.6,1859.2 725.9,1853.4 726.2,1861.6 726.5,1863.7 726.8,1852.9 727.1,1851.5 727.4,1855.3 727.7,1859 728,1861.4 728.3,1852.1 728.6,1863 728.9,1857.9 729.2,1848.4 729.5,1859.3 729.8,1857 730.1,1856.5 730.4,1860 730.7,1853.6 731,1856.8 731.3,1858.1 731.6,1864 731.9,1854 732.3,1854.1 732.6,1868.4 732.9,1859.4 733.2,1855.3 733.5,1856.8 733.8,1856.9 734.1,1858.5 734.4,1871.6 734.7,1860 735,1863.1 735.3,1855.2 735.6,1855 735.9,1854.4 736.2,1855.4 736.5,1856.7 736.8,1874.8 737.1,1857.9 737.4,1861.7 737.7,1864.2 738,1860.6 738.3,1860.5 738.6,1859 738.9,1868.3 739.2,1862.4 739.5,1860.4 739.8,1858.9 740.1,1857.8 740.4,1856.6 740.7,1857.6 741,1862.1 741.3,1863.6 741.6,1851.4 741.9,1862.9 742.2,1860 742.5,1855.4 742.8,1853.7 743.1,1865 743.4,1870.5 743.8,1846.5 744.1,1857.3 744.4,1861.2 744.7,1860.4 745,1854 745.3,1860.6 745.6,1855.3 745.9,1865.5 746.2,1859 746.5,1857 746.8,1854.2 747.1,1863 747.4,1863.2 747.7,1855.3 748,1861.3 748.3,1859.3 748.6,1860.2 748.9,1861.7 749.2,1852.6 749.5,1864 749.8,1858 750.1,1865.7 750.4,1860 750.7,1870.6 751,1862.3 751.3,1856.9 751.6,1859.5 751.9,1856 752.2,1861.6 752.5,1856.7 752.8,1864.9 753.1,1860.8 753.4,1857 753.7,1852.2 754,1864.9 754.3,1857.6 754.6,1853.7 754.9,1857.1 755.3,1853.1 755.6,1859 755.9,1860 756.2,1863 756.5,1863.7 756.8,1858.5 757.1,1859.5 757.4,1858.6 757.7,1854.6 758,1866.5 758.3,1856.2 758.6,1863.8 758.9,1854.1 759.2,1867 759.5,1846.4 759.8,1856.5 760.1,1860.7 760.4,1854.1 760.7,1863.9 761,1860 761.3,1863 761.6,1855.3 761.9,1853.5 762.2,1858.5 762.5,1859.5 762.8,1853.9 763.1,1857.2 763.4,1865.1 763.7,1861.9 764,1864.3 764.3,1862 764.6,1852.5 764.9,1854.7 765.2,1865.6 765.5,1855.7 765.8,1860.4 766.1,1852.3 766.4,1849 766.8,1860.4 767.1,1852.4 767.4,1852.6 767.7,1860.2 768,1855.9 768.3,1853.3 768.6,1857.8 768.9,1864.9 769.2,1858 769.5,1856 769.8,1854 770.1,1865.2 770.4,1861.3 770.7,1864.3 771,1863.9 771.3,1863 771.6,1860.3 771.9,1850.6 772.2,1861.9 772.5,1861.3 772.8,1854.8 773.1,1860 773.4,1855.1 773.7,1855.1 774,1852.3 774.3,1858.5 774.6,1857.5 774.9,1859.7 775.2,1869.5 775.5,1861.7 775.8,1856.6 776.1,1870.2 776.4,1861.7 776.7,1868 777,1866.7 777.3,1857.5 777.6,1853.3 777.9,1854.9 778.3,1861.4 778.6,1867 778.9,1860.5 779.2,1856.8 779.5,1859.9 779.8,1857.4 780.1,1855.2 780.4,1863.7 780.7,1865 781,1857.5 781.3,1860.1 781.6,1856 781.9,1857.8 782.2,1861.6 782.5,1851.7 782.8,1859.3 783.1,1862.6 783.4,1857.4 783.7,1854.4 784,1862.2 784.3,1858.3 784.6,1857.4 784.9,1863 785.2,1851.7 785.5,1867.8 785.8,1863.8 786.1,1856.1 786.4,1856.6 786.7,1862 787,1864.5 787.3,1861.8 787.6,1860 787.9,1855.1 788.2,1850.6 788.5,1857.8 788.8,1858.1 789.1,1856.8 789.4,1859.1 789.8,1855.8 790.1,1856.2 790.4,1864.4 790.7,1856 791,1851.7 791.3,1854.4 791.6,1855.5 791.9,1851.8 792.2,1849 792.5,1859.8 792.8,1862.9 793.1,1865.7 793.4,1858 793.7,1857.4 794,1854.5 794.3,1855.9 794.6,1854.9 794.9,1857.4 795.2,1859.9 795.5,1861.6 795.8,1857 796.1,1857.4 796.4,1856.4 796.7,1863.6 797,1862.5 797.3,1860.5 797.6,1865.4 797.9,1860.3 798.2,1852.9 798.5,1866.2 798.8,1860.8 799.1,1861.2 799.4,1855.8 799.7,1857.9 800,1857.7 800.3,1852 800.6,1855.4 800.9,1847.7 801.3,1854.7 801.6,1859.5 801.9,1854.4 802.2,1850.6 802.5,1857 802.8,1855.8 803.1,1859.5 803.4,1851.5 803.7,1863 804,1849.6 804.3,1858.7 804.6,1863 804.9,1859.7 805.2,1858.3 805.5,1861.6 805.8,1856.4 806.1,1856.3 806.4,1858.7 806.7,1851 807,1861.3 807.3,1860.4 807.6,1867.8 807.9,1863.9 808.2,1854.4 808.5,1854.3 808.8,1853.4 809.1,1861.8 809.4,1861.9 809.7,1853.2 810,1854.4 810.3,1864.9 810.6,1855.2 810.9,1853.1 811.2,1859.5 811.5,1855.9 811.8,1857.7 812.1,1849.8 812.4,1857.9 812.8,1858.5 813.1,1863.1 813.4,1870.8 813.7,1862.7 814,1855.5 814.3,1859.3 814.6,1856.2 814.9,1858.2 815.2,1863.5 815.5,1857.7 815.8,1865.3 816.1,1860.2 816.4,1865.6 816.7,1859.4 817,1855.7 817.3,1859.4 817.6,1864.1 817.9,1844.9 818.2,1848.8 818.5,1862.5 818.8,1850.2 819.1,1859.4 819.4,1859.3 819.7,1863.3 820,1861.6 820.3,1852.9 820.6,1853.6 820.9,1854.2 821.2,1860.4 821.5,1857.4 821.8,1850.6 822.1,1855.1 822.4,1850.9 822.7,1864.5 823,1862.9 823.3,1863 823.6,1857.4 823.9,1860.3 824.3,1859.9 824.6,1860 824.9,1863.4 825.2,1851.6 825.5,1863.8 825.8,1857 826.1,1858.7 826.4,1855.9 826.7,1854 827,1859 827.3,1854 827.6,1864.4 827.9,1866.7 828.2,1865.8 828.5,1866.2 828.8,1861 829.1,1854 829.4,1857.9 829.7,1861.4" fill="none" stroke="#fb8a0a" stroke-width="1.8" />
<polyline points="545.7,2111.8 545.9,2108.9 546.2,2105.8 546.4,2110.4 546.7,2106.5 546.9,2107.8 547.2,2100.4 547.4,2102.7 547.7,2095.4 547.9,2096.1 548.2,2102.2 548.4,2094.9 548.7,2092.1 548.9,2092.6 549.2,2096.1 549.4,2087.2 549.7,2093 549.9,2080.7 550.2,2086.4 550.4,2087.4 550.7,2078.1 550.9,2080.7 551.2,2080.5 551.4,2074 551.7,2074.9 551.9,2072.6 552.1,2071.7 552.4,2077 552.6,2064.9 552.9,2063.2 553.1,2065.2 553.4,2064.9 553.6,2064.5 553.9,2063.3 554.1,2061.7 554.4,2057.5 554.6,2060.7 554.9,2058.7 555.1,2055.5 555.4,2053.4 555.6,2055 555.9,2056 556.1,2045.8 556.4,2043.8 556.6,2044 556.9,2052.4 557.1,2044.3 557.4,2039.4 557.6,2047 557.8,2043 558.1,2041.2 558.3,2042.5 558.6,2038.4 558.8,2038.3 559.1,2032.4 559.3,2038.8 559.6,2043 559.8,2030 560.1,2027.8 560.3,2030.4 560.6,2030.7 560.8,2027.1 561.1,2031 561.3,2035.2 561.6,2025.4 561.8,2029.1 562.1,2023 562.3,2025.5 562.6,2024.9 562.8,2021.5 563.1,2018.7 563.3,2016.8 563.6,2018.3 563.8,2016.8 564,2010.4 564.3,2023.6 564.5,2015.6 564.8,2014.5 565,2013.6 565.3,2006.7 565.5,2009.9 565.8,2014 566,2007.9 566.3,2005.3 566.5,2008.5 566.8,2000.8 567,2003.6 567.3,1994.2 567.5,2003.4 567.8,2005.1 568,2001.5 568.3,2001.1 568.5,1995.5 568.8,1999.7 569,1993.2 569.3,1995.4 569.5,1985.3 569.8,1996.6 570,1985.7 570.2,1992 570.5,1991.4 570.7,1984.9 571,1992 571.2,1985.9 571.5,1986.6 571.7,1987 572,1988 572.2,1983.9 572.5,1985.6 572.7,1988.1 573,1985.9 573.2,1983.9 573.5,1973.7 573.7,1975.1 574,1976.7 574.2,1978.3 574.5,1981.2 574.7,1979.9 575,1985 575.2,1972.2 575.5,1971.1 575.7,1973.9 575.9,1973 576.2,1968.4 576.4,1972.8 576.7,1972.7 576.9,1969.1 577.2,1964.7 577.4,1973.8 577.7,1963.9 577.9,1971.8 578.2,1967.1 578.4,1968.3 578.7,1964.4 578.9,1965.5 579.2,1961.5 579.4,1965.9 579.7,1963 579.9,1956.6 580.2,1958.2 580.4,1961.5 580.7,1962.4 580.9,1961.9 581.2,1952.2 581.4,1958 581.7,1959.7 581.9,1952.7 582.1,1955.2 582.4,1954.9 582.6,1954.9 582.9,1956.1 583.1,1950.9 583.4,1959.1 583.6,1954.7 583.9,1957.2 584.1,1948.6 584.4,1948.4 584.6,1951.3 584.9,1945.3 585.1,1948.6 585.4,1955.4 585.6,1954.9 585.9,1947.9 586.1,1941 586.4,1955.2 586.6,1944 586.9,1941.2 587.1,1946.7 587.4,1947.5 587.6,1946.4 587.9,1943.6 588.1,1943.3 588.3,1945.3 588.6,1937.2 588.8,1946.8 589.1,1943.5 589.3,1943.3 589.6,1947.5 589.8,1942.8 590.1,1941.9 590.3,1941.1 590.6,1940.3 590.8,1942.8 591.1,1930.7 591.3,1941.2 591.6,1935.7 591.8,1939 592.1,1939.6 592.3,1937.6 592.6,1939.4 592.8,1934.1 593.1,1943.5 593.3,1923.8 593.6,1944.6 593.8,1928.8 594,1927.3 594.3,1930.2 594.5,1934.9 594.8,1929.6 595,1934.2 595.3,1933.2 595.5,1930.5 595.8,1936.4 596,1933.7 596.3,1923 596.5,1927.9 596.8,1925 597,1926.5 597.3,1927.5 597.5,1934.3 597.8,1934.4 598,1929.2 598.3,1927.4 598.5,1924.5 598.8,1922.9 599,1930.2 599.3,1916.6 599.5,1928.7 599.8,1926.4 600,1931.7 600.3,1927.3 600.6,1922.7 600.9,1926.8 601.2,1927.7 601.5,1924.3 601.8,1918.9 602.1,1931.1 602.4,1931.8 602.7,1927.3 603,1923.8 603.3,1919.2 603.6,1921.5 603.9,1913.7 604.2,1918.9 604.5,1919.4 604.8,1912.9 605.1,1912.5 605.4,1920.1 605.8,1914.9 606.1,1914.1 606.4,1920.5 606.7,1914.2 607,1911 607.3,1920.1 607.6,1918.8 607.9,1914.4 608.2,1909 608.5,1914.3 608.8,1922 609.1,1908.9 609.4,1917.5 609.7,1912.6 610,1916.8 610.3,1918.1 610.6,1912.9 610.9,1908.8 611.2,1909.7 611.5,1905.5 611.8,1907.1 612.1,1899.8 612.4,1904.8 612.7,1914.7 613,1907.1 613.3,1912.6 613.6,1922.5 613.9,1913.6 614.2,1910.9 614.5,1907.1 614.8,1905.8 615.1,1912.5 615.4,1916.8 615.7,1915.8 616,1907 616.3,1902.6 616.6,1902.9 616.9,1908.1 617.3,1915.1 617.6,1906.7 617.9,1906.3 618.2,1912.8 618.5,1904.2 618.8,1895.4 619.1,1912.4 619.4,1898.2 619.7,1903.9 620,1906.9 620.3,1900.4 620.6,1895.7 620.9,1900.8 621.2,1898.4 621.5,1902.3 621.8,1893.1 622.1,1900.1 622.4,1907.9 622.7,1914.3 623,1902.8 623.3,1896 623.6,1900.7 623.9,1905 624.2,1909.3 624.5,1894.8 624.8,1894.1 625.1,1901 625.4,1893.7 625.7,1903.6 626,1894.8 626.3,1894.2 626.6,1901.7 626.9,1897.2 627.2,1889.3 627.5,1893 627.8,1900.3 628.1,1895.3 628.4,1899.5 628.8,1892.5 629.1,1890.4 629.4,1897.9 629.7,1900.1 630,1893.3 630.3,1899.8 630.6,1899.1 630.9,1891.6 631.2,1884.7 631.5,1897.5 631.8,1886.4 632.1,1895.6 632.4,1901.2 632.7,1897 633,1890.5 633.3,1891.7 633.6,1887.8 633.9,1891.8 634.2,1887.8 634.5,1896.9 634.8,1895.5 635.1,1890.1 635.4,1897.8 635.7,1897.3 636,1895 636.3,1891.5 636.6,1887.2 636.9,1883.3 637.2,1891.5 637.5,1892.8 637.8,1889.4 638.1,1889 638.4,1893 638.7,1886.8 639,1891 639.3,1885.2 639.6,1895.2 639.9,1888.1 640.3,1895.2 640.6,1884.9 640.9,1893 641.2,1893.8 641.5,1883.4 641.8,1891 642.1,1885.7 642.4,1884.1 642.7,1885.6 643,1888.2 643.3,1886 643.6,1893.4 643.9,1896.2 644.2,1892.5 644.5,1884.6 644.8,1890.6 645.1,1884.4 645.4,1881.1 645.7,1890.9 646,1891.4 646.3,1884.3 646.6,1884.8 646.9,1887.7 647.2,1891.3 647.5,1884.7 647.8,1887.6 648.1,1884.3 648.4,1885.2 648.7,1881.1 649,1882.6 649.3,1885.8 649.6,1885.1 649.9,1878.7 650.2,1890.9 650.5,1892.5 650.8,1889.5 651.1,1885.2 651.4,1883.5 651.8,1894.2 652.1,1884.3 652.4,1891.6 652.7,1878.3 653,1886.9 653.3,1882.2 653.6,1884.4 653.9,1882.7 654.2,1888.7 654.5,1886.1 654.8,1889.8 655.1,1882.1 655.4,1895.9 655.7,1885.7 656,1882.6 656.3,1876.6 656.6,1883.5 656.9,1885.4 657.2,1884.4 657.5,1885.4 657.8,1883 658.1,1886.9 658.4,1885.3 658.7,1886.8 659,1884.6 659.3,1885.4 659.6,1881.5 659.9,1882.2 660.2,1884.5 660.5,1882.8 660.8,1882.1 661.1,1882.4 661.4,1882.5 661.7,1884.1 662,1878.9 662.3,1883.5 662.6,1890.3 662.9,1893.7 663.3,1882.3 663.6,1880.7 663.9,1886.2 664.2,1888.1 664.5,1882 664.8,1885.7 665.1,1883.3 665.4,1884.1 665.7,1880.5 666,1877.3 666.3,1880.2 666.6,1886.2 666.9,1875.5 667.2,1892.8 667.5,1885.7 667.8,1892 668.1,1881.6 668.4,1878.5 668.7,1891.1 669,1874.9 669.3,1885.1 669.6,1901.2 669.9,1883.5 670.2,1888.6 670.5,1881.6 670.8,1888.6 671.1,1885.4 671.4,1887.8 671.7,1879.2 672,1887.4 672.3,1883.4 672.6,1880.3 672.9,1905.6 673.2,1883.2 673.5,1887.7 673.8,1887.1 674.1,1887 674.4,1886 674.8,1879.8 675.1,1887.7 675.4,1884.8 675.7,1882.9 676,1883.3 676.3,1888.7 676.6,1880.5 676.9,1879.7 677.2,1889.9 677.5,1876.7 677.8,1878.8 678.1,1884.9 678.4,1886.4 678.7,1883.3 679,1886.1 679.3,1879.5 679.6,1875.7 679.9,1880 680.2,1878 680.5,1886.7 680.8,1888 681.1,1883.7 681.4,1880.7 681.7,1884.1 682,1882.3 682.3,1879.3 682.6,1872.6 682.9,1885.7 683.2,1880.8 683.5,1885.3 683.8,1886.2 684.1,1883.3 684.4,1878.9 684.7,1880.9 685,1878.8 685.3,1878.5 685.6,1878 685.9,1881.2 686.3,1870.9 686.6,1881.9 686.9,1881.3 687.2,1889.8 687.5,1889.9 687.8,1883.5 688.1,1884.1 688.4,1886.5 688.7,1889.7 689,1885.4 689.3,1878.4 689.6,1883.5 689.9,1885.4 690.2,1876.4 690.5,1880.9 690.8,1886.5 691.1,1885.9 691.4,1885.1 691.7,1866.8 692,1871.7 692.3,1875.7 692.6,1892.7 692.9,1880.5 693.2,1888.3 693.5,1876.3 693.8,1876.6 694.1,1886.1 694.4,1882.4 694.7,1878.7 695,1881.6 695.3,1882.5 695.6,1887.3 695.9,1888.2 696.2,1880.2 696.5,1883.4 696.8,1884.4 697.1,1902.7 697.4,1874.8 697.8,1889.4 698.1,1884.7 698.4,1891.9 698.7,1881.8 699,1883 699.3,1886.7 699.6,1879.7 699.9,1884.6 700.2,1883.2 700.5,1889.5 700.8,1885.3 701.1,1881 701.4,1878.8 701.7,1880.8 702,1880.1 702.3,1881.9 702.6,1868.1 702.9,1878.4 703.2,1882.4 703.5,1880.4 703.8,1882.9 704.1,1878 704.4,1887 704.7,1888.1 705,1883.4 705.3,1881.3 705.6,1881.1 705.9,1879.8 706.2,1885.3 706.5,1885.6 706.8,1884.1 707.1,1877.9 707.4,1876.2 707.7,1877.4 708,1884.8 708.3,1882.5 708.6,1872.7 708.9,1883.2 709.3,1881.6 709.6,1871.8 709.9,1878.7 710.2,1876.2 710.5,1884.8 710.8,1879 711.1,1881.9 711.4,1884.8 711.7,1885.5 712,1882.6 712.3,1886.1 712.6,1879.5 712.9,1879.7 713.2,1876 713.5,1882 713.8,1874.4 714.1,1891.2 714.4,1889.4 714.7,1884.2 715,1891.4 715.3,1880.9 715.6,1885.5 715.9,1881.3 716.2,1880 716.5,1889.1 716.8,1886.1 717.1,1881.6 717.4,1881.3 717.7,1881.1 718,1882.2 718.3,1877.3 718.6,1874.6 718.9,1877.7 719.2,1890.2 719.5,1887.4 719.8,1882.2 720.1,1883.9 720.4,1886.9 720.8,1886.3 721.1,1878.5 721.4,1873.6 721.7,1888.8 722,1884 722.3,1884.6 722.6,1877.5 722.9,1891.3 723.2,1887 723.5,1882.2 723.8,1894.7 724.1,1890.1 724.4,1886 724.7,1875 725,1885 725.3,1878.1 725.6,1879.5 725.9,1889.4 726.2,1885.5 726.5,1885.7 726.8,1885.1 727.1,1874.9 727.4,1877.2 727.7,1888.4 728,1883 728.3,1883.3 728.6,1886.4 728.9,1882.2 729.2,1875.9 729.5,1880.5 729.8,1879.4 730.1,1883.4 730.4,1879.9 730.7,1884.2 731,1891.5 731.3,1880.5 731.6,1882.6 731.9,1876.7 732.3,1881.7 732.6,1891.3 732.9,1880.9 733.2,1884.6 733.5,1893 733.8,1874.1 734.1,1884.3 734.4,1885 734.7,1885 735,1882 735.3,1884.6 735.6,1881.1 735.9,1882 736.2,1878.3 736.5,1881.1 736.8,1882.2 737.1,1884.6 737.4,1884.3 737.7,1886.6 738,1877.7 738.3,1882.4 738.6,1881.5 738.9,1890.2 739.2,1889.1 739.5,1888.4 739.8,1878.9 740.1,1888.1 740.4,1886.4 740.7,1876.7 741,1878.1 741.3,1880.1 741.6,1883.2 741.9,1877.9 742.2,1885.1 742.5,1879.5 742.8,1890.8 743.1,1882.6 743.4,1876.8 743.8,1877.4 744.1,1885 744.4,1879.4 744.7,1876.1 745,1886.8 745.3,1881 745.6,1881.6 745.9,1880.7 746.2,1879.2 746.5,1884.1 746.8,1882 747.1,1884.7 747.4,1881.3 747.7,1878.3 748,1884.2 748.3,1885.6 748.6,1893.3 748.9,1878.4 749.2,1883 749.5,1890.6 749.8,1882.6 750.1,1879.1 750.4,1873.8 750.7,1876.3 751,1881 751.3,1884.9 751.6,1903.3 751.9,1879.6 752.2,1888.2 752.5,1878.4 752.8,1884.7 753.1,1888 753.4,1883.8 753.7,1883.6 754,1875.6 754.3,1883.2 754.6,1890.1 754.9,1884.5 755.3,1885.7 755.6,1886.9 755.9,1885.8 756.2,1876.7 756.5,1886.7 756.8,1879.6 757.1,1876.6 757.4,1879.1 757.7,1884.3 758,1881.5 758.3,1886.4 758.6,1894.1 758.9,1879.6 759.2,1891.3 759.5,1884 759.8,1878.4 760.1,1883.7 760.4,1887.3 760.7,1888 761,1881.5 761.3,1879.6 761.6,1885.1 761.9,1878.8 762.2,1887.5 762.5,1881 762.8,1877.2 763.1,1887 763.4,1890 763.7,1891.6 764,1877.3 764.3,1879.6 764.6,1879.7 764.9,1874.8 765.2,1884.3 765.5,1876.8 765.8,1883.5 766.1,1886.5 766.4,1897.9 766.8,1885 767.1,1879.8 767.4,1883 767.7,1884.2 768,1885.4 768.3,1886.4 768.6,1883.7 768.9,1888.9 769.2,1885.8 769.5,1886.1 769.8,1882.9 770.1,1891.8 770.4,1884.5 770.7,1879.7 771,1877.4 771.3,1889 771.6,1881.2 771.9,1883.4 772.2,1884.7 772.5,1878.4 772.8,1889 773.1,1881.4 773.4,1875.2 773.7,1884.3 774,1882.6 774.3,1885.8 774.6,1885.5 774.9,1879.2 775.2,1893.9 775.5,1893.8 775.8,1875.2 776.1,1880.3 776.4,1884.4 776.7,1879.2 777,1877.5 777.3,1892 777.6,1883.4 777.9,1881 778.3,1884 778.6,1873.4 778.9,1879.5 779.2,1876.7 779.5,1882.9 779.8,1884.6 780.1,1881.5 780.4,1885.7 780.7,1872.1 781,1881.1 781.3,1888.1 781.6,1887 781.9,1879 782.2,1883.5 782.5,1884.8 782.8,1883.3 783.1,1877 783.4,1884.4 783.7,1875.1 784,1881.8 784.3,1891.4 784.6,1881.5 784.9,1881.8 785.2,1884 785.5,1883.8 785.8,1888.8 786.1,1897 786.4,1880.8 786.7,1880 787,1878.6 787.3,1879.8 787.6,1876.2 787.9,1881.6 788.2,1884.6 788.5,1893.7 788.8,1892.5 789.1,1883.5 789.4,1882.8 789.8,1878.4 790.1,1887.2 790.4,1884 790.7,1889 791,1883.6 791.3,1879.4 791.6,1881.8 791.9,1900.2 792.2,1877.8 792.5,1883.8 792.8,1883.5 793.1,1884.8 793.4,1880.5 793.7,1884.5 794,1880.6 794.3,1887 794.6,1882 794.9,1881.9 795.2,1876.5 795.5,1881.5 795.8,1884.3 796.1,1890.2 796.4,1884.4 796.7,1880.6 797,1880.6 797.3,1883.9 797.6,1876.2 797.9,1881.9 798.2,1878.5 798.5,1878 798.8,1884.1 799.1,1881.4 799.4,1886.7 799.7,1879.4 800,1885.2 800.3,1879.8 800.6,1878.4 800.9,1882.5 801.3,1887.1 801.6,1887.6 801.9,1881.6 802.2,1883.3 802.5,1878.6 802.8,1879.8 803.1,1877.7 803.4,1885.8 803.7,1880.3 804,1882.4 804.3,1874 804.6,1885.7 804.9,1884.7 805.2,1877.4 805.5,1885.6 805.8,1881.3 806.1,1878.3 806.4,1877.6 806.7,1881.9 807,1886.7 807.3,1883.1 807.6,1882.7 807.9,1876.3 808.2,1879.6 808.5,1880.4 808.8,1884.8 809.1,1880.9 809.4,1880.6 809.7,1877.1 810,1879.2 810.3,1881 810.6,1883.8 810.9,1884.8 811.2,1879.8 811.5,1883.9 811.8,1879.1 812.1,1880 812.4,1882.6 812.8,1879.2 813.1,1895.8 813.4,1878.8 813.7,1886.3 814,1883.9 814.3,1886.2 814.6,1880.9 814.9,1875.7 815.2,1886 815.5,1882.5 815.8,1881.6 816.1,1880.9 816.4,1880.9 816.7,1879.1 817,1880.1 817.3,1874.8 817.6,1885.7 817.9,1877.1 818.2,1874.6 818.5,1888.2 818.8,1882.4 819.1,1879.1 819.4,1884.5 819.7,1884 820,1903.7 820.3,1882.2 820.6,1885.7 820.9,1880.3 821.2,1882.4 821.5,1880.9 821.8,1883.8 822.1,1881.2 822.4,1877.6 822.7,1878.9 823,1881 823.3,1881.9 823.6,1887.7 823.9,1883.4 824.3,1880.1 824.6,1879.9 824.9,1877 825.2,1879.7 825.5,1890.3 825.8,1879.5 826.1,1880.9 826.4,1881.1 826.7,1887.4 827,1878.5 827.3,1873 827.6,1878.8 827.9,1879.5 828.2,1887 828.5,1872.8 828.8,1879.6 829.1,1879.1 829.4,1892.9 829.7,1884.6" fill="none" stroke="#27a0be" stroke-width="1.6" />
<polyline points="545.7,2112.1 545.9,2107.3 546.2,2105.6 546.4,2112 546.7,2103.1 546.9,2102.9 547.2,2098.6 547.4,2098 547.7,2099 547.9,2097.8 548.2,2099.8 548.4,2097.7 548.7,2088.8 548.9,2089.9 549.2,2089 549.4,2086.5 549.7,2084.6 549.9,2088.7 550.2,2084.2 550.4,2083.5 550.7,2081.3 550.9,2077 551.2,2071.7 551.4,2073.5 551.7,2072.7 551.9,2073.5 552.1,2067.9 552.4,2067.4 552.6,2065.7 552.9,2063.8 553.1,2070.1 553.4,2068 553.6,2067.8 553.9,2066.3 554.1,2056.1 554.4,2063.9 554.6,2056.6 554.9,2058.6 555.1,2053.6 555.4,2053 555.6,2047.3 555.9,2042.8 556.1,2048.4 556.4,2048.1 556.6,2048.7 556.9,2046.5 557.1,2047.7 557.4,2045.7 557.6,2043 557.8,2040.2 558.1,2039.7 558.3,2044.7 558.6,2035.7 558.8,2035.4 559.1,2037.9 559.3,2033.9 559.6,2034.1 559.8,2035.5 560.1,2030.1 560.3,2025.1 560.6,2031.4 560.8,2019.4 561.1,2029.9 561.3,2024 561.6,2022.5 561.8,2023.4 562.1,2017.8 562.3,2015.7 562.6,2013.1 562.8,2018 563.1,2015.6 563.3,2009 563.6,2017.9 563.8,2012.9 564,2017.3 564.3,2014 564.5,2013 564.8,2013.3 565,2008.1 565.3,2010.7 565.5,2009.2 565.8,2005.7 566,2011.7 566.3,2009.6 566.5,2006.4 566.8,2002.6 567,2000.6 567.3,2001.6 567.5,2000.1 567.8,2002.8 568,1998.9 568.3,1997.4 568.5,1996.4 568.8,1995 569,1999.3 569.3,1993.7 569.5,1992.2 569.8,1996.3 570,1988.9 570.2,1985 570.5,1992.5 570.7,1992.1 571,1990.6 571.2,1984.2 571.5,1985.4 571.7,1979.2 572,1983.7 572.2,1983.9 572.5,1980.7 572.7,1983.8 573,1982.9 573.2,1979.5 573.5,1982.6 573.7,1977.6 574,1978.2 574.2,1981.2 574.5,1982.3 574.7,1969.2 575,1972.6 575.2,1968.9 575.5,1972.8 575.7,1972 575.9,1971.9 576.2,1965.3 576.4,1970.5 576.7,1965.9 576.9,1964.2 577.2,1967.3 577.4,1965.9 577.7,1968.2 577.9,1963.1 578.2,1968.7 578.4,1962.1 578.7,1959.9 578.9,1958.4 579.2,1961.4 579.4,1968.1 579.7,1961 579.9,1956.5 580.2,1955.3 580.4,1958.4 580.7,1953.3 580.9,1967.1 581.2,1956.1 581.4,1953.4 581.7,1957 581.9,1951.1 582.1,1951.4 582.4,1951.3 582.6,1950.8 582.9,1952.7 583.1,1951.3 583.4,1950 583.6,1955.4 583.9,1942.4 584.1,1953.4 584.4,1945.4 584.6,1953 584.9,1949.2 585.1,1942.3 585.4,1943 585.6,1945.8 585.9,1941.2 586.1,1943.2 586.4,1950.7 586.6,1942.8 586.9,1945.1 587.1,1942.6 587.4,1943.4 587.6,1943.2 587.9,1946 588.1,1947.6 588.3,1944.1 588.6,1933 588.8,1937.3 589.1,1944.8 589.3,1941.2 589.6,1940.3 589.8,1941.2 590.1,1935.5 590.3,1934.1 590.6,1934.2 590.8,1936.6 591.1,1937.4 591.3,1939.5 591.6,1937.3 591.8,1933.8 592.1,1937.5 592.3,1931.3 592.6,1935 592.8,1932.6 593.1,1932.6 593.3,1930.7 593.6,1932.7 593.8,1927.6 594,1929.3 594.3,1931.6 594.5,1932.9 594.8,1926.3 595,1933.1 595.3,1932.4 595.5,1931 595.8,1930.7 596,1931.2 596.3,1926.6 596.5,1921 596.8,1923.1 597,1929.5 597.3,1924.5 597.5,1930.3 597.8,1928.4 598,1923.2 598.3,1928.9 598.5,1915.4 598.8,1927 599,1925.2 599.3,1922.2 599.5,1920 599.8,1919.1 600,1918.5 600.3,1922.1 600.6,1920.1 600.9,1917.6 601.2,1917.6 601.5,1922.4 601.8,1919.5 602.1,1917.2 602.4,1922.8 602.7,1920 603,1915.7 603.3,1920.3 603.6,1914.6 603.9,1916.1 604.2,1918.7 604.5,1918.2 604.8,1913.2 605.1,1920.1 605.4,1917.3 605.8,1916.8 606.1,1914.7 606.4,1912.6 606.7,1912.6 607,1918.8 607.3,1914.4 607.6,1910.5 607.9,1911.5 608.2,1907.5 608.5,1909.9 608.8,1903.2 609.1,1904.4 609.4,1907.3 609.7,1917.6 610,1909.2 610.3,1911 610.6,1907.2 610.9,1915.9 611.2,1910.8 611.5,1906.1 611.8,1906.3 612.1,1907.4 612.4,1903.5 612.7,1906 613,1908.2 613.3,1900.9 613.6,1910.4 613.9,1910.1 614.2,1906 614.5,1907.6 614.8,1905.8 615.1,1902.7 615.4,1907.5 615.7,1905 616,1902.6 616.3,1898.7 616.6,1901.3 616.9,1906.7 617.3,1905 617.6,1900.7 617.9,1906.8 618.2,1900.8 618.5,1901.2 618.8,1900.6 619.1,1895.6 619.4,1901.8 619.7,1903.4 620,1899.3 620.3,1908.3 620.6,1894.9 620.9,1900 621.2,1898 621.5,1900.8 621.8,1899 622.1,1899.9 622.4,1895.3 622.7,1899.2 623,1900.1 623.3,1896.7 623.6,1890.9 623.9,1890.8 624.2,1892.6 624.5,1896.1 624.8,1890.8 625.1,1895.2 625.4,1895.5 625.7,1891.2 626,1897.3 626.3,1890.6 626.6,1895.4 626.9,1900.8 627.2,1888.7 627.5,1893.3 627.8,1898.2 628.1,1893.5 628.4,1890.1 628.8,1892.4 629.1,1887.5 629.4,1891.4 629.7,1892.9 630,1890.1 630.3,1891.3 630.6,1885.3 630.9,1896.3 631.2,1889.7 631.5,1891.8 631.8,1890.5 632.1,1890.4 632.4,1892.1 632.7,1892.3 633,1889.5 633.3,1887.3 633.6,1894.4 633.9,1884.1 634.2,1892.5 634.5,1885.6 634.8,1887.9 635.1,1891 635.4,1889.5 635.7,1887.9 636,1891.1 636.3,1889.5 636.6,1886.5 636.9,1887 637.2,1884 637.5,1888.1 637.8,1895.3 638.1,1889.3 638.4,1889.8 638.7,1886.1 639,1881.5 639.3,1885.7 639.6,1888.1 639.9,1883.8 640.3,1882.6 640.6,1886.5 640.9,1888.7 641.2,1883.5 641.5,1892.5 641.8,1884 642.1,1885.2 642.4,1881.4 642.7,1888.7 643,1879 643.3,1884.7 643.6,1886.2 643.9,1887.4 644.2,1887.2 644.5,1881.3 644.8,1886.9 645.1,1883.5 645.4,1877.2 645.7,1891.9 646,1885.9 646.3,1886.7 646.6,1887.9 646.9,1884 647.2,1882 647.5,1885.8 647.8,1887.5 648.1,1888.6 648.4,1879.4 648.7,1887.2 649,1877.7 649.3,1885.6 649.6,1881.3 649.9,1885.9 650.2,1886.3 650.5,1885.1 650.8,1886.4 651.1,1885.9 651.4,1883.7 651.8,1888 652.1,1882.7 652.4,1880.7 652.7,1883.5 653,1880 653.3,1882.6 653.6,1882.5 653.9,1888.6 654.2,1889.1 654.5,1877.4 654.8,1879.1 655.1,1885.2 655.4,1883.3 655.7,1888.5 656,1885.5 656.3,1881.4 656.6,1891.7 656.9,1876.5 657.2,1883.6 657.5,1886.2 657.8,1884.3 658.1,1879.1 658.4,1877.2 658.7,1884.6 659,1880.5 659.3,1881 659.6,1882.7 659.9,1880.9 660.2,1886.9 660.5,1886.2 660.8,1875.8 661.1,1883.1 661.4,1880.7 661.7,1875.8 662,1881.7 662.3,1881.3 662.6,1878 662.9,1882.1 663.3,1885.8 663.6,1878 663.9,1876.6 664.2,1878.2 664.5,1882.1 664.8,1886.2 665.1,1878 665.4,1877.3 665.7,1877.5 666,1878.2 666.3,1886.9 666.6,1883.6 666.9,1871.5 667.2,1878.4 667.5,1880.5 667.8,1877.3 668.1,1878.6 668.4,1878.7 668.7,1881.3 669,1885.8 669.3,1869.4 669.6,1881.2 669.9,1885.9 670.2,1881.5 670.5,1879.9 670.8,1882.2 671.1,1883.9 671.4,1883.9 671.7,1882.2 672,1875.3 672.3,1881.8 672.6,1883.7 672.9,1876.8 673.2,1872 673.5,1881.4 673.8,1884 674.1,1875.4 674.4,1883.1 674.8,1876.6 675.1,1879.2 675.4,1882.7 675.7,1875.5 676,1881.8 676.3,1877.9 676.6,1885.1 676.9,1878.3 677.2,1880.4 677.5,1881.1 677.8,1877.9 678.1,1879.5 678.4,1878.6 678.7,1884 679,1877.6 679.3,1878.2 679.6,1877.4 679.9,1878.6 680.2,1881.8 680.5,1878.9 680.8,1878.6 681.1,1877.7 681.4,1878.9 681.7,1882.5 682,1878.4 682.3,1883.5 682.6,1887.8 682.9,1879.4 683.2,1885.3 683.5,1874.6 683.8,1878.6 684.1,1882.4 684.4,1881.6 684.7,1876.8 685,1882.5 685.3,1889.5 685.6,1882.5 685.9,1875.9 686.3,1876.9 686.6,1877.3 686.9,1880.7 687.2,1885.8 687.5,1883.2 687.8,1887.5 688.1,1880.8 688.4,1881.7 688.7,1885.8 689,1880.2 689.3,1885.6 689.6,1884.6 689.9,1876.6 690.2,1878.9 690.5,1879.2 690.8,1878.8 691.1,1880.8 691.4,1877.4 691.7,1885 692,1882.3 692.3,1882.9 692.6,1883 692.9,1875.9 693.2,1883 693.5,1877.5 693.8,1886.4 694.1,1874.6 694.4,1884.2 694.7,1876.7 695,1880 695.3,1882.7 695.6,1875.9 695.9,1878.2 696.2,1882.2 696.5,1874.9 696.8,1872.5 697.1,1881.1 697.4,1883.1 697.8,1885.3 698.1,1881.5 698.4,1881 698.7,1883.8 699,1880.2 699.3,1882 699.6,1870.3 699.9,1879.9 700.2,1876.8 700.5,1876.3 700.8,1880.1 701.1,1879.1 701.4,1886 701.7,1885.8 702,1883 702.3,1887 702.6,1880.2 702.9,1873.3 703.2,1875.4 703.5,1881.7 703.8,1880.3 704.1,1880.1 704.4,1879.5 704.7,1872.8 705,1881.4 705.3,1881.4 705.6,1882.2 705.9,1878.6 706.2,1878.2 706.5,1881.9 706.8,1872.6 707.1,1878.7 707.4,1878.6 707.7,1884.7 708,1885 708.3,1885.7 708.6,1879.5 708.9,1877.8 709.3,1880.6 709.6,1882.6 709.9,1879 710.2,1869.9 710.5,1881.1 710.8,1878.4 711.1,1873.8 711.4,1876.8 711.7,1879 712,1878 712.3,1878.9 712.6,1880 712.9,1876.1 713.2,1881.9 713.5,1878.4 713.8,1874.5 714.1,1876 714.4,1876.6 714.7,1882.8 715,1880.3 715.3,1878.4 715.6,1879.9 715.9,1878.1 716.2,1878.5 716.5,1881.8 716.8,1880.5 717.1,1879.7 717.4,1879.5 717.7,1878.4 718,1882.2 718.3,1879.3 718.6,1881.8 718.9,1873.7 719.2,1884.5 719.5,1878.3 719.8,1875.9 720.1,1882.6 720.4,1884.5 720.8,1883.9 721.1,1882.3 721.4,1879.7 721.7,1879.6 722,1885.1 722.3,1878.7 722.6,1882.2 722.9,1883.7 723.2,1883.1 723.5,1872.8 723.8,1880 724.1,1871.8 724.4,1883.2 724.7,1882.4 725,1878.5 725.3,1875.2 725.6,1877.6 725.9,1876.2 726.2,1881.4 726.5,1879.7 726.8,1886 727.1,1876.8 727.4,1874.8 727.7,1887.1 728,1877.1 728.3,1874.5 728.6,1882 728.9,1885.4 729.2,1880.2 729.5,1881.5 729.8,1882.6 730.1,1877.5 730.4,1880.2 730.7,1883 731,1878.4 731.3,1886.8 731.6,1875 731.9,1876.4 732.3,1878.3 732.6,1877.3 732.9,1878.6 733.2,1882.3 733.5,1886.5 733.8,1874.4 734.1,1877.1 734.4,1874.9 734.7,1880.2 735,1877.7 735.3,1877 735.6,1878.3 735.9,1881.1 736.2,1877 736.5,1879.9 736.8,1875.3 737.1,1885.8 737.4,1879.8 737.7,1885 738,1886.8 738.3,1880.5 738.6,1874.6 738.9,1881.5 739.2,1876.2 739.5,1882.7 739.8,1877.3 740.1,1882 740.4,1881.3 740.7,1874.7 741,1885.3 741.3,1890.4 741.6,1876.6 741.9,1879.8 742.2,1876.6 742.5,1880.3 742.8,1880.2 743.1,1881.5 743.4,1883.1 743.8,1882.3 744.1,1876.7 744.4,1872.8 744.7,1879.6 745,1879.6 745.3,1882.7 745.6,1885.5 745.9,1881.2 746.2,1878.5 746.5,1880.4 746.8,1878.5 747.1,1880.6 747.4,1877.8 747.7,1881.7 748,1877.3 748.3,1875.6 748.6,1880.7 748.9,1881.6 749.2,1881.7 749.5,1875.8 749.8,1873.9 750.1,1874.8 750.4,1884.6 750.7,1883.1 751,1882 751.3,1885 751.6,1883.8 751.9,1884.7 752.2,1880.2 752.5,1886.7 752.8,1885.6 753.1,1876.9 753.4,1883.1 753.7,1885.8 754,1888.8 754.3,1878.6 754.6,1881.6 754.9,1881.6 755.3,1877.1 755.6,1879.7 755.9,1880.8 756.2,1875.3 756.5,1881.2 756.8,1878.2 757.1,1877.1 757.4,1877.2 757.7,1883.1 758,1883.8 758.3,1878.9 758.6,1879.3 758.9,1872.3 759.2,1880 759.5,1886.1 759.8,1882 760.1,1884.1 760.4,1880.6 760.7,1877.7 761,1880 761.3,1884.5 761.6,1883.1 761.9,1877 762.2,1877.3 762.5,1882.6 762.8,1881.5 763.1,1886 763.4,1876.9 763.7,1873.2 764,1880.2 764.3,1874.8 764.6,1878.4 764.9,1878.8 765.2,1880.3 765.5,1888 765.8,1882.7 766.1,1879 766.4,1877.5 766.8,1884.5 767.1,1879.7 767.4,1875.6 767.7,1881.5 768,1876.5 768.3,1882.1 768.6,1886.5 768.9,1876.3 769.2,1881.1 769.5,1878.7 769.8,1878.8 770.1,1883.9 770.4,1872.3 770.7,1877.3 771,1884.8 771.3,1877.8 771.6,1875.8 771.9,1878.5 772.2,1880.6 772.5,1881.3 772.8,1883 773.1,1885 773.4,1882.7 773.7,1881.8 774,1882 774.3,1876.2 774.6,1882.2 774.9,1884.9 775.2,1878.2 775.5,1882.1 775.8,1883.2 776.1,1880.3 776.4,1880.6 776.7,1876.3 777,1877.7 777.3,1881.7 777.6,1886 777.9,1876.3 778.3,1884.9 778.6,1879.2 778.9,1876.7 779.2,1871.9 779.5,1878.7 779.8,1881.4 780.1,1875.1 780.4,1879.4 780.7,1879.9 781,1881.7 781.3,1880.9 781.6,1880 781.9,1882.8 782.2,1881.4 782.5,1878.9 782.8,1878.5 783.1,1879 783.4,1871.6 783.7,1879.9 784,1876.6 784.3,1882.5 784.6,1880 784.9,1880.9 785.2,1877 785.5,1881.1 785.8,1879.4 786.1,1873.4 786.4,1873.1 786.7,1873.5 787,1880.5 787.3,1880.8 787.6,1879.6 787.9,1882.3 788.2,1882.2 788.5,1874.6 788.8,1876.4 789.1,1878.5 789.4,1881.4 789.8,1881.6 790.1,1876.7 790.4,1884.6 790.7,1881.1 791,1880.3 791.3,1879.4 791.6,1880.7 791.9,1872.7 792.2,1876.5 792.5,1876.8 792.8,1881.5 793.1,1881.3 793.4,1878.1 793.7,1893.1 794,1869.5 794.3,1876.5 794.6,1886.2 794.9,1882.1 795.2,1873.3 795.5,1882.2 795.8,1880.9 796.1,1883.8 796.4,1883.7 796.7,1879.2 797,1877 797.3,1877.7 797.6,1878.1 797.9,1874.8 798.2,1879.4 798.5,1878.6 798.8,1876.6 799.1,1869.7 799.4,1880.9 799.7,1875.8 800,1876.3 800.3,1882.5 800.6,1875.8 800.9,1882.6 801.3,1878.5 801.6,1872.2 801.9,1878.1 802.2,1876.6 802.5,1879.4 802.8,1877.9 803.1,1880.1 803.4,1881.5 803.7,1879.4 804,1883.1 804.3,1875.3 804.6,1878.7 804.9,1880.1 805.2,1880 805.5,1885 805.8,1877.8 806.1,1881.5 806.4,1878.4 806.7,1879 807,1874.3 807.3,1878.9 807.6,1876.7 807.9,1887 808.2,1876.7 808.5,1881.1 808.8,1884.2 809.1,1881.9 809.4,1876 809.7,1876.8 810,1884 810.3,1874.3 810.6,1878.9 810.9,1883.1 811.2,1872.6 811.5,1875.7 811.8,1875.2 812.1,1876.6 812.4,1880.8 812.8,1875 813.1,1876.2 813.4,1882.5 813.7,1882.2 814,1877.2 814.3,1875.1 814.6,1874 814.9,1879.6 815.2,1878.6 815.5,1881 815.8,1879.3 816.1,1879.7 816.4,1873 816.7,1880.9 817,1871.7 817.3,1883.9 817.6,1873.3 817.9,1877 818.2,1874.4 818.5,1883 818.8,1878 819.1,1880.8 819.4,1880.5 819.7,1874.6 820,1875.4 820.3,1874 820.6,1875.3 820.9,1880.7 821.2,1879.9 821.5,1880.5 821.8,1875 822.1,1874.6 822.4,1882.2 822.7,1879.4 823,1879 823.3,1877.7 823.6,1880.1 823.9,1882.3 824.3,1877 824.6,1876.2 824.9,1872.9 825.2,1877.1 825.5,1874.3 825.8,1872.4 826.1,1878.8 826.4,1878.9 826.7,1878.3 827,1872.3 827.3,1874.9 827.6,1876.2 827.9,1885.1 828.2,1879.8 828.5,1881.4 828.8,1877.8 829.1,1874.1 829.4,1885.1 829.7,1879" fill="none" stroke="#2fa6c4" stroke-width="1.5" />
<polyline points="545.7,2108.3 546.4,2104.4 547.2,2099.4 547.9,2094.5 548.7,2089.8 549.4,2084.8 550.2,2079.7 550.9,2074.8 551.7,2070.1 552.4,2065.6 553.1,2061.6 553.9,2057.6 554.6,2053.7 555.4,2049 556.1,2045.7 556.9,2042.2 557.6,2038.1 558.3,2034.4 559.1,2031 559.8,2027 560.6,2023.8 561.3,2020.2 562.1,2016.8 562.8,2013.7 563.6,2010 564.3,2007.1 565,2003.6 565.8,1999 566.5,1996 567.3,1993.8 568,1991.3 568.8,1985.4 569.5,1985.1 570.2,1981.4 571,1977.6 571.7,1977 572.5,1972.9 573.2,1971.3 574,1968.9 574.7,1965.3 575.5,1962.5 576.2,1961.3 576.9,1958.5 577.7,1956.9 578.4,1955.6 579.2,1950.5 579.9,1950.7 580.7,1945.2 581.4,1945.6 582.1,1944.9 582.9,1942.7 583.6,1940.7 584.4,1938 585.1,1937.7 585.9,1932.9 586.6,1933.6 587.4,1932.5 588.1,1930.6 588.8,1926.6 589.6,1927.9 590.3,1926.4 591.1,1924.2 591.8,1921.8 592.6,1916.3 593.3,1918.6 594,1912 594.8,1917.1 595.5,1916.1 596.3,1912.9 597,1910.5 597.8,1910 598.5,1910.8 599.3,1906.9 600,1904.2 600.9,1904.5 601.8,1900.7 602.7,1904.1 603.6,1902.1 604.5,1901.6 605.4,1897 606.4,1897.7 607.3,1895.9 608.2,1890.3 609.1,1894 610,1889.9 610.9,1892 611.8,1883.7 612.7,1886.2 613.6,1889.8 614.5,1880.8 615.4,1886 616.3,1886.5 617.3,1885 618.2,1884 619.1,1883.5 620,1877.6 620.9,1881.4 621.8,1879.7 622.7,1881.3 623.6,1876.3 624.5,1875.6 625.4,1878.5 626.3,1877.3 627.2,1877.9 628.1,1872.2 629.1,1871.5 630,1873 630.9,1875.7 631.8,1870.8 632.7,1871.8 633.6,1870.6 634.5,1873.3 635.4,1872.2 636.3,1870.3 637.2,1870.1 638.1,1865.5 639,1869.4 639.9,1869.1 640.9,1866 641.8,1866.4 642.7,1866.6 643.6,1866.7 644.5,1868.6 645.4,1867.7 646.3,1867.3 647.2,1865.5 648.1,1862.8 649,1865.1 649.9,1865.1 650.8,1865.7 651.8,1864 652.7,1863.8 653.6,1865.8 654.5,1861.9 655.4,1864.4 656.3,1862.7 657.2,1858.2 658.1,1862.4 659,1864.8 659.9,1860.6 660.8,1861.1 661.7,1863.4 662.6,1861.4 663.6,1857.6 664.5,1864.1 665.4,1861.8 666.3,1862.5 667.2,1861.7 668.1,1860.9 669,1857.1 669.9,1861 670.8,1861.3 671.7,1861.2 672.6,1862.7 673.5,1859.5 674.4,1856.3 675.4,1861.1 676.3,1861.4 677.2,1860.3 678.1,1862 679,1860.6 679.9,1859.4 680.8,1863 681.7,1862.9 682.6,1861.9 683.5,1857.9 684.4,1862.8 685.3,1862.5 686.3,1858.8 687.2,1863.6 688.1,1861.1 689,1861.1 689.9,1860.9 690.8,1860.7 691.7,1859.6 692.6,1859.9 693.5,1859.4 694.4,1862.6 695.3,1863.1 696.2,1861.7 697.1,1859.8 698.1,1857.3 699,1863 699.9,1850.3 700.8,1858.1 701.7,1853.2 702.6,1860.9 703.5,1861.2 704.4,1861.2 705.3,1861.9 706.2,1861.4 707.1,1863.4 708,1859 708.9,1862.6 709.9,1861.4 710.8,1862.1 711.7,1860.3 712.6,1860 713.5,1857.4 714.4,1861.5 715.3,1862.2 716.2,1859.9 717.1,1863.5 718,1862.5 718.9,1860.1 719.8,1860.5 720.8,1862.7 721.7,1862.9 722.6,1859.6 723.5,1856.8 724.4,1860.3 725.3,1860.7 726.2,1857.8 727.1,1862.4 728,1854.5 728.9,1863.6 729.8,1863.2 730.7,1859.3 731.6,1858.9 732.6,1859.9 733.5,1862.7 734.4,1859.9 735.3,1862.2 736.2,1856.3 737.1,1863.5 738,1862.3 738.9,1863.5 739.8,1860.7 740.7,1862.5 741.6,1859.8 742.5,1862 743.4,1857.5 744.4,1863.3 745.3,1862.2 746.2,1859.8 747.1,1862.3 748,1859.9 748.9,1863.3 749.8,1857.6 750.7,1859.7 751.6,1860 752.5,1855 753.4,1863.5 754.3,1862.8 755.3,1862.2 756.2,1863.2 757.1,1858.4 758,1862.4 758.9,1859.8 759.8,1863.1 760.7,1861.9 761.6,1856.1 762.5,1863.1 763.4,1863.5 764.3,1860.5 765.2,1863.2 766.1,1862.8 767.1,1863.4 768,1862 768.9,1857.4 769.8,1861 770.7,1859.6 771.6,1860.5 772.5,1863.4 773.4,1859.4 774.3,1863.3 775.2,1863.2 776.1,1859.7 777,1862.4 777.9,1855.5 778.9,1858.6 779.8,1861.9 780.7,1861.6 781.6,1862.3 782.5,1861.2 783.4,1861.6 784.3,1861.1 785.2,1861.6 786.1,1857 787,1863.3 787.9,1857.2 788.8,1857.8 789.8,1862.6 790.7,1861.7 791.6,1854.9 792.5,1861.7 793.4,1861.8 794.3,1859.7 795.2,1858.3 796.1,1862.4 797,1860.3 797.9,1859.3 798.8,1860.1 799.7,1850 800.6,1862.5 801.6,1859.8 802.5,1861.4 803.4,1862.7 804.3,1857.5 805.2,1862.1 806.1,1862.2 807,1858.9 807.9,1861.1 808.8,1860 809.7,1862.5 810.6,1859.6 811.5,1859.1 812.4,1861.3 813.4,1859.5 814.3,1859.3 815.2,1857.6 816.1,1860.9 817,1855.1 817.9,1858 818.8,1859 819.7,1862.1 820.6,1860.1 821.5,1856.2 822.4,1854.1 823.3,1856.1 824.3,1857.7 825.2,1854.8 826.1,1852 827,1858.3 827.9,1861.2 828.8,1857.1 829.7,1860.2" fill="none" stroke="#27a0be" stroke-width="1.3" stroke-dasharray="3 6" opacity="0.9"/>
<polyline points="542.1,2099.3 542.3,2111.6 542.6,2102 542.8,2116.4 543.1,2107.1 543.3,2092.8 543.6,2093.4 543.8,2090.7 544.1,2101.8 544.3,2106.6 544.6,2095.8 544.8,2087.1 545.1,2099 545.3,2087.6 545.6,2089.3 545.8,2076.3 546.1,2084.6 546.3,2085.1 546.6,2072 546.8,2084.8 547.1,2082.4 547.3,2080.8 547.6,2048.9 547.8,2085.5 548.1,2067.9 548.3,2068.3 548.5,2058.5 548.8,2063.6 549,2063 549.3,2071.7 549.5,2054.3 549.8,2063 550,2063 550.3,2056.9 550.5,2057 550.8,2058.6 551,2043.3 551.3,2050.8 551.5,2048.1 551.8,2052.2 552,2064.7 552.3,2042.3 552.5,2060.6 552.8,2041.8 553,2045.2 553.3,2047.1 553.5,2029.3 553.8,2052.8 554,2041.2 554.2,2040.2 554.5,2050.8 554.7,2034.1 555,2037.6 555.2,2023.6 555.5,2037.2 555.7,2030.1 556,2028.2 556.2,2027.2 556.5,2034 556.7,2022.7 557,2030.8 557.2,2026.2 557.5,2008.8 557.7,2024.8 558,2023.6 558.2,2015.2 558.5,2014.3 558.7,2017.3 559,2020.1 559.2,2018.6 559.5,2004.2 559.7,2013.3 560,2002.2 560.2,2012.2 560.4,2012.4 560.7,2003.3 560.9,2005.5 561.2,1990.3 561.4,2002.6 561.7,1989.3 561.9,2002.1 562.2,2004.2 562.4,2002 562.7,2007.1 562.9,2000.9 563.2,2000.1 563.4,1995.4 563.7,2001.4 563.9,1991.4 564.2,2006.2 564.4,1991.9 564.7,1996.2 564.9,1991.1 565.2,1997 565.4,1984.6 565.7,1991.9 565.9,1982.3 566.2,1998.6 566.4,1982 566.6,1984 566.9,1975.4 567.1,1978.7 567.4,1974.1 567.6,1971.4 567.9,1987.5 568.1,1971.9 568.4,1972 568.6,1980 568.9,1994.3 569.1,1959.6 569.4,1980.6 569.6,1974.6 569.9,1978.9 570.1,1971.5 570.4,1976.1 570.6,1978.6 570.9,1966 571.1,1954.7 571.4,1958.4 571.6,1966.3 571.9,1969.5 572.1,1970.7 572.3,1958.3 572.6,1964.1 572.8,1961.3 573.1,1965.7 573.3,1964.1 573.6,1956 573.8,1968.3 574.1,1952.9 574.3,1973 574.6,1958.7 574.8,1962.4 575.1,1956.2 575.3,1964 575.6,1949.9 575.8,1945.6 576.1,1960.2 576.3,1937.9 576.6,1941.9 576.8,1958.7 577.1,1955 577.3,1957 577.6,1942.5 577.8,1926.7 578.1,1936 578.3,1940.4 578.5,1967.6 578.8,1935.5 579,1945.2 579.3,1944.7 579.5,1954.4 579.8,1948.3 580,1945.4 580.3,1952.1 580.5,1939.2 580.8,1947 581,1946.4 581.3,1932.8" fill="none" stroke="#27a0be" stroke-width="3.4" />
<polyline points="545.7,2108.3 545.9,2107.4 546.2,2106.1 546.4,2104.5 546.7,2102.9 546.9,2101.3 547.2,2099.7 547.4,2098.1 547.7,2096.5 547.9,2094.9 548.2,2093.3 548.4,2091.7 548.7,2090.1 548.9,2088.5 549.2,2086.9 549.4,2085.3 549.7,2083.7 549.9,2082.1 550.2,2080.5 550.4,2078.9 550.7,2077.3 550.9,2075.6 551.2,2074 551.4,2072.4 551.7,2070.8 551.9,2069.2 552.1,2067.7 552.4,2066.2 552.6,2064.9 552.9,2063.5 553.1,2062.3 553.4,2061 553.6,2059.8 553.9,2058.5 554.1,2057.3 554.4,2056 554.6,2054.8 554.9,2053.5 555.1,2052.3 555.4,2051 555.6,2049.8 555.9,2048.5 556.1,2047.3 556.4,2046 556.6,2044.8 556.9,2043.5 557.1,2042.3 557.4,2041 557.6,2039.8 557.8,2038.5 558.1,2037.3 558.3,2036 558.6,2034.8 558.8,2033.5 559.1,2032.3 559.3,2031 559.6,2029.8 559.8,2028.6 560.1,2027.5 560.3,2026.4 560.6,2025.3 560.8,2024.2 561.1,2023.1 561.3,2022.1 561.6,2021 561.8,2019.9 562.1,2018.8 562.3,2017.7 562.6,2016.6 562.8,2015.5 563.1,2014.5 563.3,2013.4 563.6,2012.3 563.8,2011.2 564,2010.1 564.3,2009 564.5,2008 564.8,2006.9 565,2005.8 565.3,2004.7 565.5,2003.6 565.8,2002.5 566,2001.4 566.3,2000.4 566.5,1999.3 566.8,1998.2 567,1997.1 567.3,1996.1 567.5,1995.2 567.8,1994.2 568,1993.3 568.3,1992.4 568.5,1991.6 568.8,1990.7 569,1989.8 569.3,1988.9 569.5,1988 569.8,1987.1 570,1986.2 570.2,1985.3 570.5,1984.4 570.7,1983.6 571,1982.7 571.2,1981.8 571.5,1980.9 571.7,1980 572,1979.1 572.2,1978.2 572.5,1977.3 572.7,1976.4 573,1975.5 573.2,1974.7 573.5,1973.8 573.7,1972.9 574,1972 574.2,1971.1 574.5,1970.2 574.7,1969.4 575,1968.6 575.2,1967.9 575.5,1967.2 575.7,1966.5 575.9,1965.8 576.2,1965.1 576.4,1964.4 576.7,1963.7 576.9,1963 577.2,1962.3 577.4,1961.6 577.7,1960.9 577.9,1960.2 578.2,1959.5 578.4,1958.8 578.7,1958.1 578.9,1957.4 579.2,1956.7 579.4,1956 579.7,1955.2 579.9,1954.5 580.2,1953.8 580.4,1953.1 580.7,1952.4 580.9,1951.7 581.2,1951 581.4,1950.3 581.7,1949.6 581.9,1949 582.1,1948.3 582.4,1947.7 582.6,1947.1 582.9,1946.6 583.1,1946 583.4,1945.5 583.6,1945 583.9,1944.4 584.1,1943.9 584.4,1943.3 584.6,1942.8 584.9,1942.2 585.1,1941.7 585.4,1941.2 585.6,1940.6 585.9,1940.1 586.1,1939.5 586.4,1939 586.6,1938.5 586.9,1937.9 587.1,1937.4 587.4,1936.8 587.6,1936.3 587.9,1935.7 588.1,1935.2 588.3,1934.7 588.6,1934.1 588.8,1933.6 589.1,1933 589.3,1932.5 589.6,1932 589.8,1931.5 590.1,1931 590.3,1930.6 590.6,1930.1 590.8,1929.7 591.1,1929.2 591.3,1928.8 591.6,1928.3 591.8,1927.9 592.1,1927.4 592.3,1927 592.6,1926.5 592.8,1926.1 593.1,1925.6 593.3,1925.2 593.6,1924.7 593.8,1924.3 594,1923.8 594.3,1923.4 594.5,1922.9 594.8,1922.5 595,1922 595.3,1921.6 595.5,1921.1 595.8,1920.7 596,1920.2 596.3,1919.8 596.5,1919.3 596.8,1918.9 597,1918.5 597.3,1918.1 597.5,1917.7 597.8,1917.3 598,1916.9 598.3,1916.6 598.5,1916.2 598.8,1915.8 599,1915.5 599.3,1915.1 599.5,1914.7 599.8,1914.3 600,1913.9 600.3,1913.5 600.6,1913.1 600.9,1912.6 601.2,1912.2 601.5,1911.7 601.8,1911.3 602.1,1910.8 602.4,1910.4 602.7,1909.9 603,1909.4 603.3,1909 603.6,1908.5 603.9,1908.1 604.2,1907.7 604.5,1907.2 604.8,1906.8 605.1,1906.5 605.4,1906.1 605.8,1905.7 606.1,1905.4 606.4,1905 606.7,1904.7 607,1904.3 607.3,1903.9 607.6,1903.6 607.9,1903.2 608.2,1902.9 608.5,1902.5 608.8,1902.1 609.1,1901.8 609.4,1901.4 609.7,1901.1 610,1900.7 610.3,1900.3 610.6,1900 610.9,1899.6 611.2,1899.3 611.5,1898.9 611.8,1898.6 612.1,1898.2 612.4,1897.9 612.7,1897.6 613,1897.3 613.3,1897 613.6,1896.7 613.9,1896.4 614.2,1896 614.5,1895.7 614.8,1895.4 615.1,1895.1 615.4,1894.8 615.7,1894.5 616,1894.2 616.3,1893.9 616.6,1893.6 616.9,1893.3 617.3,1893 617.6,1892.7 617.9,1892.4 618.2,1892.1 618.5,1891.8 618.8,1891.4 619.1,1891.1 619.4,1890.9 619.7,1890.6 620,1890.3 620.3,1890.1 620.6,1889.8 620.9,1889.6 621.2,1889.4 621.5,1889.1 621.8,1888.9 622.1,1888.6 622.4,1888.4 622.7,1888.1 623,1887.9 623.3,1887.7 623.6,1887.4 623.9,1887.2 624.2,1886.9 624.5,1886.7 624.8,1886.4 625.1,1886.2 625.4,1886 625.7,1885.7 626,1885.5 626.3,1885.2 626.6,1885 626.9,1884.8 627.2,1884.6 627.5,1884.4 627.8,1884.2 628.1,1884 628.4,1883.8 628.8,1883.7 629.1,1883.5 629.4,1883.3 629.7,1883.1 630,1882.9 630.3,1882.8 630.6,1882.6 630.9,1882.4 631.2,1882.2 631.5,1882 631.8,1881.9 632.1,1881.7 632.4,1881.5 632.7,1881.3 633,1881.1 633.3,1881 633.6,1880.8 633.9,1880.6 634.2,1880.4 634.5,1880.3 634.8,1880.1 635.1,1879.9 635.4,1879.8 635.7,1879.6 636,1879.5 636.3,1879.3 636.6,1879.2 636.9,1879 637.2,1878.9 637.5,1878.7 637.8,1878.6 638.1,1878.4 638.4,1878.3 638.7,1878.1 639,1877.9 639.3,1877.8 639.6,1877.6 639.9,1877.5 640.3,1877.3 640.6,1877.2 640.9,1877 641.2,1876.9 641.5,1876.7 641.8,1876.6 642.1,1876.5 642.4,1876.3 642.7,1876.2 643,1876.1 643.3,1876 643.6,1875.9 643.9,1875.8 644.2,1875.7 644.5,1875.6 644.8,1875.5 645.1,1875.4 645.4,1875.3 645.7,1875.2 646,1875.1 646.3,1875 646.6,1874.9 646.9,1874.8 647.2,1874.7 647.5,1874.6 647.8,1874.5 648.1,1874.4 648.4,1874.3 648.7,1874.2 649,1874.1 649.3,1874 649.6,1873.9 649.9,1873.9 650.2,1873.8 650.5,1873.7 650.8,1873.6 651.1,1873.6 651.4,1873.5 651.8,1873.4 652.1,1873.3 652.4,1873.2 652.7,1873.2 653,1873.1 653.3,1873 653.6,1872.9 653.9,1872.9 654.2,1872.8 654.5,1872.7 654.8,1872.6 655.1,1872.5 655.4,1872.5 655.7,1872.4 656,1872.3 656.3,1872.2 656.6,1872.2 656.9,1872.1 657.2,1872 657.5,1872 657.8,1872 658.1,1871.9 658.4,1871.9 658.7,1871.8 659,1871.8 659.3,1871.7 659.6,1871.7 659.9,1871.6 660.2,1871.6 660.5,1871.6 660.8,1871.5 661.1,1871.5 661.4,1871.4 661.7,1871.4 662,1871.3 662.3,1871.3 662.6,1871.2 662.9,1871.2 663.3,1871.2 663.6,1871.1 663.9,1871.1 664.2,1871 664.5,1871 664.8,1871 665.1,1871 665.4,1870.9 665.7,1870.9 666,1870.9 666.3,1870.9 666.6,1870.9 666.9,1870.9 667.2,1870.9 667.5,1870.9 667.8,1870.8 668.1,1870.8 668.4,1870.8 668.7,1870.8 669,1870.8 669.3,1870.8 669.6,1870.8 669.9,1870.7 670.2,1870.7 670.5,1870.7 670.8,1870.7 671.1,1870.7 671.4,1870.7 671.7,1870.7 672,1870.6 672.3,1870.6 672.6,1870.6 672.9,1870.6 673.2,1870.6 673.5,1870.6 673.8,1870.6 674.1,1870.5 674.4,1870.5 674.8,1870.5 675.1,1870.5 675.4,1870.5 675.7,1870.5 676,1870.5 676.3,1870.4 676.6,1870.4 676.9,1870.4 677.2,1870.4 677.5,1870.4 677.8,1870.4 678.1,1870.4 678.4,1870.3 678.7,1870.3 679,1870.3 679.3,1870.3 679.6,1870.3 679.9,1870.3 680.2,1870.3 680.5,1870.3 680.8,1870.3 681.1,1870.3 681.4,1870.3 681.7,1870.3 682,1870.3 682.3,1870.3 682.6,1870.3 682.9,1870.3 683.2,1870.3 683.5,1870.3 683.8,1870.3 684.1,1870.3 684.4,1870.3 684.7,1870.3 685,1870.3 685.3,1870.3 685.6,1870.3 685.9,1870.3 686.3,1870.3 686.6,1870.3 686.9,1870.3 687.2,1870.3 687.5,1870.3 687.8,1870.3 688.1,1870.3 688.4,1870.3 688.7,1870.3 689,1870.3 689.3,1870.3 689.6,1870.3 689.9,1870.3 690.2,1870.3 690.5,1870.3 690.8,1870.3 691.1,1870.3 691.4,1870.3 691.7,1870.3 692,1870.3 692.3,1870.3 692.6,1870.3 692.9,1870.3 693.2,1870.3 693.5,1870.3 693.8,1870.3 694.1,1870.3 694.4,1870.3 694.7,1870.3 695,1870.3 695.3,1870.3 695.6,1870.3 695.9,1870.3 696.2,1870.3 696.5,1870.3 696.8,1870.3 697.1,1870.3 697.4,1870.3 697.8,1870.3 698.1,1870.3 698.4,1870.3 698.7,1870.3 699,1870.3 699.3,1870.3 699.6,1870.3 699.9,1870.3 700.2,1870.3 700.5,1870.3 700.8,1870.3 701.1,1870.3 701.4,1870.3 701.7,1870.3 702,1870.3 702.3,1870.3 702.6,1870.3 702.9,1870.3 703.2,1870.3 703.5,1870.3 703.8,1870.3 704.1,1870.3 704.4,1870.3 704.7,1870.3 705,1870.3 705.3,1870.3 705.6,1870.3 705.9,1870.3 706.2,1870.3 706.5,1870.3 706.8,1870.3 707.1,1870.3 707.4,1870.3 707.7,1870.3 708,1870.3 708.3,1870.3 708.6,1870.3 708.9,1870.3 709.3,1870.3 709.6,1870.3 709.9,1870.3 710.2,1870.3 710.5,1870.3 710.8,1870.3 711.1,1870.3 711.4,1870.3 711.7,1870.3 712,1870.3 712.3,1870.3 712.6,1870.3 712.9,1870.3 713.2,1870.3 713.5,1870.3 713.8,1870.3 714.1,1870.3 714.4,1870.3 714.7,1870.3 715,1870.3 715.3,1870.3 715.6,1870.3 715.9,1870.3 716.2,1870.3 716.5,1870.3 716.8,1870.3 717.1,1870.3 717.4,1870.3 717.7,1870.4 718,1870.4 718.3,1870.4 718.6,1870.4 718.9,1870.4 719.2,1870.4 719.5,1870.4 719.8,1870.4 720.1,1870.4 720.4,1870.4 720.8,1870.4 721.1,1870.4 721.4,1870.4 721.7,1870.4 722,1870.4 722.3,1870.4 722.6,1870.4 722.9,1870.4 723.2,1870.4 723.5,1870.4 723.8,1870.4 724.1,1870.4 724.4,1870.4 724.7,1870.4 725,1870.4 725.3,1870.4 725.6,1870.4 725.9,1870.4 726.2,1870.4 726.5,1870.4 726.8,1870.4 727.1,1870.4 727.4,1870.4 727.7,1870.4 728,1870.4 728.3,1870.4 728.6,1870.4 728.9,1870.4 729.2,1870.4 729.5,1870.4 729.8,1870.4 730.1,1870.4 730.4,1870.4 730.7,1870.4 731,1870.4 731.3,1870.4 731.6,1870.4 731.9,1870.4 732.3,1870.4 732.6,1870.4 732.9,1870.4 733.2,1870.4 733.5,1870.4 733.8,1870.4 734.1,1870.4 734.4,1870.4 734.7,1870.5 735,1870.5 735.3,1870.5 735.6,1870.5 735.9,1870.5 736.2,1870.5 736.5,1870.5 736.8,1870.5 737.1,1870.5 737.4,1870.5 737.7,1870.5 738,1870.5 738.3,1870.5 738.6,1870.5 738.9,1870.5 739.2,1870.5 739.5,1870.5 739.8,1870.5 740.1,1870.5 740.4,1870.5 740.7,1870.5 741,1870.5 741.3,1870.5 741.6,1870.5 741.9,1870.5 742.2,1870.5 742.5,1870.5 742.8,1870.5 743.1,1870.5 743.4,1870.5 743.8,1870.5 744.1,1870.5 744.4,1870.5 744.7,1870.5 745,1870.5 745.3,1870.5 745.6,1870.5 745.9,1870.5 746.2,1870.5 746.5,1870.5 746.8,1870.5 747.1,1870.5 747.4,1870.5 747.7,1870.5 748,1870.5 748.3,1870.5 748.6,1870.5 748.9,1870.5 749.2,1870.5 749.5,1870.5 749.8,1870.5 750.1,1870.5 750.4,1870.5 750.7,1870.5 751,1870.5 751.3,1870.5 751.6,1870.6 751.9,1870.6 752.2,1870.6 752.5,1870.6 752.8,1870.6 753.1,1870.6 753.4,1870.6 753.7,1870.6 754,1870.6 754.3,1870.6 754.6,1870.6 754.9,1870.6 755.3,1870.6 755.6,1870.6 755.9,1870.6 756.2,1870.6 756.5,1870.6 756.8,1870.6 757.1,1870.6 757.4,1870.6 757.7,1870.6 758,1870.6 758.3,1870.6 758.6,1870.6 758.9,1870.6 759.2,1870.6 759.5,1870.6 759.8,1870.6 760.1,1870.6 760.4,1870.6 760.7,1870.6 761,1870.6 761.3,1870.6 761.6,1870.6 761.9,1870.6 762.2,1870.5 762.5,1870.5 762.8,1870.5 763.1,1870.5 763.4,1870.5 763.7,1870.5 764,1870.5 764.3,1870.5 764.6,1870.5 764.9,1870.5 765.2,1870.5 765.5,1870.5 765.8,1870.5 766.1,1870.4 766.4,1870.4 766.8,1870.4 767.1,1870.4 767.4,1870.4 767.7,1870.4 768,1870.4 768.3,1870.4 768.6,1870.4 768.9,1870.4 769.2,1870.4 769.5,1870.4 769.8,1870.4 770.1,1870.3 770.4,1870.3 770.7,1870.3 771,1870.3 771.3,1870.3 771.6,1870.3 771.9,1870.3 772.2,1870.3 772.5,1870.3 772.8,1870.3 773.1,1870.3 773.4,1870.3 773.7,1870.3 774,1870.2 774.3,1870.2 774.6,1870.2 774.9,1870.2 775.2,1870.2 775.5,1870.2 775.8,1870.2 776.1,1870.2 776.4,1870.2 776.7,1870.2 777,1870.2 777.3,1870.2 777.6,1870.2 777.9,1870.2 778.3,1870.1 778.6,1870.1 778.9,1870.1 779.2,1870.1 779.5,1870.1 779.8,1870.1 780.1,1870.1 780.4,1870.1 780.7,1870.1 781,1870.1 781.3,1870.1 781.6,1870.1 781.9,1870.1 782.2,1870 782.5,1870 782.8,1870 783.1,1870 783.4,1870 783.7,1870 784,1870 784.3,1870 784.6,1870 784.9,1870 785.2,1870 785.5,1870 785.8,1870 786.1,1869.9 786.4,1869.9 786.7,1869.9 787,1869.9 787.3,1869.9 787.6,1869.9 787.9,1869.9 788.2,1869.9 788.5,1869.9 788.8,1869.9 789.1,1869.9 789.4,1869.9 789.8,1869.9 790.1,1869.8 790.4,1869.8 790.7,1869.8 791,1869.8 791.3,1869.8 791.6,1869.8 791.9,1869.8 792.2,1869.8 792.5,1869.8 792.8,1869.8 793.1,1869.8 793.4,1869.8 793.7,1869.8 794,1869.8 794.3,1869.7 794.6,1869.7 794.9,1869.7 795.2,1869.7 795.5,1869.7 795.8,1869.7 796.1,1869.7 796.4,1869.7 796.7,1869.7 797,1869.7 797.3,1869.7 797.6,1869.7 797.9,1869.7 798.2,1869.6 798.5,1869.6 798.8,1869.6 799.1,1869.6 799.4,1869.6 799.7,1869.6 800,1869.6 800.3,1869.6 800.6,1869.6 800.9,1869.6 801.3,1869.6 801.6,1869.5 801.9,1869.5 802.2,1869.5 802.5,1869.5 802.8,1869.5 803.1,1869.5 803.4,1869.5 803.7,1869.5 804,1869.5 804.3,1869.5 804.6,1869.4 804.9,1869.4 805.2,1869.4 805.5,1869.4 805.8,1869.4 806.1,1869.4 806.4,1869.4 806.7,1869.4 807,1869.4 807.3,1869.4 807.6,1869.3 807.9,1869.3 808.2,1869.3 808.5,1869.3 808.8,1869.3 809.1,1869.3 809.4,1869.3 809.7,1869.3 810,1869.3 810.3,1869.3 810.6,1869.2 810.9,1869.2 811.2,1869.2 811.5,1869.2 811.8,1869.2 812.1,1869.2 812.4,1869.2 812.8,1869.2 813.1,1869.2 813.4,1869.2 813.7,1869.1 814,1869.1 814.3,1869.1 814.6,1869.1 814.9,1869.1 815.2,1869.1 815.5,1869.1 815.8,1869.1 816.1,1869.1 816.4,1869 816.7,1869 817,1869 817.3,1869 817.6,1869 817.9,1869 818.2,1869 818.5,1869 818.8,1869 819.1,1869 819.4,1868.9 819.7,1868.9 820,1868.9 820.3,1868.9 820.6,1868.9 820.9,1868.9 821.2,1868.9 821.5,1868.9 821.8,1868.9 822.1,1868.9 822.4,1868.8 822.7,1868.8 823,1868.8 823.3,1868.8 823.6,1868.8 823.9,1868.8 824.3,1868.8 824.6,1868.8 824.9,1868.8 825.2,1868.8 825.5,1868.7 825.8,1868.7 826.1,1868.7 826.4,1868.7 826.7,1868.7 827,1868.7 827.3,1868.7 827.6,1868.7 827.9,1868.7 828.2,1868.7 828.5,1868.6 828.8,1868.6 829.1,1868.6 829.4,1868.6 829.7,1868.6" fill="none" stroke="#fdb813" stroke-width="9.0" />
<polyline points="545.7,2104 545.9,2103.1 546.2,2101.8 546.4,2100.2 546.7,2098.6 546.9,2097 547.2,2095.4 547.4,2093.8 547.7,2092.2 547.9,2090.6 548.2,2089 548.4,2087.4 548.7,2085.8 548.9,2084.2 549.2,2082.6 549.4,2081 549.7,2079.4 549.9,2077.8 550.2,2076.2 550.4,2074.6 550.7,2073 550.9,2071.3 551.2,2069.7 551.4,2068.1 551.7,2066.5 551.9,2064.9 552.1,2063.4 552.4,2061.9 552.6,2060.6 552.9,2059.2 553.1,2058 553.4,2056.7 553.6,2055.5 553.9,2054.2 554.1,2053 554.4,2051.7 554.6,2050.5 554.9,2049.2 555.1,2048 555.4,2046.7 555.6,2045.5 555.9,2044.2 556.1,2043 556.4,2041.7 556.6,2040.5 556.9,2039.2 557.1,2038 557.4,2036.7 557.6,2035.5 557.8,2034.2 558.1,2033 558.3,2031.7 558.6,2030.5 558.8,2029.2 559.1,2028 559.3,2026.7 559.6,2025.5 559.8,2024.3 560.1,2023.2 560.3,2022.1 560.6,2021 560.8,2019.9 561.1,2018.8 561.3,2017.8 561.6,2016.7 561.8,2015.6 562.1,2014.5 562.3,2013.4 562.6,2012.3 562.8,2011.2 563.1,2010.2 563.3,2009.1 563.6,2008 563.8,2006.9 564,2005.8 564.3,2004.7 564.5,2003.7 564.8,2002.6 565,2001.5 565.3,2000.4 565.5,1999.3 565.8,1998.2 566,1997.1 566.3,1996.1 566.5,1995 566.8,1993.9 567,1992.8 567.3,1991.8 567.5,1990.9 567.8,1989.9 568,1989 568.3,1988.1 568.5,1987.3 568.8,1986.4 569,1985.5 569.3,1984.6 569.5,1983.7 569.8,1982.8 570,1981.9 570.2,1981 570.5,1980.1 570.7,1979.3 571,1978.4 571.2,1977.5 571.5,1976.6 571.7,1975.7 572,1974.8 572.2,1973.9 572.5,1973 572.7,1972.1 573,1971.2 573.2,1970.4 573.5,1969.5 573.7,1968.6 574,1967.7 574.2,1966.8 574.5,1965.9 574.7,1965.1 575,1964.3 575.2,1963.6 575.5,1962.9 575.7,1962.2 575.9,1961.5 576.2,1960.8 576.4,1960.1 576.7,1959.4 576.9,1958.7 577.2,1958 577.4,1957.3 577.7,1956.6 577.9,1955.9 578.2,1955.2 578.4,1954.5 578.7,1953.8 578.9,1953.1 579.2,1952.4 579.4,1951.7 579.7,1950.9 579.9,1950.2 580.2,1949.5 580.4,1948.8 580.7,1948.1 580.9,1947.4 581.2,1946.7 581.4,1946 581.7,1945.3 581.9,1944.7 582.1,1944 582.4,1943.4 582.6,1942.8 582.9,1942.3 583.1,1941.7 583.4,1941.2 583.6,1940.7 583.9,1940.1 584.1,1939.6 584.4,1939 584.6,1938.5 584.9,1937.9 585.1,1937.4 585.4,1936.9 585.6,1936.3 585.9,1935.8 586.1,1935.2 586.4,1934.7 586.6,1934.2 586.9,1933.6 587.1,1933.1 587.4,1932.5 587.6,1932 587.9,1931.4 588.1,1930.9 588.3,1930.4 588.6,1929.8 588.8,1929.3 589.1,1928.7 589.3,1928.2 589.6,1927.7 589.8,1927.2 590.1,1926.7 590.3,1926.3 590.6,1925.8 590.8,1925.4 591.1,1924.9 591.3,1924.5 591.6,1924 591.8,1923.6 592.1,1923.1 592.3,1922.7 592.6,1922.2 592.8,1921.8 593.1,1921.3 593.3,1920.9 593.6,1920.4 593.8,1920 594,1919.5 594.3,1919.1 594.5,1918.6 594.8,1918.2 595,1917.7 595.3,1917.3 595.5,1916.8 595.8,1916.4 596,1915.9 596.3,1915.5 596.5,1915 596.8,1914.6 597,1914.2 597.3,1913.8 597.5,1913.4 597.8,1913 598,1912.6 598.3,1912.3 598.5,1911.9 598.8,1911.5 599,1911.2 599.3,1910.8 599.5,1910.4 599.8,1910 600,1909.6 600.3,1909.2 600.6,1908.8 600.9,1908.3 601.2,1907.9 601.5,1907.4 601.8,1907 602.1,1906.5 602.4,1906.1 602.7,1905.6 603,1905.1 603.3,1904.7 603.6,1904.2 603.9,1903.8 604.2,1903.4 604.5,1902.9 604.8,1902.5 605.1,1902.2 605.4,1901.8 605.8,1901.4 606.1,1901.1 606.4,1900.7 606.7,1900.4 607,1900 607.3,1899.6 607.6,1899.3 607.9,1898.9 608.2,1898.6 608.5,1898.2 608.8,1897.8 609.1,1897.5 609.4,1897.1 609.7,1896.8 610,1896.4 610.3,1896 610.6,1895.7 610.9,1895.3 611.2,1895 611.5,1894.6 611.8,1894.3 612.1,1893.9 612.4,1893.6 612.7,1893.3 613,1893 613.3,1892.7 613.6,1892.4 613.9,1892.1 614.2,1891.7 614.5,1891.4 614.8,1891.1 615.1,1890.8 615.4,1890.5 615.7,1890.2 616,1889.9 616.3,1889.6 616.6,1889.3 616.9,1889 617.3,1888.7 617.6,1888.4 617.9,1888.1 618.2,1887.8 618.5,1887.5 618.8,1887.1 619.1,1886.8 619.4,1886.6 619.7,1886.3 620,1886 620.3,1885.8 620.6,1885.5 620.9,1885.3 621.2,1885.1 621.5,1884.8 621.8,1884.6 622.1,1884.3 622.4,1884.1 622.7,1883.8 623,1883.6 623.3,1883.4 623.6,1883.1 623.9,1882.9 624.2,1882.6 624.5,1882.4 624.8,1882.1 625.1,1881.9 625.4,1881.7 625.7,1881.4 626,1881.2 626.3,1880.9 626.6,1880.7 626.9,1880.5 627.2,1880.3 627.5,1880.1 627.8,1879.9 628.1,1879.7 628.4,1879.5 628.8,1879.4 629.1,1879.2 629.4,1879 629.7,1878.8 630,1878.6 630.3,1878.5 630.6,1878.3 630.9,1878.1 631.2,1877.9 631.5,1877.7 631.8,1877.6 632.1,1877.4 632.4,1877.2 632.7,1877 633,1876.8 633.3,1876.7 633.6,1876.5 633.9,1876.3 634.2,1876.1 634.5,1876 634.8,1875.8 635.1,1875.6 635.4,1875.5 635.7,1875.3 636,1875.2 636.3,1875 636.6,1874.9 636.9,1874.7 637.2,1874.6 637.5,1874.4 637.8,1874.3 638.1,1874.1 638.4,1874 638.7,1873.8 639,1873.6 639.3,1873.5 639.6,1873.3 639.9,1873.2 640.3,1873 640.6,1872.9 640.9,1872.7 641.2,1872.6 641.5,1872.4 641.8,1872.3 642.1,1872.2 642.4,1872 642.7,1871.9 643,1871.8 643.3,1871.7 643.6,1871.6 643.9,1871.5 644.2,1871.4 644.5,1871.3 644.8,1871.2 645.1,1871.1 645.4,1871 645.7,1870.9 646,1870.8 646.3,1870.7 646.6,1870.6 646.9,1870.5 647.2,1870.4 647.5,1870.3 647.8,1870.2 648.1,1870.1 648.4,1870 648.7,1869.9 649,1869.8 649.3,1869.7 649.6,1869.6 649.9,1869.6 650.2,1869.5 650.5,1869.4 650.8,1869.3 651.1,1869.3 651.4,1869.2 651.8,1869.1 652.1,1869 652.4,1868.9 652.7,1868.9 653,1868.8 653.3,1868.7 653.6,1868.6 653.9,1868.6 654.2,1868.5 654.5,1868.4 654.8,1868.3 655.1,1868.2 655.4,1868.2 655.7,1868.1 656,1868 656.3,1867.9 656.6,1867.9 656.9,1867.8 657.2,1867.7 657.5,1867.7 657.8,1867.7 658.1,1867.6 658.4,1867.6 658.7,1867.5 659,1867.5 659.3,1867.4 659.6,1867.4 659.9,1867.3 660.2,1867.3 660.5,1867.3 660.8,1867.2 661.1,1867.2 661.4,1867.1 661.7,1867.1 662,1867 662.3,1867 662.6,1866.9 662.9,1866.9 663.3,1866.9 663.6,1866.8 663.9,1866.8 664.2,1866.7 664.5,1866.7 664.8,1866.7 665.1,1866.7 665.4,1866.6 665.7,1866.6 666,1866.6 666.3,1866.6 666.6,1866.6 666.9,1866.6 667.2,1866.6 667.5,1866.6 667.8,1866.5 668.1,1866.5 668.4,1866.5 668.7,1866.5 669,1866.5 669.3,1866.5 669.6,1866.5 669.9,1866.4 670.2,1866.4 670.5,1866.4 670.8,1866.4 671.1,1866.4 671.4,1866.4 671.7,1866.4 672,1866.3 672.3,1866.3 672.6,1866.3 672.9,1866.3 673.2,1866.3 673.5,1866.3 673.8,1866.3 674.1,1866.2 674.4,1866.2 674.8,1866.2 675.1,1866.2 675.4,1866.2 675.7,1866.2 676,1866.2 676.3,1866.1 676.6,1866.1 676.9,1866.1 677.2,1866.1 677.5,1866.1 677.8,1866.1 678.1,1866.1 678.4,1866 678.7,1866 679,1866 679.3,1866 679.6,1866 679.9,1866 680.2,1866 680.5,1866 680.8,1866 681.1,1866 681.4,1866 681.7,1866 682,1866 682.3,1866 682.6,1866 682.9,1866 683.2,1866 683.5,1866 683.8,1866 684.1,1866 684.4,1866 684.7,1866 685,1866 685.3,1866 685.6,1866 685.9,1866 686.3,1866 686.6,1866 686.9,1866 687.2,1866 687.5,1866 687.8,1866 688.1,1866 688.4,1866 688.7,1866 689,1866 689.3,1866 689.6,1866 689.9,1866 690.2,1866 690.5,1866 690.8,1866 691.1,1866 691.4,1866 691.7,1866 692,1866 692.3,1866 692.6,1866 692.9,1866 693.2,1866 693.5,1866 693.8,1866 694.1,1866 694.4,1866 694.7,1866 695,1866 695.3,1866 695.6,1866 695.9,1866 696.2,1866 696.5,1866 696.8,1866 697.1,1866 697.4,1866 697.8,1866 698.1,1866 698.4,1866 698.7,1866 699,1866 699.3,1866 699.6,1866 699.9,1866 700.2,1866 700.5,1866 700.8,1866 701.1,1866 701.4,1866 701.7,1866 702,1866 702.3,1866 702.6,1866 702.9,1866 703.2,1866 703.5,1866 703.8,1866 704.1,1866 704.4,1866 704.7,1866 705,1866 705.3,1866 705.6,1866 705.9,1866 706.2,1866 706.5,1866 706.8,1866 707.1,1866 707.4,1866 707.7,1866 708,1866 708.3,1866 708.6,1866 708.9,1866 709.3,1866 709.6,1866 709.9,1866 710.2,1866 710.5,1866 710.8,1866 711.1,1866 711.4,1866 711.7,1866 712,1866 712.3,1866 712.6,1866 712.9,1866 713.2,1866 713.5,1866 713.8,1866 714.1,1866 714.4,1866 714.7,1866 715,1866 715.3,1866 715.6,1866 715.9,1866 716.2,1866 716.5,1866 716.8,1866 717.1,1866 717.4,1866 717.7,1866.1 718,1866.1 718.3,1866.1 718.6,1866.1 718.9,1866.1 719.2,1866.1 719.5,1866.1 719.8,1866.1 720.1,1866.1 720.4,1866.1 720.8,1866.1 721.1,1866.1 721.4,1866.1 721.7,1866.1 722,1866.1 722.3,1866.1 722.6,1866.1 722.9,1866.1 723.2,1866.1 723.5,1866.1 723.8,1866.1 724.1,1866.1 724.4,1866.1 724.7,1866.1 725,1866.1 725.3,1866.1 725.6,1866.1 725.9,1866.1 726.2,1866.1 726.5,1866.1 726.8,1866.1 727.1,1866.1 727.4,1866.1 727.7,1866.1 728,1866.1 728.3,1866.1 728.6,1866.1 728.9,1866.1 729.2,1866.1 729.5,1866.1 729.8,1866.1 730.1,1866.1 730.4,1866.1 730.7,1866.1 731,1866.1 731.3,1866.1 731.6,1866.1 731.9,1866.1 732.3,1866.1 732.6,1866.1 732.9,1866.1 733.2,1866.1 733.5,1866.1 733.8,1866.1 734.1,1866.1 734.4,1866.1 734.7,1866.2 735,1866.2 735.3,1866.2 735.6,1866.2 735.9,1866.2 736.2,1866.2 736.5,1866.2 736.8,1866.2 737.1,1866.2 737.4,1866.2 737.7,1866.2 738,1866.2 738.3,1866.2 738.6,1866.2 738.9,1866.2 739.2,1866.2 739.5,1866.2 739.8,1866.2 740.1,1866.2 740.4,1866.2 740.7,1866.2 741,1866.2 741.3,1866.2 741.6,1866.2 741.9,1866.2 742.2,1866.2 742.5,1866.2 742.8,1866.2 743.1,1866.2 743.4,1866.2 743.8,1866.2 744.1,1866.2 744.4,1866.2 744.7,1866.2 745,1866.2 745.3,1866.2 745.6,1866.2 745.9,1866.2 746.2,1866.2 746.5,1866.2 746.8,1866.2 747.1,1866.2 747.4,1866.2 747.7,1866.2 748,1866.2 748.3,1866.2 748.6,1866.2 748.9,1866.2 749.2,1866.2 749.5,1866.2 749.8,1866.2 750.1,1866.2 750.4,1866.2 750.7,1866.2 751,1866.2 751.3,1866.2 751.6,1866.3 751.9,1866.3 752.2,1866.3 752.5,1866.3 752.8,1866.3 753.1,1866.3 753.4,1866.3 753.7,1866.3 754,1866.3 754.3,1866.3 754.6,1866.3 754.9,1866.3 755.3,1866.3 755.6,1866.3 755.9,1866.3 756.2,1866.3 756.5,1866.3 756.8,1866.3 757.1,1866.3 757.4,1866.3 757.7,1866.3 758,1866.3 758.3,1866.3 758.6,1866.3 758.9,1866.3 759.2,1866.3 759.5,1866.3 759.8,1866.3 760.1,1866.3 760.4,1866.3 760.7,1866.3 761,1866.3 761.3,1866.3 761.6,1866.3 761.9,1866.3 762.2,1866.2 762.5,1866.2 762.8,1866.2 763.1,1866.2 763.4,1866.2 763.7,1866.2 764,1866.2 764.3,1866.2 764.6,1866.2 764.9,1866.2 765.2,1866.2 765.5,1866.2 765.8,1866.2 766.1,1866.1 766.4,1866.1 766.8,1866.1 767.1,1866.1 767.4,1866.1 767.7,1866.1 768,1866.1 768.3,1866.1 768.6,1866.1 768.9,1866.1 769.2,1866.1 769.5,1866.1 769.8,1866.1 770.1,1866 770.4,1866 770.7,1866 771,1866 771.3,1866 771.6,1866 771.9,1866 772.2,1866 772.5,1866 772.8,1866 773.1,1866 773.4,1866 773.7,1866 774,1865.9 774.3,1865.9 774.6,1865.9 774.9,1865.9 775.2,1865.9 775.5,1865.9 775.8,1865.9 776.1,1865.9 776.4,1865.9 776.7,1865.9 777,1865.9 777.3,1865.9 777.6,1865.9 777.9,1865.9 778.3,1865.8 778.6,1865.8 778.9,1865.8 779.2,1865.8 779.5,1865.8 779.8,1865.8 780.1,1865.8 780.4,1865.8 780.7,1865.8 781,1865.8 781.3,1865.8 781.6,1865.8 781.9,1865.8 782.2,1865.7 782.5,1865.7 782.8,1865.7 783.1,1865.7 783.4,1865.7 783.7,1865.7 784,1865.7 784.3,1865.7 784.6,1865.7 784.9,1865.7 785.2,1865.7 785.5,1865.7 785.8,1865.7 786.1,1865.6 786.4,1865.6 786.7,1865.6 787,1865.6 787.3,1865.6 787.6,1865.6 787.9,1865.6 788.2,1865.6 788.5,1865.6 788.8,1865.6 789.1,1865.6 789.4,1865.6 789.8,1865.6 790.1,1865.5 790.4,1865.5 790.7,1865.5 791,1865.5 791.3,1865.5 791.6,1865.5 791.9,1865.5 792.2,1865.5 792.5,1865.5 792.8,1865.5 793.1,1865.5 793.4,1865.5 793.7,1865.5 794,1865.5 794.3,1865.4 794.6,1865.4 794.9,1865.4 795.2,1865.4 795.5,1865.4 795.8,1865.4 796.1,1865.4 796.4,1865.4 796.7,1865.4 797,1865.4 797.3,1865.4 797.6,1865.4 797.9,1865.4 798.2,1865.3 798.5,1865.3 798.8,1865.3 799.1,1865.3 799.4,1865.3 799.7,1865.3 800,1865.3 800.3,1865.3 800.6,1865.3 800.9,1865.3 801.3,1865.3 801.6,1865.2 801.9,1865.2 802.2,1865.2 802.5,1865.2 802.8,1865.2 803.1,1865.2 803.4,1865.2 803.7,1865.2 804,1865.2 804.3,1865.2 804.6,1865.1 804.9,1865.1 805.2,1865.1 805.5,1865.1 805.8,1865.1 806.1,1865.1 806.4,1865.1 806.7,1865.1 807,1865.1 807.3,1865.1 807.6,1865 807.9,1865 808.2,1865 808.5,1865 808.8,1865 809.1,1865 809.4,1865 809.7,1865 810,1865 810.3,1865 810.6,1864.9 810.9,1864.9 811.2,1864.9 811.5,1864.9 811.8,1864.9 812.1,1864.9 812.4,1864.9 812.8,1864.9 813.1,1864.9 813.4,1864.9 813.7,1864.8 814,1864.8 814.3,1864.8 814.6,1864.8 814.9,1864.8 815.2,1864.8 815.5,1864.8 815.8,1864.8 816.1,1864.8 816.4,1864.7 816.7,1864.7 817,1864.7 817.3,1864.7 817.6,1864.7 817.9,1864.7 818.2,1864.7 818.5,1864.7 818.8,1864.7 819.1,1864.7 819.4,1864.6 819.7,1864.6 820,1864.6 820.3,1864.6 820.6,1864.6 820.9,1864.6 821.2,1864.6 821.5,1864.6 821.8,1864.6 822.1,1864.6 822.4,1864.5 822.7,1864.5 823,1864.5 823.3,1864.5 823.6,1864.5 823.9,1864.5 824.3,1864.5 824.6,1864.5 824.9,1864.5 825.2,1864.5 825.5,1864.4 825.8,1864.4 826.1,1864.4 826.4,1864.4 826.7,1864.4 827,1864.4 827.3,1864.4 827.6,1864.4 827.9,1864.4 828.2,1864.4 828.5,1864.3 828.8,1864.3 829.1,1864.3 829.4,1864.3 829.7,1864.3" fill="none" stroke="#2b7bbd" stroke-width="1.5" />
</g>
<text transform="translate(477.5 1866.3) scale(1 1.08)" font-size="27" text-anchor="start" font-weight="bold">1210</text>
<text transform="translate(477.5 1927.3) scale(1 1.08)" font-size="27" text-anchor="start" font-weight="bold">1200</text>
<text transform="translate(477.5 1988.4) scale(1 1.08)" font-size="27" text-anchor="start" font-weight="bold">1190</text>
<text transform="translate(477.5 2047.5) scale(1 1.08)" font-size="27" text-anchor="start" font-weight="bold">1180</text>
<text transform="translate(477.5 2107.3) scale(1 1.08)" font-size="27" text-anchor="start" font-weight="bold">1170</text>
<text transform="translate(577.2 2144.9) scale(1 1.08)" font-size="27" text-anchor="middle" font-weight="bold">0.02</text>
<text transform="translate(695.8 2144.9) scale(1 1.08)" font-size="27" text-anchor="middle" font-weight="bold">0.04</text>
<text transform="translate(801.5 2144.9) scale(1 1.08)" font-size="27" text-anchor="middle" font-weight="bold">0.06</text>
</g>
<g id="inset2">
<rect x="867.8" y="1689.6" width="320" height="308.8" fill="#fff" stroke="#bfc4c9" stroke-width="3.6"/>
<rect x="868.7" y="1690.5" width="319.6" height="308.4" fill="#fff" stroke="#48667a" stroke-width="2.3"/>
<line x1="998.9" y1="1698.7" x2="998.9" y2="1961.4" stroke="#e0e0e0" stroke-width="1.8" />
<line x1="1074.6" y1="1698.7" x2="1074.6" y2="1961.4" stroke="#e0e0e0" stroke-width="1.8" />
<line x1="1150.3" y1="1698.7" x2="1150.3" y2="1961.4" stroke="#e0e0e0" stroke-width="1.8" />
<line x1="936.6" y1="1724.5" x2="1158.8" y2="1724.5" stroke="#e0e0e0" stroke-width="1.8" />
<line x1="936.6" y1="1775.2" x2="1158.8" y2="1775.2" stroke="#e0e0e0" stroke-width="1.8" />
<line x1="936.6" y1="1825.1" x2="1158.8" y2="1825.1" stroke="#e0e0e0" stroke-width="1.8" />
<line x1="936.6" y1="1874.9" x2="1158.8" y2="1874.9" stroke="#e0e0e0" stroke-width="1.8" />
<line x1="936.6" y1="1925.4" x2="1158.8" y2="1925.4" stroke="#e0e0e0" stroke-width="1.8" />
<line x1="936.6" y1="1698.7" x2="936.6" y2="1959.4" stroke="#b4b4b4" stroke-width="2" />
<line x1="936.6" y1="1959.4" x2="1158.8" y2="1959.4" stroke="#b4b4b4" stroke-width="2" />
<g fill="none" stroke-linejoin="round">
<polyline points="936.6,1711.9 937,1718.1 937.5,1712.8 937.9,1723.4 938.3,1716.5 938.8,1721.1 939.2,1719.1 939.6,1717.7 940,1720 940.5,1719.7 940.9,1727 941.3,1722.7 941.8,1752.1 942.2,1721.1 942.6,1724.4 943,1717.5 943.5,1729.1 943.9,1721.1 944.3,1723.6 944.8,1718.7 945.2,1716 945.6,1708.2 946,1749.3 946.5,1733.5 946.9,1719.3 947.3,1723.1 947.7,1728.1 948.2,1730.9 948.6,1731.7 949,1731.4 949.5,1722.3 949.9,1731.1 950.3,1726.8 950.7,1717.9 951.2,1736 951.6,1724.2 952,1732.5 952.5,1733 952.9,1734.4 953.3,1734 953.7,1730.4 954.2,1718.9 954.6,1731.7 955,1743.6 955.5,1727.9 955.9,1733.6 956.3,1730.5 956.7,1728.5 957.2,1731 957.6,1737.3 958,1734.8 958.5,1731.5 958.9,1732.8 959.3,1722.5 959.7,1725.4 960.2,1722.8 960.6,1731.6 961,1737.9 961.4,1737.5 961.9,1744.6 962.3,1735.6 962.7,1735.2 963.2,1740.3 963.6,1728.1 964,1728.9 964.4,1735.5 964.9,1732.9 965.3,1732 965.7,1735.1 966.2,1755.5 966.6,1738.5 967,1733.1 967.4,1743.3 967.9,1731.5 968.3,1738.6 968.7,1737.4 969.2,1741.7 969.6,1740.1 970,1743.8 970.4,1735.8 970.9,1741.4 971.3,1747.2 971.7,1734.7 972.2,1749.1 972.6,1744.2 973,1732.7 973.4,1748.1 973.9,1744.7 974.3,1750.7 974.7,1746.8 975.2,1734.2 975.6,1737.4 976,1738.9 976.4,1747.9 976.9,1756.7 977.3,1744.5 977.7,1748.1 978.1,1747.5 978.6,1748.4 979,1751.5 979.4,1745.2 979.9,1751.4 980.3,1765 980.7,1743.7 981.1,1749.5 981.6,1754.8 982,1737.9 982.4,1749.6 982.9,1753.4 983.3,1752 983.7,1749.4 984.1,1750.8 984.6,1746.6 985,1751.6 985.4,1755.6 985.9,1751.9 986.3,1748.5 986.7,1751.5 987.1,1744.5 987.6,1754.5 988,1758.1 988.4,1757 988.9,1759.5 989.3,1745.1 989.7,1757.1 990.1,1751.4 990.6,1753.9 991,1750.8 991.4,1753.9 991.9,1758.2 992.3,1756.9 992.7,1761.3 993.1,1760.6 993.6,1751.5 994,1768 994.4,1744.7 994.8,1762.1 995.3,1763 995.7,1768.6 996.1,1750 996.6,1762 997,1751.8 997.4,1775.5 997.8,1744.5 998.3,1762.4 998.7,1765 999.1,1756.4 999.6,1755.7 1000,1782.1 1000.4,1759.1 1000.8,1760.5 1001.3,1765.6 1001.7,1763.5 1002.1,1753.3 1002.6,1757 1003,1759.6 1003.4,1770.1 1003.8,1767.1 1004.3,1763.6 1004.7,1764.4 1005.1,1768.9 1005.6,1764.8 1006,1781.8 1006.4,1769.7 1006.8,1766.7 1007.3,1766.8 1007.7,1773.3 1008.1,1771.8 1008.6,1781.4 1009,1771.5 1009.4,1770.4 1009.8,1773.2 1010.3,1771.9 1010.7,1774.1 1011.1,1769.9 1011.5,1768.5 1012,1764.2 1012.4,1776.1 1012.8,1769.8 1013.3,1779.3 1013.7,1770.3 1014.1,1769.3 1014.5,1770.4 1015,1772.2 1015.4,1778.2 1015.8,1776.2 1016.3,1773.3 1016.7,1810.3 1017.1,1766 1017.5,1779 1018,1780.9 1018.4,1782.5 1018.8,1791.1 1019.3,1781 1019.7,1769 1020.1,1789.6 1020.5,1775.2 1021,1775.1 1021.4,1784.1 1021.8,1776.1 1022.3,1779.8 1022.7,1785.8 1023.1,1774.9 1023.5,1787.8 1024,1774.8 1024.4,1779.2 1024.8,1772.8 1025.3,1789.4 1025.7,1792.3 1026.1,1786.7 1026.5,1786.4 1027,1780.5 1027.4,1798.5 1027.8,1784.2 1028.2,1785.5 1028.7,1798.5 1029.1,1784.2 1029.5,1781.7 1030,1799.5 1030.4,1788.9 1030.8,1789.5 1031.2,1791.5 1031.7,1785.3 1032.1,1783.8 1032.5,1780.4 1033,1792.2 1033.4,1798.8 1033.8,1785.7 1034.2,1793.7 1034.7,1787 1035.1,1798.4 1035.5,1793.6 1036,1797.3 1036.4,1792.5 1036.8,1791.5 1037.2,1793.7 1037.7,1798.6 1038.1,1796.4 1038.5,1792.1 1039,1807.8 1039.4,1799.4 1039.8,1799.1 1040.2,1797.2 1040.7,1798.7 1041.1,1802 1041.5,1795.7 1041.9,1818.7 1042.4,1799.5 1042.8,1794.8 1043.2,1807 1043.7,1799.5 1044.1,1798.7 1044.5,1798.6 1044.9,1799.8 1045.4,1804.3 1045.8,1794.4 1046.2,1805.6 1046.7,1817 1047.1,1809.4 1047.5,1805.8 1047.9,1808.4 1048.4,1815.7 1048.8,1807.5 1049.2,1820.8 1049.7,1797.1 1050.1,1807.2 1050.5,1826.7 1050.9,1810.7 1051.4,1820.3 1051.8,1815 1052.2,1809.6 1052.7,1821.2 1053.1,1815.9 1053.5,1821.5 1053.9,1815.1 1054.4,1817 1054.8,1799.8 1055.2,1815.6 1055.7,1808.1 1056.1,1820.8 1056.5,1811.2 1056.9,1817.3 1057.4,1818.5 1057.8,1815.9 1058.2,1813.6 1058.6,1828.4 1059.1,1812 1059.5,1815.5 1059.9,1814.2 1060.4,1823.4 1060.8,1822.2 1061.2,1818.6 1061.6,1817.1 1062.1,1819.2 1062.5,1824.4 1062.9,1828.1 1063.4,1820.1 1063.8,1822.3 1064.2,1833.7 1064.6,1831.7 1065.1,1825.8 1065.5,1823.2 1065.9,1827.7 1066.4,1823.5 1066.8,1828.2 1067.2,1829.7 1067.6,1831.1 1068.1,1830.3 1068.5,1835.3 1068.9,1834.3 1069.4,1829.6 1069.8,1824.7 1070.2,1828.1 1070.6,1843.5 1071.1,1835.2 1071.5,1843.5 1071.9,1826.6 1072.4,1846.2 1072.8,1851.2 1073.2,1827.7 1073.6,1856 1074.1,1831.5 1074.5,1835.3 1074.9,1832 1075.3,1834.9 1075.8,1840 1076.2,1828.8 1076.6,1840.8 1077.1,1835.3 1077.5,1834.1 1077.9,1849.1 1078.3,1842.2 1078.8,1834.8 1079.2,1839.7 1079.6,1837.3 1080.1,1831.7 1080.5,1844.3 1080.9,1834.1 1081.3,1843.4 1081.8,1832.5 1082.2,1844.1 1082.6,1856 1083.1,1844.2 1083.5,1850.3 1083.9,1844.7 1084.3,1844 1084.8,1841.8 1085.2,1837.4 1085.6,1852.9 1086.1,1844.2 1086.5,1858.7 1086.9,1850.6 1087.3,1846.6 1087.8,1845.5 1088.2,1851 1088.6,1851.9 1089.1,1850.5 1089.5,1851 1089.9,1853.4 1090.3,1849.1 1090.8,1847.3 1091.2,1855.9 1091.6,1848.2 1092,1856.4 1092.5,1852.5 1092.9,1847.8 1093.3,1847.4 1093.8,1849.5 1094.2,1860.3 1094.6,1855.8 1095,1862.4 1095.5,1855.1 1095.9,1855.1 1096.3,1851.6 1096.8,1861.8 1097.2,1852.2 1097.6,1856.9 1098,1864.2 1098.5,1867.9 1098.9,1867.7 1099.3,1867 1099.8,1864.8 1100.2,1862.6 1100.6,1871.4 1101,1862.8 1101.5,1854.6 1101.9,1866.7 1102.3,1862.6 1102.8,1869 1103.2,1864.7 1103.6,1862.2 1104,1869.3 1104.5,1868.9 1104.9,1863.3 1105.3,1860.5 1105.8,1863.6 1106.2,1872.7 1106.6,1875.7 1107,1872.5 1107.5,1865.3 1107.9,1868 1108.3,1870.1 1108.7,1872.7 1109.2,1868 1109.6,1875.2 1110,1875.8 1110.5,1870.2 1110.9,1870.8 1111.3,1876.5 1111.7,1878.5 1112.2,1877.6 1112.6,1870.7 1113,1868.6 1113.5,1877.5 1113.9,1881.9 1114.3,1881.4 1114.7,1873.1 1115.2,1881.2 1115.6,1882.5 1116,1876.2 1116.5,1872.8 1116.9,1893.6 1117.3,1884.5 1117.7,1914.5 1118.2,1897.2 1118.6,1887.2 1119,1879.2 1119.5,1882.3 1119.9,1894.3 1120.3,1886.6 1120.7,1882.6 1121.2,1899.7 1121.6,1889 1122,1891 1122.4,1895.2 1122.9,1877.3 1123.3,1886.6 1123.7,1893.1 1124.2,1888.7 1124.6,1895.5 1125,1884.4 1125.4,1884.7 1125.9,1891.5 1126.3,1891.7 1126.7,1884 1127.2,1894 1127.6,1900.4 1128,1891.7 1128.4,1888.8 1128.9,1903.9 1129.3,1904.7 1129.7,1894.1 1130.2,1899.4 1130.6,1893 1131,1896.1 1131.4,1891.4 1131.9,1896.7 1132.3,1903.8 1132.7,1898.9 1133.2,1901.7 1133.6,1892.9 1134,1901.4 1134.4,1899.7 1134.9,1903.7 1135.3,1897.2 1135.7,1901.8 1136.2,1894.3 1136.6,1899.5 1137,1908.3 1137.4,1909.3 1137.9,1899.2 1138.3,1910 1138.7,1909.2 1139.1,1911.2 1139.6,1908 1140,1905.4 1140.4,1911 1140.9,1918.5 1141.3,1897.5 1141.7,1911.1 1142.1,1908.2 1142.6,1910 1143,1905.2 1143.4,1915.3 1143.9,1913.4 1144.3,1933.3 1144.7,1914.4 1145.1,1920.8 1145.6,1918.3 1146,1904.4 1146.4,1901.4 1146.9,1911.6 1147.3,1910.3 1147.7,1925.9 1148.1,1924.7 1148.6,1920.3 1149,1918 1149.4,1923.6 1149.9,1917.5 1150.3,1924 1150.7,1929.5 1151.1,1929.5 1151.6,1920.5 1152,1920.6 1152.4,1917.4 1152.9,1924.7 1153.3,1935.8 1153.7,1928.9 1154.1,1933.7 1154.6,1924.5 1155,1921.2 1155.4,1925.2 1155.8,1924.7 1156.3,1922.1 1156.7,1922.6 1157.1,1930.6 1157.6,1939.2 1158,1925.1 1158.4,1925.8 1158.8,1929.6" fill="none" stroke="#2aa5c4" stroke-width="1.7" />
<polyline points="936.6,1720.3 937,1717.7 937.5,1719.1 937.9,1713.3 938.3,1714.9 938.8,1718.6 939.2,1718.8 939.6,1716.2 940,1720.6 940.5,1722.7 940.9,1720.2 941.3,1717.8 941.8,1725 942.2,1718.3 942.6,1718.9 943,1725.2 943.5,1723.1 943.9,1715.4 944.3,1722.8 944.8,1732.1 945.2,1718 945.6,1724.5 946,1710.9 946.5,1719.7 946.9,1724.6 947.3,1727.3 947.7,1737.7 948.2,1728.6 948.6,1724.9 949,1734.8 949.5,1725.1 949.9,1727.5 950.3,1731.5 950.7,1728.3 951.2,1723.2 951.6,1732.1 952,1726.3 952.5,1727.5 952.9,1729.5 953.3,1724.6 953.7,1728.5 954.2,1730.3 954.6,1736.2 955,1727.3 955.5,1728.3 955.9,1733.3 956.3,1729.5 956.7,1728 957.2,1731 957.6,1727.4 958,1729.1 958.5,1730.3 958.9,1729 959.3,1729.8 959.7,1735.2 960.2,1726.4 960.6,1731.6 961,1731.5 961.4,1735.7 961.9,1733.7 962.3,1734.7 962.7,1736.4 963.2,1735.9 963.6,1731 964,1732.1 964.4,1735.4 964.9,1738.2 965.3,1734.9 965.7,1734.8 966.2,1738 966.6,1741.6 967,1737.5 967.4,1741 967.9,1743.3 968.3,1741.6 968.7,1740.2 969.2,1741.6 969.6,1739.3 970,1751.7 970.4,1738.7 970.9,1737.5 971.3,1740.2 971.7,1740 972.2,1739.6 972.6,1750.6 973,1748.6 973.4,1737.5 973.9,1742.4 974.3,1742.7 974.7,1731.5 975.2,1741.6 975.6,1744.4 976,1744.7 976.4,1741.4 976.9,1746.9 977.3,1734 977.7,1741.9 978.1,1752.4 978.6,1740.9 979,1744.1 979.4,1753.9 979.9,1744.3 980.3,1743 980.7,1751.6 981.1,1750.2 981.6,1752.2 982,1747.8 982.4,1747.9 982.9,1741.9 983.3,1747.1 983.7,1752.9 984.1,1751 984.6,1747.9 985,1748.4 985.4,1755.1 985.9,1750.8 986.3,1750.2 986.7,1752.9 987.1,1752.6 987.6,1750.6 988,1747 988.4,1755.2 988.9,1752.6 989.3,1747.9 989.7,1760.2 990.1,1756.7 990.6,1749.8 991,1756.6 991.4,1752.5 991.9,1753.9 992.3,1753.5 992.7,1755 993.1,1754.7 993.6,1767.2 994,1763.5 994.4,1749.7 994.8,1762.6 995.3,1756.8 995.7,1755.7 996.1,1756.6 996.6,1762.9 997,1753.9 997.4,1764.8 997.8,1760.3 998.3,1768.3 998.7,1761.5 999.1,1766.4 999.6,1746.3 1000,1762.2 1000.4,1762.8 1000.8,1758.4 1001.3,1766.3 1001.7,1771.8 1002.1,1757.9 1002.6,1758.4 1003,1767 1003.4,1763 1003.8,1772.3 1004.3,1766 1004.7,1769.4 1005.1,1760.2 1005.6,1766.8 1006,1765.5 1006.4,1768.9 1006.8,1770.3 1007.3,1765.8 1007.7,1764.5 1008.1,1764 1008.6,1772 1009,1766.2 1009.4,1771.7 1009.8,1768.4 1010.3,1770.6 1010.7,1769.1 1011.1,1770.9 1011.5,1768.3 1012,1768.1 1012.4,1775.4 1012.8,1773.6 1013.3,1768.2 1013.7,1771.1 1014.1,1773 1014.5,1771.9 1015,1775.9 1015.4,1777.9 1015.8,1777.5 1016.3,1770.2 1016.7,1767.7 1017.1,1776.4 1017.5,1777.9 1018,1778.6 1018.4,1776.5 1018.8,1774.1 1019.3,1776.4 1019.7,1776.2 1020.1,1783.6 1020.5,1779.8 1021,1781.4 1021.4,1778.9 1021.8,1785.2 1022.3,1787.3 1022.7,1779.1 1023.1,1778.8 1023.5,1781.8 1024,1783.6 1024.4,1787.3 1024.8,1782.9 1025.3,1783.8 1025.7,1794.5 1026.1,1791.7 1026.5,1798.9 1027,1782.8 1027.4,1787.1 1027.8,1785.1 1028.2,1786.6 1028.7,1781.8 1029.1,1781.8 1029.5,1787.6 1030,1787.1 1030.4,1786.8 1030.8,1788.9 1031.2,1785.1 1031.7,1787 1032.1,1790.9 1032.5,1790.8 1033,1789 1033.4,1800.9 1033.8,1796.6 1034.2,1792.7 1034.7,1789.8 1035.1,1787.7 1035.5,1790.9 1036,1795.1 1036.4,1791.4 1036.8,1797.1 1037.2,1795.2 1037.7,1794.8 1038.1,1794.6 1038.5,1796.1 1039,1791 1039.4,1793.9 1039.8,1799.5 1040.2,1796 1040.7,1795.6 1041.1,1795.4 1041.5,1802.9 1041.9,1802.1 1042.4,1797.5 1042.8,1807.7 1043.2,1801.6 1043.7,1805.3 1044.1,1802.7 1044.5,1803.7 1044.9,1801.5 1045.4,1800.3 1045.8,1801.3 1046.2,1802.7 1046.7,1801.8 1047.1,1807.5 1047.5,1799.8 1047.9,1806.3 1048.4,1800.3 1048.8,1819.2 1049.2,1806.4 1049.7,1807.6 1050.1,1814 1050.5,1807.7 1050.9,1806.2 1051.4,1810.9 1051.8,1814.2 1052.2,1813.9 1052.7,1815 1053.1,1811 1053.5,1815.5 1053.9,1809.6 1054.4,1815.2 1054.8,1815.4 1055.2,1820.6 1055.7,1811.1 1056.1,1819.8 1056.5,1816.9 1056.9,1814.4 1057.4,1815.3 1057.8,1820.1 1058.2,1813.9 1058.6,1817.7 1059.1,1822.6 1059.5,1813.9 1059.9,1815.5 1060.4,1815.1 1060.8,1819.8 1061.2,1814 1061.6,1825.1 1062.1,1821.5 1062.5,1824.8 1062.9,1820.8 1063.4,1821.2 1063.8,1818.2 1064.2,1823.5 1064.6,1822.9 1065.1,1824.7 1065.5,1817.4 1065.9,1821.7 1066.4,1825.6 1066.8,1825.2 1067.2,1824.9 1067.6,1826.9 1068.1,1820.6 1068.5,1829.3 1068.9,1824.9 1069.4,1834.9 1069.8,1829.3 1070.2,1834.4 1070.6,1829.2 1071.1,1831.9 1071.5,1828.8 1071.9,1828.9 1072.4,1826.4 1072.8,1831.7 1073.2,1837.6 1073.6,1834.8 1074.1,1830.1 1074.5,1832.6 1074.9,1833.6 1075.3,1828.3 1075.8,1833.7 1076.2,1832.4 1076.6,1847.1 1077.1,1834.4 1077.5,1839.9 1077.9,1834.9 1078.3,1835.6 1078.8,1837.7 1079.2,1837.8 1079.6,1833.5 1080.1,1834.7 1080.5,1842.1 1080.9,1836.8 1081.3,1843.7 1081.8,1838.6 1082.2,1841.2 1082.6,1837.8 1083.1,1841.3 1083.5,1836.7 1083.9,1846.4 1084.3,1848.4 1084.8,1845.2 1085.2,1841.5 1085.6,1846.2 1086.1,1843.1 1086.5,1842.5 1086.9,1847.7 1087.3,1847.9 1087.8,1843.2 1088.2,1850.7 1088.6,1850 1089.1,1846 1089.5,1849.5 1089.9,1846.5 1090.3,1851.8 1090.8,1855 1091.2,1857 1091.6,1853.1 1092,1849.3 1092.5,1851.7 1092.9,1860.4 1093.3,1852.5 1093.8,1856.7 1094.2,1857 1094.6,1857.8 1095,1853.1 1095.5,1853.5 1095.9,1853.7 1096.3,1857.4 1096.8,1856.4 1097.2,1861.4 1097.6,1858.1 1098,1851.3 1098.5,1856.7 1098.9,1860.2 1099.3,1863.2 1099.8,1858 1100.2,1857.3 1100.6,1863.4 1101,1861.9 1101.5,1870.3 1101.9,1862.2 1102.3,1866.5 1102.8,1862.3 1103.2,1860.4 1103.6,1866.1 1104,1865 1104.5,1868.8 1104.9,1868.1 1105.3,1860.3 1105.8,1867.6 1106.2,1866.2 1106.6,1867.5 1107,1867.7 1107.5,1865.4 1107.9,1872.4 1108.3,1862.5 1108.7,1870 1109.2,1868.1 1109.6,1867.3 1110,1867.4 1110.5,1870.1 1110.9,1868.7 1111.3,1872.1 1111.7,1872.9 1112.2,1872.7 1112.6,1867.7 1113,1875.5 1113.5,1876.2 1113.9,1874.3 1114.3,1877.9 1114.7,1877.9 1115.2,1873.9 1115.6,1882.4 1116,1879.5 1116.5,1882.1 1116.9,1879.2 1117.3,1884.9 1117.7,1882 1118.2,1879.7 1118.6,1874.7 1119,1880.2 1119.5,1878 1119.9,1878.2 1120.3,1887 1120.7,1890.6 1121.2,1888.2 1121.6,1890.3 1122,1881.6 1122.4,1891.1 1122.9,1881.8 1123.3,1881.4 1123.7,1885.4 1124.2,1885.5 1124.6,1889.9 1125,1891 1125.4,1889.7 1125.9,1892.8 1126.3,1887.3 1126.7,1886.7 1127.2,1892.8 1127.6,1896.9 1128,1894.4 1128.4,1890.8 1128.9,1895.7 1129.3,1893 1129.7,1893.4 1130.2,1893.9 1130.6,1894 1131,1899.3 1131.4,1898.3 1131.9,1898.6 1132.3,1893.4 1132.7,1901.9 1133.2,1894.9 1133.6,1900.2 1134,1889.2 1134.4,1899.4 1134.9,1901.6 1135.3,1899.9 1135.7,1898.1 1136.2,1897 1136.6,1902.3 1137,1904.7 1137.4,1905.3 1137.9,1902 1138.3,1908.1 1138.7,1907 1139.1,1908.8 1139.6,1906.9 1140,1910 1140.4,1906.6 1140.9,1907.9 1141.3,1903.9 1141.7,1899.5 1142.1,1908 1142.6,1907.9 1143,1905.1 1143.4,1907.7 1143.9,1908 1144.3,1913.2 1144.7,1909.1 1145.1,1911.9 1145.6,1924.7 1146,1906.1 1146.4,1911.9 1146.9,1923 1147.3,1910 1147.7,1917.3 1148.1,1911.3 1148.6,1914.1 1149,1916.6 1149.4,1918.7 1149.9,1919.7 1150.3,1914.2 1150.7,1916.3 1151.1,1918 1151.6,1920.7 1152,1915.1 1152.4,1918.4 1152.9,1916.9 1153.3,1922.6 1153.7,1925.2 1154.1,1912.1 1154.6,1919.6 1155,1923 1155.4,1921.1 1155.8,1916.7 1156.3,1925.8 1156.7,1926.5 1157.1,1924.5 1157.6,1922.3 1158,1924.6 1158.4,1924.1 1158.8,1925" fill="none" stroke="#1f97b6" stroke-width="1.7" />
<polyline points="936.6,1715.2 937,1715.5 937.5,1715.8 937.9,1716 938.3,1716.3 938.8,1716.6 939.2,1716.9 939.6,1717.2 940,1717.4 940.5,1717.7 940.9,1718 941.3,1718.3 941.8,1718.5 942.2,1718.8 942.6,1719.1 943,1719.4 943.5,1719.7 943.9,1719.9 944.3,1720.2 944.8,1720.5 945.2,1720.8 945.6,1721 946,1721.3 946.5,1721.6 946.9,1721.9 947.3,1722.2 947.7,1722.4 948.2,1722.7 948.6,1723 949,1723.3 949.5,1723.5 949.9,1723.8 950.3,1724.1 950.7,1724.4 951.2,1724.7 951.6,1724.9 952,1725.2 952.5,1725.5 952.9,1725.8 953.3,1726.1 953.7,1726.3 954.2,1726.6 954.6,1726.9 955,1727.2 955.5,1727.4 955.9,1727.7 956.3,1728 956.7,1728.3 957.2,1728.6 957.6,1728.8 958,1729.1 958.5,1729.4 958.9,1729.7 959.3,1730 959.7,1730.3 960.2,1730.6 960.6,1730.9 961,1731.2 961.4,1731.5 961.9,1731.8 962.3,1732.1 962.7,1732.4 963.2,1732.7 963.6,1733 964,1733.3 964.4,1733.6 964.9,1733.9 965.3,1734.2 965.7,1734.5 966.2,1734.8 966.6,1735.1 967,1735.4 967.4,1735.7 967.9,1736 968.3,1736.3 968.7,1736.6 969.2,1736.9 969.6,1737.2 970,1737.5 970.4,1737.8 970.9,1738.1 971.3,1738.4 971.7,1738.7 972.2,1739 972.6,1739.3 973,1739.6 973.4,1739.9 973.9,1740.2 974.3,1740.5 974.7,1740.8 975.2,1741.1 975.6,1741.4 976,1741.7 976.4,1742 976.9,1742.3 977.3,1742.6 977.7,1742.9 978.1,1743.2 978.6,1743.5 979,1743.8 979.4,1744.1 979.9,1744.5 980.3,1744.8 980.7,1745.1 981.1,1745.4 981.6,1745.7 982,1746.1 982.4,1746.4 982.9,1746.7 983.3,1747 983.7,1747.3 984.1,1747.6 984.6,1748 985,1748.3 985.4,1748.6 985.9,1748.9 986.3,1749.2 986.7,1749.5 987.1,1749.9 987.6,1750.2 988,1750.5 988.4,1750.8 988.9,1751.1 989.3,1751.5 989.7,1751.8 990.1,1752.1 990.6,1752.4 991,1752.7 991.4,1753 991.9,1753.4 992.3,1753.7 992.7,1754 993.1,1754.3 993.6,1754.6 994,1754.9 994.4,1755.3 994.8,1755.6 995.3,1755.9 995.7,1756.2 996.1,1756.5 996.6,1756.9 997,1757.2 997.4,1757.5 997.8,1757.8 998.3,1758.1 998.7,1758.4 999.1,1758.8 999.6,1759.2 1000,1759.5 1000.4,1759.9 1000.8,1760.3 1001.3,1760.7 1001.7,1761.1 1002.1,1761.4 1002.6,1761.8 1003,1762.2 1003.4,1762.6 1003.8,1763 1004.3,1763.3 1004.7,1763.7 1005.1,1764.1 1005.6,1764.5 1006,1764.9 1006.4,1765.3 1006.8,1765.6 1007.3,1766 1007.7,1766.4 1008.1,1766.8 1008.6,1767.2 1009,1767.5 1009.4,1767.9 1009.8,1768.3 1010.3,1768.7 1010.7,1769.1 1011.1,1769.4 1011.5,1769.8 1012,1770.2 1012.4,1770.6 1012.8,1771 1013.3,1771.3 1013.7,1771.7 1014.1,1772.1 1014.5,1772.5 1015,1772.9 1015.4,1773.2 1015.8,1773.6 1016.3,1774 1016.7,1774.4 1017.1,1774.8 1017.5,1775.1 1018,1775.5 1018.4,1775.9 1018.8,1776.3 1019.3,1776.7 1019.7,1777 1020.1,1777.4 1020.5,1777.8 1021,1778.2 1021.4,1778.6 1021.8,1778.9 1022.3,1779.3 1022.7,1779.8 1023.1,1780.2 1023.5,1780.6 1024,1781 1024.4,1781.4 1024.8,1781.8 1025.3,1782.2 1025.7,1782.6 1026.1,1783 1026.5,1783.4 1027,1783.9 1027.4,1784.3 1027.8,1784.7 1028.2,1785.1 1028.7,1785.5 1029.1,1785.9 1029.5,1786.3 1030,1786.7 1030.4,1787.1 1030.8,1787.6 1031.2,1788 1031.7,1788.4 1032.1,1788.8 1032.5,1789.2 1033,1789.6 1033.4,1790 1033.8,1790.4 1034.2,1790.8 1034.7,1791.3 1035.1,1791.7 1035.5,1792.1 1036,1792.5 1036.4,1792.9 1036.8,1793.3 1037.2,1793.7 1037.7,1794.1 1038.1,1794.5 1038.5,1795 1039,1795.4 1039.4,1795.8 1039.8,1796.2 1040.2,1796.6 1040.7,1797 1041.1,1797.4 1041.5,1797.8 1041.9,1798.2 1042.4,1798.7 1042.8,1799.1 1043.2,1799.5 1043.7,1799.9 1044.1,1800.4 1044.5,1800.8 1044.9,1801.2 1045.4,1801.7 1045.8,1802.1 1046.2,1802.6 1046.7,1803 1047.1,1803.5 1047.5,1803.9 1047.9,1804.3 1048.4,1804.8 1048.8,1805.2 1049.2,1805.7 1049.7,1806.1 1050.1,1806.6 1050.5,1807 1050.9,1807.4 1051.4,1807.9 1051.8,1808.3 1052.2,1808.8 1052.7,1809.2 1053.1,1809.7 1053.5,1810.1 1053.9,1810.5 1054.4,1811 1054.8,1811.4 1055.2,1811.9 1055.7,1812.3 1056.1,1812.8 1056.5,1813.2 1056.9,1813.6 1057.4,1814.1 1057.8,1814.5 1058.2,1815 1058.6,1815.4 1059.1,1815.9 1059.5,1816.3 1059.9,1816.7 1060.4,1817.2 1060.8,1817.6 1061.2,1818.1 1061.6,1818.5 1062.1,1819 1062.5,1819.4 1062.9,1819.8 1063.4,1820.3 1063.8,1820.7 1064.2,1821.2 1064.6,1821.6 1065.1,1822.1 1065.5,1822.5 1065.9,1822.9 1066.4,1823.4 1066.8,1823.8 1067.2,1824.3 1067.6,1824.7 1068.1,1825.2 1068.5,1825.6 1068.9,1826 1069.4,1826.5 1069.8,1826.9 1070.2,1827.4 1070.6,1827.8 1071.1,1828.3 1071.5,1828.7 1071.9,1829.1 1072.4,1829.6 1072.8,1830 1073.2,1830.5 1073.6,1830.9 1074.1,1831.4 1074.5,1831.8 1074.9,1832.3 1075.3,1832.7 1075.8,1833.2 1076.2,1833.7 1076.6,1834.1 1077.1,1834.6 1077.5,1835.1 1077.9,1835.6 1078.3,1836 1078.8,1836.5 1079.2,1837 1079.6,1837.4 1080.1,1837.9 1080.5,1838.4 1080.9,1838.8 1081.3,1839.3 1081.8,1839.8 1082.2,1840.2 1082.6,1840.7 1083.1,1841.2 1083.5,1841.7 1083.9,1842.1 1084.3,1842.6 1084.8,1843.1 1085.2,1843.5 1085.6,1844 1086.1,1844.5 1086.5,1844.9 1086.9,1845.4 1087.3,1845.9 1087.8,1846.4 1088.2,1846.8 1088.6,1847.3 1089.1,1847.8 1089.5,1848.2 1089.9,1848.7 1090.3,1849.2 1090.8,1849.6 1091.2,1850.1 1091.6,1850.6 1092,1851.1 1092.5,1851.5 1092.9,1852 1093.3,1852.5 1093.8,1852.9 1094.2,1853.4 1094.6,1853.9 1095,1854.3 1095.5,1854.8 1095.9,1855.3 1096.3,1855.7 1096.8,1856.2 1097.2,1856.7 1097.6,1857.2 1098,1857.6 1098.5,1858.1 1098.9,1858.6 1099.3,1859 1099.8,1859.5 1100.2,1860 1100.6,1860.4 1101,1860.9 1101.5,1861.4 1101.9,1861.9 1102.3,1862.3 1102.8,1862.8 1103.2,1863.3 1103.6,1863.7 1104,1864.2 1104.5,1864.7 1104.9,1865.1 1105.3,1865.6 1105.8,1866.1 1106.2,1866.5 1106.6,1867 1107,1867.5 1107.5,1868 1107.9,1868.4 1108.3,1868.9 1108.7,1869.4 1109.2,1869.9 1109.6,1870.3 1110,1870.8 1110.5,1871.3 1110.9,1871.8 1111.3,1872.3 1111.7,1872.7 1112.2,1873.2 1112.6,1873.7 1113,1874.2 1113.5,1874.6 1113.9,1875.1 1114.3,1875.6 1114.7,1876.1 1115.2,1876.6 1115.6,1877 1116,1877.5 1116.5,1878 1116.9,1878.5 1117.3,1878.9 1117.7,1879.4 1118.2,1879.9 1118.6,1880.4 1119,1880.9 1119.5,1881.3 1119.9,1881.8 1120.3,1882.3 1120.7,1882.8 1121.2,1883.3 1121.6,1883.7 1122,1884.2 1122.4,1884.7 1122.9,1885.2 1123.3,1885.6 1123.7,1886.1 1124.2,1886.6 1124.6,1887.1 1125,1887.6 1125.4,1888 1125.9,1888.5 1126.3,1889 1126.7,1889.5 1127.2,1889.9 1127.6,1890.4 1128,1890.9 1128.4,1891.4 1128.9,1891.9 1129.3,1892.3 1129.7,1892.8 1130.2,1893.3 1130.6,1893.8 1131,1894.2 1131.4,1894.7 1131.9,1895.2 1132.3,1895.7 1132.7,1896.2 1133.2,1896.6 1133.6,1897.1 1134,1897.6 1134.4,1898.1 1134.9,1898.6 1135.3,1899 1135.7,1899.5 1136.2,1900 1136.6,1900.5 1137,1900.9 1137.4,1901.4 1137.9,1901.9 1138.3,1902.4 1138.7,1902.9 1139.1,1903.3 1139.6,1903.8 1140,1904.3 1140.4,1904.8 1140.9,1905.2 1141.3,1905.7 1141.7,1906.2 1142.1,1906.7 1142.6,1907.2 1143,1907.6 1143.4,1908.1 1143.9,1908.6 1144.3,1909.1 1144.7,1909.6 1145.1,1910 1145.6,1910.5 1146,1911 1146.4,1911.5 1146.9,1911.9 1147.3,1912.4 1147.7,1912.9 1148.1,1913.4 1148.6,1913.9 1149,1914.3 1149.4,1914.8 1149.9,1915.3 1150.3,1915.8 1150.7,1916.2 1151.1,1916.7 1151.6,1917.2 1152,1917.7 1152.4,1918.1 1152.9,1918.6 1153.3,1919.1 1153.7,1919.5 1154.1,1920 1154.6,1920.5 1155,1920.9 1155.4,1921.4 1155.8,1921.9 1156.3,1922.4 1156.7,1922.8 1157.1,1923.3 1157.6,1923.8 1158,1924.2 1158.4,1924.7 1158.8,1925.2" fill="none" stroke="#fdb813" stroke-width="4.4" />
<polyline points="936.6,1714.4 937,1714.7 937.5,1715 937.9,1715.2 938.3,1715.5 938.8,1715.8 939.2,1716.1 939.6,1716.4 940,1716.6 940.5,1716.9 940.9,1717.2 941.3,1717.5 941.8,1717.7 942.2,1718 942.6,1718.3 943,1718.6 943.5,1718.9 943.9,1719.1 944.3,1719.4 944.8,1719.7 945.2,1720 945.6,1720.2 946,1720.5 946.5,1720.8 946.9,1721.1 947.3,1721.4 947.7,1721.6 948.2,1721.9 948.6,1722.2 949,1722.5 949.5,1722.7 949.9,1723 950.3,1723.3 950.7,1723.6 951.2,1723.9 951.6,1724.1 952,1724.4 952.5,1724.7 952.9,1725 953.3,1725.3 953.7,1725.5 954.2,1725.8 954.6,1726.1 955,1726.4 955.5,1726.6 955.9,1726.9 956.3,1727.2 956.7,1727.5 957.2,1727.8 957.6,1728 958,1728.3 958.5,1728.6 958.9,1728.9 959.3,1729.2 959.7,1729.5 960.2,1729.8 960.6,1730.1 961,1730.4 961.4,1730.7 961.9,1731 962.3,1731.3 962.7,1731.6 963.2,1731.9 963.6,1732.2 964,1732.5 964.4,1732.8 964.9,1733.1 965.3,1733.4 965.7,1733.7 966.2,1734 966.6,1734.3 967,1734.6 967.4,1734.9 967.9,1735.2 968.3,1735.5 968.7,1735.8 969.2,1736.1 969.6,1736.4 970,1736.7 970.4,1737 970.9,1737.3 971.3,1737.6 971.7,1737.9 972.2,1738.2 972.6,1738.5 973,1738.8 973.4,1739.1 973.9,1739.4 974.3,1739.7 974.7,1740 975.2,1740.3 975.6,1740.6 976,1740.9 976.4,1741.2 976.9,1741.5 977.3,1741.8 977.7,1742.1 978.1,1742.4 978.6,1742.7 979,1743 979.4,1743.3 979.9,1743.7 980.3,1744 980.7,1744.3 981.1,1744.6 981.6,1744.9 982,1745.3 982.4,1745.6 982.9,1745.9 983.3,1746.2 983.7,1746.5 984.1,1746.8 984.6,1747.2 985,1747.5 985.4,1747.8 985.9,1748.1 986.3,1748.4 986.7,1748.7 987.1,1749.1 987.6,1749.4 988,1749.7 988.4,1750 988.9,1750.3 989.3,1750.7 989.7,1751 990.1,1751.3 990.6,1751.6 991,1751.9 991.4,1752.2 991.9,1752.6 992.3,1752.9 992.7,1753.2 993.1,1753.5 993.6,1753.8 994,1754.1 994.4,1754.5 994.8,1754.8 995.3,1755.1 995.7,1755.4 996.1,1755.7 996.6,1756.1 997,1756.4 997.4,1756.7 997.8,1757 998.3,1757.3 998.7,1757.6 999.1,1758 999.6,1758.4 1000,1758.7 1000.4,1759.1 1000.8,1759.5 1001.3,1759.9 1001.7,1760.3 1002.1,1760.6 1002.6,1761 1003,1761.4 1003.4,1761.8 1003.8,1762.2 1004.3,1762.5 1004.7,1762.9 1005.1,1763.3 1005.6,1763.7 1006,1764.1 1006.4,1764.5 1006.8,1764.8 1007.3,1765.2 1007.7,1765.6 1008.1,1766 1008.6,1766.4 1009,1766.7 1009.4,1767.1 1009.8,1767.5 1010.3,1767.9 1010.7,1768.3 1011.1,1768.6 1011.5,1769 1012,1769.4 1012.4,1769.8 1012.8,1770.2 1013.3,1770.5 1013.7,1770.9 1014.1,1771.3 1014.5,1771.7 1015,1772.1 1015.4,1772.4 1015.8,1772.8 1016.3,1773.2 1016.7,1773.6 1017.1,1774 1017.5,1774.3 1018,1774.7 1018.4,1775.1 1018.8,1775.5 1019.3,1775.9 1019.7,1776.2 1020.1,1776.6 1020.5,1777 1021,1777.4 1021.4,1777.8 1021.8,1778.1 1022.3,1778.5 1022.7,1779 1023.1,1779.4 1023.5,1779.8 1024,1780.2 1024.4,1780.6 1024.8,1781 1025.3,1781.4 1025.7,1781.8 1026.1,1782.2 1026.5,1782.6 1027,1783.1 1027.4,1783.5 1027.8,1783.9 1028.2,1784.3 1028.7,1784.7 1029.1,1785.1 1029.5,1785.5 1030,1785.9 1030.4,1786.3 1030.8,1786.8 1031.2,1787.2 1031.7,1787.6 1032.1,1788 1032.5,1788.4 1033,1788.8 1033.4,1789.2 1033.8,1789.6 1034.2,1790 1034.7,1790.5 1035.1,1790.9 1035.5,1791.3 1036,1791.7 1036.4,1792.1 1036.8,1792.5 1037.2,1792.9 1037.7,1793.3 1038.1,1793.7 1038.5,1794.2 1039,1794.6 1039.4,1795 1039.8,1795.4 1040.2,1795.8 1040.7,1796.2 1041.1,1796.6 1041.5,1797 1041.9,1797.4 1042.4,1797.9 1042.8,1798.3 1043.2,1798.7 1043.7,1799.1 1044.1,1799.6 1044.5,1800 1044.9,1800.4 1045.4,1800.9 1045.8,1801.3 1046.2,1801.8 1046.7,1802.2 1047.1,1802.7 1047.5,1803.1 1047.9,1803.5 1048.4,1804 1048.8,1804.4 1049.2,1804.9 1049.7,1805.3 1050.1,1805.8 1050.5,1806.2 1050.9,1806.6 1051.4,1807.1 1051.8,1807.5 1052.2,1808 1052.7,1808.4 1053.1,1808.9 1053.5,1809.3 1053.9,1809.7 1054.4,1810.2 1054.8,1810.6 1055.2,1811.1 1055.7,1811.5 1056.1,1812 1056.5,1812.4 1056.9,1812.8 1057.4,1813.3 1057.8,1813.7 1058.2,1814.2 1058.6,1814.6 1059.1,1815.1 1059.5,1815.5 1059.9,1815.9 1060.4,1816.4 1060.8,1816.8 1061.2,1817.3 1061.6,1817.7 1062.1,1818.2 1062.5,1818.6 1062.9,1819 1063.4,1819.5 1063.8,1819.9 1064.2,1820.4 1064.6,1820.8 1065.1,1821.3 1065.5,1821.7 1065.9,1822.1 1066.4,1822.6 1066.8,1823 1067.2,1823.5 1067.6,1823.9 1068.1,1824.4 1068.5,1824.8 1068.9,1825.2 1069.4,1825.7 1069.8,1826.1 1070.2,1826.6 1070.6,1827 1071.1,1827.5 1071.5,1827.9 1071.9,1828.3 1072.4,1828.8 1072.8,1829.2 1073.2,1829.7 1073.6,1830.1 1074.1,1830.6 1074.5,1831 1074.9,1831.5 1075.3,1831.9 1075.8,1832.4 1076.2,1832.9 1076.6,1833.3 1077.1,1833.8 1077.5,1834.3 1077.9,1834.8 1078.3,1835.2 1078.8,1835.7 1079.2,1836.2 1079.6,1836.6 1080.1,1837.1 1080.5,1837.6 1080.9,1838 1081.3,1838.5 1081.8,1839 1082.2,1839.4 1082.6,1839.9 1083.1,1840.4 1083.5,1840.9 1083.9,1841.3 1084.3,1841.8 1084.8,1842.3 1085.2,1842.7 1085.6,1843.2 1086.1,1843.7 1086.5,1844.1 1086.9,1844.6 1087.3,1845.1 1087.8,1845.6 1088.2,1846 1088.6,1846.5 1089.1,1847 1089.5,1847.4 1089.9,1847.9 1090.3,1848.4 1090.8,1848.8 1091.2,1849.3 1091.6,1849.8 1092,1850.3 1092.5,1850.7 1092.9,1851.2 1093.3,1851.7 1093.8,1852.1 1094.2,1852.6 1094.6,1853.1 1095,1853.5 1095.5,1854 1095.9,1854.5 1096.3,1854.9 1096.8,1855.4 1097.2,1855.9 1097.6,1856.4 1098,1856.8 1098.5,1857.3 1098.9,1857.8 1099.3,1858.2 1099.8,1858.7 1100.2,1859.2 1100.6,1859.6 1101,1860.1 1101.5,1860.6 1101.9,1861.1 1102.3,1861.5 1102.8,1862 1103.2,1862.5 1103.6,1862.9 1104,1863.4 1104.5,1863.9 1104.9,1864.3 1105.3,1864.8 1105.8,1865.3 1106.2,1865.7 1106.6,1866.2 1107,1866.7 1107.5,1867.2 1107.9,1867.6 1108.3,1868.1 1108.7,1868.6 1109.2,1869.1 1109.6,1869.5 1110,1870 1110.5,1870.5 1110.9,1871 1111.3,1871.5 1111.7,1871.9 1112.2,1872.4 1112.6,1872.9 1113,1873.4 1113.5,1873.8 1113.9,1874.3 1114.3,1874.8 1114.7,1875.3 1115.2,1875.8 1115.6,1876.2 1116,1876.7 1116.5,1877.2 1116.9,1877.7 1117.3,1878.1 1117.7,1878.6 1118.2,1879.1 1118.6,1879.6 1119,1880.1 1119.5,1880.5 1119.9,1881 1120.3,1881.5 1120.7,1882 1121.2,1882.5 1121.6,1882.9 1122,1883.4 1122.4,1883.9 1122.9,1884.4 1123.3,1884.8 1123.7,1885.3 1124.2,1885.8 1124.6,1886.3 1125,1886.8 1125.4,1887.2 1125.9,1887.7 1126.3,1888.2 1126.7,1888.7 1127.2,1889.1 1127.6,1889.6 1128,1890.1 1128.4,1890.6 1128.9,1891.1 1129.3,1891.5 1129.7,1892 1130.2,1892.5 1130.6,1893 1131,1893.4 1131.4,1893.9 1131.9,1894.4 1132.3,1894.9 1132.7,1895.4 1133.2,1895.8 1133.6,1896.3 1134,1896.8 1134.4,1897.3 1134.9,1897.8 1135.3,1898.2 1135.7,1898.7 1136.2,1899.2 1136.6,1899.7 1137,1900.1 1137.4,1900.6 1137.9,1901.1 1138.3,1901.6 1138.7,1902.1 1139.1,1902.5 1139.6,1903 1140,1903.5 1140.4,1904 1140.9,1904.4 1141.3,1904.9 1141.7,1905.4 1142.1,1905.9 1142.6,1906.4 1143,1906.8 1143.4,1907.3 1143.9,1907.8 1144.3,1908.3 1144.7,1908.8 1145.1,1909.2 1145.6,1909.7 1146,1910.2 1146.4,1910.7 1146.9,1911.1 1147.3,1911.6 1147.7,1912.1 1148.1,1912.6 1148.6,1913.1 1149,1913.5 1149.4,1914 1149.9,1914.5 1150.3,1915 1150.7,1915.4 1151.1,1915.9 1151.6,1916.4 1152,1916.9 1152.4,1917.3 1152.9,1917.8 1153.3,1918.3 1153.7,1918.7 1154.1,1919.2 1154.6,1919.7 1155,1920.1 1155.4,1920.6 1155.8,1921.1 1156.3,1921.6 1156.7,1922 1157.1,1922.5 1157.6,1923 1158,1923.4 1158.4,1923.9 1158.8,1924.4" fill="none" stroke="#8a8f6a" stroke-width="1.1" opacity="0.8"/>
<polyline points="936.6,1706.2 942.4,1710.5 948.9,1709 957.5,1713.7 963.9,1719.1 970.4,1726.6 974.7,1722.3 979,1725.6 983.3,1732 987.6,1729.9 991.9,1726.6 998.3,1730.9 1004.7,1729.9 1010.1,1736.3 1013.3,1741.7 1018.7,1742.7 1024.1,1740.6 1028.4,1746 1032.7,1749.2 1037,1748.1 1043.4,1756.7 1047.7,1758.9 1053.1,1759.9 1059.6,1765.3 1064.9,1769.6 1069.2,1772.8 1074.6,1777.1 1080,1782.5 1084.3,1783.6 1088.6,1790 1092.9,1794.3 1099.3,1799.7 1104.7,1802.9 1107.9,1810.4 1110.1,1813.7 1117.6,1820.1 1121.9,1816.9 1124,1823.3 1127.3,1829.8 1131.6,1835.2 1135.8,1841.6 1139.1,1840.5 1143.4,1844.8 1147.7,1849.1 1153,1845.9 1158.8,1848.7" fill="none" stroke="#f6895c" stroke-width="1.8" />
</g>
<text transform="translate(870.8 1734.3) scale(1 1.08)" font-size="28" text-anchor="start" font-weight="bold">1500</text>
<text transform="translate(870.8 1785.1) scale(1 1.08)" font-size="28" text-anchor="start" font-weight="bold">1490</text>
<text transform="translate(870.8 1837.8) scale(1 1.08)" font-size="28" text-anchor="start" font-weight="bold">1480</text>
<text transform="translate(870.8 1889.8) scale(1 1.08)" font-size="28" text-anchor="start" font-weight="bold">1470</text>
<text transform="translate(870.8 1941) scale(1 1.08)" font-size="28" text-anchor="start" font-weight="bold">1460</text>
<text transform="translate(996 1990.2) scale(1 1.08)" font-size="28" text-anchor="middle" font-weight="bold">0. 901</text>
<text transform="translate(1146 1993) scale(1 1.08)" font-size="28.5" text-anchor="middle" font-weight="bold">0.902</text>
</g>
<g id="inset3">
<rect x="1210.2" y="1784.8" width="361.1" height="364.4" fill="#fff" stroke="#bfc4c9" stroke-width="3.6"/>
<rect x="1211.1" y="1785.7" width="360.7" height="364" fill="#fff" stroke="#48667a" stroke-width="2.3"/>
<line x1="1313.9" y1="1804.6" x2="1313.9" y2="2117.1" stroke="#e0e0e0" stroke-width="1.8" />
<line x1="1434" y1="1804.6" x2="1434" y2="2117.1" stroke="#e0e0e0" stroke-width="1.8" />
<line x1="1554.6" y1="1804.6" x2="1554.6" y2="2117.1" stroke="#e0e0e0" stroke-width="1.8" />
<line x1="1290.7" y1="1826.8" x2="1564.9" y2="1826.8" stroke="#e0e0e0" stroke-width="1.8" />
<line x1="1290.7" y1="1865.5" x2="1564.9" y2="1865.5" stroke="#e0e0e0" stroke-width="1.8" />
<line x1="1290.7" y1="1904.9" x2="1564.9" y2="1904.9" stroke="#e0e0e0" stroke-width="1.8" />
<line x1="1290.7" y1="1943.1" x2="1564.9" y2="1943.1" stroke="#e0e0e0" stroke-width="1.8" />
<line x1="1290.7" y1="1982.1" x2="1564.9" y2="1982.1" stroke="#e0e0e0" stroke-width="1.8" />
<line x1="1290.7" y1="2020.7" x2="1564.9" y2="2020.7" stroke="#e0e0e0" stroke-width="1.8" />
<line x1="1290.7" y1="2059.4" x2="1564.9" y2="2059.4" stroke="#e0e0e0" stroke-width="1.8" />
<line x1="1290.7" y1="2099.1" x2="1564.9" y2="2099.1" stroke="#e0e0e0" stroke-width="1.8" />
<line x1="1290.7" y1="1804.6" x2="1290.7" y2="2115.1" stroke="#b4b4b4" stroke-width="2" />
<line x1="1290.7" y1="2115.1" x2="1564.9" y2="2115.1" stroke="#b4b4b4" stroke-width="2" />
<g fill="none" stroke-linejoin="round">
<polyline points="1291.9,2093.6 1292.2,2096.1 1292.5,2093.9 1292.9,2089.1 1293.2,2087.8 1293.5,2094.2 1293.8,2084.1 1294.1,2086.1 1294.4,2092.6 1294.7,2087.1 1295,2091.2 1295.3,2089.4 1295.6,2092.9 1295.9,2095.2 1296.2,2090.5 1296.5,2090.1 1296.8,2094.9 1297.1,2096.5 1297.4,2093.7 1297.7,2088.9 1298,2097.5 1298.3,2086.9 1298.6,2088.9 1298.9,2089.9 1299.2,2095.6 1299.5,2086.4 1299.8,2087.6 1300.1,2095.2 1300.4,2102.7 1300.7,2089.6 1301,2087.2 1301.4,2085.4 1301.7,2096.5 1302,2089.6 1302.3,2098.7 1302.6,2087.2 1302.9,2088.8 1303.2,2091.5 1303.5,2088.4 1303.8,2089.7 1304.1,2094.9 1304.4,2088.5 1304.7,2084.8 1305,2088 1305.3,2094.9 1305.6,2091.6 1305.9,2095.4 1306.2,2090.8 1306.5,2091.7 1306.8,2091.3 1307.1,2091.6 1307.4,2089.9 1307.7,2080.5 1308,2097 1308.3,2099.3 1308.6,2092.3 1308.9,2094.8 1309.2,2088.7 1309.6,2091.2 1309.9,2098.4 1310.2,2086.3 1310.5,2098.2 1310.8,2096.7 1311.1,2082.5 1311.4,2092.3 1311.7,2097 1312,2090.1 1312.3,2093.5 1312.6,2082.9 1312.9,2093.1 1313.2,2090.7 1313.5,2089.1 1313.8,2085.4 1314.1,2085.7 1314.4,2084.1 1314.7,2080.1 1315,2076.7 1315.3,2073.4 1315.6,2066.3 1315.9,2059.4 1316.2,2055.4 1316.5,2049.3 1316.8,2043.7 1317.1,2040.2 1317.4,2033.4 1317.7,2026.9 1318.1,2020.9 1318.4,2016.6 1318.7,2012.3 1319,2005.6 1319.3,1999.9 1319.6,1991.8 1319.9,1988.5 1320.2,1981 1320.5,1977.1 1320.8,1971.4 1321.1,1963.9 1321.4,1956.6 1321.7,1954.3 1322,1948.5 1322.3,1943.6 1322.6,1938.6 1322.9,1934.6 1323.2,1931.7 1323.5,1927.3 1323.8,1924.6 1324.1,1916.8 1324.4,1915.2 1324.7,1913.1 1325,1908.2 1325.3,1902.4 1325.6,1901.4 1325.9,1897 1326.2,1894.2 1326.6,1891.6 1326.9,1888.4 1327.2,1886.9 1327.5,1884.9 1327.8,1881.4 1328.1,1878.3 1328.4,1876.7 1328.7,1873 1329,1870.6 1329.3,1867.8 1329.6,1872.3 1329.9,1866.5 1330.2,1878 1330.5,1863.6 1330.8,1867.6 1331.1,1860.4 1331.4,1858.8 1331.7,1848.5 1332,1859.1 1332.3,1850.9 1332.6,1851.9 1332.9,1852.2 1333.2,1854 1333.5,1839.7 1333.8,1848.1 1334.1,1847.2 1334.4,1841.7 1334.8,1843.3 1335.1,1843.6 1335.4,1845.6 1335.7,1838.4 1336,1838.9 1336.3,1845.3 1336.6,1839.7 1336.9,1833.8 1337.2,1845.6 1337.5,1840 1337.8,1837.8 1338.1,1834.1 1338.4,1842.2 1338.7,1830.7 1339,1833.7 1339.3,1839.3 1339.6,1834.1 1339.9,1832.6 1340.2,1837.7 1340.5,1836.2 1340.8,1833.4 1341.1,1829.3 1341.4,1833.7 1341.7,1830.5 1342,1836.3 1342.3,1830.8 1342.6,1839 1342.9,1843.2 1343.3,1842.3 1343.6,1833.1 1343.9,1831.1 1344.2,1828.5 1344.5,1830.4 1344.8,1832.4 1345.1,1821.6 1345.4,1829.8 1345.7,1828.2 1346,1828.3 1346.3,1831.8 1346.6,1844.4 1346.9,1830.8 1347.2,1846.2 1347.5,1831.1 1347.8,1830.8 1348.1,1837.1 1348.4,1836.6 1348.7,1843.5 1349,1836.3 1349.3,1838.9 1349.6,1835.4 1349.9,1831.7 1350.2,1838.9 1350.5,1847.3 1350.8,1842.4 1351.1,1839.3 1351.5,1838.4 1351.8,1837.1 1352.1,1850.9 1352.4,1841.7 1352.7,1840.7 1353,1836.3 1353.3,1838.8 1353.6,1841.2 1353.9,1846.7 1354.2,1846.2 1354.5,1830.6 1354.8,1841.4 1355.1,1850.7 1355.4,1851.4 1355.7,1855.1 1356,1852.9 1356.3,1850.6 1356.6,1847.1 1356.9,1850.8 1357.2,1852.3 1357.5,1850.9 1357.8,1851.8 1358.1,1852.1 1358.4,1853.7 1358.7,1854.7 1359,1855.2 1359.3,1852.2 1359.6,1853 1360,1858.8 1360.3,1851 1360.6,1855.2 1360.9,1859.2 1361.2,1866.8 1361.5,1856 1361.8,1850.5 1362.1,1856 1362.4,1867.1 1362.7,1858.1 1363,1868 1363.3,1851.9 1363.6,1855.5 1363.9,1861.2 1364.2,1865.5 1364.5,1872 1364.8,1858 1365.1,1865.8 1365.4,1871 1365.7,1872.1 1366,1868.5 1366.3,1870.7 1366.6,1867.2 1366.9,1873.8 1367.2,1875.9 1367.5,1871 1367.8,1878.9 1368.1,1873.1 1368.5,1870.1 1368.8,1877.9 1369.1,1881.4 1369.4,1875.7 1369.7,1879 1370,1875.5 1370.3,1881.5 1370.6,1875.1 1370.9,1875.3 1371.2,1889.5 1371.5,1884.7 1371.8,1876.6 1372.1,1881.8 1372.4,1879.8 1372.7,1888.6 1373,1882.7 1373.3,1880.5 1373.6,1885.3 1373.9,1876.8 1374.2,1886.9 1374.5,1881 1374.8,1885.8 1375.1,1895 1375.4,1899.2 1375.7,1896.9 1376,1897.8 1376.3,1882 1376.7,1890.7 1377,1899.8 1377.3,1901 1377.6,1895.8 1377.9,1894.3 1378.2,1903.3 1378.5,1894.1 1378.8,1897.8 1379.1,1895.4 1379.4,1891.4 1379.7,1903.8 1380,1909.5 1380.3,1907.7 1380.6,1901.3 1380.9,1909.6 1381.2,1901.4 1381.5,1892.1 1381.8,1905.9 1382.1,1912.1 1382.4,1901.2 1382.7,1909.1 1383,1912.1 1383.3,1914.1 1383.6,1921.7 1383.9,1909.1 1384.2,1910.5 1384.5,1916.8 1384.8,1922.3 1385.2,1918.3 1385.5,1915.6 1385.8,1917.5 1386.1,1927.9 1386.4,1924.7 1386.7,1924.6 1387,1923.3 1387.3,1928.8 1387.6,1927.3 1387.9,1926.3 1388.2,1923.3 1388.5,1924.9 1388.8,1928.5 1389.1,1918.2 1389.4,1924.3 1389.7,1923 1390,1932.4 1390.3,1939.5 1390.6,1936.4 1390.9,1933.3 1391.2,1925.6 1391.5,1944.2 1391.8,1937.6 1392.1,1941.6 1392.4,1937.8 1392.7,1940.5 1393,1944.1 1393.3,1935.6 1393.7,1942.8 1394,1927.4 1394.3,1945.5 1394.6,1944.8 1394.9,1941.8 1395.2,1947.7 1395.5,1959.9 1395.8,1946.6 1396.1,1945.3 1396.4,1941.1 1396.7,1946.5 1397,1943.3 1397.3,1953.1 1397.6,1946.7 1397.9,1950.3 1398.2,1952.2 1398.5,1951.9 1398.8,1951.5 1399.1,1952.8 1399.4,1949.9 1399.7,1955.6 1400,1955.3 1400.3,1953.2 1400.6,1952.1 1400.9,1966.4 1401.2,1955.7 1401.5,1966.4 1401.9,1963.9 1402.2,1954.5 1402.5,1961 1402.8,1958 1403.1,1960.2 1403.4,1962.6 1403.7,1971.7 1404,1960.3 1404.3,1970.5 1404.6,1959.2 1404.9,1965.3 1405.2,1967.7 1405.5,1966.6 1405.8,1955.4 1406.1,1965.1 1406.4,1959.9 1406.7,1969.3 1407,1968.9 1407.3,1965 1407.6,1976 1407.9,1975.2 1408.2,1968.4 1408.5,1987.2 1408.8,1972.7 1409.1,1979.3 1409.4,1972 1409.7,1965.4 1410,1981.5 1410.4,1978.5 1410.7,1964.8 1411,1977 1411.3,1976.5 1411.6,1981.7 1411.9,1979.9 1412.2,1980.3 1412.5,1987.4 1412.8,1976.1 1413.1,1978.5 1413.4,1979.3 1413.7,1983.1 1414,1980.8 1414.3,1981.2 1414.6,1978.7 1414.9,1979.5 1415.2,1986 1415.5,1981.6 1415.8,1985.7 1416.1,1992.3 1416.4,1989.9 1416.7,1994.2 1417,1977.7 1417.3,1985 1417.6,1987.4 1417.9,1990.8 1418.2,1990.9 1418.6,1987.5 1418.9,1995.1 1419.2,1994.1 1419.5,1986.2 1419.8,1995.9 1420.1,1987.2 1420.4,2005 1420.7,1993.7 1421,1995.4 1421.3,2001.4 1421.6,1991.5 1421.9,1987.6 1422.2,1995.1 1422.5,2006.8 1422.8,2003.3 1423.1,1993 1423.4,1996.2 1423.7,2008 1424,2012.5 1424.3,1995.1 1424.6,2000.8 1424.9,2002.4 1425.2,1992.3 1425.5,2006.8 1425.8,2008.9 1426.1,2006.1 1426.4,2000.7 1426.7,2004.8 1427.1,2009.1 1427.4,2003.6 1427.7,2004.7 1428,2006 1428.3,2013.8 1428.6,2016.3 1428.9,2012.9 1429.2,2009 1429.5,2011.8 1429.8,2012.2 1430.1,2005.6 1430.4,2018.5 1430.7,2007.4 1431,2012.9 1431.3,2006.4 1431.6,2009.5 1431.9,2018.5 1432.2,2010.4 1432.5,2005.6 1432.8,2001.3 1433.1,2009 1433.4,2011.6 1433.7,2015.5 1434,2008.9 1434.3,2015.6 1434.6,2012 1434.9,2019.2 1435.2,2017.7 1435.6,2013.7 1435.9,2013.6 1436.2,2017.6 1436.5,2020.1 1436.8,2015.6 1437.1,2023.7 1437.4,2016.8 1437.7,2013.8 1438,2024.4 1438.3,2013.2 1438.6,2030.6 1438.9,2020.3 1439.2,2021.6 1439.5,2033.6 1439.8,2016.8 1440.1,2030.8 1440.4,2025.1 1440.7,2026.2 1441,2032.4 1441.3,2035.5 1441.6,2028.9 1441.9,2029.1 1442.2,2025.4 1442.5,2020.4 1442.8,2019.7 1443.1,2033.6 1443.4,2028.2 1443.8,2023 1444.1,2027.1 1444.4,2031.9 1444.7,2027.9 1445,2032 1445.3,2034.6 1445.6,2038.4 1445.9,2024.2 1446.2,2029.4 1446.5,2032.8 1446.8,2032.6 1447.1,2036.3 1447.4,2022.4 1447.7,2026.8 1448,2040.1 1448.3,2045.1 1448.6,2034.2 1448.9,2027.5 1449.2,2025 1449.5,2039.3 1449.8,2046.6 1450.1,2041.7 1450.4,2033.2 1450.7,2039.3 1451,2026.3 1451.3,2031.7 1451.6,2035.3 1451.9,2032.6 1452.3,2028 1452.6,2045.1 1452.9,2042.1 1453.2,2029.5 1453.5,2053.8 1453.8,2050.1 1454.1,2040.2 1454.4,2040.6 1454.7,2029.1 1455,2048.1 1455.3,2038.6 1455.6,2047.4 1455.9,2043.4 1456.2,2040.6 1456.5,2039.2 1456.8,2032 1457.1,2043.2 1457.4,2042.2 1457.7,2038.6 1458,2027.4 1458.3,2035.1 1458.6,2044.9 1458.9,2047.5 1459.2,2056.6 1459.5,2037 1459.8,2039.8 1460.1,2046.2 1460.4,2042.9 1460.8,2037.3 1461.1,2050.3 1461.4,2050.8 1461.7,2042.6 1462,2042.3 1462.3,2056.9 1462.6,2045 1462.9,2037.7 1463.2,2048.9 1463.5,2033.9 1463.8,2047.8 1464.1,2046.3 1464.4,2046.6 1464.7,2046.4 1465,2058.1 1465.3,2043.8 1465.6,2045.2 1465.9,2049.6 1466.2,2049.8 1466.5,2050.1 1466.8,2051.8 1467.1,2048.6 1467.4,2043.6 1467.7,2048.3 1468,2058.3 1468.3,2053.6 1468.6,2057 1469,2045.6 1469.3,2062.2 1469.6,2059.4 1469.9,2048.8 1470.2,2047.3 1470.5,2051.1 1470.8,2065.2 1471.1,2063.8 1471.4,2038.8 1471.7,2062.9 1472,2064.3 1472.3,2050.6 1472.6,2059.5 1472.9,2053.7 1473.2,2058.5 1473.5,2061.1 1473.8,2052.7 1474.1,2043.4 1474.4,2063.6 1474.7,2059.1 1475,2044.9 1475.3,2065 1475.6,2064.9 1475.9,2048.6 1476.2,2060.7 1476.5,2053.8 1476.8,2058.3 1477.1,2066.8 1477.5,2061.3 1477.8,2061.2 1478.1,2057 1478.4,2064.3 1478.7,2064.4 1479,2068.1 1479.3,2070.1 1479.6,2056.6 1479.9,2062.6 1480.2,2049 1480.5,2069.4 1480.8,2051.9 1481.1,2064.4 1481.4,2050.4 1481.7,2063.5 1482,2048.9 1482.3,2064.2 1482.6,2065.5 1482.9,2057.5 1483.2,2071.2 1483.5,2068 1483.8,2055.1 1484.1,2057.1 1484.4,2073.3 1484.7,2053.8 1485,2073.1 1485.3,2067.4 1485.7,2055.5 1486,2056.8 1486.3,2067.6 1486.6,2066.2 1486.9,2063.8 1487.2,2072.9 1487.5,2071.8 1487.8,2058.6 1488.1,2058.7 1488.4,2060 1488.7,2060.8 1489,2061.2 1489.3,2070.4 1489.6,2051 1489.9,2075.9 1490.2,2071.5 1490.5,2062.9 1490.8,2072.9 1491.1,2070.9 1491.4,2064.3 1491.7,2078.2 1492,2066.8 1492.3,2067.2 1492.6,2072.1 1492.9,2063.2 1493.2,2077.9 1493.5,2078.5 1493.8,2062.3 1494.2,2075.5 1494.5,2079.3 1494.8,2070.1 1495.1,2079.4 1495.4,2080.8 1495.7,2072.5 1496,2079.2 1496.3,2079.9 1496.6,2070 1496.9,2068.6 1497.2,2085 1497.5,2066.5 1497.8,2081.9 1498.1,2070.6 1498.4,2076.6 1498.7,2072.6 1499,2068.2 1499.3,2076.5 1499.6,2076.8 1499.9,2068.1 1500.2,2075.8 1500.5,2069.6 1500.8,2074.8 1501.1,2065.9 1501.4,2067 1501.7,2084.9 1502,2081.4 1502.3,2072.6 1502.7,2076.4 1503,2075 1503.3,2074.6 1503.6,2085.1 1503.9,2076.8 1504.2,2070.7 1504.5,2064 1504.8,2064.1 1505.1,2086.5 1505.4,2078.4 1505.7,2081.9 1506,2079.5 1506.3,2071.2 1506.6,2071.9 1506.9,2074.3 1507.2,2060.6 1507.5,2063.4 1507.8,2072.1 1508.1,2069 1508.4,2073.5 1508.7,2079.5 1509,2090.3 1509.3,2086.1 1509.6,2070.6 1509.9,2069.7 1510.2,2080 1510.5,2075.5 1510.9,2078.6 1511.2,2078.1 1511.5,2081.3 1511.8,2063.3 1512.1,2078.7 1512.4,2065.5 1512.7,2084.4 1513,2074.7 1513.3,2072.8 1513.6,2082.8 1513.9,2083.7 1514.2,2078.4 1514.5,2085 1514.8,2069.9 1515.1,2081.6 1515.4,2082.6 1515.7,2076.9 1516,2085 1516.3,2084.8 1516.6,2091.5 1516.9,2076.6 1517.2,2072.3 1517.5,2074.8 1517.8,2082.6 1518.1,2082.2 1518.4,2081 1518.7,2072.1 1519,2078.9 1519.4,2088.3 1519.7,2085.9 1520,2074 1520.3,2083.5 1520.6,2076.5 1520.9,2081.4 1521.2,2075.7 1521.5,2076.8 1521.8,2076.3 1522.1,2078.5 1522.4,2074.2 1522.7,2087.5 1523,2079.6 1523.3,2086 1523.6,2081.6 1523.9,2080.4 1524.2,2071.1 1524.5,2072.2 1524.8,2079.3 1525.1,2072.4 1525.4,2086.3 1525.7,2078.1 1526,2074.5 1526.3,2079.9 1526.6,2084.2 1526.9,2080.1 1527.2,2096.3 1527.6,2090.4 1527.9,2082 1528.2,2077.3 1528.5,2071.9 1528.8,2086 1529.1,2090.2 1529.4,2081.7 1529.7,2077.2 1530,2082.1 1530.3,2077.7 1530.6,2082.3 1530.9,2087 1531.2,2081.3 1531.5,2086.9 1531.8,2090.2 1532.1,2075.6 1532.4,2076.2 1532.7,2084.2 1533,2062.8 1533.3,2091 1533.6,2081.1 1533.9,2084.8 1534.2,2089.3 1534.5,2070.3 1534.8,2092.6 1535.1,2088.5 1535.4,2066.1 1535.7,2076.1 1536.1,2100.6 1536.4,2089.6 1536.7,2093.1 1537,2084.3 1537.3,2092.9 1537.6,2072 1537.9,2078.3 1538.2,2098.2 1538.5,2092.4 1538.8,2083.2 1539.1,2089.8 1539.4,2079.9 1539.7,2075 1540,2092 1540.3,2083 1540.6,2086.9 1540.9,2089.8 1541.2,2088.7 1541.5,2094.7 1541.8,2081.8 1542.1,2082.2 1542.4,2091.7 1542.7,2094.7 1543,2077.3 1543.3,2074.3 1543.6,2080.7 1543.9,2087.3 1544.2,2088.2 1544.6,2077.9 1544.9,2088.4 1545.2,2098.7 1545.5,2069.2 1545.8,2088.7 1546.1,2087.7 1546.4,2083.4 1546.7,2090.9 1547,2093 1547.3,2077.2 1547.6,2087.8 1547.9,2092 1548.2,2085.8 1548.5,2090.5 1548.8,2091.7 1549.1,2096.8 1549.4,2092.3 1549.7,2092.8 1550,2097.9 1550.3,2088.8 1550.6,2100.7 1550.9,2077.9 1551.2,2089.9 1551.5,2089.9 1551.8,2089.9 1552.1,2082.8 1552.4,2090.8 1552.8,2080.5 1553.1,2084.5 1553.4,2080.7 1553.7,2094.1 1554,2088.7 1554.3,2080.1 1554.6,2075.5 1554.9,2086.3 1555.2,2088.6 1555.5,2103.3 1555.8,2096 1556.1,2076.1 1556.4,2097.4 1556.7,2093.3 1557,2105.6 1557.3,2098.3 1557.6,2099.3 1557.9,2084.7 1558.2,2081.5 1558.5,2092.5 1558.8,2093.5 1559.1,2097.2 1559.4,2073 1559.7,2085 1560,2077.5 1560.3,2096.7 1560.6,2093.3 1560.9,2096.6 1561.3,2089.3 1561.6,2072.8 1561.9,2090.2 1562.2,2092.4 1562.5,2085.2 1562.8,2092.4 1563.1,2088.2 1563.4,2093.9 1563.7,2082.7 1564,2078 1564.3,2096.6 1564.6,2111.7 1564.9,2078.7" fill="none" stroke="#fb8a0a" stroke-width="3.4" />
<polyline points="1291.9,2088.8 1292.2,2094.4 1292.5,2091.2 1292.9,2097.7 1293.2,2092.6 1293.5,2096.3 1293.8,2089 1294.1,2090.3 1294.4,2093.9 1294.7,2090.7 1295,2084.2 1295.3,2096.8 1295.6,2101.5 1295.9,2089.6 1296.2,2086.1 1296.5,2100.7 1296.8,2093.1 1297.1,2097.8 1297.4,2093.5 1297.7,2098.9 1298,2089.7 1298.3,2102.1 1298.6,2088.8 1298.9,2096.8 1299.2,2097 1299.5,2087.6 1299.8,2096.1 1300.1,2090.9 1300.4,2095.2 1300.7,2096 1301,2084.1 1301.4,2096.9 1301.7,2087.5 1302,2096.7 1302.3,2098.6 1302.6,2089.4 1302.9,2085.1 1303.2,2095.2 1303.5,2097.5 1303.8,2090 1304.1,2091.5 1304.4,2094.1 1304.7,2098.6 1305,2088.9 1305.3,2091.1 1305.6,2091.1 1305.9,2087.4 1306.2,2090.3 1306.5,2093.6 1306.8,2094.3 1307.1,2100.1 1307.4,2096.4 1307.7,2090 1308,2092 1308.3,2091.4 1308.6,2078.7 1308.9,2096.4 1309.2,2095.9 1309.6,2091.6 1309.9,2100.5 1310.2,2090.6 1310.5,2088.9 1310.8,2088.6 1311.1,2095 1311.4,2098.7 1311.7,2098.1 1312,2086.1 1312.3,2094.8 1312.6,2082.4 1312.9,2090.9 1313.2,2081.1 1313.5,2089.4 1313.8,2088.8 1314.1,2088.9 1314.4,2084.5 1314.7,2082.9 1315,2077.9 1315.3,2073.3 1315.6,2066.2 1315.9,2060.3 1316.2,2059 1316.5,2050.3 1316.8,2045.6 1317.1,2040.5 1317.4,2034.5 1317.7,2030 1318.1,2025 1318.4,2019 1318.7,2013.9 1319,2010.5 1319.3,2001.1 1319.6,1996 1319.9,1989.8 1320.2,1982.9 1320.5,1978.4 1320.8,1970.9 1321.1,1964.2 1321.4,1960.7 1321.7,1956.4 1322,1948.5 1322.3,1946.3 1322.6,1942 1322.9,1936.4 1323.2,1932.1 1323.5,1925.9 1323.8,1924.5 1324.1,1921.8 1324.4,1918.2 1324.7,1915.4 1325,1909.5 1325.3,1905 1325.6,1903.6 1325.9,1900.6 1326.2,1894 1326.6,1894.4 1326.9,1890.8 1327.2,1891.1 1327.5,1886.6 1327.8,1884.6 1328.1,1880.3 1328.4,1878.2 1328.7,1873.7 1329,1872.6 1329.3,1880.4 1329.6,1872.3 1329.9,1865.9 1330.2,1863.2 1330.5,1869.3 1330.8,1865.3 1331.1,1861.7 1331.4,1858.7 1331.7,1863.3 1332,1850.4 1332.3,1853.8 1332.6,1852.9 1332.9,1850.9 1333.2,1856.2 1333.5,1854.7 1333.8,1846.6 1334.1,1851.3 1334.4,1845.9 1334.8,1843.3 1335.1,1843.2 1335.4,1842.8 1335.7,1846 1336,1843.1 1336.3,1838.2 1336.6,1834.3 1336.9,1842.7 1337.2,1844.7 1337.5,1836.5 1337.8,1841.5 1338.1,1843.8 1338.4,1835.7 1338.7,1842.1 1339,1835.2 1339.3,1835.6 1339.6,1831.8 1339.9,1833.1 1340.2,1834.1 1340.5,1844.8 1340.8,1832 1341.1,1835.8 1341.4,1834.5 1341.7,1833 1342,1831.9 1342.3,1832.6 1342.6,1829.8 1342.9,1828.1 1343.3,1831.1 1343.6,1839.5 1343.9,1834.1 1344.2,1831.4 1344.5,1840.1 1344.8,1834.8 1345.1,1834.6 1345.4,1832 1345.7,1839 1346,1833.1 1346.3,1830.3 1346.6,1825.3 1346.9,1830.2 1347.2,1835.9 1347.5,1833.5 1347.8,1831.8 1348.1,1836.6 1348.4,1835.6 1348.7,1831.7 1349,1836.1 1349.3,1837.6 1349.6,1833.7 1349.9,1839.9 1350.2,1849.2 1350.5,1838.3 1350.8,1845.1 1351.1,1841.1 1351.5,1838.4 1351.8,1843.5 1352.1,1844.6 1352.4,1847.8 1352.7,1848.7 1353,1849.5 1353.3,1842 1353.6,1841.5 1353.9,1849.3 1354.2,1837.5 1354.5,1848.7 1354.8,1849 1355.1,1848.3 1355.4,1839.3 1355.7,1843.4 1356,1839.8 1356.3,1853.1 1356.6,1845.9 1356.9,1848.6 1357.2,1853.2 1357.5,1855.9 1357.8,1848.1 1358.1,1850.7 1358.4,1853 1358.7,1857.5 1359,1857.3 1359.3,1862.8 1359.6,1853.4 1360,1851.8 1360.3,1852.1 1360.6,1859.5 1360.9,1859.2 1361.2,1863.1 1361.5,1855.6 1361.8,1852.5 1362.1,1856.8 1362.4,1858.8 1362.7,1866.8 1363,1861.3 1363.3,1866.1 1363.6,1865.4 1363.9,1864.2 1364.2,1865.2 1364.5,1860.1 1364.8,1869.7 1365.1,1874.2 1365.4,1869.4 1365.7,1863.7 1366,1867.1 1366.3,1864.9 1366.6,1871.9 1366.9,1867.7 1367.2,1873.1 1367.5,1878 1367.8,1870.8 1368.1,1860.7 1368.5,1880.3 1368.8,1875.7 1369.1,1877.1 1369.4,1890.6 1369.7,1873.6 1370,1879.5 1370.3,1875.2 1370.6,1882.5 1370.9,1888.8 1371.2,1879.8 1371.5,1884.8 1371.8,1881.5 1372.1,1880.8 1372.4,1891 1372.7,1883.5 1373,1883 1373.3,1890.5 1373.6,1892.1 1373.9,1892.4 1374.2,1884.3 1374.5,1884.1 1374.8,1894.5 1375.1,1900.7 1375.4,1888.1 1375.7,1895.1 1376,1894.4 1376.3,1897.1 1376.7,1904.3 1377,1895.4 1377.3,1899.8 1377.6,1900.2 1377.9,1897.7 1378.2,1904.1 1378.5,1905.1 1378.8,1902.4 1379.1,1907.7 1379.4,1900.1 1379.7,1903.6 1380,1901.7 1380.3,1908.2 1380.6,1907.1 1380.9,1912 1381.2,1913.7 1381.5,1912.9 1381.8,1912.8 1382.1,1913.6 1382.4,1919.7 1382.7,1904.5 1383,1916.8 1383.3,1914.3 1383.6,1908.6 1383.9,1913.4 1384.2,1911.8 1384.5,1918.3 1384.8,1920.3 1385.2,1919.7 1385.5,1914.2 1385.8,1916.9 1386.1,1920.7 1386.4,1918.4 1386.7,1917.8 1387,1915.3 1387.3,1923.1 1387.6,1929.1 1387.9,1924 1388.2,1927.5 1388.5,1920.8 1388.8,1924.8 1389.1,1936.6 1389.4,1923.1 1389.7,1942 1390,1928.8 1390.3,1923.9 1390.6,1932.4 1390.9,1933.9 1391.2,1937.3 1391.5,1939.9 1391.8,1934 1392.1,1939.1 1392.4,1940.1 1392.7,1942.5 1393,1947.1 1393.3,1943.6 1393.7,1940.6 1394,1942.2 1394.3,1945.3 1394.6,1935.7 1394.9,1947.1 1395.2,1943 1395.5,1941.3 1395.8,1950.4 1396.1,1950.9 1396.4,1940.5 1396.7,1945.2 1397,1944.7 1397.3,1938.9 1397.6,1953.1 1397.9,1950.2 1398.2,1942.1 1398.5,1954.9 1398.8,1959.4 1399.1,1949.9 1399.4,1951.6 1399.7,1954.6 1400,1962.3 1400.3,1950.9 1400.6,1959.3 1400.9,1962.5 1401.2,1957.9 1401.5,1958 1401.9,1955.5 1402.2,1956.5 1402.5,1959.3 1402.8,1955.2 1403.1,1963.4 1403.4,1974.4 1403.7,1967.1 1404,1959.7 1404.3,1963.4 1404.6,1962.7 1404.9,1957.4 1405.2,1977 1405.5,1954.2 1405.8,1964.7 1406.1,1966.5 1406.4,1963.7 1406.7,1974.5 1407,1965.4 1407.3,1964.6 1407.6,1972.3 1407.9,1971.3 1408.2,1961.3 1408.5,1969.5 1408.8,1971.6 1409.1,1986 1409.4,1974.7 1409.7,1989.2 1410,1971.4 1410.4,1972.1 1410.7,1980.1 1411,1985.5 1411.3,1968.2 1411.6,1979.8 1411.9,1972.7 1412.2,1982.3 1412.5,1975.6 1412.8,1983.2 1413.1,1981.7 1413.4,1977.4 1413.7,1991.2 1414,1987.9 1414.3,1980.5 1414.6,1978.6 1414.9,1982.4 1415.2,1980.8 1415.5,1983.9 1415.8,1994.3 1416.1,1980.1 1416.4,1990.9 1416.7,1994.5 1417,1986.5 1417.3,1994.1 1417.6,1996.2 1417.9,2004.7 1418.2,1989 1418.6,1994.2 1418.9,1990.3 1419.2,1987.2 1419.5,1998.6 1419.8,2002.4 1420.1,1989.8 1420.4,1992.2 1420.7,1986.1 1421,1997.4 1421.3,2002.2 1421.6,1994.8 1421.9,2000 1422.2,1996.7 1422.5,1994.7 1422.8,1997.5 1423.1,2008 1423.4,2009.3 1423.7,2001.5 1424,1999.3 1424.3,1993.5 1424.6,2008.4 1424.9,2009.6 1425.2,1999.9 1425.5,2006.6 1425.8,2007 1426.1,2007.9 1426.4,2016.8 1426.7,2005.3 1427.1,2013.5 1427.4,2015.4 1427.7,2013.9 1428,2009.8 1428.3,2012.7 1428.6,2010.1 1428.9,2018.8 1429.2,2020.5 1429.5,2006.6 1429.8,2014.4 1430.1,2011.7 1430.4,2009.2 1430.7,2007.7 1431,2028.7 1431.3,2017.3 1431.6,2012.1 1431.9,2019.4 1432.2,2013.9 1432.5,2022 1432.8,2016 1433.1,2008.1 1433.4,2021.2 1433.7,2021.2 1434,2008 1434.3,2022.2 1434.6,2021.3 1434.9,2020.7 1435.2,2018.8 1435.6,2030.4 1435.9,2022.6 1436.2,2009.3 1436.5,2021.3 1436.8,2023.5 1437.1,2022.5 1437.4,2026.9 1437.7,2021.3 1438,2020 1438.3,2015.4 1438.6,2026 1438.9,2030.2 1439.2,2024 1439.5,2020.9 1439.8,2022.2 1440.1,2025.9 1440.4,2017.7 1440.7,2026 1441,2014.6 1441.3,2022.2 1441.6,2032.6 1441.9,2031.6 1442.2,2027.5 1442.5,2031.1 1442.8,2031 1443.1,2020.4 1443.4,2026.2 1443.8,2039.8 1444.1,2029.2 1444.4,2032.3 1444.7,2027.8 1445,2029.2 1445.3,2032.1 1445.6,2030 1445.9,2030.5 1446.2,2045.1 1446.5,2028.8 1446.8,2053 1447.1,2042.4 1447.4,2018.9 1447.7,2033.2 1448,2046.6 1448.3,2036.5 1448.6,2030.5 1448.9,2037.2 1449.2,2040 1449.5,2034.2 1449.8,2027.7 1450.1,2041.2 1450.4,2035.2 1450.7,2045.5 1451,2043 1451.3,2039.3 1451.6,2030.4 1451.9,2040.5 1452.3,2038.7 1452.6,2053.2 1452.9,2035.6 1453.2,2038.6 1453.5,2035.5 1453.8,2039.6 1454.1,2038.3 1454.4,2048.5 1454.7,2051.4 1455,2040.4 1455.3,2042.2 1455.6,2044.9 1455.9,2026.8 1456.2,2046.5 1456.5,2036.7 1456.8,2037.3 1457.1,2045.4 1457.4,2033.8 1457.7,2042.1 1458,2043.6 1458.3,2045.8 1458.6,2053.4 1458.9,2040.6 1459.2,2046.9 1459.5,2049.1 1459.8,2046.6 1460.1,2045.8 1460.4,2040.5 1460.8,2029.5 1461.1,2042.3 1461.4,2050.4 1461.7,2041.3 1462,2048.9 1462.3,2060.6 1462.6,2053.5 1462.9,2049 1463.2,2051.8 1463.5,2046.2 1463.8,2056.4 1464.1,2049.6 1464.4,2049.8 1464.7,2036.1 1465,2046 1465.3,2045.1 1465.6,2049.2 1465.9,2040.8 1466.2,2057.9 1466.5,2059.3 1466.8,2053.6 1467.1,2059.6 1467.4,2052.1 1467.7,2048.9 1468,2043.6 1468.3,2056.7 1468.6,2053.3 1469,2057.7 1469.3,2052.7 1469.6,2048 1469.9,2048.4 1470.2,2054.9 1470.5,2057.6 1470.8,2056.4 1471.1,2053.3 1471.4,2063.7 1471.7,2056.2 1472,2052.4 1472.3,2052.3 1472.6,2053.4 1472.9,2057.8 1473.2,2056.2 1473.5,2058.5 1473.8,2054 1474.1,2061.1 1474.4,2062.3 1474.7,2063.5 1475,2062.2 1475.3,2053.7 1475.6,2058.9 1475.9,2054 1476.2,2063.8 1476.5,2060.8 1476.8,2059.5 1477.1,2058.6 1477.5,2052.9 1477.8,2061.2 1478.1,2077.4 1478.4,2062.5 1478.7,2055.1 1479,2064.5 1479.3,2059.2 1479.6,2061.1 1479.9,2060.5 1480.2,2059.4 1480.5,2068.2 1480.8,2054.9 1481.1,2059.9 1481.4,2067.8 1481.7,2070.4 1482,2065.2 1482.3,2073.2 1482.6,2076.1 1482.9,2049.8 1483.2,2054.7 1483.5,2062.9 1483.8,2055.3 1484.1,2070 1484.4,2065.7 1484.7,2060.4 1485,2066.4 1485.3,2069.5 1485.7,2073.3 1486,2056.7 1486.3,2074.7 1486.6,2062.5 1486.9,2061.4 1487.2,2070.8 1487.5,2067.7 1487.8,2059.5 1488.1,2065.7 1488.4,2062 1488.7,2071.2 1489,2081.3 1489.3,2061.9 1489.6,2078.1 1489.9,2067.3 1490.2,2061.7 1490.5,2081.1 1490.8,2069.9 1491.1,2070.8 1491.4,2065 1491.7,2077.1 1492,2066.9 1492.3,2069.8 1492.6,2073.1 1492.9,2078.9 1493.2,2074.7 1493.5,2072.4 1493.8,2070.3 1494.2,2065.8 1494.5,2077.4 1494.8,2080 1495.1,2075.4 1495.4,2076.7 1495.7,2071.3 1496,2072.8 1496.3,2064.3 1496.6,2080.6 1496.9,2086.2 1497.2,2065.1 1497.5,2065.1 1497.8,2075.6 1498.1,2078.8 1498.4,2066.6 1498.7,2074.9 1499,2074.3 1499.3,2070 1499.6,2072.3 1499.9,2074.5 1500.2,2071.9 1500.5,2081.4 1500.8,2079 1501.1,2062.6 1501.4,2079.8 1501.7,2067.1 1502,2063.5 1502.3,2081.7 1502.7,2073.4 1503,2075.6 1503.3,2078.2 1503.6,2067.8 1503.9,2087.6 1504.2,2069.2 1504.5,2091.9 1504.8,2078.7 1505.1,2079.1 1505.4,2076.3 1505.7,2075.6 1506,2070.4 1506.3,2075.3 1506.6,2072.7 1506.9,2079 1507.2,2071.2 1507.5,2081.4 1507.8,2071.8 1508.1,2074.7 1508.4,2083.7 1508.7,2077 1509,2084.3 1509.3,2078.9 1509.6,2068.9 1509.9,2070.6 1510.2,2071.5 1510.5,2065.2 1510.9,2078.5 1511.2,2085.1 1511.5,2085.8 1511.8,2069.7 1512.1,2076.4 1512.4,2075.7 1512.7,2066.9 1513,2065.2 1513.3,2078 1513.6,2080.7 1513.9,2076.8 1514.2,2069.2 1514.5,2088.7 1514.8,2080.8 1515.1,2079.8 1515.4,2074.1 1515.7,2073.8 1516,2093.9 1516.3,2094.2 1516.6,2085.4 1516.9,2075.1 1517.2,2067.6 1517.5,2079.2 1517.8,2075.4 1518.1,2080.5 1518.4,2085.4 1518.7,2074.7 1519,2080.7 1519.4,2079.7 1519.7,2080 1520,2068.4 1520.3,2074.2 1520.6,2078.9 1520.9,2076.6 1521.2,2085.8 1521.5,2088.6 1521.8,2080.3 1522.1,2096.9 1522.4,2087.8 1522.7,2088 1523,2079.9 1523.3,2080.4 1523.6,2085 1523.9,2074.1 1524.2,2083.3 1524.5,2074.3 1524.8,2079.7 1525.1,2091.6 1525.4,2082.5 1525.7,2081.6 1526,2087.8 1526.3,2073.4 1526.6,2086.1 1526.9,2082.8 1527.2,2081.4 1527.6,2084.2 1527.9,2085.2 1528.2,2085.7 1528.5,2070.1 1528.8,2078.4 1529.1,2088.9 1529.4,2075.4 1529.7,2092.9 1530,2082.5 1530.3,2076.1 1530.6,2105.8 1530.9,2089.2 1531.2,2090.9 1531.5,2079.4 1531.8,2086.2 1532.1,2075.4 1532.4,2085.3 1532.7,2085.7 1533,2092 1533.3,2086.1 1533.6,2091.6 1533.9,2090.6 1534.2,2100.2 1534.5,2091.4 1534.8,2082.6 1535.1,2090 1535.4,2077.1 1535.7,2084.3 1536.1,2090 1536.4,2090 1536.7,2085.7 1537,2079.5 1537.3,2087 1537.6,2072.5 1537.9,2093.3 1538.2,2091 1538.5,2077.6 1538.8,2087.3 1539.1,2086.9 1539.4,2084 1539.7,2093.1 1540,2086.8 1540.3,2073.8 1540.6,2071.5 1540.9,2097.7 1541.2,2087.2 1541.5,2079.3 1541.8,2077.8 1542.1,2099.7 1542.4,2092.4 1542.7,2074.7 1543,2082.6 1543.3,2084.2 1543.6,2091.2 1543.9,2082.9 1544.2,2090.6 1544.6,2086.1 1544.9,2078.3 1545.2,2088.9 1545.5,2088.5 1545.8,2083.8 1546.1,2078 1546.4,2084.4 1546.7,2075.3 1547,2079.8 1547.3,2086.9 1547.6,2081.3 1547.9,2088 1548.2,2080.8 1548.5,2097.9 1548.8,2093.4 1549.1,2089.2 1549.4,2086.8 1549.7,2079.8 1550,2086.2 1550.3,2089.7 1550.6,2074.2 1550.9,2094.5 1551.2,2088.5 1551.5,2082.7 1551.8,2091.2 1552.1,2096 1552.4,2086.9 1552.8,2092 1553.1,2092.6 1553.4,2087 1553.7,2085.4 1554,2094.3 1554.3,2097.5 1554.6,2088.6 1554.9,2084.2 1555.2,2097.1 1555.5,2085.6 1555.8,2086.9 1556.1,2090.8 1556.4,2095.2 1556.7,2088.5 1557,2079 1557.3,2085.7 1557.6,2094.7 1557.9,2094.8 1558.2,2095.6 1558.5,2087.3 1558.8,2088.1 1559.1,2095.5 1559.4,2085.5 1559.7,2099.5 1560,2080.7 1560.3,2101.3 1560.6,2082 1560.9,2090.9 1561.3,2087.8 1561.6,2081.6 1561.9,2097.8 1562.2,2093.4 1562.5,2094 1562.8,2101.6 1563.1,2099.4 1563.4,2095.7 1563.7,2094.2 1564,2096.3 1564.3,2093.2 1564.6,2087.2 1564.9,2096.1" fill="none" stroke="#fb8a0a" stroke-width="3.2" />
<polyline points="1291.9,2086.7 1292.2,2088 1292.5,2092.6 1292.9,2092 1293.2,2094.7 1293.5,2089.9 1293.8,2092.6 1294.1,2091 1294.4,2099.2 1294.7,2089.8 1295,2094.8 1295.3,2092.2 1295.6,2097.4 1295.9,2092.1 1296.2,2089.9 1296.5,2089 1296.8,2087.3 1297.1,2084.1 1297.4,2094.8 1297.7,2085.2 1298,2087.6 1298.3,2091.4 1298.6,2087.4 1298.9,2091.7 1299.2,2090.7 1299.5,2084.2 1299.8,2094.9 1300.1,2092.1 1300.4,2091.6 1300.7,2084.5 1301,2092.1 1301.4,2091.4 1301.7,2095.7 1302,2094.7 1302.3,2098.2 1302.6,2087.9 1302.9,2097.1 1303.2,2096.9 1303.5,2089.8 1303.8,2091.5 1304.1,2090.7 1304.4,2091.8 1304.7,2092.8 1305,2094.4 1305.3,2091.8 1305.6,2086.5 1305.9,2094.4 1306.2,2090.7 1306.5,2093.6 1306.8,2095.2 1307.1,2086.7 1307.4,2086.6 1307.7,2092 1308,2091.6 1308.3,2093.8 1308.6,2088.1 1308.9,2095.3 1309.2,2093.9 1309.6,2086.6 1309.9,2101 1310.2,2091.5 1310.5,2094.3 1310.8,2095.8 1311.1,2091.5 1311.4,2088.3 1311.7,2092.1 1312,2088.5 1312.3,2090 1312.6,2092.2 1312.9,2088.1 1313.2,2092 1313.5,2089.1 1313.8,2088.3 1314.1,2087.8 1314.4,2085.9 1314.7,2081.8 1315,2077.6 1315.3,2073.4 1315.6,2068.2 1315.9,2060.4 1316.2,2057.1 1316.5,2051 1316.8,2045.9 1317.1,2042 1317.4,2036.8 1317.7,2027.8 1318.1,2024.1 1318.4,2018.7 1318.7,2011.2 1319,2006.4 1319.3,2001.4 1319.6,1994.7 1319.9,1989.5 1320.2,1981.5 1320.5,1977.2 1320.8,1970.3 1321.1,1966.5 1321.4,1958 1321.7,1953.7 1322,1948.4 1322.3,1943.5 1322.6,1942.2 1322.9,1937.4 1323.2,1932.5 1323.5,1928 1323.8,1924.1 1324.1,1919.7 1324.4,1916.9 1324.7,1912.8 1325,1909.5 1325.3,1905.3 1325.6,1902 1325.9,1897.4 1326.2,1897.1 1326.6,1894 1326.9,1891.6 1327.2,1890 1327.5,1885.2 1327.8,1880.7 1328.1,1880.3 1328.4,1878.8 1328.7,1875.8 1329,1875.2 1329.3,1869.7 1329.6,1871.2 1329.9,1867.5 1330.2,1873.5 1330.5,1865.9 1330.8,1856.5 1331.1,1857.2 1331.4,1858.7 1331.7,1859.3 1332,1862.5 1332.3,1859.6 1332.6,1851.9 1332.9,1853.4 1333.2,1852.8 1333.5,1843.5 1333.8,1858.1 1334.1,1845.3 1334.4,1850.6 1334.8,1848.5 1335.1,1838.3 1335.4,1850.3 1335.7,1849.1 1336,1843.5 1336.3,1850 1336.6,1843.7 1336.9,1844 1337.2,1844.8 1337.5,1832.9 1337.8,1842.8 1338.1,1839.1 1338.4,1838.6 1338.7,1831.5 1339,1841 1339.3,1838 1339.6,1833.6 1339.9,1835.9 1340.2,1840.5 1340.5,1838.3 1340.8,1833 1341.1,1833.6 1341.4,1843.5 1341.7,1829.1 1342,1834.5 1342.3,1836.9 1342.6,1838.4 1342.9,1830 1343.3,1838.2 1343.6,1835.1 1343.9,1834 1344.2,1841.3 1344.5,1840.6 1344.8,1837.4 1345.1,1836.7 1345.4,1830.9 1345.7,1831.8 1346,1832.4 1346.3,1840.4 1346.6,1829.2 1346.9,1835.9 1347.2,1829.2 1347.5,1832.6 1347.8,1829.2 1348.1,1832.6 1348.4,1841.3 1348.7,1838.4 1349,1840 1349.3,1837.3 1349.6,1836.5 1349.9,1839.3 1350.2,1842.2 1350.5,1834.8 1350.8,1842.7 1351.1,1840.4 1351.5,1846 1351.8,1842.1 1352.1,1841.6 1352.4,1841.9 1352.7,1838.7 1353,1845 1353.3,1839.6 1353.6,1845.9 1353.9,1847.1 1354.2,1845.2 1354.5,1849.7 1354.8,1845.3 1355.1,1845.8 1355.4,1840.9 1355.7,1846 1356,1848.8 1356.3,1856.5 1356.6,1843.8 1356.9,1852.5 1357.2,1848.9 1357.5,1853.1 1357.8,1859.4 1358.1,1850.3 1358.4,1858.6 1358.7,1847.9 1359,1852.8 1359.3,1856.3 1359.6,1851.4 1360,1853.4 1360.3,1853.7 1360.6,1867.6 1360.9,1859.7 1361.2,1859.4 1361.5,1861.6 1361.8,1854.2 1362.1,1862.5 1362.4,1861.7 1362.7,1862.8 1363,1862.6 1363.3,1863 1363.6,1863.7 1363.9,1862.6 1364.2,1864.2 1364.5,1860.2 1364.8,1865.2 1365.1,1863.2 1365.4,1866 1365.7,1862 1366,1871 1366.3,1871.9 1366.6,1867.2 1366.9,1864.7 1367.2,1875.5 1367.5,1874.5 1367.8,1875 1368.1,1876.6 1368.5,1875.7 1368.8,1874.2 1369.1,1881.1 1369.4,1871.3 1369.7,1885.3 1370,1878.7 1370.3,1879.3 1370.6,1875.1 1370.9,1881 1371.2,1879.4 1371.5,1882.9 1371.8,1889.4 1372.1,1888.9 1372.4,1884.9 1372.7,1884.9 1373,1883.9 1373.3,1892.7 1373.6,1883.4 1373.9,1888.7 1374.2,1880.2 1374.5,1883.9 1374.8,1893.1 1375.1,1890.7 1375.4,1893 1375.7,1893.5 1376,1900.4 1376.3,1890.2 1376.7,1907 1377,1895.1 1377.3,1900.1 1377.6,1900.4 1377.9,1908.1 1378.2,1898 1378.5,1900.8 1378.8,1898.8 1379.1,1905.2 1379.4,1905.7 1379.7,1898 1380,1895.8 1380.3,1903.3 1380.6,1908.6 1380.9,1903 1381.2,1901.7 1381.5,1907.4 1381.8,1906.6 1382.1,1913.4 1382.4,1911.4 1382.7,1911.2 1383,1909.5 1383.3,1910.4 1383.6,1915.4 1383.9,1917.7 1384.2,1920.1 1384.5,1918 1384.8,1921.2 1385.2,1910.7 1385.5,1919.9 1385.8,1918.5 1386.1,1917.6 1386.4,1927.7 1386.7,1923 1387,1919.9 1387.3,1928.8 1387.6,1923.6 1387.9,1921.3 1388.2,1928.1 1388.5,1928.6 1388.8,1923.7 1389.1,1933.4 1389.4,1936.4 1389.7,1934.2 1390,1928.2 1390.3,1937.2 1390.6,1937.6 1390.9,1933.9 1391.2,1938.7 1391.5,1931.8 1391.8,1934.6 1392.1,1936.4 1392.4,1935.9 1392.7,1934.2 1393,1930.4 1393.3,1943.2 1393.7,1932.8 1394,1940.4 1394.3,1945.3 1394.6,1939.6 1394.9,1945.8 1395.2,1951.8 1395.5,1947 1395.8,1949.8 1396.1,1949.2 1396.4,1950.5 1396.7,1946.1 1397,1951 1397.3,1947.3 1397.6,1941.4 1397.9,1956.9 1398.2,1952.4 1398.5,1952 1398.8,1950.4 1399.1,1953.5 1399.4,1941.2 1399.7,1949.1 1400,1957.5 1400.3,1952 1400.6,1953.1 1400.9,1955.2 1401.2,1951.5 1401.5,1952.3 1401.9,1961.5 1402.2,1965.7 1402.5,1960.5 1402.8,1960.4 1403.1,1958.5 1403.4,1961.5 1403.7,1970.7 1404,1962.7 1404.3,1967 1404.6,1961.6 1404.9,1970.1 1405.2,1966.1 1405.5,1967.4 1405.8,1966.9 1406.1,1963.3 1406.4,1963.1 1406.7,1971.4 1407,1972.5 1407.3,1971.1 1407.6,1966.7 1407.9,1972.5 1408.2,1977.1 1408.5,1975.1 1408.8,1967.2 1409.1,1973.3 1409.4,1973.3 1409.7,1976.7 1410,1977.4 1410.4,1971.5 1410.7,1974.2 1411,1971.7 1411.3,1974.6 1411.6,1980.7 1411.9,1976.4 1412.2,1979.2 1412.5,1977.1 1412.8,1980 1413.1,1974.7 1413.4,1983.7 1413.7,1981.2 1414,1985.4 1414.3,1983.9 1414.6,1980.4 1414.9,1989.6 1415.2,1990.6 1415.5,1987.7 1415.8,1988 1416.1,1988.6 1416.4,1985.8 1416.7,1986.3 1417,1992.5 1417.3,1988.1 1417.6,1989.5 1417.9,1986 1418.2,2002.2 1418.6,1995.2 1418.9,1990.5 1419.2,2002.2 1419.5,1991 1419.8,1997.1 1420.1,1987.9 1420.4,1996.9 1420.7,2001 1421,1988.7 1421.3,1995.9 1421.6,1988.5 1421.9,1997.4 1422.2,1993.2 1422.5,1998.6 1422.8,1997.8 1423.1,2003.4 1423.4,1993.6 1423.7,2004 1424,1998.4 1424.3,2005.7 1424.6,1999.4 1424.9,2008.3 1425.2,2007.7 1425.5,2009.9 1425.8,2002.5 1426.1,2009.2 1426.4,1999.3 1426.7,2007 1427.1,2009.7 1427.4,2008.8 1427.7,2012.5 1428,2003.6 1428.3,2011.2 1428.6,2006.8 1428.9,2002.2 1429.2,2009.8 1429.5,2004.2 1429.8,2010.4 1430.1,2004 1430.4,2006.6 1430.7,2012.7 1431,2014.4 1431.3,2006.9 1431.6,2013.9 1431.9,2007.7 1432.2,2015.6 1432.5,2015 1432.8,2016 1433.1,2011.7 1433.4,2017.8 1433.7,2016.3 1434,2011.5 1434.3,2017.1 1434.6,2015.7 1434.9,2022.7 1435.2,2014.1 1435.6,2019.8 1435.9,2023.1 1436.2,2018.8 1436.5,2016.9 1436.8,2015.9 1437.1,2013.7 1437.4,2024 1437.7,2031.6 1438,2023.4 1438.3,2021.3 1438.6,2023.3 1438.9,2016.3 1439.2,2019.5 1439.5,2026.9 1439.8,2024.6 1440.1,2027.7 1440.4,2020.2 1440.7,2031.3 1441,2023.7 1441.3,2026.9 1441.6,2023.6 1441.9,2031.4 1442.2,2027.7 1442.5,2026.5 1442.8,2023.4 1443.1,2024.3 1443.4,2027.4 1443.8,2038.6 1444.1,2024.7 1444.4,2034.9 1444.7,2023.5 1445,2041.3 1445.3,2026.8 1445.6,2035.2 1445.9,2028.2 1446.2,2030.2 1446.5,2031.8 1446.8,2028.5 1447.1,2028 1447.4,2030 1447.7,2035.4 1448,2029.4 1448.3,2039.1 1448.6,2034.2 1448.9,2025.6 1449.2,2043.2 1449.5,2037.3 1449.8,2036.1 1450.1,2026.5 1450.4,2031.6 1450.7,2029 1451,2031.5 1451.3,2037.5 1451.6,2039.7 1451.9,2044.5 1452.3,2037.8 1452.6,2037.7 1452.9,2037.8 1453.2,2042.4 1453.5,2045.5 1453.8,2034 1454.1,2033.8 1454.4,2033.2 1454.7,2040.6 1455,2048.1 1455.3,2042.6 1455.6,2044.7 1455.9,2038.7 1456.2,2043.5 1456.5,2039.9 1456.8,2044 1457.1,2041.3 1457.4,2043.8 1457.7,2049.5 1458,2038.8 1458.3,2045.5 1458.6,2043.3 1458.9,2038.5 1459.2,2049.2 1459.5,2050.9 1459.8,2047.4 1460.1,2045.7 1460.4,2046.9 1460.8,2049.6 1461.1,2054 1461.4,2044.9 1461.7,2051.2 1462,2048.6 1462.3,2043.7 1462.6,2049.8 1462.9,2046.8 1463.2,2051.2 1463.5,2047.1 1463.8,2046 1464.1,2046.1 1464.4,2048.6 1464.7,2053 1465,2051.2 1465.3,2051.2 1465.6,2047.4 1465.9,2046.2 1466.2,2054.6 1466.5,2051 1466.8,2050.3 1467.1,2046.3 1467.4,2060.4 1467.7,2051.9 1468,2051.2 1468.3,2057.7 1468.6,2051 1469,2055.1 1469.3,2057.9 1469.6,2054 1469.9,2056.1 1470.2,2054.6 1470.5,2052.2 1470.8,2057.5 1471.1,2059.5 1471.4,2059.4 1471.7,2052.5 1472,2060.7 1472.3,2051 1472.6,2051.6 1472.9,2049.4 1473.2,2056.4 1473.5,2056.8 1473.8,2051.8 1474.1,2055.3 1474.4,2055.8 1474.7,2063.1 1475,2059.9 1475.3,2055.4 1475.6,2052 1475.9,2052.4 1476.2,2068 1476.5,2059.1 1476.8,2063.7 1477.1,2062.1 1477.5,2062.9 1477.8,2059.2 1478.1,2055.7 1478.4,2054.6 1478.7,2065 1479,2052.3 1479.3,2055.2 1479.6,2064.6 1479.9,2059.1 1480.2,2064.3 1480.5,2061.5 1480.8,2065.5 1481.1,2063.2 1481.4,2055.6 1481.7,2068.8 1482,2059.7 1482.3,2065.8 1482.6,2063.9 1482.9,2064.9 1483.2,2052.7 1483.5,2062 1483.8,2073.4 1484.1,2069.5 1484.4,2060.9 1484.7,2072.1 1485,2070.6 1485.3,2067.7 1485.7,2064.5 1486,2067.7 1486.3,2064.9 1486.6,2072.9 1486.9,2066.8 1487.2,2069.3 1487.5,2063.4 1487.8,2076.3 1488.1,2073.3 1488.4,2064.4 1488.7,2078.7 1489,2065.5 1489.3,2059.9 1489.6,2062 1489.9,2069.6 1490.2,2069.7 1490.5,2066.3 1490.8,2069.3 1491.1,2064.3 1491.4,2068.2 1491.7,2068.1 1492,2068.6 1492.3,2063.6 1492.6,2065.2 1492.9,2068 1493.2,2063.2 1493.5,2067.5 1493.8,2076.2 1494.2,2077.3 1494.5,2068.5 1494.8,2071.2 1495.1,2077.5 1495.4,2075.3 1495.7,2071.6 1496,2069.8 1496.3,2083 1496.6,2075.3 1496.9,2065.3 1497.2,2063.4 1497.5,2075.5 1497.8,2070.8 1498.1,2080 1498.4,2064.3 1498.7,2066 1499,2073.8 1499.3,2067.5 1499.6,2079.6 1499.9,2076.6 1500.2,2080.5 1500.5,2059.7 1500.8,2065 1501.1,2078.1 1501.4,2067.3 1501.7,2079.6 1502,2068.8 1502.3,2086.2 1502.7,2073.1 1503,2074.3 1503.3,2079.9 1503.6,2077.5 1503.9,2074.4 1504.2,2092.1 1504.5,2073.1 1504.8,2068.7 1505.1,2081.6 1505.4,2077.1 1505.7,2073 1506,2073.5 1506.3,2077.7 1506.6,2082.4 1506.9,2081 1507.2,2067.6 1507.5,2076.3 1507.8,2075.2 1508.1,2080.8 1508.4,2071.3 1508.7,2076.6 1509,2079.9 1509.3,2077.5 1509.6,2079.4 1509.9,2087.2 1510.2,2083.4 1510.5,2070.3 1510.9,2085.5 1511.2,2083.7 1511.5,2072.9 1511.8,2078.1 1512.1,2076.5 1512.4,2083.3 1512.7,2074.8 1513,2078 1513.3,2084 1513.6,2075.9 1513.9,2076.9 1514.2,2085.1 1514.5,2076.3 1514.8,2095.3 1515.1,2077.8 1515.4,2069.8 1515.7,2085.1 1516,2080.5 1516.3,2082.5 1516.6,2084.3 1516.9,2090.7 1517.2,2086.6 1517.5,2076.7 1517.8,2086.6 1518.1,2082.1 1518.4,2074.6 1518.7,2077.9 1519,2091.1 1519.4,2077.5 1519.7,2086.1 1520,2080.4 1520.3,2084.4 1520.6,2075.7 1520.9,2080.1 1521.2,2072 1521.5,2091.5 1521.8,2083.5 1522.1,2075.1 1522.4,2080.7 1522.7,2085.5 1523,2080.7 1523.3,2075.4 1523.6,2074.5 1523.9,2085.1 1524.2,2086.2 1524.5,2068.8 1524.8,2078.6 1525.1,2079.1 1525.4,2082.3 1525.7,2086.3 1526,2088.8 1526.3,2080.2 1526.6,2077.6 1526.9,2078.8 1527.2,2090.6 1527.6,2082.4 1527.9,2088 1528.2,2085.7 1528.5,2095.3 1528.8,2075.1 1529.1,2081.5 1529.4,2081 1529.7,2091.2 1530,2082.5 1530.3,2087.6 1530.6,2071.2 1530.9,2082.6 1531.2,2089.6 1531.5,2089.8 1531.8,2082.1 1532.1,2079.3 1532.4,2081.9 1532.7,2083.7 1533,2093.9 1533.3,2081.9 1533.6,2087.6 1533.9,2091.7 1534.2,2083.6 1534.5,2079.1 1534.8,2082.4 1535.1,2086.2 1535.4,2086.6 1535.7,2083.4 1536.1,2090.7 1536.4,2078.4 1536.7,2083.1 1537,2084.8 1537.3,2085.6 1537.6,2080.5 1537.9,2086.4 1538.2,2085 1538.5,2083.5 1538.8,2086.4 1539.1,2089.3 1539.4,2089.9 1539.7,2084.6 1540,2088.7 1540.3,2100.3 1540.6,2091.1 1540.9,2095 1541.2,2084.1 1541.5,2092.5 1541.8,2091.2 1542.1,2081.9 1542.4,2086.8 1542.7,2085.7 1543,2085.1 1543.3,2082.4 1543.6,2090.4 1543.9,2087.4 1544.2,2092.1 1544.6,2078.3 1544.9,2091.4 1545.2,2084 1545.5,2093.2 1545.8,2088.4 1546.1,2087.5 1546.4,2081.7 1546.7,2086.6 1547,2076.5 1547.3,2086.3 1547.6,2087.2 1547.9,2085.4 1548.2,2088.2 1548.5,2087.6 1548.8,2092.2 1549.1,2089.2 1549.4,2096.3 1549.7,2085.1 1550,2090.6 1550.3,2092.8 1550.6,2088.8 1550.9,2090 1551.2,2096.8 1551.5,2091.1 1551.8,2088.7 1552.1,2092.6 1552.4,2082.4 1552.8,2088.5 1553.1,2084.8 1553.4,2093 1553.7,2086.5 1554,2092.3 1554.3,2087.9 1554.6,2091.6 1554.9,2094.6 1555.2,2079.6 1555.5,2095.8 1555.8,2082.8 1556.1,2090.4 1556.4,2093.9 1556.7,2092.9 1557,2102.8 1557.3,2085.8 1557.6,2090.6 1557.9,2088.3 1558.2,2081.8 1558.5,2091.6 1558.8,2077.9 1559.1,2093.6 1559.4,2084.3 1559.7,2095.6 1560,2083.4 1560.3,2092 1560.6,2094.2 1560.9,2101.5 1561.3,2090 1561.6,2079.2 1561.9,2098 1562.2,2100.6 1562.5,2084.2 1562.8,2095.2 1563.1,2088.6 1563.4,2083.2 1563.7,2095.7 1564,2094.4 1564.3,2100.1 1564.6,2089 1564.9,2084.7" fill="none" stroke="#fb8a0a" stroke-width="3.4" />
<polyline points="1291.9,2092.4 1292.2,2092.4 1292.5,2092.4 1292.9,2092.4 1293.2,2092.4 1293.5,2092.4 1293.8,2092.4 1294.1,2092.4 1294.4,2092.4 1294.7,2092.4 1295,2092.4 1295.3,2092.4 1295.6,2092.4 1295.9,2092.4 1296.2,2092.4 1296.5,2092.4 1296.8,2092.4 1297.1,2092.4 1297.4,2092.4 1297.7,2092.4 1298,2092.4 1298.3,2092.4 1298.6,2092.4 1298.9,2092.4 1299.2,2092.4 1299.5,2092.4 1299.8,2092.4 1300.1,2092.4 1300.4,2092.4 1300.7,2092.4 1301,2092.4 1301.4,2092.4 1301.7,2092.4 1302,2092.4 1302.3,2092.4 1302.6,2092.4 1302.9,2092.4 1303.2,2092.4 1303.5,2092.4 1303.8,2092.4 1304.1,2092.4 1304.4,2092.4 1304.7,2092.4 1305,2092.4 1305.3,2092.4 1305.6,2092.4 1305.9,2092.4 1306.2,2092.4 1306.5,2092.4 1306.8,2092.4 1307.1,2092.4 1307.4,2092.4 1307.7,2092.4 1308,2092.4 1308.3,2092.4 1308.6,2092.4 1308.9,2092.4 1309.2,2092.4 1309.6,2092.4 1309.9,2092.4 1310.2,2092.4 1310.5,2092.4 1310.8,2092.4 1311.1,2092.4 1311.4,2092.4 1311.7,2092.4 1312,2092.2 1312.3,2091.8 1312.6,2091.2 1312.9,2090.4 1313.2,2089.5 1313.5,2088.6 1313.8,2087.7 1314.1,2086.5 1314.4,2084.5" fill="none" stroke="#fdb813" stroke-width="5.6" />
<polyline points="1329.9,1868 1330.2,1866.5 1330.5,1865 1330.8,1863.4 1331.1,1861.9 1331.4,1860.4 1331.7,1858.9 1332,1857.4 1332.3,1855.9 1332.6,1854.3 1332.9,1852.8 1333.2,1851.4 1333.5,1850 1333.8,1848.9 1334.1,1847.9 1334.4,1847 1334.8,1846.3 1335.1,1845.5 1335.4,1844.7 1335.7,1844 1336,1843.2 1336.3,1842.5 1336.6,1841.7 1336.9,1840.9 1337.2,1840.2 1337.5,1839.4 1337.8,1838.7 1338.1,1838 1338.4,1837.4 1338.7,1836.9 1339,1836.5 1339.3,1836.2 1339.6,1835.9 1339.9,1835.7 1340.2,1835.4 1340.5,1835.2 1340.8,1834.9 1341.1,1834.7 1341.4,1834.4 1341.7,1834.2 1342,1833.9 1342.3,1833.7 1342.6,1833.6 1342.9,1833.5 1343.3,1833.5 1343.6,1833.6 1343.9,1833.8 1344.2,1833.9 1344.5,1834 1344.8,1834.2 1345.1,1834.3 1345.4,1834.5 1345.7,1834.6 1346,1834.7 1346.3,1834.9 1346.6,1835 1346.9,1835.1 1347.2,1835.3 1347.5,1835.4 1347.8,1835.6 1348.1,1835.9 1348.4,1836.3 1348.7,1836.7 1349,1837.1 1349.3,1837.6 1349.6,1838 1349.9,1838.5 1350.2,1838.9 1350.5,1839.4 1350.8,1839.8 1351.1,1840.3 1351.5,1840.8 1351.8,1841.2 1352.1,1841.7 1352.4,1842.1 1352.7,1842.6 1353,1843 1353.3,1843.5 1353.6,1843.9 1353.9,1844.4 1354.2,1844.9 1354.5,1845.3 1354.8,1845.8 1355.1,1846.3 1355.4,1846.8 1355.7,1847.4 1356,1848.1 1356.3,1848.7 1356.6,1849.3 1356.9,1850 1357.2,1850.6 1357.5,1851.2 1357.8,1851.9 1358.1,1852.5 1358.4,1853.2 1358.7,1853.8 1359,1854.4 1359.3,1855.1 1359.6,1855.7 1360,1856.3 1360.3,1857 1360.6,1857.6 1360.9,1858.3 1361.2,1858.9 1361.5,1859.5 1361.8,1860.2 1362.1,1860.8 1362.4,1861.4 1362.7,1862.1 1363,1862.7 1363.3,1863.4 1363.6,1864 1363.9,1864.6 1364.2,1865.3 1364.5,1865.9 1364.8,1866.5 1365.1,1867.2 1365.4,1867.8 1365.7,1868.5 1366,1869.1 1366.3,1869.7 1366.6,1870.4 1366.9,1871.1 1367.2,1871.8 1367.5,1872.5 1367.8,1873.3 1368.1,1874.1 1368.5,1874.8 1368.8,1875.6 1369.1,1876.4 1369.4,1877.2 1369.7,1878 1370,1878.8 1370.3,1879.6 1370.6,1880.4 1370.9,1881.2 1371.2,1881.9 1371.5,1882.7 1371.8,1883.5 1372.1,1884.3 1372.4,1885.1 1372.7,1885.9 1373,1886.7 1373.3,1887.5 1373.6,1888.3 1373.9,1889.1 1374.2,1889.8 1374.5,1890.6 1374.8,1891.4 1375.1,1892.2 1375.4,1893 1375.7,1893.8 1376,1894.6 1376.3,1895.4 1376.7,1896.2 1377,1896.9 1377.3,1897.7 1377.6,1898.5 1377.9,1899.3 1378.2,1900.1 1378.5,1900.9 1378.8,1901.7 1379.1,1902.5 1379.4,1903.3 1379.7,1904.1 1380,1904.8 1380.3,1905.6 1380.6,1906.4 1380.9,1907.2 1381.2,1908 1381.5,1908.8 1381.8,1909.6 1382.1,1910.4 1382.4,1911.2 1382.7,1911.9 1383,1912.7 1383.3,1913.5 1383.6,1914.3 1383.9,1915.1 1384.2,1915.9 1384.5,1916.7 1384.8,1917.5 1385.2,1918.3 1385.5,1919.1 1385.8,1919.8 1386.1,1920.6 1386.4,1921.4 1386.7,1922.2 1387,1923 1387.3,1923.8 1387.6,1924.6 1387.9,1925.4 1388.2,1926.2 1388.5,1926.9 1388.8,1927.7 1389.1,1928.5 1389.4,1929.3 1389.7,1930.1 1390,1930.9 1390.3,1931.7 1390.6,1932.5 1390.9,1933.2 1391.2,1934 1391.5,1934.7 1391.8,1935.4 1392.1,1936.1 1392.4,1936.8 1392.7,1937.5 1393,1938.2 1393.3,1938.9 1393.7,1939.6 1394,1940.3 1394.3,1941 1394.6,1941.7 1394.9,1942.4 1395.2,1943.1 1395.5,1943.8 1395.8,1944.5 1396.1,1945.2 1396.4,1945.9 1396.7,1946.6 1397,1947.3 1397.3,1948 1397.6,1948.7 1397.9,1949.4 1398.2,1950.1 1398.5,1950.8 1398.8,1951.5 1399.1,1952.2 1399.4,1952.8 1399.7,1953.5 1400,1954.2 1400.3,1954.9 1400.6,1955.6 1400.9,1956.3 1401.2,1957 1401.5,1957.7 1401.9,1958.4 1402.2,1959.1 1402.5,1959.8 1402.8,1960.5 1403.1,1961.2 1403.4,1961.8 1403.7,1962.4 1404,1963 1404.3,1963.6 1404.6,1964.2 1404.9,1964.8 1405.2,1965.5 1405.5,1966.1 1405.8,1966.7 1406.1,1967.3 1406.4,1967.9 1406.7,1968.5 1407,1969.1 1407.3,1969.7 1407.6,1970.3 1407.9,1970.9 1408.2,1971.5 1408.5,1972.1 1408.8,1972.7 1409.1,1973.4 1409.4,1974 1409.7,1974.6 1410,1975.2 1410.4,1975.8 1410.7,1976.4 1411,1977 1411.3,1977.6 1411.6,1978.2 1411.9,1978.8 1412.2,1979.4 1412.5,1980 1412.8,1980.6 1413.1,1981.2 1413.4,1981.9 1413.7,1982.5 1414,1983.1 1414.3,1983.7 1414.6,1984.3 1414.9,1984.9 1415.2,1985.5 1415.5,1986 1415.8,1986.6 1416.1,1987.2 1416.4,1987.7 1416.7,1988.3 1417,1988.9 1417.3,1989.4 1417.6,1990 1417.9,1990.6 1418.2,1991.2 1418.6,1991.7 1418.9,1992.3 1419.2,1992.9 1419.5,1993.4 1419.8,1994 1420.1,1994.6 1420.4,1995.1 1420.7,1995.7 1421,1996.3 1421.3,1996.8 1421.6,1997.4 1421.9,1998 1422.2,1998.6 1422.5,1999.1 1422.8,1999.7 1423.1,2000.3 1423.4,2000.8 1423.7,2001.4 1424,2002 1424.3,2002.5 1424.6,2003 1424.9,2003.5 1425.2,2004 1425.5,2004.4 1425.8,2004.9 1426.1,2005.3 1426.4,2005.8 1426.7,2006.2 1427.1,2006.7 1427.4,2007.2 1427.7,2007.6 1428,2008.1 1428.3,2008.5 1428.6,2009 1428.9,2009.4 1429.2,2009.9 1429.5,2010.3 1429.8,2010.8 1430.1,2011.3 1430.4,2011.7 1430.7,2012.2 1431,2012.6 1431.3,2013.1 1431.6,2013.5 1431.9,2014 1432.2,2014.4 1432.5,2014.9 1432.8,2015.4 1433.1,2015.8 1433.4,2016.3 1433.7,2016.7 1434,2017.1 1434.3,2017.5 1434.6,2017.9 1434.9,2018.3 1435.2,2018.7 1435.6,2019.1 1435.9,2019.4 1436.2,2019.8 1436.5,2020.2 1436.8,2020.6 1437.1,2021 1437.4,2021.3 1437.7,2021.7 1438,2022.1 1438.3,2022.5 1438.6,2022.9 1438.9,2023.2 1439.2,2023.6 1439.5,2024 1439.8,2024.4 1440.1,2024.8 1440.4,2025.1 1440.7,2025.5 1441,2025.9 1441.3,2026.3 1441.6,2026.7 1441.9,2027 1442.2,2027.4 1442.5,2027.8 1442.8,2028.2 1443.1,2028.6 1443.4,2028.9 1443.8,2029.3 1444.1,2029.7 1444.4,2030.1 1444.7,2030.5 1445,2030.8 1445.3,2031.2 1445.6,2031.6 1445.9,2032 1446.2,2032.4 1446.5,2032.7 1446.8,2033.1 1447.1,2033.5 1447.4,2033.9 1447.7,2034.2 1448,2034.6 1448.3,2035 1448.6,2035.3 1448.9,2035.6 1449.2,2035.9 1449.5,2036.1 1449.8,2036.4 1450.1,2036.7 1450.4,2037 1450.7,2037.3 1451,2037.5 1451.3,2037.8 1451.6,2038.1 1451.9,2038.4 1452.3,2038.6 1452.6,2038.9 1452.9,2039.2 1453.2,2039.5 1453.5,2039.8 1453.8,2040 1454.1,2040.3 1454.4,2040.6 1454.7,2040.9 1455,2041.1 1455.3,2041.4 1455.6,2041.7 1455.9,2042 1456.2,2042.3 1456.5,2042.5 1456.8,2042.8 1457.1,2043.1 1457.4,2043.4 1457.7,2043.7 1458,2043.9 1458.3,2044.2 1458.6,2044.5 1458.9,2044.8 1459.2,2045 1459.5,2045.3 1459.8,2045.6 1460.1,2045.9 1460.4,2046.2 1460.8,2046.4 1461.1,2046.7 1461.4,2047 1461.7,2047.3 1462,2047.6 1462.3,2047.8 1462.6,2048.1 1462.9,2048.4 1463.2,2048.6 1463.5,2048.8 1463.8,2049.1 1464.1,2049.3 1464.4,2049.6 1464.7,2049.8 1465,2050.1 1465.3,2050.3 1465.6,2050.5 1465.9,2050.8 1466.2,2051 1466.5,2051.3 1466.8,2051.5 1467.1,2051.8 1467.4,2052 1467.7,2052.2 1468,2052.5 1468.3,2052.7 1468.6,2053 1469,2053.2 1469.3,2053.5 1469.6,2053.7 1469.9,2053.9 1470.2,2054.2 1470.5,2054.4 1470.8,2054.7 1471.1,2054.9 1471.4,2055.2 1471.7,2055.4 1472,2055.6 1472.3,2055.9 1472.6,2056.1 1472.9,2056.4 1473.2,2056.6 1473.5,2056.9 1473.8,2057.1 1474.1,2057.3 1474.4,2057.6 1474.7,2057.8 1475,2058 1475.3,2058.3 1475.6,2058.5 1475.9,2058.7 1476.2,2058.9 1476.5,2059.1 1476.8,2059.3 1477.1,2059.5 1477.5,2059.7 1477.8,2060 1478.1,2060.2 1478.4,2060.4 1478.7,2060.6 1479,2060.8 1479.3,2061 1479.6,2061.2 1479.9,2061.4 1480.2,2061.7 1480.5,2061.9 1480.8,2062.1 1481.1,2062.3 1481.4,2062.5 1481.7,2062.7 1482,2062.9 1482.3,2063.1 1482.6,2063.4 1482.9,2063.6 1483.2,2063.8 1483.5,2064 1483.8,2064.2 1484.1,2064.4 1484.4,2064.6 1484.7,2064.8 1485,2065.1 1485.3,2065.3 1485.7,2065.5 1486,2065.7 1486.3,2065.9 1486.6,2066.1 1486.9,2066.3 1487.2,2066.5 1487.5,2066.6 1487.8,2066.8 1488.1,2067 1488.4,2067.1 1488.7,2067.3 1489,2067.5 1489.3,2067.6 1489.6,2067.8 1489.9,2068 1490.2,2068.2 1490.5,2068.3 1490.8,2068.5 1491.1,2068.7 1491.4,2068.8 1491.7,2069 1492,2069.2 1492.3,2069.3 1492.6,2069.5 1492.9,2069.7 1493.2,2069.9 1493.5,2070 1493.8,2070.2 1494.2,2070.4 1494.5,2070.5 1494.8,2070.7 1495.1,2070.9 1495.4,2071 1495.7,2071.2 1496,2071.4 1496.3,2071.6 1496.6,2071.7 1496.9,2071.9 1497.2,2072.1 1497.5,2072.2 1497.8,2072.4 1498.1,2072.6 1498.4,2072.7 1498.7,2072.9 1499,2073 1499.3,2073.2 1499.6,2073.3 1499.9,2073.4 1500.2,2073.6 1500.5,2073.7 1500.8,2073.8 1501.1,2074 1501.4,2074.1 1501.7,2074.2 1502,2074.4 1502.3,2074.5 1502.7,2074.6 1503,2074.8 1503.3,2074.9 1503.6,2075 1503.9,2075.2 1504.2,2075.3 1504.5,2075.4 1504.8,2075.6 1505.1,2075.7 1505.4,2075.8 1505.7,2076 1506,2076.1 1506.3,2076.2 1506.6,2076.4 1506.9,2076.5 1507.2,2076.6 1507.5,2076.8 1507.8,2076.9 1508.1,2077 1508.4,2077.2 1508.7,2077.3 1509,2077.4 1509.3,2077.6 1509.6,2077.7 1509.9,2077.8 1510.2,2078 1510.5,2078.1 1510.9,2078.2 1511.2,2078.3 1511.5,2078.4 1511.8,2078.5 1512.1,2078.6 1512.4,2078.7 1512.7,2078.8 1513,2078.9 1513.3,2079 1513.6,2079.1 1513.9,2079.2 1514.2,2079.3 1514.5,2079.4 1514.8,2079.5 1515.1,2079.5 1515.4,2079.6 1515.7,2079.7 1516,2079.8 1516.3,2079.9 1516.6,2080 1516.9,2080.1 1517.2,2080.2 1517.5,2080.3 1517.8,2080.4 1518.1,2080.5 1518.4,2080.6 1518.7,2080.7 1519,2080.8 1519.4,2080.9 1519.7,2081 1520,2081.1 1520.3,2081.2 1520.6,2081.3 1520.9,2081.4 1521.2,2081.5 1521.5,2081.6 1521.8,2081.7 1522.1,2081.8 1522.4,2081.9 1522.7,2082 1523,2082.1 1523.3,2082.1 1523.6,2082.2 1523.9,2082.3 1524.2,2082.4 1524.5,2082.5 1524.8,2082.6 1525.1,2082.6 1525.4,2082.7 1525.7,2082.8 1526,2082.9 1526.3,2083 1526.6,2083.1 1526.9,2083.2 1527.2,2083.2 1527.6,2083.3 1527.9,2083.4 1528.2,2083.5 1528.5,2083.6 1528.8,2083.7 1529.1,2083.8 1529.4,2083.8 1529.7,2083.9 1530,2084 1530.3,2084.1 1530.6,2084.2 1530.9,2084.3 1531.2,2084.3 1531.5,2084.4 1531.8,2084.5 1532.1,2084.6 1532.4,2084.7 1532.7,2084.8 1533,2084.9 1533.3,2084.9 1533.6,2085 1533.9,2085.1 1534.2,2085.2 1534.5,2085.3 1534.8,2085.3 1535.1,2085.4 1535.4,2085.4 1535.7,2085.5 1536.1,2085.6 1536.4,2085.6 1536.7,2085.7 1537,2085.8 1537.3,2085.8 1537.6,2085.9 1537.9,2085.9 1538.2,2086 1538.5,2086.1 1538.8,2086.1 1539.1,2086.2 1539.4,2086.2 1539.7,2086.3 1540,2086.4 1540.3,2086.4 1540.6,2086.5 1540.9,2086.5 1541.2,2086.6 1541.5,2086.7 1541.8,2086.7 1542.1,2086.8 1542.4,2086.8 1542.7,2086.9 1543,2087 1543.3,2087 1543.6,2087.1 1543.9,2087.1 1544.2,2087.2 1544.6,2087.3 1544.9,2087.3 1545.2,2087.4 1545.5,2087.5 1545.8,2087.5 1546.1,2087.6 1546.4,2087.6 1546.7,2087.7 1547,2087.8 1547.3,2087.8 1547.6,2087.9 1547.9,2087.9 1548.2,2088 1548.5,2088.1 1548.8,2088.1 1549.1,2088.2 1549.4,2088.2 1549.7,2088.2 1550,2088.3 1550.3,2088.3 1550.6,2088.4 1550.9,2088.4 1551.2,2088.5 1551.5,2088.5 1551.8,2088.6 1552.1,2088.6 1552.4,2088.6 1552.8,2088.7 1553.1,2088.7 1553.4,2088.8 1553.7,2088.8 1554,2088.9 1554.3,2088.9 1554.6,2089 1554.9,2089 1555.2,2089 1555.5,2089.1 1555.8,2089.1 1556.1,2089.2 1556.4,2089.2 1556.7,2089.3 1557,2089.3 1557.3,2089.4 1557.6,2089.4 1557.9,2089.5 1558.2,2089.5 1558.5,2089.5 1558.8,2089.6 1559.1,2089.6 1559.4,2089.7 1559.7,2089.7 1560,2089.8 1560.3,2089.8 1560.6,2089.9 1560.9,2089.9 1561.3,2089.9 1561.6,2090 1561.9,2090 1562.2,2090.1 1562.5,2090.1 1562.8,2090.2 1563.1,2090.2 1563.4,2090.3 1563.7,2090.3 1564,2090.3 1564.3,2090.4 1564.6,2090.4 1564.9,2090.5" fill="none" stroke="#fdb813" stroke-width="5.6" />
<polyline points="1291.9,2092.4 1292.2,2092.4 1292.5,2092.4 1292.9,2092.4 1293.2,2092.4 1293.5,2092.4 1293.8,2092.4 1294.1,2092.4 1294.4,2092.4 1294.7,2092.4 1295,2092.4 1295.3,2092.4 1295.6,2092.4 1295.9,2092.4 1296.2,2092.4 1296.5,2092.4 1296.8,2092.4 1297.1,2092.4 1297.4,2092.4 1297.7,2092.4 1298,2092.4 1298.3,2092.4 1298.6,2092.4 1298.9,2092.4 1299.2,2092.4 1299.5,2092.4 1299.8,2092.4 1300.1,2092.4 1300.4,2092.4 1300.7,2092.4 1301,2092.4 1301.4,2092.4 1301.7,2092.4 1302,2092.4 1302.3,2092.4 1302.6,2092.4 1302.9,2092.4 1303.2,2092.4 1303.5,2092.4 1303.8,2092.4 1304.1,2092.4 1304.4,2092.4 1304.7,2092.4 1305,2092.4 1305.3,2092.4 1305.6,2092.4 1305.9,2092.4 1306.2,2092.4 1306.5,2092.4 1306.8,2092.4 1307.1,2092.4 1307.4,2092.4 1307.7,2092.4 1308,2092.4 1308.3,2092.4 1308.6,2092.4 1308.9,2092.4 1309.2,2092.4 1309.6,2092.4 1309.9,2092.4 1310.2,2092.4 1310.5,2092.4 1310.8,2092.4 1311.1,2092.4 1311.4,2092.4 1311.7,2092.4 1312,2092.2 1312.3,2091.8 1312.6,2091.2 1312.9,2090.4 1313.2,2089.5 1313.5,2088.6 1313.8,2087.7 1314.1,2086.5 1314.4,2084.5 1314.7,2081.5 1315,2077.6 1315.3,2072.8 1315.6,2067.3 1315.9,2061.8 1316.2,2056.4 1316.5,2050.9 1316.8,2045.4 1317.1,2040 1317.4,2034.5 1317.7,2029 1318.1,2023.4 1318.4,2017.8 1318.7,2012 1319,2006.2 1319.3,2000.3 1319.6,1994.4 1319.9,1988.6 1320.2,1982.7 1320.5,1976.8 1320.8,1971 1321.1,1965.1 1321.4,1959.5 1321.7,1954.2 1322,1949.3 1322.3,1944.8 1322.6,1940.6 1322.9,1936.6 1323.2,1932.5 1323.5,1928.5 1323.8,1924.4 1324.1,1920.4 1324.4,1916.3 1324.7,1912.3 1325,1908.5 1325.3,1905 1325.6,1901.7 1325.9,1898.8 1326.2,1896.1 1326.6,1893.5 1326.9,1890.9 1327.2,1888.2 1327.5,1885.6 1327.8,1883 1328.1,1880.3 1328.4,1877.7 1328.7,1875.3 1329,1873.2 1329.3,1871.2 1329.6,1869.5 1329.9,1868 1330.2,1866.5 1330.5,1865 1330.8,1863.4 1331.1,1861.9 1331.4,1860.4 1331.7,1858.9 1332,1857.4 1332.3,1855.9 1332.6,1854.3 1332.9,1852.8 1333.2,1851.4 1333.5,1850 1333.8,1848.9 1334.1,1847.9 1334.4,1847 1334.8,1846.3 1335.1,1845.5 1335.4,1844.7 1335.7,1844 1336,1843.2 1336.3,1842.5 1336.6,1841.7 1336.9,1840.9 1337.2,1840.2 1337.5,1839.4 1337.8,1838.7 1338.1,1838 1338.4,1837.4 1338.7,1836.9 1339,1836.5 1339.3,1836.2 1339.6,1835.9 1339.9,1835.7 1340.2,1835.4 1340.5,1835.2 1340.8,1834.9 1341.1,1834.7 1341.4,1834.4 1341.7,1834.2 1342,1833.9 1342.3,1833.7 1342.6,1833.6 1342.9,1833.5 1343.3,1833.5 1343.6,1833.6 1343.9,1833.8 1344.2,1833.9 1344.5,1834 1344.8,1834.2 1345.1,1834.3 1345.4,1834.5 1345.7,1834.6 1346,1834.7 1346.3,1834.9 1346.6,1835 1346.9,1835.1 1347.2,1835.3 1347.5,1835.4 1347.8,1835.6 1348.1,1835.9 1348.4,1836.3 1348.7,1836.7 1349,1837.1 1349.3,1837.6 1349.6,1838 1349.9,1838.5 1350.2,1838.9 1350.5,1839.4 1350.8,1839.8 1351.1,1840.3 1351.5,1840.8 1351.8,1841.2 1352.1,1841.7 1352.4,1842.1 1352.7,1842.6 1353,1843 1353.3,1843.5 1353.6,1843.9 1353.9,1844.4 1354.2,1844.9 1354.5,1845.3 1354.8,1845.8 1355.1,1846.3 1355.4,1846.8 1355.7,1847.4 1356,1848.1 1356.3,1848.7 1356.6,1849.3 1356.9,1850 1357.2,1850.6 1357.5,1851.2 1357.8,1851.9 1358.1,1852.5 1358.4,1853.2 1358.7,1853.8 1359,1854.4 1359.3,1855.1 1359.6,1855.7 1360,1856.3 1360.3,1857 1360.6,1857.6 1360.9,1858.3 1361.2,1858.9 1361.5,1859.5 1361.8,1860.2 1362.1,1860.8 1362.4,1861.4 1362.7,1862.1 1363,1862.7 1363.3,1863.4 1363.6,1864 1363.9,1864.6 1364.2,1865.3 1364.5,1865.9 1364.8,1866.5 1365.1,1867.2 1365.4,1867.8 1365.7,1868.5 1366,1869.1 1366.3,1869.7 1366.6,1870.4 1366.9,1871.1 1367.2,1871.8 1367.5,1872.5 1367.8,1873.3 1368.1,1874.1 1368.5,1874.8 1368.8,1875.6 1369.1,1876.4 1369.4,1877.2 1369.7,1878 1370,1878.8 1370.3,1879.6 1370.6,1880.4 1370.9,1881.2 1371.2,1881.9 1371.5,1882.7 1371.8,1883.5 1372.1,1884.3 1372.4,1885.1 1372.7,1885.9 1373,1886.7 1373.3,1887.5 1373.6,1888.3 1373.9,1889.1 1374.2,1889.8 1374.5,1890.6 1374.8,1891.4 1375.1,1892.2 1375.4,1893 1375.7,1893.8 1376,1894.6 1376.3,1895.4 1376.7,1896.2 1377,1896.9 1377.3,1897.7 1377.6,1898.5 1377.9,1899.3 1378.2,1900.1 1378.5,1900.9 1378.8,1901.7 1379.1,1902.5 1379.4,1903.3 1379.7,1904.1 1380,1904.8 1380.3,1905.6 1380.6,1906.4 1380.9,1907.2 1381.2,1908 1381.5,1908.8 1381.8,1909.6 1382.1,1910.4 1382.4,1911.2 1382.7,1911.9 1383,1912.7 1383.3,1913.5 1383.6,1914.3 1383.9,1915.1 1384.2,1915.9 1384.5,1916.7 1384.8,1917.5 1385.2,1918.3 1385.5,1919.1 1385.8,1919.8 1386.1,1920.6 1386.4,1921.4 1386.7,1922.2 1387,1923 1387.3,1923.8 1387.6,1924.6 1387.9,1925.4 1388.2,1926.2 1388.5,1926.9 1388.8,1927.7 1389.1,1928.5 1389.4,1929.3 1389.7,1930.1 1390,1930.9 1390.3,1931.7 1390.6,1932.5 1390.9,1933.2 1391.2,1934 1391.5,1934.7 1391.8,1935.4 1392.1,1936.1 1392.4,1936.8 1392.7,1937.5 1393,1938.2 1393.3,1938.9 1393.7,1939.6 1394,1940.3 1394.3,1941 1394.6,1941.7 1394.9,1942.4 1395.2,1943.1 1395.5,1943.8 1395.8,1944.5 1396.1,1945.2 1396.4,1945.9 1396.7,1946.6 1397,1947.3 1397.3,1948 1397.6,1948.7 1397.9,1949.4 1398.2,1950.1 1398.5,1950.8 1398.8,1951.5 1399.1,1952.2 1399.4,1952.8 1399.7,1953.5 1400,1954.2 1400.3,1954.9 1400.6,1955.6 1400.9,1956.3 1401.2,1957 1401.5,1957.7 1401.9,1958.4 1402.2,1959.1 1402.5,1959.8 1402.8,1960.5 1403.1,1961.2 1403.4,1961.8 1403.7,1962.4 1404,1963 1404.3,1963.6 1404.6,1964.2 1404.9,1964.8 1405.2,1965.5 1405.5,1966.1 1405.8,1966.7 1406.1,1967.3 1406.4,1967.9 1406.7,1968.5 1407,1969.1 1407.3,1969.7 1407.6,1970.3 1407.9,1970.9 1408.2,1971.5 1408.5,1972.1 1408.8,1972.7 1409.1,1973.4 1409.4,1974 1409.7,1974.6 1410,1975.2 1410.4,1975.8 1410.7,1976.4 1411,1977 1411.3,1977.6 1411.6,1978.2 1411.9,1978.8 1412.2,1979.4 1412.5,1980 1412.8,1980.6 1413.1,1981.2 1413.4,1981.9 1413.7,1982.5 1414,1983.1 1414.3,1983.7 1414.6,1984.3 1414.9,1984.9 1415.2,1985.5 1415.5,1986 1415.8,1986.6 1416.1,1987.2 1416.4,1987.7 1416.7,1988.3 1417,1988.9 1417.3,1989.4 1417.6,1990 1417.9,1990.6 1418.2,1991.2 1418.6,1991.7 1418.9,1992.3 1419.2,1992.9 1419.5,1993.4 1419.8,1994 1420.1,1994.6 1420.4,1995.1 1420.7,1995.7 1421,1996.3 1421.3,1996.8 1421.6,1997.4 1421.9,1998 1422.2,1998.6 1422.5,1999.1 1422.8,1999.7 1423.1,2000.3 1423.4,2000.8 1423.7,2001.4 1424,2002 1424.3,2002.5 1424.6,2003 1424.9,2003.5 1425.2,2004 1425.5,2004.4 1425.8,2004.9 1426.1,2005.3 1426.4,2005.8 1426.7,2006.2 1427.1,2006.7 1427.4,2007.2 1427.7,2007.6 1428,2008.1 1428.3,2008.5 1428.6,2009 1428.9,2009.4 1429.2,2009.9 1429.5,2010.3 1429.8,2010.8 1430.1,2011.3 1430.4,2011.7 1430.7,2012.2 1431,2012.6 1431.3,2013.1 1431.6,2013.5 1431.9,2014 1432.2,2014.4 1432.5,2014.9 1432.8,2015.4 1433.1,2015.8 1433.4,2016.3 1433.7,2016.7 1434,2017.1 1434.3,2017.5 1434.6,2017.9 1434.9,2018.3 1435.2,2018.7 1435.6,2019.1 1435.9,2019.4 1436.2,2019.8 1436.5,2020.2 1436.8,2020.6 1437.1,2021 1437.4,2021.3 1437.7,2021.7 1438,2022.1 1438.3,2022.5 1438.6,2022.9 1438.9,2023.2 1439.2,2023.6 1439.5,2024 1439.8,2024.4 1440.1,2024.8 1440.4,2025.1 1440.7,2025.5 1441,2025.9 1441.3,2026.3 1441.6,2026.7 1441.9,2027 1442.2,2027.4 1442.5,2027.8 1442.8,2028.2 1443.1,2028.6 1443.4,2028.9 1443.8,2029.3 1444.1,2029.7 1444.4,2030.1 1444.7,2030.5 1445,2030.8 1445.3,2031.2 1445.6,2031.6 1445.9,2032 1446.2,2032.4 1446.5,2032.7 1446.8,2033.1 1447.1,2033.5 1447.4,2033.9 1447.7,2034.2 1448,2034.6 1448.3,2035 1448.6,2035.3 1448.9,2035.6 1449.2,2035.9 1449.5,2036.1 1449.8,2036.4 1450.1,2036.7 1450.4,2037 1450.7,2037.3 1451,2037.5 1451.3,2037.8 1451.6,2038.1 1451.9,2038.4 1452.3,2038.6 1452.6,2038.9 1452.9,2039.2 1453.2,2039.5 1453.5,2039.8 1453.8,2040 1454.1,2040.3 1454.4,2040.6 1454.7,2040.9 1455,2041.1 1455.3,2041.4 1455.6,2041.7 1455.9,2042 1456.2,2042.3 1456.5,2042.5 1456.8,2042.8 1457.1,2043.1 1457.4,2043.4 1457.7,2043.7 1458,2043.9 1458.3,2044.2 1458.6,2044.5 1458.9,2044.8 1459.2,2045 1459.5,2045.3 1459.8,2045.6 1460.1,2045.9 1460.4,2046.2 1460.8,2046.4 1461.1,2046.7 1461.4,2047 1461.7,2047.3 1462,2047.6 1462.3,2047.8 1462.6,2048.1 1462.9,2048.4 1463.2,2048.6 1463.5,2048.8 1463.8,2049.1 1464.1,2049.3 1464.4,2049.6 1464.7,2049.8 1465,2050.1 1465.3,2050.3 1465.6,2050.5 1465.9,2050.8 1466.2,2051 1466.5,2051.3 1466.8,2051.5 1467.1,2051.8 1467.4,2052 1467.7,2052.2 1468,2052.5 1468.3,2052.7 1468.6,2053 1469,2053.2 1469.3,2053.5 1469.6,2053.7 1469.9,2053.9 1470.2,2054.2 1470.5,2054.4 1470.8,2054.7 1471.1,2054.9 1471.4,2055.2 1471.7,2055.4 1472,2055.6 1472.3,2055.9 1472.6,2056.1 1472.9,2056.4 1473.2,2056.6 1473.5,2056.9 1473.8,2057.1 1474.1,2057.3 1474.4,2057.6 1474.7,2057.8 1475,2058 1475.3,2058.3 1475.6,2058.5 1475.9,2058.7 1476.2,2058.9 1476.5,2059.1 1476.8,2059.3 1477.1,2059.5 1477.5,2059.7 1477.8,2060 1478.1,2060.2 1478.4,2060.4 1478.7,2060.6 1479,2060.8 1479.3,2061 1479.6,2061.2 1479.9,2061.4 1480.2,2061.7 1480.5,2061.9 1480.8,2062.1 1481.1,2062.3 1481.4,2062.5 1481.7,2062.7 1482,2062.9 1482.3,2063.1 1482.6,2063.4 1482.9,2063.6 1483.2,2063.8 1483.5,2064 1483.8,2064.2 1484.1,2064.4 1484.4,2064.6 1484.7,2064.8 1485,2065.1 1485.3,2065.3 1485.7,2065.5 1486,2065.7 1486.3,2065.9 1486.6,2066.1 1486.9,2066.3 1487.2,2066.5 1487.5,2066.6 1487.8,2066.8 1488.1,2067 1488.4,2067.1 1488.7,2067.3 1489,2067.5 1489.3,2067.6 1489.6,2067.8 1489.9,2068 1490.2,2068.2 1490.5,2068.3 1490.8,2068.5 1491.1,2068.7 1491.4,2068.8 1491.7,2069 1492,2069.2 1492.3,2069.3 1492.6,2069.5 1492.9,2069.7 1493.2,2069.9 1493.5,2070 1493.8,2070.2 1494.2,2070.4 1494.5,2070.5 1494.8,2070.7 1495.1,2070.9 1495.4,2071 1495.7,2071.2 1496,2071.4 1496.3,2071.6 1496.6,2071.7 1496.9,2071.9 1497.2,2072.1 1497.5,2072.2 1497.8,2072.4 1498.1,2072.6 1498.4,2072.7 1498.7,2072.9 1499,2073 1499.3,2073.2 1499.6,2073.3 1499.9,2073.4 1500.2,2073.6 1500.5,2073.7 1500.8,2073.8 1501.1,2074 1501.4,2074.1 1501.7,2074.2 1502,2074.4 1502.3,2074.5 1502.7,2074.6 1503,2074.8 1503.3,2074.9 1503.6,2075 1503.9,2075.2 1504.2,2075.3 1504.5,2075.4 1504.8,2075.6 1505.1,2075.7 1505.4,2075.8 1505.7,2076 1506,2076.1 1506.3,2076.2 1506.6,2076.4 1506.9,2076.5 1507.2,2076.6 1507.5,2076.8 1507.8,2076.9 1508.1,2077 1508.4,2077.2 1508.7,2077.3 1509,2077.4 1509.3,2077.6 1509.6,2077.7 1509.9,2077.8 1510.2,2078 1510.5,2078.1 1510.9,2078.2 1511.2,2078.3 1511.5,2078.4 1511.8,2078.5 1512.1,2078.6 1512.4,2078.7 1512.7,2078.8 1513,2078.9 1513.3,2079 1513.6,2079.1 1513.9,2079.2 1514.2,2079.3 1514.5,2079.4 1514.8,2079.5 1515.1,2079.5 1515.4,2079.6 1515.7,2079.7 1516,2079.8 1516.3,2079.9 1516.6,2080 1516.9,2080.1 1517.2,2080.2 1517.5,2080.3 1517.8,2080.4 1518.1,2080.5 1518.4,2080.6 1518.7,2080.7 1519,2080.8 1519.4,2080.9 1519.7,2081 1520,2081.1 1520.3,2081.2 1520.6,2081.3 1520.9,2081.4 1521.2,2081.5 1521.5,2081.6 1521.8,2081.7 1522.1,2081.8 1522.4,2081.9 1522.7,2082 1523,2082.1 1523.3,2082.1 1523.6,2082.2 1523.9,2082.3 1524.2,2082.4 1524.5,2082.5 1524.8,2082.6 1525.1,2082.6 1525.4,2082.7 1525.7,2082.8 1526,2082.9 1526.3,2083 1526.6,2083.1 1526.9,2083.2 1527.2,2083.2 1527.6,2083.3 1527.9,2083.4 1528.2,2083.5 1528.5,2083.6 1528.8,2083.7 1529.1,2083.8 1529.4,2083.8 1529.7,2083.9 1530,2084 1530.3,2084.1 1530.6,2084.2 1530.9,2084.3 1531.2,2084.3 1531.5,2084.4 1531.8,2084.5 1532.1,2084.6 1532.4,2084.7 1532.7,2084.8 1533,2084.9 1533.3,2084.9 1533.6,2085 1533.9,2085.1 1534.2,2085.2 1534.5,2085.3 1534.8,2085.3 1535.1,2085.4 1535.4,2085.4 1535.7,2085.5 1536.1,2085.6 1536.4,2085.6 1536.7,2085.7 1537,2085.8 1537.3,2085.8 1537.6,2085.9 1537.9,2085.9 1538.2,2086 1538.5,2086.1 1538.8,2086.1 1539.1,2086.2 1539.4,2086.2 1539.7,2086.3 1540,2086.4 1540.3,2086.4 1540.6,2086.5 1540.9,2086.5 1541.2,2086.6 1541.5,2086.7 1541.8,2086.7 1542.1,2086.8 1542.4,2086.8 1542.7,2086.9 1543,2087 1543.3,2087 1543.6,2087.1 1543.9,2087.1 1544.2,2087.2 1544.6,2087.3 1544.9,2087.3 1545.2,2087.4 1545.5,2087.5 1545.8,2087.5 1546.1,2087.6 1546.4,2087.6 1546.7,2087.7 1547,2087.8 1547.3,2087.8 1547.6,2087.9 1547.9,2087.9 1548.2,2088 1548.5,2088.1 1548.8,2088.1 1549.1,2088.2 1549.4,2088.2 1549.7,2088.2 1550,2088.3 1550.3,2088.3 1550.6,2088.4 1550.9,2088.4 1551.2,2088.5 1551.5,2088.5 1551.8,2088.6 1552.1,2088.6 1552.4,2088.6 1552.8,2088.7 1553.1,2088.7 1553.4,2088.8 1553.7,2088.8 1554,2088.9 1554.3,2088.9 1554.6,2089 1554.9,2089 1555.2,2089 1555.5,2089.1 1555.8,2089.1 1556.1,2089.2 1556.4,2089.2 1556.7,2089.3 1557,2089.3 1557.3,2089.4 1557.6,2089.4 1557.9,2089.5 1558.2,2089.5 1558.5,2089.5 1558.8,2089.6 1559.1,2089.6 1559.4,2089.7 1559.7,2089.7 1560,2089.8 1560.3,2089.8 1560.6,2089.9 1560.9,2089.9 1561.3,2089.9 1561.6,2090 1561.9,2090 1562.2,2090.1 1562.5,2090.1 1562.8,2090.2 1563.1,2090.2 1563.4,2090.3 1563.7,2090.3 1564,2090.3 1564.3,2090.4 1564.6,2090.4 1564.9,2090.5" fill="none" stroke="#27a0be" stroke-width="2.0" stroke-dasharray="3 3"/>
<polyline points="1291.9,2092.4 1292.2,2092.4 1292.5,2092.4 1292.9,2092.4 1293.2,2092.4 1293.5,2092.4 1293.8,2092.4 1294.1,2092.4 1294.4,2092.4 1294.7,2092.4 1295,2092.4 1295.3,2092.4 1295.6,2092.4 1295.9,2092.4 1296.2,2092.4 1296.5,2092.4 1296.8,2092.4 1297.1,2092.4 1297.4,2092.4 1297.7,2092.4 1298,2092.4 1298.3,2092.4 1298.6,2092.4 1298.9,2092.4 1299.2,2092.4 1299.5,2092.4 1299.8,2092.4 1300.1,2092.4 1300.4,2092.4 1300.7,2092.4 1301,2092.4 1301.4,2092.4 1301.7,2092.4 1302,2092.4 1302.3,2092.4 1302.6,2092.4 1302.9,2092.4 1303.2,2092.4 1303.5,2092.4 1303.8,2092.4 1304.1,2092.4 1304.4,2092.4 1304.7,2092.4 1305,2092.4 1305.3,2092.4 1305.6,2092.4 1305.9,2092.4 1306.2,2092.4 1306.5,2092.4 1306.8,2092.4 1307.1,2092.4 1307.4,2092.4 1307.7,2092.4 1308,2092.4 1308.3,2092.4 1308.6,2092.4 1308.9,2092.4 1309.2,2092.4 1309.6,2092.4 1309.9,2092.4 1310.2,2092.4 1310.5,2092.4 1310.8,2092.4 1311.1,2092.4 1311.4,2092.4 1311.7,2092.4 1312,2092.2 1312.3,2091.8 1312.6,2091.2 1312.9,2090.4 1313.2,2089.5 1313.5,2088.6 1313.8,2087.7 1314.1,2086.5 1314.4,2084.5 1314.7,2081.5 1315,2077.6 1315.3,2072.8 1315.6,2067.3 1315.9,2061.8 1316.2,2056.4 1316.5,2050.9 1316.8,2045.4 1317.1,2040 1317.4,2034.5 1317.7,2029 1318.1,2023.4 1318.4,2017.8 1318.7,2012 1319,2006.2 1319.3,2000.3 1319.6,1994.4 1319.9,1988.6 1320.2,1982.7 1320.5,1976.8 1320.8,1971 1321.1,1965.1 1321.4,1959.5 1321.7,1954.2 1322,1949.3 1322.3,1944.8 1322.6,1940.6 1322.9,1936.6 1323.2,1932.5 1323.5,1928.5 1323.8,1924.4 1324.1,1920.4 1324.4,1916.3 1324.7,1912.3 1325,1908.5 1325.3,1905 1325.6,1901.7 1325.9,1898.8 1326.2,1896.1 1326.6,1893.5 1326.9,1890.9 1327.2,1888.2 1327.5,1885.6 1327.8,1883 1328.1,1880.3 1328.4,1877.7 1328.7,1875.3 1329,1873.2 1329.3,1871.2 1329.6,1869.5 1329.9,1868 1330.2,1866.5 1330.5,1865 1330.8,1863.4 1331.1,1861.9 1331.4,1860.4 1331.7,1858.9 1332,1857.4 1332.3,1855.9 1332.6,1854.3 1332.9,1852.8 1333.2,1851.4 1333.5,1850 1333.8,1848.9 1334.1,1847.9 1334.4,1847 1334.8,1846.3 1335.1,1845.5 1335.4,1844.7 1335.7,1844 1336,1843.2 1336.3,1842.5 1336.6,1841.7 1336.9,1840.9 1337.2,1840.2 1337.5,1839.4 1337.8,1838.7 1338.1,1838 1338.4,1837.4 1338.7,1836.9 1339,1836.5 1339.3,1836.2 1339.6,1835.9 1339.9,1835.7 1340.2,1835.4 1340.5,1835.2 1340.8,1834.9 1341.1,1834.7 1341.4,1834.4 1341.7,1834.2 1342,1833.9 1342.3,1833.7 1342.6,1833.6 1342.9,1833.5 1343.3,1833.5 1343.6,1833.6 1343.9,1833.8 1344.2,1833.9 1344.5,1834 1344.8,1834.2 1345.1,1834.3 1345.4,1834.5 1345.7,1834.6 1346,1834.7 1346.3,1834.9 1346.6,1835 1346.9,1835.1 1347.2,1835.3 1347.5,1835.4 1347.8,1835.6 1348.1,1835.9 1348.4,1836.3 1348.7,1836.7 1349,1837.1 1349.3,1837.6 1349.6,1838 1349.9,1838.5 1350.2,1838.9 1350.5,1839.4 1350.8,1839.8 1351.1,1840.3 1351.5,1840.8 1351.8,1841.2 1352.1,1841.7 1352.4,1842.1 1352.7,1842.6 1353,1843 1353.3,1843.5 1353.6,1843.9 1353.9,1844.4 1354.2,1844.9 1354.5,1845.3 1354.8,1845.8 1355.1,1846.3 1355.4,1846.8 1355.7,1847.4 1356,1848.1 1356.3,1848.7 1356.6,1849.3 1356.9,1850 1357.2,1850.6 1357.5,1851.2 1357.8,1851.9 1358.1,1852.5 1358.4,1853.2 1358.7,1853.8 1359,1854.4 1359.3,1855.1 1359.6,1855.7 1360,1856.3 1360.3,1857 1360.6,1857.6 1360.9,1858.3 1361.2,1858.9 1361.5,1859.5 1361.8,1860.2 1362.1,1860.8 1362.4,1861.4 1362.7,1862.1 1363,1862.7 1363.3,1863.4 1363.6,1864 1363.9,1864.6 1364.2,1865.3 1364.5,1865.9 1364.8,1866.5 1365.1,1867.2 1365.4,1867.8 1365.7,1868.5 1366,1869.1 1366.3,1869.7 1366.6,1870.4 1366.9,1871.1 1367.2,1871.8 1367.5,1872.5 1367.8,1873.3 1368.1,1874.1 1368.5,1874.8 1368.8,1875.6 1369.1,1876.4 1369.4,1877.2 1369.7,1878 1370,1878.8 1370.3,1879.6 1370.6,1880.4 1370.9,1881.2 1371.2,1881.9 1371.5,1882.7 1371.8,1883.5 1372.1,1884.3 1372.4,1885.1 1372.7,1885.9 1373,1886.7 1373.3,1887.5 1373.6,1888.3 1373.9,1889.1 1374.2,1889.8 1374.5,1890.6 1374.8,1891.4 1375.1,1892.2 1375.4,1893 1375.7,1893.8 1376,1894.6 1376.3,1895.4 1376.7,1896.2 1377,1896.9 1377.3,1897.7 1377.6,1898.5 1377.9,1899.3 1378.2,1900.1 1378.5,1900.9 1378.8,1901.7 1379.1,1902.5 1379.4,1903.3 1379.7,1904.1 1380,1904.8 1380.3,1905.6 1380.6,1906.4 1380.9,1907.2 1381.2,1908 1381.5,1908.8 1381.8,1909.6 1382.1,1910.4 1382.4,1911.2 1382.7,1911.9 1383,1912.7 1383.3,1913.5 1383.6,1914.3 1383.9,1915.1 1384.2,1915.9 1384.5,1916.7 1384.8,1917.5 1385.2,1918.3 1385.5,1919.1 1385.8,1919.8 1386.1,1920.6 1386.4,1921.4 1386.7,1922.2 1387,1923 1387.3,1923.8 1387.6,1924.6 1387.9,1925.4 1388.2,1926.2 1388.5,1926.9 1388.8,1927.7 1389.1,1928.5 1389.4,1929.3 1389.7,1930.1 1390,1930.9 1390.3,1931.7 1390.6,1932.5 1390.9,1933.2 1391.2,1934 1391.5,1934.7 1391.8,1935.4 1392.1,1936.1 1392.4,1936.8 1392.7,1937.5 1393,1938.2 1393.3,1938.9 1393.7,1939.6 1394,1940.3 1394.3,1941 1394.6,1941.7 1394.9,1942.4 1395.2,1943.1 1395.5,1943.8 1395.8,1944.5 1396.1,1945.2 1396.4,1945.9 1396.7,1946.6 1397,1947.3 1397.3,1948 1397.6,1948.7 1397.9,1949.4 1398.2,1950.1 1398.5,1950.8 1398.8,1951.5 1399.1,1952.2 1399.4,1952.8 1399.7,1953.5 1400,1954.2 1400.3,1954.9 1400.6,1955.6 1400.9,1956.3 1401.2,1957 1401.5,1957.7 1401.9,1958.4 1402.2,1959.1 1402.5,1959.8 1402.8,1960.5 1403.1,1961.2 1403.4,1961.8 1403.7,1962.4 1404,1963 1404.3,1963.6 1404.6,1964.2 1404.9,1964.8 1405.2,1965.5 1405.5,1966.1 1405.8,1966.7 1406.1,1967.3 1406.4,1967.9 1406.7,1968.5 1407,1969.1 1407.3,1969.7 1407.6,1970.3 1407.9,1970.9 1408.2,1971.5 1408.5,1972.1 1408.8,1972.7 1409.1,1973.4 1409.4,1974 1409.7,1974.6 1410,1975.2 1410.4,1975.8 1410.7,1976.4 1411,1977 1411.3,1977.6 1411.6,1978.2 1411.9,1978.8 1412.2,1979.4 1412.5,1980 1412.8,1980.6 1413.1,1981.2 1413.4,1981.9 1413.7,1982.5 1414,1983.1 1414.3,1983.7 1414.6,1984.3 1414.9,1984.9 1415.2,1985.5 1415.5,1986 1415.8,1986.6 1416.1,1987.2 1416.4,1987.7 1416.7,1988.3 1417,1988.9 1417.3,1989.4 1417.6,1990 1417.9,1990.6 1418.2,1991.2 1418.6,1991.7 1418.9,1992.3 1419.2,1992.9 1419.5,1993.4 1419.8,1994 1420.1,1994.6 1420.4,1995.1 1420.7,1995.7 1421,1996.3 1421.3,1996.8 1421.6,1997.4 1421.9,1998 1422.2,1998.6 1422.5,1999.1 1422.8,1999.7 1423.1,2000.3 1423.4,2000.8 1423.7,2001.4 1424,2002 1424.3,2002.5 1424.6,2003 1424.9,2003.5 1425.2,2004 1425.5,2004.4 1425.8,2004.9 1426.1,2005.3 1426.4,2005.8 1426.7,2006.2 1427.1,2006.7 1427.4,2007.2 1427.7,2007.6 1428,2008.1 1428.3,2008.5 1428.6,2009 1428.9,2009.4 1429.2,2009.9 1429.5,2010.3 1429.8,2010.8 1430.1,2011.3 1430.4,2011.7 1430.7,2012.2 1431,2012.6 1431.3,2013.1 1431.6,2013.5 1431.9,2014 1432.2,2014.4 1432.5,2014.9 1432.8,2015.4 1433.1,2015.8 1433.4,2016.3 1433.7,2016.7 1434,2017.1 1434.3,2017.5 1434.6,2017.9 1434.9,2018.3 1435.2,2018.7 1435.6,2019.1 1435.9,2019.4 1436.2,2019.8 1436.5,2020.2 1436.8,2020.6 1437.1,2021 1437.4,2021.3 1437.7,2021.7 1438,2022.1 1438.3,2022.5 1438.6,2022.9 1438.9,2023.2 1439.2,2023.6 1439.5,2024 1439.8,2024.4 1440.1,2024.8 1440.4,2025.1 1440.7,2025.5 1441,2025.9 1441.3,2026.3 1441.6,2026.7 1441.9,2027 1442.2,2027.4 1442.5,2027.8 1442.8,2028.2 1443.1,2028.6 1443.4,2028.9 1443.8,2029.3 1444.1,2029.7 1444.4,2030.1 1444.7,2030.5 1445,2030.8 1445.3,2031.2 1445.6,2031.6 1445.9,2032 1446.2,2032.4 1446.5,2032.7 1446.8,2033.1 1447.1,2033.5 1447.4,2033.9 1447.7,2034.2 1448,2034.6 1448.3,2035 1448.6,2035.3 1448.9,2035.6 1449.2,2035.9 1449.5,2036.1 1449.8,2036.4 1450.1,2036.7 1450.4,2037 1450.7,2037.3 1451,2037.5 1451.3,2037.8 1451.6,2038.1 1451.9,2038.4 1452.3,2038.6 1452.6,2038.9 1452.9,2039.2 1453.2,2039.5 1453.5,2039.8 1453.8,2040 1454.1,2040.3 1454.4,2040.6 1454.7,2040.9 1455,2041.1 1455.3,2041.4 1455.6,2041.7 1455.9,2042 1456.2,2042.3 1456.5,2042.5 1456.8,2042.8 1457.1,2043.1 1457.4,2043.4 1457.7,2043.7 1458,2043.9 1458.3,2044.2 1458.6,2044.5 1458.9,2044.8 1459.2,2045 1459.5,2045.3 1459.8,2045.6 1460.1,2045.9 1460.4,2046.2 1460.8,2046.4 1461.1,2046.7 1461.4,2047 1461.7,2047.3 1462,2047.6 1462.3,2047.8 1462.6,2048.1 1462.9,2048.4 1463.2,2048.6 1463.5,2048.8 1463.8,2049.1 1464.1,2049.3 1464.4,2049.6 1464.7,2049.8 1465,2050.1 1465.3,2050.3 1465.6,2050.5 1465.9,2050.8 1466.2,2051 1466.5,2051.3 1466.8,2051.5 1467.1,2051.8 1467.4,2052 1467.7,2052.2 1468,2052.5 1468.3,2052.7 1468.6,2053 1469,2053.2 1469.3,2053.5 1469.6,2053.7 1469.9,2053.9 1470.2,2054.2 1470.5,2054.4 1470.8,2054.7 1471.1,2054.9 1471.4,2055.2 1471.7,2055.4 1472,2055.6 1472.3,2055.9 1472.6,2056.1 1472.9,2056.4 1473.2,2056.6 1473.5,2056.9 1473.8,2057.1 1474.1,2057.3 1474.4,2057.6 1474.7,2057.8 1475,2058 1475.3,2058.3 1475.6,2058.5 1475.9,2058.7 1476.2,2058.9 1476.5,2059.1 1476.8,2059.3 1477.1,2059.5 1477.5,2059.7 1477.8,2060 1478.1,2060.2 1478.4,2060.4 1478.7,2060.6 1479,2060.8 1479.3,2061 1479.6,2061.2 1479.9,2061.4 1480.2,2061.7 1480.5,2061.9 1480.8,2062.1 1481.1,2062.3 1481.4,2062.5 1481.7,2062.7 1482,2062.9 1482.3,2063.1 1482.6,2063.4 1482.9,2063.6 1483.2,2063.8 1483.5,2064 1483.8,2064.2 1484.1,2064.4 1484.4,2064.6 1484.7,2064.8 1485,2065.1 1485.3,2065.3 1485.7,2065.5 1486,2065.7 1486.3,2065.9 1486.6,2066.1 1486.9,2066.3 1487.2,2066.5 1487.5,2066.6 1487.8,2066.8 1488.1,2067 1488.4,2067.1 1488.7,2067.3 1489,2067.5 1489.3,2067.6 1489.6,2067.8 1489.9,2068 1490.2,2068.2 1490.5,2068.3 1490.8,2068.5 1491.1,2068.7 1491.4,2068.8 1491.7,2069 1492,2069.2 1492.3,2069.3 1492.6,2069.5 1492.9,2069.7 1493.2,2069.9 1493.5,2070 1493.8,2070.2 1494.2,2070.4 1494.5,2070.5 1494.8,2070.7 1495.1,2070.9 1495.4,2071 1495.7,2071.2 1496,2071.4 1496.3,2071.6 1496.6,2071.7 1496.9,2071.9 1497.2,2072.1 1497.5,2072.2 1497.8,2072.4 1498.1,2072.6 1498.4,2072.7 1498.7,2072.9 1499,2073 1499.3,2073.2 1499.6,2073.3 1499.9,2073.4 1500.2,2073.6 1500.5,2073.7 1500.8,2073.8 1501.1,2074 1501.4,2074.1 1501.7,2074.2 1502,2074.4 1502.3,2074.5 1502.7,2074.6 1503,2074.8 1503.3,2074.9 1503.6,2075 1503.9,2075.2 1504.2,2075.3 1504.5,2075.4 1504.8,2075.6 1505.1,2075.7 1505.4,2075.8 1505.7,2076 1506,2076.1 1506.3,2076.2 1506.6,2076.4 1506.9,2076.5 1507.2,2076.6 1507.5,2076.8 1507.8,2076.9 1508.1,2077 1508.4,2077.2 1508.7,2077.3 1509,2077.4 1509.3,2077.6 1509.6,2077.7 1509.9,2077.8 1510.2,2078 1510.5,2078.1 1510.9,2078.2 1511.2,2078.3 1511.5,2078.4 1511.8,2078.5 1512.1,2078.6 1512.4,2078.7 1512.7,2078.8 1513,2078.9 1513.3,2079 1513.6,2079.1 1513.9,2079.2 1514.2,2079.3 1514.5,2079.4 1514.8,2079.5 1515.1,2079.5 1515.4,2079.6 1515.7,2079.7 1516,2079.8 1516.3,2079.9 1516.6,2080 1516.9,2080.1 1517.2,2080.2 1517.5,2080.3 1517.8,2080.4 1518.1,2080.5 1518.4,2080.6 1518.7,2080.7 1519,2080.8 1519.4,2080.9 1519.7,2081 1520,2081.1 1520.3,2081.2 1520.6,2081.3 1520.9,2081.4 1521.2,2081.5 1521.5,2081.6 1521.8,2081.7 1522.1,2081.8 1522.4,2081.9 1522.7,2082 1523,2082.1 1523.3,2082.1 1523.6,2082.2 1523.9,2082.3 1524.2,2082.4 1524.5,2082.5 1524.8,2082.6 1525.1,2082.6 1525.4,2082.7 1525.7,2082.8 1526,2082.9 1526.3,2083 1526.6,2083.1 1526.9,2083.2 1527.2,2083.2 1527.6,2083.3 1527.9,2083.4 1528.2,2083.5 1528.5,2083.6 1528.8,2083.7 1529.1,2083.8 1529.4,2083.8 1529.7,2083.9 1530,2084 1530.3,2084.1 1530.6,2084.2 1530.9,2084.3 1531.2,2084.3 1531.5,2084.4 1531.8,2084.5 1532.1,2084.6 1532.4,2084.7 1532.7,2084.8 1533,2084.9 1533.3,2084.9 1533.6,2085 1533.9,2085.1 1534.2,2085.2 1534.5,2085.3 1534.8,2085.3 1535.1,2085.4 1535.4,2085.4 1535.7,2085.5 1536.1,2085.6 1536.4,2085.6 1536.7,2085.7 1537,2085.8 1537.3,2085.8 1537.6,2085.9 1537.9,2085.9 1538.2,2086 1538.5,2086.1 1538.8,2086.1 1539.1,2086.2 1539.4,2086.2 1539.7,2086.3 1540,2086.4 1540.3,2086.4 1540.6,2086.5 1540.9,2086.5 1541.2,2086.6 1541.5,2086.7 1541.8,2086.7 1542.1,2086.8 1542.4,2086.8 1542.7,2086.9 1543,2087 1543.3,2087 1543.6,2087.1 1543.9,2087.1 1544.2,2087.2 1544.6,2087.3 1544.9,2087.3 1545.2,2087.4 1545.5,2087.5 1545.8,2087.5 1546.1,2087.6 1546.4,2087.6 1546.7,2087.7 1547,2087.8 1547.3,2087.8 1547.6,2087.9 1547.9,2087.9 1548.2,2088 1548.5,2088.1 1548.8,2088.1 1549.1,2088.2 1549.4,2088.2 1549.7,2088.2 1550,2088.3 1550.3,2088.3 1550.6,2088.4 1550.9,2088.4 1551.2,2088.5 1551.5,2088.5 1551.8,2088.6 1552.1,2088.6 1552.4,2088.6 1552.8,2088.7 1553.1,2088.7 1553.4,2088.8 1553.7,2088.8 1554,2088.9 1554.3,2088.9 1554.6,2089 1554.9,2089 1555.2,2089 1555.5,2089.1 1555.8,2089.1 1556.1,2089.2 1556.4,2089.2 1556.7,2089.3 1557,2089.3 1557.3,2089.4 1557.6,2089.4 1557.9,2089.5 1558.2,2089.5 1558.5,2089.5 1558.8,2089.6 1559.1,2089.6 1559.4,2089.7 1559.7,2089.7 1560,2089.8 1560.3,2089.8 1560.6,2089.9 1560.9,2089.9 1561.3,2089.9 1561.6,2090 1561.9,2090 1562.2,2090.1 1562.5,2090.1 1562.8,2090.2 1563.1,2090.2 1563.4,2090.3 1563.7,2090.3 1564,2090.3 1564.3,2090.4 1564.6,2090.4 1564.9,2090.5" fill="none" stroke="#2b7bbd" stroke-width="1.0" />
<polyline points="1314.4,2084.5 1314.7,2081.5 1315,2077.6 1315.3,2072.8 1315.6,2067.3 1315.9,2061.8 1316.2,2056.4 1316.5,2050.9 1316.8,2045.4 1317.1,2040 1317.4,2034.5 1317.7,2029 1318.1,2023.4 1318.4,2017.8 1318.7,2012 1319,2006.2 1319.3,2000.3 1319.6,1994.4 1319.9,1988.6 1320.2,1982.7 1320.5,1976.8 1320.8,1971 1321.1,1965.1 1321.4,1959.5 1321.7,1954.2 1322,1949.3 1322.3,1944.8 1322.6,1940.6 1322.9,1936.6 1323.2,1932.5 1323.5,1928.5 1323.8,1924.4 1324.1,1920.4 1324.4,1916.3 1324.7,1912.3 1325,1908.5 1325.3,1905 1325.6,1901.7 1325.9,1898.8 1326.2,1896.1 1326.6,1893.5 1326.9,1890.9 1327.2,1888.2 1327.5,1885.6 1327.8,1883 1328.1,1880.3 1328.4,1877.7 1328.7,1875.3 1329,1873.2 1329.3,1871.2 1329.6,1869.5 1329.9,1868" fill="none" stroke="#2b86c8" stroke-width="3.0" />
</g>
<text transform="translate(1223 1839.9) scale(1 1.08)" font-size="27.5" text-anchor="start" font-weight="bold">1260</text>
<text transform="translate(1223 1916.3) scale(1 1.08)" font-size="27.5" text-anchor="start" font-weight="bold">1240</text>
<text transform="translate(1223 1994.6) scale(1 1.08)" font-size="27.5" text-anchor="start" font-weight="bold">1220</text>
<text transform="translate(1223 2073.4) scale(1 1.08)" font-size="27.5" text-anchor="start" font-weight="bold">1200</text>
<text transform="translate(1304 2144.9) scale(1 1.08)" font-size="27" text-anchor="middle" font-weight="bold">1.2</text>
<text transform="translate(1544.6 2144.9) scale(1 1.08)" font-size="27" text-anchor="middle" font-weight="bold">1.3</text>
</g>
<g id="legend">
<rect x="1512.9" y="1261" width="275.4" height="293.9" fill="#fff" stroke="#7d7d7d" stroke-width="1.3"/>
<line x1="1513.5" y1="1261" x2="1513.5" y2="1554.9" stroke="#8a8a8a" stroke-width="2.8" />
<line x1="1519.7" y1="1300.2" x2="1653" y2="1300.2" stroke="#3467f6" stroke-width="3.8" />
<text x="1652.5" y="1319.2" font-size="56" text-anchor="start" >real</text>
<line x1="1519.7" y1="1371.6" x2="1653" y2="1371.6" stroke="#1c95b4" stroke-width="5.4" />
<text x="1652.5" y="1390.6" font-size="56" text-anchor="start" >EKF</text>
<line x1="1519.7" y1="1443.5" x2="1653" y2="1443.5" stroke="#fdb02c" stroke-width="4.0" />
<text x="1652.5" y="1462.5" font-size="56" text-anchor="start" >MHE</text>
<line x1="1519.7" y1="1515.2" x2="1653" y2="1515.2" stroke="#fb8208" stroke-width="4.0" />
<text x="1652.5" y="1534.2" font-size="56" text-anchor="start" >SMO</text>
</g>
<line x1="1789.8" y1="1376.8" x2="1789.8" y2="1560" stroke="#000" stroke-width="3.4" />
</svg>
</body>
</html>
